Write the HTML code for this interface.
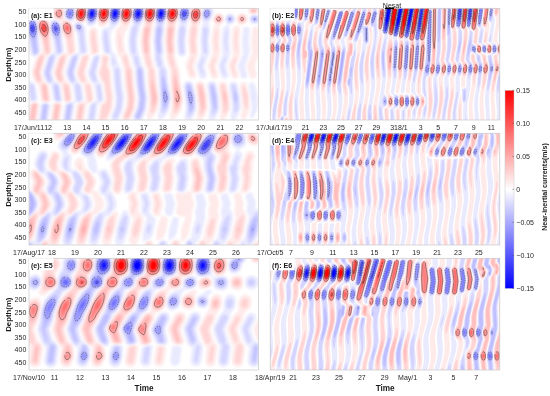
<!DOCTYPE html><html><head><meta charset="utf-8"><style>html,body{margin:0;padding:0;background:#fff;width:550px;height:396px;overflow:hidden}svg{display:block;filter:blur(0.35px)}text{font-family:"Liberation Sans", Arial, sans-serif}</style></head><body>
<svg width="550" height="396" viewBox="0 0 550 396">
<defs>
<linearGradient id="cb" x1="0" y1="0" x2="0" y2="1"><stop offset="0" stop-color="#ff0000"/><stop offset="0.5" stop-color="#ffffff"/><stop offset="1" stop-color="#0000ff"/></linearGradient>
<clipPath id="clipa"><rect x="29.00" y="8.30" width="229.60" height="111.70"/></clipPath>
<clipPath id="clipb"><rect x="270.20" y="8.30" width="229.60" height="111.70"/></clipPath>
<clipPath id="clipc"><rect x="29.00" y="133.30" width="229.60" height="111.70"/></clipPath>
<clipPath id="clipd"><rect x="270.20" y="133.30" width="229.60" height="111.70"/></clipPath>
<clipPath id="clipe"><rect x="29.00" y="258.30" width="229.60" height="111.70"/></clipPath>
<clipPath id="clipf"><rect x="270.20" y="258.30" width="229.60" height="111.70"/></clipPath>
<filter id="pb" x="-5%" y="-5%" width="110%" height="110%"><feGaussianBlur stdDeviation="0.80"/></filter>
<filter id="pbn" x="-5%" y="-5%" width="110%" height="110%"><feGaussianBlur stdDeviation="0.50"/></filter>
</defs>
<rect width="550" height="396" fill="#fff"/>
<g clip-path="url(#clipa)">
<g filter="url(#pb)"><path fill="#ffeaea" fill-rule="evenodd" d="M53.9,7.3 63.7,7.3 63.7,18.3 64.2,19.3 69,21.4 71.9,23.3 72.8,25.3 74.2,32.3 75.9,49.3 75.8,51.3 72,54.7 68.1,56.3 63.4,72.3 65.5,80.3 69,83.5 70.8,86.3 72.6,99.3 72.2,100.3 70.7,101.3 66,102.7 64,102.3 61.5,85.3 56,80.3 53.6,73.3 55.2,66.3 58.4,57.3 63,53.8 66,52.7 66.5,51.3 65.1,40.3 62.4,32.3 61.1,22.3 60.4,21.3 53,17.3 51.7,15.3 51.7,12.3ZM76.1,7.3 86.7,7.3 85.7,19.3 85,21.9 84,23.1 83,23.2 77,21.5 75.3,20.3 75,15.3ZM109.7,7.3 109,17 107.5,23.3 106.9,24.3 105,25.6 102,26.8 100,26.9 98.6,25.3 97.7,20.3 98.8,7.3ZM121.6,7.3 132.5,7.3 132,15.5 131,21.3 127,29.8 124.7,33.3 123.8,37.3 124,42.3 125.2,51.3 128,54.7 128.8,56.3 131.1,65.3 133,69.3 134.1,84.3 136,97.3 134.9,108.3 130.8,119.3 129.4,121.3 123.6,121.3 121.9,118.3 122.3,115.3 125.7,106.3 126.5,97.3 124.7,85.3 123.5,68.3 121.9,64.3 120,56.7 118,54.4 117,52.3 115.3,41.3 115.3,35.3 116,30.3 117,28.3 120,25.7 120.6,24.3 120.5,17.3ZM155.7,7.3 154.8,18.3 152.8,26.3 150.8,42.3 151.4,55.3 153.7,65.3 155.9,70.3 157.1,84.3 159,96.3 159.1,99.3 158.1,107.3 157,110.7 153,117.2 151,119.2 149,119.7 148,119.3 146.8,117.3 147,114.3 148.7,107.3 149.2,98.3 147.6,85.3 146.9,70.3 144.5,64.3 142.5,55.3 141.4,52.3 140.4,40.3 141.9,29.3 143.8,24.3 144,16.3 145,7.3ZM178.9,7.3 178.2,17.3 176,25.3 175.9,30.3 174.7,39.3 175.4,51.3 175,55.3 177.3,65.3 178.9,68.3 179.4,70.3 181,85.1 183.2,99.3 181.7,108.3 180.6,111.3 177.9,115.3 175,118.6 173,119.7 172,119.6 170.3,118.3 169.9,116.3 171.6,107.3 172.1,98.3 170.5,84.3 170,70.3 167.9,65.3 166.1,58.3 164.7,40.3 165.6,29.3 166.6,24.3 166.5,17.3 167.5,7.3ZM201.6,7.3 201.2,18.3 200.6,21.3 198.6,26.3 198.6,30.3 197.3,40.3 198,52.3 197,58.3 193.9,66.3 196.2,74.3 196.2,76.3 194.8,78.3 192,79 190,78.2 188.4,76.3 185.3,66.3 185.5,64.3 189.4,55.3 188,40.3 189,29.3 190.4,24.3 189.8,19.3 190.4,12.3 191.3,7.3ZM248,10.3 249.6,7.3 257.4,7.3 258.7,9.3 258.9,11.3 258.6,12.3 257,13.5 254,14.1 251,14.2 249,13.3 248.2,12.3ZM219,12.9 221,13.4 223,15 223.8,17.3 223.9,20.3 223,22.9 220.1,25.3 219.5,26.3 220.4,30.3 219.5,41.3 220.3,52.3 219,58.3 215.9,66.3 218.2,74.3 218.2,76.3 217,78.3 215,79 212.2,78.3 211,77.1 207.5,66.3 207.9,64.3 212.5,53.3 211.5,41.3 211.9,35.3 212.9,28.3 215.2,25.3 213.2,21.3 213.2,18.3 215,14.6 217,13.3ZM244,13.4 246,14.6 247.1,16.3 247.6,18.3 247.3,21.3 246,23.1 244,24.3 241,25 239,24.8 238,23.8 236.8,21.3 236.6,18.3 237,16.3 238,14.7 240,13.4 242,13ZM42,15.4 44,15.5 46,16.5 47.9,18.3 48.8,20.3 52.1,49.3 51.9,51.3 51.4,52.3 46,57.2 41.4,72.3 41.6,74.3 43.5,80.3 48.5,85.3 49.2,87.3 51,100.3 50.8,101.3 48.9,102.3 43,101.7 41.8,101.3 40.9,100.3 38.5,85.3 36,83.1 33.4,79.3 31.5,73.3 32.5,68.3 35.5,59.3 42.3,51.3 41.1,41.3 38.6,31.3 37.9,23.3 38.2,19.3 38.9,17.3 40,16.1ZM238,25.7 239.7,27.3 240.4,29.3 239.6,41.3 240.4,52.3 239.2,58.3 236.1,66.3 238.4,74.3 238.5,76.3 237.4,78.3 235,79 233,78.5 231.7,77.3 228.3,66.3 228.7,64.3 232.7,54.3 231.6,41.3 232.7,29.3 234,26.8 236,25.8ZM256,26.6 258,27.4 258.8,28.3 259.4,30.3 258.4,41.3 259.4,51.3 259,53.3 257.9,55.3 257.7,58.3 254.6,66.3 256.6,73.3 256.6,76.3 255,78.3 253,78.8 251,78.2 250,77.2 246.8,66.3 247.2,64.3 252,53.3 251.2,41.3 252.2,29.3 253.3,27.3ZM94,27.3 96,27.8 97.3,29.3 99.6,51.3 99.2,52.3 97.7,53.3 94,54.7 92,54.9 90.5,54.3 88.9,40.3 88.8,33.3 89.8,29.3 92,27.7ZM89,54.1 89.6,54.3 90,55.2 89.9,57.3 86,70.3 85.6,73.3 88,81.1 90.6,83.3 92.1,85.3 94.1,99.3 93.6,100.3 91,102.5 86.7,104.3 84,121.3 74.9,121.3 74.7,118.3 76.6,105.3 77.3,104.3 78.9,103.3 85,101.5 85.5,100.3 83.5,85.3 78.6,80.3 76.5,74.3 76.5,71.3 81.5,56.3 86,54.2ZM102,53.6 108,55.2 109.2,56.3 108.7,65.3 110.7,70.3 111.8,85.3 113.6,97.3 112.5,108.3 108.2,119.3 106.6,121.3 98.1,121.3 97.9,119.3 100,105.3 104.6,101.3 105.2,99.3 103.4,85.3 102.6,83.3 100.4,80.3 98.2,73.3 100.6,63.3 101,55ZM200,81.1 203.3,82.3 204.6,84.3 207,96.3 207.8,107.3 207,111.1 203.6,118.3 202,120.1 200,120.8 199,120.7 197.1,119.3 196.4,117.3 198.1,107.3 195.4,85.3 195.9,83.3 197,82ZM222,81.5 225.5,82.3 226.9,84.3 229.3,96.3 230.2,107.3 229.7,110.3 226.5,117.3 225,119.4 223,120.3 221,119.7 220,118.6 219.6,117.3 221.2,107.3 218.6,86.3 219.1,83.3 220,82.3ZM243,82 245.1,82.3 246,82.9 246.7,84.3 249.2,96.3 249.9,107.3 249,111.2 246,118.1 244,119.7 242,119.2 240.9,117.3 242.5,107.3 239.8,86.3 240.5,83.3ZM38.5,102.3 39.1,103.3 39.2,105.3 37.1,121.3 28,121.3 28,111.1 29.4,104.3 30.5,103.3 34,102.2 37,101.9ZM54,102.7 60,103 61.2,103.3 62.4,104.3 60.2,121.3 50.8,121.3 50.6,118.3 52.5,104.3 52.9,103.3Z"/><path fill="#ffd4d4" fill-rule="evenodd" d="M57,7.3 61.7,7.3 63,9.6 63.3,12.3 62.9,16.3 62,19 61,19.6 59,19.5 56.2,18.3 54.9,17.3 53.7,15.3 53.5,13.3 54,11.3 55.1,9.3ZM77.1,7.3 86,7.3 86.3,11.3 85.6,17.3 84.7,20.3 83,22 81,22 78,21.1 76.5,20.3 75.9,19.3 75.4,17.3 75.6,13.3ZM109,7.3 109,14.3 107.7,20.3 106.5,22.3 105,23.7 103,24.4 101,23.9 99,21.4 98.2,18.3 98.4,12.3 99.7,7.3ZM131.7,7.3 131.9,13.3 130.8,19.3 128,23.5 126,25 125,25.1 123,23.7 121.6,21.3 121.1,19.3 121.1,13.3 122.4,7.3ZM145.8,7.3 155,7.3 155.2,9.3 155,14.6 154.1,19.3 150.5,25.3 150.7,30.3 148.9,40.3 149.7,51.3 148.9,55.3 151.2,63.3 151,67.3 153,68.7 153.7,70.3 155.4,84.3 157.9,98.3 156,108.3 154,111.4 152,113 151,113 150.5,111.3 150.7,98.3 149.4,85.3 149.1,71.3 149.7,68.3 147.1,65.3 145.3,58.3 145.1,55.3 143.3,52.3 142.3,42.3 143.3,29.3 146.2,24.3 144.7,20.3 144.3,17.3 144.8,11.3ZM168.3,7.3 177.9,7.3 178.4,10.3 177.4,18.3 176,21.2 173.7,24.3 173.5,25.3 174.4,29.3 172.9,40.3 173.7,51.3 172.3,55.3 174.6,64.3 174.2,67.3 176,68.5 177,70.4 179,84.3 181.8,98.3 180.7,104.3 179.2,109.3 177,112.2 175,113.7 173.6,113.3 173.2,111.3 173.3,98.3 172.1,81.3 172.3,71.3 172.9,68.3 172.4,67.3 171,66.5 170.3,65.3 168.4,57.3 168.7,55.3 167.2,51.3 166.4,42.3 167,29.3 168.8,24.3 167.2,20.3 166.9,17.3 167.3,11.3ZM199.9,7.3 201,11.3 200.5,18.3 199,21.6 194.9,25.3 196.5,29.3 195,40.3 195.7,51.3 195,53.5 194,54.2 193,54.2 191.9,53.3 191.1,51.3 190.3,40.3 190.9,29.3 192,27.1 194,25.3 191.4,21.3 190.7,19.3 190.7,13.3 191.3,10.3 192.7,7.3ZM249.8,10.3 251.2,8.3 254,7.5 255,7.8 256.8,9.3 257.2,11.3 256.6,12.3 255,13.2 252,13.3 250.3,12.3ZM217,14.9 220,14.8 222,16.3 222.6,17.3 222.9,19.3 222.3,21.3 220,23.2 217,23.2 215.6,22.3 214.4,20.3 214.7,17.3ZM240,15.3 243,14.9 245,16 245.8,17.3 246,20.3 244,22.7 241,23.1 238.5,21.3 237.9,18.3 238.8,16.3ZM42,17.9 45,18.5 47,20.2 48.2,22.3 49.1,26.3 49.5,31.3 49.1,40.3 50.3,51.3 49.3,53.3 47,54.6 45.8,54.3 44.9,53.3 42.6,40.3 39.7,33.3 38.8,29.3 38.4,24.3 38.8,21.3 40,19ZM64,21 67,21.3 69.2,22.3 71.3,24.3 72.4,27.3 72.8,30.3 72.5,39.3 73.9,51.3 73,52.8 71,53.9 70,53.7 69,52.3 67,39.3 63.6,33.3 62.6,30.3 62.1,26.3 62.3,23.3 63,21.6ZM93,30 94,30.7 95,34.2 97.1,50.3 96.7,52.3 95,53.4 93.7,53.3 92.8,52.3 91.3,41.3 91.3,33.3 92,30.6ZM216,29.9 217,30 217.3,31.3 216.4,41.3 217.2,51.3 217,52 216,52.1 214.7,41.3 215,35.7ZM236,29.9 237,30 237.3,31.3 236.4,41.3 237.2,51.3 237,52 236,52.1 234.7,41.3 235,35.7ZM119,31.6 120,34.8 121.7,51.3 121,52.4 120,51.3 118.8,42.3 118.5,36.3ZM42,54.3 43.9,55.3 44.3,57.3 39.9,72.3 41.8,80.3 41,82.2 39,82.8 37,81.9 36,80.3 33.8,74.3 33.7,72.3 38,58.3 40,55.1ZM64,54.7 65.2,55.3 65.8,57.3 61.4,72.3 63.3,80.3 62.2,82.3 61,82.7 59,81.8 57.6,80.3 55.4,74.3 55.2,72.3 59.5,58.3 62,55.3ZM86.1,55.3 87.7,56.3 87.7,58.3 83.4,72.3 85.3,80.3 84,82.2 83,82.4 81,81.3 80.4,80.3 78.2,74.3 78,72.3 82.7,57.3 84,56ZM107,56.2 108,57 108.1,58.3 105.8,66.3 106,67.3 108,68.9 108.6,70.3 109.6,84.3 111.5,99.3 110.5,108.3 109,112.1 106,118.2 102,120.8 100.9,120.3 100.3,118.3 101.9,106.3 103,104.2 106,103.3 106.9,98.3 104.9,83.3 102,78.6 100.5,74.3 100.3,72.3 103,63.3 102.9,57.3ZM125,55.4 126.3,56.3 128.2,63.3 128.3,66.3 130.7,68.3 131.5,70.3 132.4,84.3 134.4,98.3 133.1,109.3 129.1,118.3 127,119.8 125,119.4 123.7,117.3 124,115.3 127.4,107.3 128.4,98.3 126.6,85.3 125.6,70.3 126.4,67.3 124.9,65.3 123,57.3 124,55.5ZM193,56.7 193.9,57.3 190.7,66.3 193,74.3 192,75.3 191,73.8 188.7,66.3 190,62.2 192,57.9ZM215,56.8 216,57.2 215.9,58.3 213.3,64.3 212.8,66.3 215.1,74.3 215,74.9 214,75.3 213,73.5 210.8,66.3 211,64.9 213,60.2ZM236,56.7 236.3,58.3 233.3,66.3 235.5,74.3 235,75.4 233.8,74.3 231.3,66.3 232,63.6 235,57.2ZM43,83 45,83.3 46,84.1 47.3,86.3 49.1,100.3 48,101.4 44.3,101.3 43,100.3 42.6,99.3 40.8,86.3 41.3,84.3ZM66,83.2 68,84.2 69,86.3 70.7,98.3 70.3,100.3 68.7,101.3 67,101.6 65.8,101.3 65.2,100.3 63.2,86.3 64,83.9ZM200,83.2 202,84.1 203.1,86.3 205.4,96.3 205.9,108.3 205,110.8 203,113.9 201,115.7 200,115.3 199.5,113.3 199.8,107.3 197.1,86.3 198,84.1ZM88,83.9 89.1,84.3 90.3,86.3 92.1,98.3 91.8,100.3 90,101.7 89,101.7 87.8,100.3 85.9,87.3 86,85.3 87,84.2ZM223,83.9 224,84.3 224.9,85.3 227.9,96.3 228.4,107.3 228,109.3 226,112.5 224,113.9 223,112.3 223,107.3 220.6,87.3 221,85 222,84.1ZM244,85.7 245,87 246,89.7 248,97.3 247.7,106.3 247,108.6 246,109.2 244,102.9 242.8,95.3 242.5,87.3 243,85.8ZM36,102.8 37.1,103.3 37.8,105.3 35.2,121.3 29.8,121.3 29.2,118.3 31,105.3 31.4,104.3 32.7,103.3ZM59,103.6 60.3,104.3 60.6,106.3 58.4,120.3 58,121.3 53,121.3 52.4,118.3 54.5,104.3 56,103.3ZM83,103.1 84,104.1 84.3,105.3 82.3,119.3 81.5,121.3 77.4,121.3 76.5,118.3 78.5,105.3 79.2,104.3 80.9,103.3Z"/><path fill="#ffbfbf" fill-rule="evenodd" d="M59,8.3 60,8.3 61.6,9.3 62.6,12.3 62,16.5 61,18 60,18.5 58,18.3 56.3,17.3 55.4,16.3 54.7,14.3 54.9,12.3 55.9,10.3 57,9.1ZM78,7.3 85.3,7.3 85.9,10.3 85.7,15.3 84.5,19.3 83,21 81,21.3 79,20.9 77,19.7 76.2,18.3 75.8,15.3 76.1,12.3ZM108.2,7.3 108.9,12.3 107.9,18.3 107,20.2 105,22.1 103,22.7 102,22.6 100,21.1 98.8,18.3 98.6,13.3 99.5,9.3 100.5,7.3ZM130.8,7.3 131.7,12.3 130.6,18.3 128,21.8 126,22.8 124,22.4 122,20.2 121.3,17.3 121.7,11.3 123,7.5ZM154.2,7.3 154.9,12.3 153.9,18.3 153,20.2 151,22.2 149,22.9 148,22.7 146,21 144.9,18.3 144.8,13.3 145.7,9.3 146.6,7.3ZM177,7.3 177.7,9.3 178,12.3 176.8,18.3 175,21 173,22.5 171,23 170,22.6 168,20.3 167.2,17.3 167.5,12.3 169.1,7.3ZM198.2,7.3 200.2,10.3 200.3,16.3 199.4,19.3 198,21.2 197,22 195,22.6 193,21.6 191.4,19.3 190.9,16.3 191.3,12.3 192,10.1 194,7.5ZM251,10.3 252,9 254,8.7 255.3,9.3 256,10.3 256,11.3 255,12.3 253,12.7 251.8,12.3 251,11.3ZM217,16 219,15.6 220.6,16.3 221.5,17.3 221.9,18.3 221.7,20.3 220,22.1 218,22.4 217,22 215.5,20.3 215.3,18.3ZM240,16.6 242,15.9 243.5,16.3 244.6,17.3 245.1,19.3 244,21.4 242,22.1 239.9,21.3 238.9,19.3 239,18.2ZM42,19.4 44,19.5 46.5,21.3 48,24.1 48.8,27.3 48.8,32.3 47.2,41.3 48.2,51.3 48,52 47,52.2 44.5,40.3 40.5,33.3 39.2,29.3 38.9,25.3 39.4,22.3 40.5,20.3ZM65,22 67,22 69,23 70.3,24.3 71.3,26.3 71.8,28.3 71.8,31.3 70,37.8 69,37.9 65,33.8 63.2,30.3 62.8,27.3 63,24.4 64,22.5ZM147,27.2 148,27.3 148.9,28.3 149.1,30.3 147.3,40.3 148,51.3 147,53.2 146,53.2 144.8,51.3 143.9,40.3 144.7,29.3 146,27.6ZM171,26.7 172,27.2 172.7,28.3 173,30.3 171.3,40.3 172,51.3 171,53.2 170,53.2 168.8,51.3 168,42.3 168.2,30.3 169,27.8 170,26.9ZM41,56.8 42,57.1 42,58.3 37.8,72.3 39.5,79.3 39,80.4 38,79.7 36,74.3 35.8,72.3 39,61.4ZM63,56.8 63.5,57.3 63.4,58.3 59.3,72.3 59.4,74.3 61.1,79.3 61,79.9 60,80.3 58,75.9 57.4,72.3 62,57.4ZM129,69.9 132.3,99.3 131,109.2 127,117.3 125.9,116.3 129.6,107.3 130.5,99.3 128,77.3 127.8,70.3ZM175,75.2 176,77.2 180.7,97.3 180.4,100.3 179,105.2 177.3,108.3 176,108.8 174.7,104.3 173.7,88.3 174,78.6ZM152,78.7 153,81.4 156.6,97.3 156,101.5 154,106.5 153,106.3 152.2,101.3 151.2,85.3ZM44,84.8 45,85.2 45.6,86.3 47.4,99.3 47.1,100.3 46,100.6 44.9,100.3 44.3,99.3 42.7,88.3 42.9,85.3ZM66,85.7 67,86.7 68.6,98.3 68.6,99.3 68,99.9 67,99.3 65.3,87.3ZM200,85.6 201,86.2 202,88.8 204.1,97.3 204.2,107.3 203,109.5 202,109.1 199.9,97.3 199.1,87.3ZM224,90.9 225,92.7 226.3,97.3 226,104.4 225,104.6 223.2,96.3 223.2,92.3ZM35,103.8 36,104.4 36.2,106.3 34.5,118.3 33.6,120.3 33,120.8 32,120.8 31,119.7 30.7,118.3 32.4,106.3 33.2,104.3ZM58,104.3 58.9,105.3 57.2,118.3 56,120.3 55,120.3 54,118.3 56,105.1 56.9,104.3ZM82,105.2 82,107.7 80,119.1 79,119.3 78.7,117.3 80,107.9 80.7,105.3Z"/><path fill="#ffaaaa" fill-rule="evenodd" d="M79,7.3 84.4,7.3 85.4,9.3 85.6,13.3 85,17 84,19.2 82,20.6 80,20.6 78,19.7 76.4,17.3 76.2,14.3 76.7,11.3ZM107.4,7.3 108.6,11.3 107.9,17.3 107,19.1 105,21.1 103,21.6 102,21.4 100,19.7 99,17.3 99,13.3 99.6,10.3 101.4,7.3ZM130,7.3 131,9.3 131.3,11.3 130.5,17.3 129.5,19.3 128,20.8 125,21.6 123,20.3 121.9,18.3 121.6,14.3 122.3,10.3 124,7.3ZM153.4,7.3 154.6,11.3 153.9,17.3 153,19.1 151,21.1 149,21.6 148,21.4 146,19.6 145.1,17.3 145,14.3 145.7,10.3 147.5,7.3ZM176,7.3 177.1,9.3 177.5,11.3 177.5,14.3 176.7,17.3 175.5,19.3 174,20.8 172,21.6 170,21.2 168.2,19.3 167.6,17.3 167.6,13.3 168.6,9.3 169.9,7.3ZM196,7.9 198,8.5 199,9.4 199.8,11.3 200.1,14.3 199.5,17.3 198.6,19.3 197,21 195,21.5 193,20.4 192,18.9 191.4,14.3 192,11.4 193,9.6 194,8.7ZM59,9.5 61.1,10.3 62,13.3 61,16.5 59,17.5 56.6,16.3 55.7,14.3 56.4,11.3 58,9.8ZM252.4,10.3 254,9.9 254.6,10.3 254.5,11.3 253,11.6 252.4,11.3ZM217,17.1 219,16.6 220.4,17.3 221.1,19.3 220,21 218,21.4 216.5,20.3 216.2,18.3ZM241,17.1 243,17.1 244,18.3 244,19.6 243,20.9 242,21.1 240.3,20.3 240,18.3ZM42,20.6 44,20.6 46,22 48.1,26.3 48.5,29.3 48.2,32.3 47,35.9 46,37.2 45,37.3 43,35.6 41,32.9 39.9,30.3 39.5,24.3 40.1,22.3ZM66,22.7 68,23.1 69,23.9 70.9,27.3 70.9,31.3 70,33.6 69,34.5 68,34.6 66,33.4 64.3,31.3 63.5,29.3 63.3,26.3 63.8,24.3 65,23ZM170.4,30.3 171,30 171,30.6ZM176,87.3 177,88.5 178,91 179.7,97.3 179,101.2 178,103.4 177,104.2 176,102.8 175.3,97.3 175.2,90.3ZM154,96.4 154.3,97.3 154,98.4Z"/><path fill="#ff9595" fill-rule="evenodd" d="M80.2,7.3 83.3,7.3 84.9,9.3 85.4,11.3 85.3,14.3 84.5,17.3 83,19.4 81,20.1 78,19 76.9,17.3 76.6,15.3 76.8,12.3 77.5,10.3ZM106.4,7.3 108.2,10.3 108.3,13.3 107.8,16.3 107,18.3 105,20.3 103,20.7 102,20.5 100.5,19.3 99.5,17.3 99.2,14.3 99.7,11.3 101,8.7 102.5,7.3ZM128.9,7.3 130.4,9.3 131,11.3 130.5,16.3 129.6,18.3 128,20 126,20.7 125,20.7 123,19.3 122.1,17.3 121.9,14.3 122.3,11.3 123.2,9.3 125,7.3ZM152.4,7.3 154.2,10.3 154.3,13.3 153.8,16.3 153,18.3 151,20.3 149,20.7 148,20.5 146.5,19.3 145.6,17.3 145.3,14.3 145.8,11.3 147,8.8 148.6,7.3ZM174.9,7.3 176.5,9.3 177.1,11.3 176.6,16.3 175.6,18.3 174,19.9 171,20.7 169,19.4 168,17.3 167.8,14.3 168.3,11.3 169.1,9.3 170.9,7.3ZM196,8.8 197.7,9.3 198.8,10.3 199.5,12.3 199.6,14.3 199,17.3 198,19.1 197,20.1 195,20.6 194,20.2 192.4,18.3 191.8,14.3 193,10.6 194,9.5ZM59,10.8 60.4,11.3 61.1,13.3 60.6,15.3 59,16.4 57.1,15.3 56.7,13.3 57.8,11.3ZM217.1,19.3 217.3,18.3 218,17.7 219,17.6 219.9,18.3 220.1,19.3 219,20.4 218,20.4ZM242,18.2 242.6,19.3 242,19.7 241.4,19.3ZM43,21.4 45,22.1 46,23.1 47.2,25.3 47.9,28.3 47.8,31.3 47,33.7 46,35.1 45,35.5 44,35.1 42,33.2 40.8,31.3 39.9,28.3 39.9,25.3 40.5,23.3 42,21.6ZM66,23.5 68.4,24.3 70.3,27.3 70.5,29.3 70.1,31.3 69,32.8 68,33.1 67,32.9 65.1,31.3 64,28.7 64.2,25.3 65,24.1ZM177,95.1 178,96 178.3,97.3 178,99.4 177,99.4 176.7,98.3Z"/><path fill="#ff8080" fill-rule="evenodd" d="M82,7.6 84,8.8 84.8,10.3 85,14.4 84.1,17.3 83,18.8 82,19.4 80,19.5 78,18.3 77.4,17.3 77,13.3 77.5,11.3 78.7,9.3 80,8.2ZM105,7.5 107,8.8 107.8,10.3 108,14.3 107.1,17.3 106,18.8 105,19.6 103,20 101,19 100,17.5 99.6,13.3 100.1,11.3 101.2,9.3 103,7.8ZM127,7.4 129,8.3 130,9.5 130.6,11.3 130.6,14.3 129,18.3 127,19.8 125,19.9 123.8,19.3 122.5,17.3 122.2,13.3 123,10.5 124,8.9 126,7.5ZM151,7.5 153,8.8 153.8,10.3 154,14.3 153.1,17.3 152,18.8 151,19.6 149,20 147,19 146,17.3 145.7,13.3 147.2,9.3 149,7.8ZM174,7.6 176,9.4 176.7,11.3 176.8,14.3 176.2,16.3 175,18.3 173,19.8 171,20 169.7,19.3 168.4,17.3 168.2,13.3 169,10.3 170,8.9 172,7.5ZM196,9.5 197.9,10.3 198.6,11.3 199.2,14.3 197.9,18.3 197,19.3 195,19.8 193,18.3 192.3,16.3 192.2,14.3 193.2,11.3 194,10.3ZM58.3,14.3 58.1,13.3 59,12.4 59.9,13.3 59.6,14.3 59,14.7ZM43,22.3 45.2,23.3 46.6,25.3 47.3,27.3 47.5,29.3 47,32 46,33.7 45,34.2 44,34 42,32.2 40.4,28.3 40.7,24.3 42,22.6ZM66,24.4 68,24.8 69.6,27.3 69.6,30.3 69,31.4 68,31.9 66,31.2 64.8,29.3 64.6,26.3Z"/><path fill="#ff6a6a" fill-rule="evenodd" d="M105,8.2 106,8.6 107.4,10.3 107.7,14.3 107,16.6 106,18.2 105,19 103,19.4 102,19.1 100.4,17.3 99.9,13.3 100.4,11.3 101.8,9.3 103,8.5ZM127,8.1 129,9 129.9,10.3 130.3,14.3 129.2,17.3 128,18.6 126,19.4 124,18.8 122.9,17.3 122.5,13.3 124,9.6 125,8.7ZM152,8.6 153.4,10.3 153.7,14.3 153,16.6 152,18.2 151,19 149,19.4 148,19.1 146.5,17.3 146,13.3 146.5,11.3 148,9.1 150,8.2ZM173,8.1 175,9 176,10.3 176.4,14.3 175.8,16.3 174.3,18.3 173,19.2 171,19.3 170,18.8 168.9,17.3 168.5,13.3 169,11.1 170,9.5 171,8.7ZM82,8.4 83,8.7 84.4,10.3 84.7,14.3 84,16.7 83,18.1 82,18.8 80,18.9 77.9,17.3 77.3,15.3 77.3,13.3 77.9,11.3 79,9.6 80,8.8ZM196,10.2 198,11.3 198.7,13.3 198.6,15.3 198,17.3 197,18.5 195,19.1 194,18.6 193,17.3 192.6,14.3 193.8,11.3ZM43,23.2 45,24 46.8,27.3 46.9,30.3 46,32.4 45,33.1 44,33 42.1,31.3 40.9,28.3 41,25.3 42,23.6ZM66,25.6 67,25.3 68,25.9 68.9,27.3 69.1,29.3 68,30.8 67,30.8 65.5,29.3 65.2,27.3Z"/><path fill="#ff5555" fill-rule="evenodd" d="M82,8.9 84,10.4 84.4,14.3 83,17.5 82,18.2 80,18.4 79,17.8 78,16.4 77.7,13.3 79,10.2 80,9.4ZM104,8.7 106,9.2 106.9,10.3 107.5,13.3 107,15.8 106,17.5 105,18.4 103,18.8 100.9,17.3 100.2,15.3 100.2,13.3 101.4,10.3ZM127,8.7 128,8.9 129.5,10.3 130.1,13.3 129,16.9 128,18 126,18.9 124.3,18.3 123.4,17.3 122.8,15.3 122.8,13.3 124,10.2 125,9.3ZM151,8.8 153,10.4 153.4,14.3 152,17.5 151,18.4 149,18.8 146.9,17.3 146.3,15.3 146.3,13.3 146.9,11.3 148,9.7 149,9ZM173,8.7 174,8.9 175.5,10.3 176.1,12.3 176.1,14.3 175.4,16.3 174,18 173,18.6 171,18.7 170,18.1 168.9,16.3 168.9,12.3 169.9,10.3 170.9,9.3ZM196,10.9 197,11.2 197.9,12.3 198.2,15.3 197,17.8 195,18.4 193.7,17.3 193.1,14.3 194,11.9ZM43,24.1 45,24.9 46.3,27.3 46.3,30.3 45,32 43,31.5 41.6,29.3 41.4,26.3 42,24.8ZM67,26.6 67.9,27.3 68.2,28.3 68,29.2 67,29.5 66.1,28.3 66.2,27.3Z"/><path fill="#ff4040" fill-rule="evenodd" d="M105,9.3 106,9.8 106.9,11.3 107.1,14.3 105.6,17.3 104,18.3 103,18.3 101,16.6 100.6,13.3 102,10.2 103,9.5ZM127,9.2 129,10.3 129.8,13.3 129,16.3 128,17.5 126,18.3 123.9,17.3 123.1,15.3 123.1,13.3 124.5,10.3ZM151,9.3 152,9.8 152.9,11.3 153.1,14.3 151.6,17.3 150,18.3 149,18.3 148,17.8 146.9,16.3 146.6,14.3 146.9,12.3 148,10.3 149,9.5ZM173,9.2 174.9,10.3 175.5,11.3 175.7,14.3 174,17.5 173,18.1 171,18.2 169.3,16.3 169,13.3 170.4,10.3 172,9.3ZM82,9.5 83,9.9 84,11.3 84,14.8 83,16.9 82,17.7 80,17.8 78.4,16.3 78.1,13.3 79.6,10.3ZM196,11.6 197,12.1 197.6,13.3 197.7,15.3 196.5,17.3 195,17.7 193.8,16.3 193.6,14.3 194.5,12.3ZM43,25.2 44.2,25.3 45.7,27.3 45.9,29.3 45,31 44,31.1 42.3,29.3 42,26.7Z"/><path fill="#ff2b2b" fill-rule="evenodd" d="M82,10 83.5,11.3 83.8,14.3 83,16.2 82,17.2 80,17.3 78.5,15.3 78.7,12.3 80,10.5ZM104,9.7 105.8,10.3 106.5,11.3 106.8,14.3 106,16.3 105,17.3 103,17.7 101.3,16.3 100.9,13.3 102,10.8ZM127,9.7 128,10 129,11.2 129.3,14.3 128,16.9 126,17.8 125,17.6 124,16.6 123.5,13.3 124,11.6 125,10.3ZM150,9.7 151.8,10.3 152.5,11.3 152.8,14.3 152,16.3 151,17.3 149,17.7 147.4,16.3 147,13.3 148,10.9ZM173,9.7 174,10.1 175.1,11.3 175.3,14.3 174,16.9 172,17.8 170,16.7 169.4,15.3 169.4,13.3 170,11.4 171,10.3ZM196,12.5 197,13.3 197.1,15.3 196,16.8 195,16.8 194.1,15.3 194.1,14.3 195,12.7ZM43,26.7 44,26.3 45,27.4 45.1,29.3 44,30.1 43,29.3Z"/><path fill="#ff1515" fill-rule="evenodd" d="M104,10.2 105,10.3 106.1,11.3 106.4,14.3 105,16.8 103,17.2 102,16.5 101.4,15.3 101.3,13.3 102.2,11.3ZM127,10.2 128.6,11.3 129,14.3 128,16.3 126,17.3 125,17 124,15.7 123.8,13.3 125,10.9ZM150,10.2 151,10.3 152.1,11.3 152.4,14.3 151,16.8 149,17.2 148,16.5 147.4,15.3 147.3,13.3 148.2,11.3ZM173,10.2 174.5,11.3 175,12.3 175,14.3 174,16.3 172,17.3 171,17 170,15.9 169.7,13.3 171,10.8ZM82,10.6 83,11.3 83.4,12.3 83.4,14.3 82.3,16.3 81,16.9 80,16.7 79,15.4 78.8,13.3 80,11.1ZM196,13.8 196,15.5 195,15.3 195,14.2Z"/><path fill="#ff0000" fill-rule="evenodd" d="M82,11.2 83,12.3 83,14.3 82,15.9 81,16.3 79.5,15.3 79.3,13.3 80,11.8 81,11.2ZM104,10.7 105.4,11.3 106.2,13.3 105.6,15.3 104,16.7 102.6,16.3 101.6,14.3 102,12.3 103,11.1ZM126,10.8 127,10.8 128,11.3 128.7,13.3 128,15.6 127,16.5 126,16.7 125,16.3 124.1,14.3 124.5,12.3ZM150,10.7 151.4,11.3 152.2,13.3 151.6,15.3 150,16.7 148.6,16.3 147.7,14.3 148,12.3 149,11.1ZM172,10.8 174,11.3 174.7,13.3 174,15.6 172,16.7 170.9,16.3 170,14.3 170.4,12.3Z"/><path fill="#eaeaff" fill-rule="evenodd" d="M65.3,7.3 75,7.3 74.2,18.3 73.8,20.3 73,21.5 69,20.6 66.1,19.3 65,18.3 64.4,15.3ZM97.9,7.3 97.3,17.3 95.7,23.3 94.9,24.3 93,25.5 90,26.4 87.7,26.3 86.6,24.3 86.3,20.3 87.4,7.3ZM110.4,7.3 120.9,7.3 120.3,16.3 119,22.5 117.2,25.3 111.4,31.3 110.6,35.3 110.9,41.3 112.2,51.3 112.6,52.3 115,54.1 115.8,55.3 118.8,65.3 120.5,67.3 121.4,69.3 122.6,85.3 124.4,97.3 123,109.3 119,119.3 117.3,121.3 112.8,121.3 111.7,120.3 110.8,118.3 111.3,115.3 114.5,107.3 115.5,98.3 113.6,85.3 112.5,69.3 110.5,64.3 110.4,56.3 110,55.3 109,54.5 104.7,53.3 102.9,51.3 101.3,40.3 101.4,33.3 102.4,29.3 105,27.5 108,27 109.3,26.3 109.3,17.3ZM133.3,7.3 144.2,7.3 143.2,19.3 140,28.3 137.8,37.3 137.4,42.3 138.5,53.3 140,56.3 142,64.5 144.6,69.3 145.8,85.3 147.6,98.3 146.5,109.3 142.5,119.3 141.1,121.3 134.3,121.3 133,118.3 133.4,115.3 136.9,106.3 137.6,97.3 135.7,84.3 134.6,68.3 133.1,64.3 131.1,56.3 128.8,51.3 127.9,41.3 129.7,29.3 132.1,24.3 132.3,16.3ZM166.8,7.3 166.2,16.3 164.3,25.3 164.2,30.3 163,40.3 163.8,52.3 162.8,56.3 164.8,65.3 166.7,68.3 167.3,70.3 168.7,84.3 170.8,96.3 170.9,99.3 169.4,108.3 168,111.8 166,115.1 163,118.6 161,119.7 160,119.6 159,119.1 157.9,117.3 158.1,114.3 159.8,107.3 160.2,98.3 158.7,84.3 158.1,70.3 155.6,65.3 153.9,58.3 154,53.3 153,40.3 154.1,29.3 155.3,24.3 155.3,17.3 156.4,7.3ZM190,7.3 189.6,15.3 189,19.1 187.1,25.3 187,30.3 185.7,40.3 186.3,53.3 185.2,55.3 184,56.2 181,56.6 179,55.5 177.7,53.3 176.6,41.3 177.6,29.3 179,24.3 178.7,17.3 179.9,7.3ZM212.2,7.3 213.5,10.3 213.5,13.3 211,19.6 208.8,23.3 208.7,24.3 210.1,29.3 209,41.3 209.8,52.3 204.7,66.3 207,75.3 206,77.8 205,78.6 203,79 201,78.5 199.6,77.3 196.2,66.3 196.6,64.3 201.1,53.3 200.1,40.3 201,29.2 202.9,23.3 202,17.8 202.2,12.3 203.3,7.3ZM231,13.5 233,14.4 234.6,16.3 235,20.3 234.2,22.3 233,23.5 228.5,25.3 230.3,29.3 229.5,41.3 230.3,52.3 229.2,58.3 226.2,66.3 228.5,74.3 228.5,76.3 227.2,78.3 225,79 223,78.6 221.4,77.3 218.1,66.3 218.5,64.3 222.6,54.3 221.6,41.3 222.7,29.3 224,26.8 227.4,25.3 225.4,21.3 225.3,17.3 226,15.4 227,14.4 229,13.5ZM250.1,16.3 251.8,15.3 254,14.9 257,14.8 258.4,15.3 260,17.2 259.8,21.3 257,23.8 254,24.2 252,23.8 250.2,22.3 249.5,20.3 249.4,18.3ZM32,15.5 34,15.7 35,16.4 36.7,19.3 40.4,50.3 39.8,52.3 38,54.8 36,56.5 34,57 32,56 30.3,53.3 28,40 28,17.4 30,16.1ZM53,19.3 58,21 60.3,23.3 64.1,49.3 64,51.3 63.4,52.3 61,54.3 57,56.5 52.1,72.3 52.3,74.3 54.8,81.3 59.2,84.3 60.4,86.3 62.2,100.3 62,101.3 60,102.1 55,101.5 53.3,100.3 50.8,85.3 48,83.4 45.1,80.3 42.7,73.3 44,67.5 47.5,57.3 51,53.9 53.8,52.3 54.3,51.3 53,41.3 50.8,32.3 50.2,26.3 50.6,21.3 52,19.5ZM78,22.4 80,22.9 82.5,24.3 84.6,26.3 85.7,28.3 86.5,40.3 87.8,50.3 87.4,52.3 85.9,53.3 79.9,55.3 74.9,72.3 75.1,74.3 77.4,81.3 80.8,84.3 81.9,86.3 83.7,99.3 83.4,100.3 81.9,101.3 79,102.4 77,102.8 75,102.4 72.3,121.3 62.9,121.3 62.7,118.3 64.6,105.3 65.2,104.3 67,103.3 71,102 74,102.1 74.7,101.3 72.6,85.3 67.7,80.3 65.8,75.3 65.3,72.3 67.5,64.3 70.1,57.3 74,54.2 78.5,52.3 78.6,50.3 76.9,34.3 74.8,29.3 74,25.3 74.2,23.3 75,22.6ZM247,26.5 249,27.4 249.8,29.3 249,41.3 249.8,51.3 247.9,58.3 244.9,66.3 247.2,74.3 247.3,76.3 246,78.2 244,78.8 242,78.2 241,77.1 237.9,66.3 242.9,53.3 242,41.3 243,29.3 244.3,27.3ZM99,54.3 99.9,56.3 99.6,60.3 96.6,73.3 98.9,81.3 101,83.5 102,85.3 103.9,99.3 103,101.3 98,104.7 95.5,121.3 87.3,121.3 87,118.3 88.8,106.3 90.2,104.3 95.9,100.3 96.1,99.3 94.2,85.3 90,80.3 87.8,74.3 87.7,72.3 92.3,57.3 95.1,55.3ZM188,80.8 190,81.1 192,82.2 193.3,84.3 195.8,96.3 196.5,106.3 196,110.2 193,117.4 191,120.3 189.2,121.3 187.8,121.3 186,120.3 185,119.2 184.4,117.3 185.8,107.3 183.4,86.3 183.6,84.3 184.8,82.3 186,81.4ZM212,81.1 215,82.1 216.5,84.3 218.8,96.3 219.6,107.3 219,110.5 215.6,118.3 214,120.1 212,120.8 211,120.7 209.1,119.3 208.3,117.3 209.9,107.3 207.2,86.3 207.3,84.3 208.6,82.3 210,81.4ZM30,81.6 32,81.5 33,82 35.1,84.3 36.1,86.3 37.9,99.3 37.4,100.3 35,101.3 31,101.8 29.3,101.3 28.7,100.3 28,96.7 28,82.6ZM233,81.5 236,82.2 237.5,84.3 239.9,96.3 240.7,106.3 240.5,109.3 238,115.5 236,119.1 234,120.3 232,119.9 231.2,119.3 230.3,117.3 232,107.3 229.2,86.3 230,83 231,82.1ZM251,82.4 253,82.7 254,83.3 255.2,85.3 257.5,95.3 257.8,99.3 257.6,109.3 254,116.6 252,118.6 251,118.6 250,117.3 251.7,107.3 248.7,86.3 249,83.7 250,82.7ZM42,102.9 48,103.1 50.2,104.3 50.4,106.3 48.2,121.3 39,121.3 39,117.4 40.8,104.3Z"/><path fill="#d4d4ff" fill-rule="evenodd" d="M66.9,7.3 73.8,7.3 74.4,10.3 74.1,15.3 73.4,18.3 72,20 70,20.1 68,19.4 66.1,18.3 65.4,17.3 65,15.3 65.2,12.3ZM97.1,7.3 97.4,13.3 96,19.9 95,21.6 93,23.4 91,24.2 89,23.7 87.3,21.3 86.8,18.3 87.1,12.3 88.1,7.3ZM120.1,7.3 120.3,13.3 119,20 118,21.8 116,23.9 114,24.8 113,24.7 111,22.8 109.8,19.3 109.9,13.3 111.1,7.3ZM143.3,7.3 143.6,13.3 142.5,19.3 141,22 137.5,25.3 137.1,26.3 137.3,29.3 135.7,35.3 135,40.3 135.6,52.3 135,53.9 134,54.4 132,53.4 131.4,52.3 130.3,41.3 131.5,29.3 132.8,27.3 135.3,25.3 132.8,19.3 132.7,15.3 133.2,10.3 134.1,7.3ZM157.1,7.3 166.1,7.3 166.3,9.3 165.5,18.3 162.1,25.3 162.9,29.3 161.4,40.3 162.1,52.3 160.3,55.3 160.2,56.3 162.1,64.3 161.3,67.3 164,68.5 165,70.4 167,84.3 169.8,98.3 168.7,104.3 167.1,109.3 165,112.2 163,113.7 161.6,113.3 161.2,111.3 161.3,98.3 160.1,80.3 160.3,71.3 160.9,68.3 160.4,67.3 159,66.8 158,65.7 156,58.5 156.5,54.3 155.7,51.3 154.8,42.3 155.6,29.3 157.5,24.3 156,20.4 155.7,17.3 156.1,11.3ZM188.7,7.3 189.3,9.3 189.5,12.3 188.4,18.3 186,21.9 183,23.5 181,22 179.4,18.3 179.4,13.3 180.2,9.3 181.1,7.3ZM208.7,7.3 211.4,10.3 211.9,12.3 211.5,15.3 209,19.3 207,20.5 205,20.5 203.6,19.3 202.8,17.3 202.6,14.3 203,11.1 205,7.8 205.8,7.3ZM229,15.3 232,15.7 233,16.7 233.7,18.3 233,21.3 231,22.7 229,22.8 228,22.3 226.5,20.3 226.6,17.3 228,15.7ZM252,16.4 255,15.6 257.2,16.3 258.4,18.3 258.2,20.3 257.7,21.3 255,22.8 253,22.5 252,21.8 250.8,19.3 251.2,17.3ZM32,18 34,18.4 35.7,20.3 36.7,23.3 37.4,28.3 37.5,40.3 38.7,51.3 38.1,53.3 37.2,54.3 35,55.2 33.2,54.3 32.5,53.3 30,39.3 28,34.8 28,20.8 30,18.9ZM54,20.6 56,20.9 58.4,22.3 59.8,24.3 60.6,27.3 60.9,39.3 62.3,51.3 61,53.3 59,54.3 58,54.2 56.6,52.3 54.7,40.3 52,33.9 51.1,30.3 50.8,26.3 51.2,23.3 52,21.6ZM77,23.2 79,23.2 81.2,24.3 82.7,26.3 83.3,28.3 83.3,33.3 85.6,51.3 85.2,52.3 83,53.3 82,53.1 81.1,51.3 79.8,41.3 79.4,34.3 78.5,32.3 76,29.5 75.1,27.3 75.4,24.3ZM183,25.6 184.6,27.3 185.1,30.3 183.5,40.3 184.1,52.3 183,53.8 182,54.1 181,53.8 179.8,52.3 178.7,40.3 179.4,29.3 181,26.5ZM206,27.2 207.4,28.3 207.9,30.3 206.5,40.3 207.3,51.3 206.4,53.3 205,53.7 204,52.7 203.5,51.3 202.6,40.3 203.2,29.3 204,27.8ZM106,30 107,31.3 109.6,50.3 109.5,52.3 108,53.3 106,52.6 105.1,51.3 103.8,41.3 103.6,36.3 104,32.1 104.8,30.3ZM226,29.9 227,30 227.3,31.3 226.4,41.3 227.2,51.3 227,52 226,52.1 224.7,41.3 225,35.7ZM53,54.5 54.2,55.3 54.8,57.3 50.4,72.3 52.3,80.3 51.1,82.3 50,82.7 48,82 46.6,80.3 44.4,74.3 44.3,72.3 49,57.3 51,55ZM76,54.6 77.2,55.3 77.8,57.3 73.4,72.3 75.3,80.3 74,82.5 72,82.7 71,82.2 69.5,80.3 67.4,74.3 67.2,72.3 71.9,57.3 74,55.2ZM135,54.9 137,56.1 137.6,57.3 139.8,66.3 142,67.7 142.9,69.3 144.1,84.3 146,97.3 144.8,109.3 140.8,118.3 140,119.3 138,120.3 136,119.8 135,118.8 134.5,117.3 134.8,115.3 138.2,107.3 139.2,98.3 137.2,83.3 136.4,71.3 137,67.3 135.5,64.3 134,58.3 134.1,56.3ZM98,55.8 98.7,57.3 98.4,59.3 94.7,72.3 96.6,80.3 96,81.5 94,82 92.9,81.3 92,79.8 90,74.3 89.9,72.3 94.6,57.3 96,56.1ZM113,57 115,63.6 115,64.6 114,65.3 113,63.4 112.3,59.3 112.5,57.3ZM204,56.7 204.3,58.3 201.3,66.3 203.5,74.3 203,75.4 201.8,74.3 199.3,66.3 200,63.6 203,57.2ZM226,56.8 226.2,58.3 223.5,64.3 223.1,66.3 225.2,73.3 225,75.3 224,75 221.1,66.3 224,58.7 225,57ZM117,67.9 118.2,68.3 119.3,70.3 120.3,84.3 122.2,98.3 120.9,109.3 117,117.9 115,119.1 113.4,118.3 112.9,116.3 116.6,107.3 117.5,99.3 115.7,85.3 114.8,71.3 115,69.3 116,68ZM188,82.8 190.3,83.3 191.8,85.3 194.6,96.3 194.9,102.3 194.7,109.3 192,114.5 189,117.6 187.9,117.3 187.2,115.3 187.7,107.3 185.2,87.3 185.7,84.3ZM212,83.1 214,83.9 215.2,86.3 217.4,96.3 217.9,108.3 217,110.7 215,113.9 213,115.7 212,115.3 211.5,113.3 211.7,107.3 209,86.3 210,83.9ZM31,84 33,84.6 34,87.1 35.5,99.3 34,100.6 31.6,100.3 31,98.8 29.3,86.3 30,84.6ZM55,83.4 56,83.4 57.7,84.3 58.9,86.3 60.8,99.3 60.7,100.3 59.4,101.3 57,101.2 55.4,100.3 54.9,99.3 53.1,86.3 53.7,84.3ZM77,83.6 79,84.3 80.1,86.3 81.9,98.3 81.4,100.3 79,101.5 77.8,101.3 77,100.3 75.1,87.3 75.2,85.3 76,84ZM233,84 235,84.5 236,86.3 238.7,97.3 238.6,108.3 237,111.5 235,113.3 234,111.6 234,107.3 231.4,88.3 231.5,85.3ZM98,84.4 99,84.5 100,85.3 102,97.3 101.9,100.3 100,101.4 99,100.7 98.5,99.3 96.9,88.3 97,85.3ZM253,93.7 254,95.6 254,98.7 253,98.1ZM72,103.3 72.6,104.3 72.7,106.3 70.5,120.3 70.1,121.3 65.1,121.3 64.5,118.3 66.4,105.3 67,104.3 68.8,103.3 71,103ZM94,103.2 95,103.6 95.7,105.3 93.9,118.3 93,120.7 92.3,121.3 90.7,121.3 89.8,120.3 89.3,118.3 91,106.3 91.9,104.3ZM45,103.4 48,104.2 48.6,105.3 46.7,119.3 46,121.3 41,121.3 40.4,118.3 42.2,105.3 43,103.9Z"/><path fill="#bfbfff" fill-rule="evenodd" d="M69,7.3 72,7.3 73,8.4 73.8,10.3 73.9,13.3 73.4,16.3 72.4,18.3 71,19.2 69,19.1 67.4,18.3 66.3,17.3 65.6,15.3 66.4,10.3ZM96.2,7.3 96.9,9.3 97.1,12.3 96,18.3 95,20.1 93,21.9 91,22.5 90,22.4 88,20.7 87.2,18.3 87.1,14.3 88,9.3 88.9,7.3ZM119.3,7.3 120.1,12.3 119,18.5 118,20.3 116,22.2 114,22.8 113,22.6 111,20.7 110.2,18.3 110.2,13.3 111,9.2 111.8,7.3ZM142.5,7.3 143.2,9.3 143.4,12.3 142.9,16.3 142,19 141,20.5 139,22.2 137,22.7 136,22.3 134,20.5 133.2,18.3 133.1,13.3 134,9.2 135,7.3ZM165.3,7.3 166,12.3 165,18.4 164,20.3 162,22.2 160,23 159,22.7 157,20.7 156.2,18.3 156.2,13.3 157,9.2 157.8,7.3ZM187.2,7.3 188.5,9.3 189,11.3 188.5,16.3 187.7,18.3 186,20.3 185,20.9 183,21.2 181,19.9 180,18 179.7,15.3 180.1,11.3 181,9.1 182.5,7.3ZM207,8.6 209,9.3 210,10.3 210.8,13.3 210.4,15.3 209.2,17.3 208,18.4 206,19 205,18.7 203.7,17.3 203.2,13.3 204.2,10.3 205.2,9.3ZM230,16.3 232,17.2 232.7,19.3 232,20.8 230,21.7 228,20.8 227.4,19.3 228,17.2ZM252,18.3 253,17 255,16.5 256.6,17.3 257.3,19.3 256,21.3 254,21.6 252.3,20.3ZM32,19.6 34,20 35,20.9 36.1,23.3 36.9,27.3 37,31.3 36.1,40.3 37.3,51.3 37,52.6 36,53.5 35,53.5 33.8,52.3 31.4,39.3 28,32.3 28,23.2 30,20.6ZM54,21.6 56,21.7 58,22.9 59,24.3 60,27.3 60.2,31.3 59.1,40.3 60.2,51.3 60,51.8 59,52.2 56.7,40.3 52.6,33.3 51.6,30.3 51.3,27.3 51.7,24.3 52.9,22.3ZM77,24.1 79,23.9 81.1,25.3 82.1,28.3 81,30.9 79,30.8 76.3,28.3 75.9,26.3 76,25.3ZM159,26.8 160,26.8 161,27.8 161.5,30.3 159.8,40.3 160.5,51.3 160,52.8 159,53.3 158,52.8 157.4,51.3 156.5,41.3 156.9,29.3 158,27.4ZM182,29.7 182.4,30.3 182,31.2ZM52,56.7 52.5,57.3 52.4,58.3 48.3,72.3 48.4,74.3 50.1,79.3 50,79.9 49,80.3 47,75.9 46.4,72.3 51,57.3ZM75,56.8 75.5,57.3 75.4,58.3 71.3,72.3 71.4,74.3 73.1,79.3 73,79.9 72,80.3 70,75.9 69.4,72.3 74,57.3ZM140,68.4 141,69 141.6,70.3 142.6,84.3 144.5,98.3 143.2,109.3 140,116.6 139,118.1 138,118.6 136.7,118.3 136.1,117.3 136.1,116.3 139.7,107.3 140.6,99.3 138.8,85.3 137.9,71.3 138.2,69.3 139,68.5ZM163,75.2 164,77.2 168.7,97.3 168.4,100.3 167,105.2 165.3,108.3 164,108.8 162.7,104.3 161.7,88.3 162,78.6ZM188,84.4 189,84.4 190,85.1 190.6,86.3 193.7,97.3 193.5,108.3 192,111.1 191,112.2 190,112.5 189.4,111.3 186.8,92.3 186.7,86.3 187,85.2ZM212,85.2 213.3,86.3 216,96.3 216.2,107.3 215,109.5 214,109.1 211.9,97.3 210.9,87.3 211,86.1ZM56,85.7 57,86.7 58.6,98.3 58.6,99.3 58,99.8 57,99.2 55.3,87.3ZM234,91.3 235,91.3 237,96.9 236.9,100.3 236,103.2 235,101.5 234,97.6ZM70,104.2 71,105.1 69.3,118.3 68.1,120.3 67,120.2 66.1,118.3 67.8,106.3 69,104.3ZM46,104.5 46.9,105.3 45.2,118.3 44,120.3 43,120.3 42,118.3 44,105.2 45,104.3Z"/><path fill="#aaaaff" fill-rule="evenodd" d="M95.2,7.3 96.3,9.3 96.7,11.3 96,17.1 95,19 93,20.9 91,21.4 90,21.2 88.1,19.3 87.5,17.3 87.4,14.3 88.1,10.3 89.7,7.3ZM118.5,7.3 119.8,11.3 119,17.3 118,19.3 116,21.1 114,21.6 113,21.3 111,19.3 110.4,17.3 110.3,14.3 111,10.3 112.7,7.3ZM141.5,7.3 142.6,9.3 143,11.3 142.9,14.3 142,17.8 141,19.5 139,21.1 137,21.4 136,21.1 134.2,19.3 133.5,17.3 133.4,13.3 134.1,10.3 135.9,7.3ZM164.4,7.3 165.7,11.3 165,17.3 164,19.2 162,21.1 160,21.6 159,21.3 157,19.3 156.4,17.3 156.3,14.3 157,10.3 158.7,7.3ZM185,7.5 187,8.5 188,9.8 188.5,11.3 188.4,14.3 186.8,18.3 185,19.8 183,20 181.8,19.3 180.5,17.3 180.2,13.3 181,10.4 182,8.9 184,7.6ZM70,8.4 71,8.4 72.4,9.3 73.4,12.3 72.8,16.3 72,17.6 70,18.4 67.3,17.3 66.6,16.3 66.2,14.3 67.3,10.3 68.1,9.3ZM207,9.8 208,10 209.4,11.3 209.7,14.3 208,17.1 206,17.7 204.3,16.3 203.9,13.3 205,10.7ZM229,17.9 230,17.5 231,17.9 231.5,19.3 231,20.1 230,20.5 229,20.1 228.5,19.3ZM253.1,19.3 253.3,18.3 254,17.7 255,17.6 256,18.3 256.1,19.3 255,20.5 254,20.4ZM32,20.7 34,21.3 35,22.4 36.5,27.3 36.1,33.3 34,39.3 33,38.8 31,35.9 28,29.8 28,26.1 28.6,24.3 30,22ZM55,22.4 57,23 58,24 59,25.7 59.7,28.3 59,33.8 58,35.9 57,36.3 54,34 52.9,32.3 52,29.3 51.9,26.3 52.5,24.3 54,22.7ZM78,24.7 80,25.2 80.7,26.3 80.9,28.3 80,29.4 78,28.9 76.8,27.3 77,25.4ZM164,87.3 165,88.5 166,91 167.7,97.3 167,101.2 166,103.4 165,104.2 164,102.8 163.3,97.3 163.2,90.3ZM189,88 191,91.3 192.7,97.3 192,106.6 191,107.1 189,101 188.2,96.3 188.1,90.3Z"/><path fill="#9595ff" fill-rule="evenodd" d="M94,7.3 96.2,10.3 96.4,13.3 95.9,16.3 94.9,18.3 93,20 91,20.5 90,20.3 88.8,19.3 87.9,17.3 87.7,14.3 88.1,11.3 89,9.2 90.9,7.3ZM117.4,7.3 119.3,10.3 119.5,13.3 119,16.1 117,19.6 114,20.7 112,19.7 111,18 110.6,15.3 111,11.6 112,9.1 113.7,7.3ZM140.4,7.3 142,9.1 142.5,10.3 142.4,15.3 141.8,17.3 140,19.6 137,20.5 135,19.4 134,17.6 133.6,15.3 134,11.8 135,9.4 137,7.3ZM163.4,7.3 165.2,10.3 165.4,13.3 165,16 163,19.6 161,20.7 160,20.7 158,19.7 157,18 156.6,15.3 157,11.6 158,9.1 159.7,7.3ZM185,8.5 186,8.8 187.5,10.3 188.1,12.3 188,14.3 187.4,16.3 186,18.2 185,18.9 183,19 181.8,18.3 180.7,16.3 180.8,12.3 182,9.9 183,9ZM70,9.5 72.1,10.3 72.8,13.3 72,16.3 70,17.6 68,16.8 66.9,14.3 67.6,11.3 69,9.8ZM207,11 208,11.3 208.7,12.3 208.7,14.3 208,15.7 207,16.4 206,16.4 204.8,15.3 204.7,13.3 205.9,11.3ZM32,21.8 33,21.8 34.7,23.3 36.2,28.3 36,31.3 35,34.5 34,36 33,36.2 32,35.6 30,32.9 28.5,28.3 29.4,24.3 30.9,22.3ZM55,23.3 57,23.9 58,25 59.2,28.3 58.6,32.3 58,33.6 57,34.4 56,34.3 54,32.7 52.5,29.3 52.8,25.3 54,23.7ZM78,26.1 79,25.9 79.4,26.3 79.6,27.3 79,27.9 78,27.3ZM165,95.1 166,96 166.3,97.3 166,99.4 165,99.4 164.7,98.3ZM190,94.5 191.2,96.3 191,99.7 190,99 189.6,97.3Z"/><path fill="#8080ff" fill-rule="evenodd" d="M93,7.7 95,9.1 95.7,10.3 96,14.3 95.5,16.3 94,18.6 92,19.8 90,19.5 88.7,18.3 88,16.3 88,13.3 88.8,10.3 90,8.7 92,7.7ZM116,7.5 118,8.7 118.9,10.3 119.1,14.3 118.2,17.3 117,18.9 116,19.6 114,20 112,18.8 111.2,17.3 111,13 111.8,10.3 113,8.6 114,7.9ZM139,7.6 141,8.7 142,10.2 142.3,14.3 141.8,16.3 140.6,18.3 139,19.5 137,19.8 135,18.5 134.4,17.3 134,13.3 134.9,10.3 136,8.9 138,7.7ZM162,7.5 164,8.7 164.8,10.3 165.1,14.3 164.1,17.3 163,18.9 162,19.6 160,20 158,18.8 157.2,17.3 157,13 157.8,10.3 159,8.6 160,7.9ZM185,9.3 187,10.6 187.6,12.3 187.5,14.3 186,17.4 185,18 183,18.2 181.3,16.3 181,13.3 182.4,10.3 184,9.3ZM70,10.5 71.6,11.3 72.2,13.3 71.7,15.3 70,16.6 68.8,16.3 67.6,14.3 68,12.1 69,10.9ZM207,12.6 207.5,13.3 207.3,14.3 206,14.5 206,13ZM32,22.7 33,22.8 34.6,24.3 35.8,28.3 35,32.7 34,34.2 33,34.7 31,33.2 29.3,29.3 29.7,25.3 31,23.3ZM55,24.2 57,24.9 58.4,27.3 58.6,30.3 58,31.9 57,33 55,32.6 53.8,31.3 53,29.3 53.1,26.3 54,24.7Z"/><path fill="#6a6aff" fill-rule="evenodd" d="M116,8.2 117,8.6 118.4,10.3 118.8,14.3 118,16.8 117,18.2 116,19 114,19.4 113,19 111.6,17.3 111.2,13.3 112,10.6 113,9.3 114,8.5ZM162,8.2 163,8.6 164.4,10.3 164.8,14.3 164,16.8 163,18.2 162,19 160,19.4 159,19 157.6,17.3 157.2,13.3 158,10.6 159,9.3 160,8.5ZM92,8.4 94,8.9 95,9.9 95.8,13.3 95.1,16.3 94,17.9 93,18.7 91,19.2 90,18.8 88.7,17.3 88.3,13.3 89.3,10.3 90.1,9.3ZM139,8.4 140,8.6 141.5,10.3 142.1,12.3 142,14.3 141.4,16.3 140,18.3 139,18.9 137,19.2 136,18.7 134.8,17.3 134.4,13.3 134.9,11.3 136,9.5 137,8.8ZM185,10 186.7,11.3 187,14.3 186,16.5 184,17.5 183,17.3 182,16.4 181.5,13.3 183,10.6ZM70,11.9 70.9,12.3 71.2,13.3 71,14.5 70,15.4 69,14.9 68.7,13.3 69,12.5ZM32,23.7 33,23.7 34,24.5 35.3,28.3 34.9,31.3 34,32.9 33,33.4 31,32.1 29.8,29.3 30,26.3 31,24.4ZM55,25.1 56,25.2 57,25.9 58.1,28.3 58,30 57.4,31.3 56,32.1 54.7,31.3 53.6,29.3 53.9,26.3Z"/><path fill="#5555ff" fill-rule="evenodd" d="M92,8.9 93.6,9.3 94.7,10.3 95.4,13.3 95.1,15.3 94,17.3 93,18.1 91,18.6 90,18.2 89,17 88.6,13.3 90,10ZM116,8.8 118,10.3 118.6,12.3 118.5,14.3 117,17.6 116,18.4 114,18.8 112.9,18.3 111.7,16.3 111.7,12.3 113,9.8 114,9.1ZM139,8.9 141.1,10.3 141.7,12.3 141.6,14.3 140,17.6 139,18.3 137,18.6 136,18 134.9,16.3 134.9,12.3 136,10.2 137,9.3ZM162,8.8 164,10.3 164.5,12.3 164.5,14.3 163,17.6 162,18.4 160,18.8 158.9,18.3 157.7,16.3 157.7,12.3 159,9.8 160,9.1ZM185,10.8 186.4,12.3 186.5,14.3 185.2,16.3 184,16.7 183,16.4 182.2,15.3 182,13.3 183,11.4ZM32,24.7 33,24.7 34,25.6 34.9,28.3 34.2,31.3 33,32.4 31.2,31.3 30.3,29.3 30.6,26.3ZM55,26.3 56.1,26.3 57.4,28.3 57.1,30.3 56,30.9 55,30.5 54.4,29.3 54.4,27.3Z"/><path fill="#4040ff" fill-rule="evenodd" d="M116,9.3 117,9.8 118,11.2 118.2,14.3 116.7,17.3 115,18.3 114,18.2 113,17.7 112.1,16.3 112,12.4 113,10.4 114,9.6ZM162,9.3 163,9.8 164,11.3 164.2,14.3 162.7,17.3 161,18.3 160,18.2 159,17.7 158.1,16.3 158,12.4 159,10.4 160,9.6ZM92,9.5 94.1,10.3 95,12.2 95,14 94.2,16.3 93.3,17.3 91,18 90,17.5 89.2,16.3 88.9,13.3 90,10.6ZM140,9.9 141,11.1 141.3,14.3 140,17 139,17.8 137,18 135.3,16.3 135,13.3 136.5,10.3 138,9.5ZM184,11.7 185,11.7 186,13.3 185.2,15.3 184,15.8 183,15.3 182.7,14.3 183,12.6ZM32,25.8 33,25.7 33.5,26.3 34.3,28.3 34,30.3 33,31.3 32,31.1 30.9,29.3 30.9,27.3ZM56,27.8 56,29.4 55.4,28.3Z"/><path fill="#2b2bff" fill-rule="evenodd" d="M92,10 93,10.1 94.2,11.3 94.6,14.3 93,17 91,17.5 89.6,16.3 89.2,13.3 90,11.2ZM115,9.7 116.9,10.3 117.6,11.3 117.8,14.3 117,16.3 116.1,17.3 114,17.7 112.5,16.3 112.1,13.3 113,11.1ZM139,10 140.6,11.3 140.9,14.3 140.1,16.3 139,17.2 137,17.4 136,16.6 135.4,15.3 135.6,12.3 137,10.4ZM161,9.7 162.9,10.3 163.6,11.3 163.8,14.3 163,16.3 162,17.3 160,17.7 158.5,16.3 158.1,13.3 159,11.1ZM184,13.1 184.8,13.3 184,14.5ZM32,27.1 33,27 33.6,28.3 33,30.1 31.7,29.3Z"/><path fill="#1515ff" fill-rule="evenodd" d="M115,10.2 116,10.3 117,11.1 117.6,13.3 117,15.6 115,17.2 114,17.1 113,16.3 112.4,14.3 113,11.8ZM161,10.2 162,10.3 163,11.1 163.6,13.3 163,15.6 161,17.2 160,17.1 159,16.3 158.4,14.3 159,11.8ZM92,10.5 93,10.7 94,11.8 94.2,14.3 93,16.4 91,16.8 89.7,15.3 89.6,13.3 90.5,11.3ZM139,10.5 140,11.2 140.5,12.3 140.5,14.3 139,16.6 137,16.8 135.9,15.3 136,12.4 137,11Z"/><path fill="#0000ff" fill-rule="evenodd" d="M92,11.1 93,11.4 93.6,12.3 93.7,14.3 93,15.7 92,16.3 91,16.2 90.2,15.3 90,13.3 91,11.5ZM115,10.8 116.5,11.3 117.2,13.3 116.7,15.3 115,16.7 113.7,16.3 112.8,14.3 113.2,12.3 114,11.2ZM139,11.1 140.1,12.3 140.1,14.3 139,16 138,16.4 137,16.1 136.4,15.3 136.2,13.3 137,11.7 138,11.1ZM161,10.8 162.5,11.3 163.2,13.3 162.7,15.3 161,16.7 159.7,16.3 158.8,14.3 159.2,12.3 160,11.2Z"/></g><path fill="none" stroke="#2a2a2a" stroke-width="0.45" d="M83.9,7.3 85,9 85.5,11.3 85,16.3 83.5,19.3 82,20.3 81,20.4 79,20 77.9,19.3 77,18.1 76.5,16.3 76.5,13.3 77,10.9 78,8.9 79.5,7.3M106.9,7.3 108,9.1 108.5,11.3 108,16.3 107,18.7 106,19.9 105,20.7 103,21.1 101,20.3 100.1,19.3 99.1,16.3 99,14.3 99.5,11.3 100.3,9.3 101.9,7.3M129.5,7.3 130.7,9.3 131.2,11.3 131.1,14.3 130.7,16.3 129,19.5 127,20.9 126,21.1 124,20.7 123,19.8 122.2,18.3 121.8,16.3 122.2,11.3 123,9.2 124.5,7.3M152.9,7.3 154,9.1 154.5,11.3 154,16.3 153,18.7 152,19.9 151,20.7 149,21.1 147,20.3 146.2,19.3 145.2,16.3 145.6,11.3 146.4,9.3 148,7.3M175.5,7.3 177.2,10.3 177.4,12.3 177.1,15.3 176.5,17.3 175,19.5 173,20.9 172,21.1 170,20.8 169,19.9 168.1,18.3 167.7,16.3 168.1,11.3 169,9 170.4,7.3M193.8,9.3 195,8.6 196,8.4 198,9 199.2,10.3 199.8,12.3 199.8,15.3 199,18 198,19.6 196,21 194,20.7 193,19.9 191.7,17.3 191.5,15.3 192,12.3 192.9,10.3M58.5,10.3 60,10.2 61,11.1 61.6,13.3 61,15.6 60,16.7 59,17 58,16.7 57,16 56.2,14.3 56.2,13.3 57,11.4M217.6,17.3 219,17 220,17.6 220.5,18.3 220.6,19.3 220,20.5 219,21 218,20.9 217,20.3 216.6,19.3 216.7,18.3M240.6,18.3 242,17.4 243.4,18.3 243.5,19.3 242.8,20.3 242,20.6 241.2,20.3 240.5,19.3M41.7,21.3 43,20.9 45,21.6 46.5,23.3 47.8,26.3 48.2,29.3 48,31.6 47,34.7 46,36.1 45,36.3 43,34.9 41,32.3 40.2,30.3 39.6,27.3 39.8,24.3 40.6,22.3M65.4,23.3 67,23.1 68,23.5 69.7,25.3 70.6,27.3 70.7,30.3 70,32.5 69,33.6 68,33.8 66,32.8 65,31.8 64,29.9 63.6,27.3 63.8,25.3 64.3,24.3M176,92.3 177,91.4 178,93.4 179.1,97.3 179,99.2 178,101.5 177,101.9 176.3,100.3 175.9,98.3"/><path fill="none" stroke="#2a2a2a" stroke-width="0.45" stroke-dasharray="1.6 0.9" d="M90.3,7.3 89,8.8 88,11.1 87.5,16.3 88.4,19.3 90,20.7 91,21 92,20.9 94,19.7 95.2,18.3 96.1,16.3 96.6,13.3 96.6,11.3 96,9.2 94.7,7.3M113.1,7.3 112,8.7 111,10.9 110.6,13.3 110.5,16.3 111.3,19.3 113,20.9 114,21.1 116,20.7 117,20 118.3,18.3 119.1,16.3 119.6,11.3 119.2,9.3 118,7.3M136.4,7.3 135,8.9 134.3,10.3 133.7,12.3 133.5,15.3 133.7,17.3 134.5,19.3 136,20.6 137,21 139,20.6 140,20 141.5,18.3 142.3,16.3 142.9,13.3 142.8,11.3 142.4,9.3 141,7.3M159.1,7.3 158,8.7 157,10.9 156.6,13.3 156.5,16.3 157.3,19.3 159,20.9 160,21.1 162,20.7 163,20 164,18.8 165,16.6 165.5,14.3 165.6,11.3 165.2,9.3 164,7.3M184,8.1 182.1,9.3 181.4,10.3 180.6,12.3 180.3,14.3 180.5,16.3 181,17.8 182,19 184,19.6 186,18.7 187,17.6 188,15.4 188.3,13.3 188.2,11.3 187.3,9.3 186,8.3M69,9.3 68,10 67.1,11.3 66.5,14.3 67,16.2 67.9,17.3 70,18 71,17.8 72.4,16.3 73,14.3 73,11.3 72,9.6 71,9M206,10.6 205,11.4 204.5,12.3 204.2,14.3 205,16.5 206,17.1 207,17 208,16.4 208.9,15.3 209.2,14.3 209.2,12.3 208,10.6 207,10.3M230,18.3 229.6,19.3 230,19.6 230.4,19.3M254,19.2 255.1,19.3 255,18.7M32,21.3 30.3,22.3 29,24.3 28.3,26.3 28.3,29.3 29.3,32.3 31,35.1 33,37.2 34,37.2 35,35.6 36,32.5 36.4,29.3 36.3,27.3 35,23 34,21.8 33,21.3M54,23.1 52.9,24.3 52.2,26.3 52.1,28.3 52.4,30.3 54,33.3 56,35.1 57,35.3 58,34.6 59,32.4 59.5,29.3 59.2,27.3 58.5,25.3 57,23.5 55,22.8M78,25.2 77.3,26.3 77.4,27.3 78,28.3 79,28.8 80,28.5 80.4,27.3 80.2,26.3 79,25.1M164,92.2 163.9,98.3 164.3,100.3 165,101.9 166,101.5 167,99.2 167.1,97.3 166,93.4 165,91.4M189,91.8 188.7,95.3 189,98.3 190,102 191,103.6 192,101 192,96.3 191,93.3 190,91.5"/><path fill="none" stroke="#2a2a2a" stroke-width="0.45" d="M80.9,9.3 82,9.2 83,9.6 84.1,11.3 84.4,13.3 84,15.4 83,17.2 82,18 81,18.3 80,18.1 78.8,17.3 78.2,16.3 77.8,14.3 78.5,11.3 80,9.7M103,9.3 105,9 106,9.5 107,10.9 107.3,12.3 107.2,14.3 106.6,16.3 105,18.1 104,18.5 102,18.1 101,17 100.4,15.3 100.4,13.3 101,11.3 102,10M125.5,9.3 127,8.9 128.1,9.3 129.2,10.3 129.9,12.3 129.8,14.3 129,16.6 128,17.8 126,18.6 125,18.4 123.7,17.3 123.2,16.3 122.9,14.3 123.6,11.3 124.2,10.3M149,9.3 151,9 152,9.5 153,10.9 153.3,12.3 153.2,14.3 152.6,16.3 151,18.1 150,18.5 149,18.5 148,18.1 147,17 146.5,15.3 146.5,13.3 147,11.5 148,10M171.4,9.3 173,8.9 174,9.2 175.2,10.3 176,12.3 175.9,14.3 175,16.6 174,17.7 172,18.6 171,18.4 170,17.8 168.9,15.3 168.9,13.3 169.5,11.3 170.1,10.3M195.7,11.3 197,11.7 197.9,13.3 198,14.8 197,17.3 196,18 195,18 194,17.3 193.5,16.3 193.3,14.3 194,12.3 195,11.5M42.2,25.3 43,24.6 44,24.7 45,25.5 46,27.2 46.2,28.3 46,30.3 45,31.5 44,31.6 43,31 42,29.5 41.6,27.3"/><path fill="none" stroke="#2a2a2a" stroke-width="0.45" stroke-dasharray="1.6 0.9" d="M92,9.2 90,10.3 89,12.1 88.7,13.3 89,16.5 90,17.9 91,18.3 92,18.3 93.6,17.3 94.4,16.3 95.1,14.3 95.2,12.3 94.4,10.3 93,9.3M115,9 113,10.1 112,11.9 111.7,13.3 112,16.7 113,18 114,18.5 116,18.1 117,17.3 118.3,14.3 118.4,12.3 117.7,10.3 116.6,9.3M138,9.2 136,10.5 135.1,12.3 134.8,14.3 135,16 135.7,17.3 137,18.3 138,18.3 140,17.3 140.8,16.3 141.6,13.3 141.3,11.3 140.8,10.3 139.3,9.3M161,9 159,10.1 158,11.9 157.7,13.3 158,16.7 159,18 160,18.5 162,18.1 163,17.3 164.3,14.3 164.4,12.3 163.7,10.3 162.6,9.3M184,11.2 182.8,12.3 182.3,14.3 183,15.9 184,16.3 185,16 185.7,15.3 186.3,13.3 186,12.1 185.2,11.3M32,25.2 31,26.3 30.6,29.3 31.7,31.3 33,31.9 34,31.1 34.6,28.3 34,26.2 33,25.2M55,27.1 54.6,28.3 54.8,29.3 56,30.3 57,29.3 57,28.2 56,26.9"/>
</g>
<rect x="29.00" y="8.30" width="229.60" height="111.70" fill="none" stroke="#c8c8c8" stroke-width="0.7"/>
<rect x="29.00" y="8.30" width="24.5" height="12" fill="#fff"/>
<text x="30.90" y="18.00" font-size="7.1" font-weight="bold" fill="#1a1a1a">(a): E1</text>
<text x="26.3" y="14.10" font-size="7" fill="#262626" text-anchor="end">50</text>
<text x="26.3" y="26.70" font-size="7" fill="#262626" text-anchor="end">100</text>
<text x="26.3" y="39.30" font-size="7" fill="#262626" text-anchor="end">150</text>
<text x="26.3" y="51.90" font-size="7" fill="#262626" text-anchor="end">200</text>
<text x="26.3" y="64.50" font-size="7" fill="#262626" text-anchor="end">250</text>
<text x="26.3" y="77.10" font-size="7" fill="#262626" text-anchor="end">300</text>
<text x="26.3" y="89.70" font-size="7" fill="#262626" text-anchor="end">350</text>
<text x="26.3" y="102.30" font-size="7" fill="#262626" text-anchor="end">400</text>
<text x="26.3" y="114.90" font-size="7" fill="#262626" text-anchor="end">450</text>
<text x="29.00" y="129.90" font-size="7" fill="#262626" text-anchor="middle">17/Jun/11</text>
<text x="48.13" y="129.90" font-size="7" fill="#262626" text-anchor="middle">12</text>
<text x="67.26" y="129.90" font-size="7" fill="#262626" text-anchor="middle">13</text>
<text x="86.39" y="129.90" font-size="7" fill="#262626" text-anchor="middle">14</text>
<text x="105.52" y="129.90" font-size="7" fill="#262626" text-anchor="middle">15</text>
<text x="124.65" y="129.90" font-size="7" fill="#262626" text-anchor="middle">16</text>
<text x="143.78" y="129.90" font-size="7" fill="#262626" text-anchor="middle">17</text>
<text x="162.91" y="129.90" font-size="7" fill="#262626" text-anchor="middle">18</text>
<text x="182.04" y="129.90" font-size="7" fill="#262626" text-anchor="middle">19</text>
<text x="201.17" y="129.90" font-size="7" fill="#262626" text-anchor="middle">20</text>
<text x="220.30" y="129.90" font-size="7" fill="#262626" text-anchor="middle">21</text>
<text x="239.43" y="129.90" font-size="7" fill="#262626" text-anchor="middle">22</text>
<g clip-path="url(#clipb)">
<g filter="url(#pbn)"><path fill="#ffeaea" fill-rule="evenodd" d="M277.1,7.3 274.7,21.3 274.8,36.3 276.2,40.3 274.9,44.3 274.8,55.3 273.4,66.3 273.4,74.3 274.4,87.3 274.3,94.3 271.7,109.3 270.7,121.3 269.2,121.3 269.2,97.3 269.8,94.3 270,88.3 269.2,80.3 269.2,62.2 270.6,54.3 269.5,47.3 269.8,44.3 271.2,40.3 269.2,35.7 269.2,23.6 271.3,19.3 272.8,7.3ZM287.2,7.3 286.6,18.3 285.2,23.3 285.2,35.3 287,40.3 285.4,45.3 284.4,60.3 285.1,88.3 282.6,103.3 281.5,115.3 279.7,118.3 279.6,121.3 277.4,121.3 277.2,110.3 280.7,90.3 281.1,84.3 279.8,66.3 280.3,55.3 280,47.3 280.3,44.3 282.1,40.3 282,39.3 280,35.3 280,23.3 282.3,18.3 282.2,12.3 282.8,7.3ZM304.1,7.3 303.2,18.3 302.6,20.3 300.2,21.5 297.3,20.3 298.1,18.3 298.9,7.3ZM315.8,7.3 313.2,22.3 312.2,23.8 309.4,25.3 306.6,43.3 306.4,49.3 307.4,51.3 307.6,56.3 306.6,59.3 306.3,69.3 304.5,80.3 303.4,99.3 304.6,121.3 300.2,121.3 299.2,100.3 300.2,91.7 302,82.3 302.6,75.3 301.2,54.3 302.1,43.3 304.7,30.3 305.5,23.3 305.9,22.3 308.1,20.3 308.6,18.3 309.9,7.3ZM324.2,7.3 326.3,8.3 324.4,18.3 322.2,27.1 321.2,28.3 319.2,29 318.6,30.3 317.5,37.3 317.2,43.3 318.7,48.3 319,53.3 318.4,62.3 314.4,89.3 314.1,98.3 315.2,111.6 315.1,121.3 311.1,121.3 311.3,114.3 310.2,99.5 309.9,86.3 312.5,66.3 313.6,53.3 312.5,43.3 313,38.3 315.2,27.3 315.7,26.3 318.2,24.6 318.8,23.3 321,8.3 322.2,7.4ZM327.3,7.3 331.1,7.3 330.2,8.4ZM342.1,7.3 341.5,9.3 338.2,11.1 328,41.3 328.1,43.3 330.2,47.4 330.6,52.3 329.4,63.3 325.3,90.3 326.2,107.3 326,114.3 325,121.3 321.2,121.3 322,116.3 322.2,109.3 320.6,90.3 321.1,83.3 324.9,56.3 324.8,48.3 323.2,42.3 324.1,32.3 326.8,26.3 332.2,9.5 334.2,9.1 337.2,9.5 337.9,7.3ZM352.3,7.3 351.8,9.3 349.7,12.3 341.5,38.3 340.2,40.6 339.3,41.3 339.3,43.3 340.7,45.3 341.3,49.3 336,88.3 336.9,96.3 336.9,108.3 334.7,121.3 331,121.3 332.8,111.3 333.1,106.3 333,100.3 331.4,90.3 332.1,80.3 335.6,57.3 336.3,48.3 335.9,45.3 334.7,42.3 334.8,41.3 335.9,39.3 344.2,11.8 345.2,10.7 347.7,9.3 348,7.3ZM362.2,7.3 358.2,24.3 352.7,39.3 351.2,41.3 353.3,44.3 353.4,48.3 352.7,54.3 350.7,57.3 349.9,60.3 347.7,77.3 346.7,80.3 346.5,84.3 347.4,87.3 348.2,93.3 348.1,99.3 347.2,107.3 344.8,121.3 340.7,121.3 343.8,102.3 343.7,95.3 342.2,87.6 342.1,84.3 343.2,72.4 346.9,49.3 346.1,39.3 348,36.3 353.3,21.3 355.7,12.3 357.5,9.3 357.9,7.3ZM372.1,7.3 371.7,14.3 370.6,18.3 369.6,25.3 372.1,28.3 372.4,34.3 372.2,41.3 369.6,56.3 369,63.3 369.9,81.3 369.6,89.3 366.6,110.3 366.6,121.3 361.8,121.3 362.2,110.3 365,97.3 365.9,88.3 364.2,71.3 364.2,64.3 367.2,46.3 369.5,41.3 369.7,39.3 368.7,26.3 368.2,25.9 365.2,26 364.5,25.3 365,19.3 367.8,7.3ZM382.5,7.3 384.5,9.3 384.8,11.3 383.3,22.3 381.6,30.3 381.7,32.3 383,35.3 380.7,49.3 380,57.3 380.9,78.3 380.2,87.3 377.4,103.3 377.5,113.3 378.3,121.3 373,121.3 372.7,112.3 373.1,105.3 376,90.3 376.7,83.3 375.1,66.3 375.1,57.3 379,34.3 379,31.3 377.7,28.3 378,7.3ZM397.7,7.3 397.5,11.3 393.5,32.3 392.3,36.3 392.9,45.3 391.6,70.3 391.8,75.3 389.2,92.3 389.3,93.3 392.2,95.9 393,97.3 393.3,104.3 392.4,106.3 388.7,109.3 389.5,121.3 384.6,121.3 384,109.3 384.5,108.3 387.2,106.3 387.7,104.3 387.7,98.3 385.5,92.3 387.3,80.3 386,54.3 386.2,50 388.9,36.3 387.9,33.3 391.5,12.3 391.9,7.3ZM409,7.3 408.5,12.3 403.7,37.3 402.9,39.3 403.6,41.3 403.7,47.3 402.4,75.3 399.4,89.3 399.1,93.3 397.2,93.7 396.2,93.3 395.5,91.3 397.9,75.3 397.3,68.3 398.8,41.3 398.1,36.3 403.4,10.3 403.7,7.3ZM419.1,7.3 419.4,9.3 414.7,37.3 414.6,52.3 413.2,69.4 410.4,83.3 409.7,89.3 409.7,93.3 408.2,93.7 407.1,93.3 406.1,92.3 405.9,90.3 408.1,73.3 409.8,41.3 408.3,39.3 409.5,35.3 414.3,9.3 414.3,7.3ZM429.4,7.3 429.7,8.3 428.7,11.3 427.5,24.3 425.2,40.3 425.5,49.3 424.4,64.3 423.2,71.3 421.6,77.3 420.8,84.3 421.2,93.3 424.5,98.3 424.9,102.3 424.3,105.3 422.2,109.3 420,121.3 416.2,121.3 417.4,111.3 420.1,104.3 420.1,97.3 416.9,93.3 416.3,89.3 417.1,78.3 418.6,71.3 420.4,42.3 419.9,37.3 423.6,13.3 424,7.3ZM437.3,7.3 436.8,14.3 436.3,51.3 435.5,65.3 434.6,72.3 432.3,77.3 431.7,80.3 433.1,99.3 432.4,108.3 429.8,121.3 426.1,121.3 427.8,110.3 428.1,104.3 427.2,80.3 428,77.3 429.8,75.3 430,68.3 431,63.3 431.7,53.3 432.5,11.3 432.1,8.3 432.5,7.3ZM447.1,7.3 446,34.3 446.3,48.3 444.5,60.3 446.4,64.3 446.6,67.3 445.6,73.3 442.9,78.3 442.7,79.3 443.9,93.3 443.4,102.3 440.7,116.3 440.2,121.3 436,121.3 438.9,101.3 439.1,91.3 438.3,79.3 440.7,71.3 441.1,66.3 440.2,60.3 441.7,49.3 441.9,42.3 441.3,38.3 442,9.3 442.7,7.3ZM456.7,7.3 455.3,25.3 457,32.3 457.3,41.3 454.4,60.3 456.8,64.3 457.2,67.3 456.4,73.3 454,78.3 454.6,87.3 454.4,95.3 451.5,111.3 451.1,121.3 446.4,121.3 447.2,111.3 449.9,96.3 450.2,87.3 449.8,79.3 451.6,71.3 452,64.3 450.4,61.3 450.1,59.3 451.7,50.3 452.5,41.3 452.1,30.3 451,28.3 450.7,26.3 451.9,7.3ZM467.9,7.3 466.1,25.3 466.4,27.3 468.2,30.3 468.2,35.8 464.6,59.3 464.7,60.3 467.5,64.3 467.6,69.3 466.5,75.3 465.3,78.3 465.2,86.3 464,87.3 462.2,87.8 461.3,87.3 461.1,78.3 461.9,74.3 462.6,65.3 461.9,63.3 460.2,60.6 460,59.3 462.8,43.3 463.4,32.3 463.1,30.3 461.2,28.4 460.8,27.3 462.8,7.3ZM473,7.3 478.6,7.3 476.8,24.3 477,26.3 478.9,29.3 477.4,42.3 477.8,43.3 481.3,45.3 481.9,53.3 482.2,53.8 485,54.3 486.4,55.3 486.7,58.3 488.6,65.3 488.5,70.3 484.5,90.3 483.4,98.3 483.4,104.3 484.8,121.3 480.5,121.3 479.5,105.3 479.6,98.3 482.4,78.3 482.9,63.3 481.2,55.3 480.1,54.3 477.2,52.9 476.2,45.6 473.2,42.9 473,41.3 474.2,32.3 470.7,28.3ZM483.9,7.3 488.9,7.3 487.8,20.3 489.3,23.3 489.4,25.3 487.3,42.3 488.2,43.2 491.2,44 491.8,46.3 491.5,53.3 487.2,54.3 486.6,44.3 486.2,43.8 483.7,43.3 483,42.3 485,28.3 482.8,26.3 482.3,24.3ZM500.1,7.3 500.5,14.3 500.2,20.6 497.5,37.3 497.3,41.3 497.6,42.3 501.2,43.4 501.2,53.4 498.2,56.3 498.5,61.3 499.5,65.3 499.5,69.3 496.6,79.3 494.4,93.3 494.3,98.3 495.5,113.3 495.2,121.3 491.2,121.3 491.5,114.3 490.3,93.3 491.1,85.3 493.9,72.3 494.5,66.3 493.1,57.3 493.8,55.3 496.6,53.3 497.1,50.3 496.8,43.3 493.9,42.3 493.2,41.3 496,24.3 496.4,18.3 494.3,15.3 494.1,10.3 494.5,7.3ZM293.2,20.2 297.2,20.7 296.4,24.3 296.4,33.3 297.5,38.3 295.4,54.3 295.9,80.3 292.7,105.3 293.5,121.3 284.6,121.3 285.2,117.5 288.2,116.3 288.2,104.2 292,82.3 292,75.3 290.4,58.3 291,46.3 293,39.3 291,34.3 290.8,27.3 291.2,23.6ZM360.2,35.5 361.2,35.8 361.3,42.3 361.1,48.3 358.7,62.3 358.3,68.3 358.4,78.3 359.1,87.3 359,95.3 355.8,115.3 355.5,121.3 350.9,121.3 351.2,116.4 353.9,103.3 354.8,96.3 354.8,91.3 353.9,81.3 354.1,69.3 357,53.3 357.5,43.3ZM472.2,53 475,55.3 475.7,60.3 477.6,63.3 478,67.3 477.4,74.3 476.6,76.3 476.2,82.4 473.5,96.3 472.6,103.3 472.6,110.3 473.8,121.3 469.2,121.3 468.7,105.3 471.8,84.3 472,77.3 472.8,72.3 473.1,65.3 470.7,59.3 471.2,53.3ZM403.2,94.6 404.2,96 404.3,105.3 403.3,107.3 400.1,110.3 400.3,121.3 395.8,121.3 395.4,110.3 395.9,109.3 398.7,107.3 399,106.3 399.2,93.7ZM410.2,93.8 413.2,95.1 414.4,96.3 414.9,99.3 414.7,104.3 413.6,107.3 411.3,110.3 410.3,121.3 406.3,121.3 407,110.3 408.9,107.3 409.7,105.3 409.8,94.3ZM461.2,94.3 461.5,100.3 462.5,104.3 462,112.3 462.3,121.3 457.7,121.3 457.4,114.3 458.2,105.6 460.2,95.4Z"/><path fill="#ffd4d4" fill-rule="evenodd" d="M276.4,7.3 274.2,16.7 273.2,17.1 272.9,12.3 273.4,7.3ZM286.1,7.3 285.2,13.5 284.2,16 283.6,11.3 283.7,7.3ZM303.6,7.3 303.9,9.3 303,17.3 301.8,20.3 300.2,21 298.8,20.3 298.4,19.3 299.4,7.3ZM314.7,7.3 314.9,9.3 314.2,15.3 313,21.3 312.2,23.2 310.2,23.9 308.6,22.3 310.5,7.3ZM324.2,7.8 325.3,8.3 325.8,9.3 325.2,13.2 322.2,26.3 321.2,27.8 320.2,28.1 318.9,27.3 318.6,26.3 321.2,9.3 322.2,7.9ZM351.3,7.3 350.8,9.3 349.5,11.3 345.2,26.3 341,38.3 340.2,39.7 339.2,40.3 337.2,40 336.9,37.3 344.3,12.3 346.2,10.6 348.4,10.3 349.2,7.3ZM361.3,7.3 360.3,14.3 358.1,23.3 352.2,39.2 351.2,40.2 350.2,40.3 348.5,39.3 348.4,37.3 356,12.3 358.4,9.3 358.8,7.3ZM371.1,7.3 370.8,11.3 371.4,14.3 369.2,24.5 368.1,25.3 365.2,25.6 364.7,24.3 365.2,19.8 368.7,7.3ZM379.1,7.3 381.1,7.3 383.2,8.4 384.5,10.3 384.3,14.3 382.2,27.6 381.2,30.2 380.2,31 378.4,29.3 378.1,28.3ZM397.6,7.3 397.4,11.3 393.2,33 392.2,35.3 391.2,36.2 390.2,36.1 388.5,34.3 388.2,33.3 392.1,7.3ZM408.8,7.3 408.4,12.3 403.4,37.3 402.2,38.7 400.2,39 398.7,37.3 398.5,36.3 403.9,7.3ZM418.9,7.3 419.2,9.3 414,40.3 414.5,48.3 413.1,67.3 411.2,76.4 409.2,81.6 408.4,79.3 409,72.3 408.7,67.3 409.7,50.3 410.6,41.3 408.9,39.3 408.9,38.3 413.6,14.3 414.5,7.3ZM429.1,7.3 429.4,8.3 428.6,11.3 427.3,24.3 424.4,40.3 425.2,48.3 423.8,65.3 423.2,69.3 420.6,77.3 418.7,86.3 419.2,94.1 418.1,92.3 418.1,81.3 419.1,71.3 419,66.3 420.3,48.3 421.1,41.3 420.2,40.2 420,37.3 423.6,14.3 424.2,7.3ZM436.6,7.3 436.2,39.2 435,62.3 435.2,65.3 434.2,72.7 433.2,74.7 432.2,75.8 431.2,76 430.2,73.5 430.1,70.3 431.5,62.3 432,53.3 432.7,11.3 432.4,9.3 433,7.3ZM446.4,7.3 445.2,41.3 445.5,48.3 443.5,61.3 445.9,64.3 446.3,68.3 445.2,73.4 443.2,75.7 442,75.3 441.3,74.3 441,72.3 441.7,64.3 441,60.3 442.4,50.3 442.8,42.3 442,38.3 442.3,10.3 443.1,7.3ZM456.4,7.3 456.4,12.3 454.9,28.3 456.2,35.3 456.4,43.3 452.9,62.3 452.2,62.7 451.2,61.3 450.9,59.3 453.1,44.3 453.6,30.3 453.2,29.3 452.2,28.9 451,27.3 451.1,18.3 452.3,7.3ZM467.7,7.3 467.4,13.3 465.8,25.3 467.2,31.9 467.2,38.8 463.7,61.3 464,62.3 465.2,62.2 467,64.3 467.5,68.3 466.2,74.4 465.2,75.8 464.2,76 463.2,75.9 462.3,72.3 463.1,63.3 461.2,61 460.9,59.3 463.9,39.3 464.6,30.3 462.2,29 461.2,27.5 461.1,26.3 463,7.3ZM473.2,7.3 478.3,7.3 476.5,25.3 477.5,30.3 477.5,35.3 476.6,43.3 476.2,43.8 474.2,43.4 473.7,42.3 475.4,31.3 473.2,30.6 471.2,28.3ZM488.4,7.3 488.7,9.3 487,25.3 486.2,26.5 485.2,27.1 484.2,26.9 483.2,26 482.8,24.3 484.5,7.3ZM498,7.3 498.7,9.3 498.5,12.3 497.5,15.3 496.2,16.2 495.2,15.6 494.6,13.3 494.8,8.3 495.3,7.3ZM335.2,9.7 336.7,10.3 337.2,11.3 336.9,13.3 328.7,38.3 326.6,41.3 327.2,45.3 329.2,46.4 329.9,48.3 330.3,53.3 326.2,82.8 323.6,90.3 323.2,92.8 322,89.3 321.6,84.3 325.3,54.3 325.3,49.3 324.4,43.3 324.4,37.3 325.4,32.3 332,11.3 333.2,9.8ZM272.2,21.2 273.2,21.4 274.2,22.6 274.8,30.3 274.2,37.9 273.2,38.7 272.2,38.8 271.2,38.2 269.2,34.4 269.2,25.2 271.2,21.6ZM282.2,21.2 284.2,21.8 285.1,28.3 284.9,36.3 286.3,40.3 285.1,44.3 284.8,51.3 282.2,69.5 281.2,67.2 280.8,64.3 281.1,54.3 280.2,50.3 280.2,46.5 281.2,43.1 282.2,41.7 283.2,41.2 283.8,39.3 282.2,38.3 280.7,36.3 280.2,34.9 280.3,24.3 281.2,22ZM294.2,21.7 295.2,22.4 296,25.3 296.1,34.3 296.8,39.3 294.8,52.3 294.2,67 293.2,69.1 292.2,65.9 291.2,57.3 291.4,47.3 293.7,39.3 291.2,33.9 291,28.3 291.2,25.2 292.2,22.8 293.2,21.7ZM307.2,28.2 307.5,33.3 305.6,49.3 307.2,52 307.3,56.3 305.8,59.3 305.2,71.7 304.2,72.9 302.1,57.3 302,50.3 302.6,44.3 304.2,36.4 306.2,29.4ZM370.2,27.3 370.9,29.3 370.2,32.8ZM316.2,30.6 316.9,32.3 316.4,44.3 318.2,47.7 318.5,49.3 318.5,57.3 315.1,82.3 313.2,88.9 312.2,90.1 311.2,89.2 310.6,85.3 313.8,57.3 314,52.3 313.2,42.3 314.2,36.3ZM487.2,31.5 486.2,41.6 485.2,42.7 484.2,42.5 483.9,40.3 486.2,31.8ZM381.2,33.7 381.2,39.3 379.3,57.3 379.6,75.3 379.2,78 378.2,78.2 376.1,68.3 375.8,58.3 377.2,49.2 380.8,36.3ZM390.2,38.6 390.9,40.3 392.2,41.4 392.5,48.3 390.8,75.3 390.2,77.7 389.2,78.3 387.3,67.3 386.6,54.3 386.9,50.3 388.1,44.3ZM402.2,40.3 403.3,42.3 403,57.3 401.7,74.3 400.2,79 399.2,79.5 398.7,73.3 397.6,67.3 399.2,43.5 400.2,40.4ZM274.2,40.7 274.6,47.3 274.2,55.3 271.2,76.1 270.2,72.1 269.7,67.3 271.2,54.3 270,50.3 269.8,46.3 271.2,42.2 272.2,41.4 273.6,41.3ZM351.2,42.7 352.2,43.4 352.9,45.3 352.2,54.8 350.1,57.3 348.5,66.3 347.2,77.3 346.5,79.3 346,84.3 346.6,91.3 346.2,96.6 345.2,94.4 344.5,90.3 343.1,86.3 343.5,75.3 346.9,52.3 348.3,48.3 348.5,44.3 349.2,43.3ZM477.2,44 480.2,45.1 481.2,46.2 481.2,52.9 480.2,53.6 477.2,52.2 476.7,45.3ZM488.2,44.1 490.2,44.2 491.3,45.3 491.5,51.3 491.2,52.8 490.2,53.4 488.2,53.5 487.2,52.3 487.2,45.5ZM499.2,43.6 501.2,44.3 501.2,52.8 499.2,54.3 498.2,54.3 497.5,52.3 497.6,46.3 498.2,43.9ZM369.2,45.2 369.8,47.3 368.3,63.3 368.2,81 367.2,81.6 365.2,71.9 365,64.3 366.2,56.1ZM339.2,45.8 340.2,46.5 340.7,48.3 340.3,56.3 337.2,78 335.2,88.3 335.2,93.4 334.2,95 332.3,87.3 332.4,80.3 337.2,46.1 338.2,46.2ZM358.2,52.3 358.8,54.3 357.4,69.3 357.6,85.3 357.2,91.2 356.2,89.3 355.2,84 354.4,72.3 355.2,64.7ZM472.2,53.9 473.2,54.2 474.3,55.3 474.9,61.3 477.2,63.2 477.8,66.3 477.2,73.3 475.4,76.3 474.2,85.1 473.5,84.3 473.1,69.3 473.6,65.3 471.4,59.3 471.5,55.3ZM483.2,54.6 485.2,55.3 485.7,56.3 486.5,61.3 488.1,64.3 488.4,67.3 488.2,70.3 486.6,75.3 485.2,83.5 483.2,89.5 482.4,88.3 483.3,76.3 483,70.3 483.6,64.3 482.4,55.3ZM496.2,54.8 496.8,55.3 497.7,61.3 499.2,65.3 499.2,68.8 498.2,72.8 496.9,75.3 493.2,91.2 492.2,92.1 492,85.3 494.3,72.3 494.9,66.3 494,57.3 494.8,55.3ZM454.2,62.3 455.2,62.7 456.2,63.9 456.9,67.3 456.2,72.5 455.2,74.7 454.2,75.7 453.2,75.7 452.2,74.6 451.9,72.3 452.5,65.3 453.2,62.7ZM430.2,76.6 430.3,84.3 432,97.3 432.2,102.6 431.4,109.3 430.2,114.7 429.2,117.3 428.2,117.8 429.1,102.3 428.8,79.3 429.1,77.3ZM441.2,83.9 442.8,93.3 442.7,101.3 440.2,114.4 438.2,120.6 437.6,118.3 437.8,114.3 439.7,101.3 440.4,86.3ZM272.2,85.2 273.2,89.9 273.2,96.3 269.2,119.4 269.2,101.2 270.5,96.3ZM452.2,87.3 453.2,89.9 453.2,96.6 450.6,111.3 449.5,121.3 448,121.3 448.1,111.3ZM283.2,88.7 283.2,95.2 280.8,114.3 279.2,118.3 278.2,117 278.2,108.2 281.2,93.2 282.2,89.7ZM292.2,91.9 292.4,94.3 291.5,108.3 292.1,121.3 290.4,121.3 289.2,112.4 289.1,105.3 290.2,98ZM401.2,94.9 402.7,95.3 403.6,96.3 404.2,101.3 404.1,104.3 403.4,106.3 401.2,108.1 400.2,107.8 399.6,106.3 399.3,101.3 399.8,96.3 400.2,95.4ZM411.2,95.3 412.2,95.3 413.7,96.3 414.6,99.3 414.2,105.2 412.2,108 411.2,108 410.1,106.3 410.1,98.3ZM390.2,95.4 391.6,96.3 392.7,98.3 392.9,103.3 392.4,105.3 391.5,106.3 390.2,107.1 389.2,107.1 388.2,105.3 388.1,98.3 388.7,96.3ZM422.2,96.3 423.2,96.9 424.2,98.8 424.4,103.3 423.2,106.3 421.2,107 420.2,114.2 419.2,116.7 418.6,114.3 418.7,110.3 419.2,108.3 420.6,106.3 420.9,98.3 421.2,97.2ZM356.2,103.1 354.6,121.3 351.8,121.3 352.1,116.3 353.2,110.8 355.2,104ZM460.2,103 460.6,104.3 460.3,113.3 460.8,121.3 459.1,121.3 459.2,109.3ZM365.2,103.4 366,105.3 365.9,121.3 362.5,121.3 362.9,111.3 364.2,105.6ZM375.2,104.6 376.2,107.6 377.4,121.3 373.8,121.3 373.5,111.3 374.2,106.5ZM386.2,108.2 387.2,109.6 388.6,121.3 385.5,121.3 384.9,110.3 385.2,109.2ZM409.2,108.8 409.7,111.3 409.2,117.7 408.2,118 408.1,110.3ZM397.2,109.6 398.2,109.7 399.2,116.3 399,121.3 396.9,121.3 396.7,111.3ZM343.2,115.8 343.8,116.3 343.4,121.3 342.1,121.3ZM286.2,117.3 287.6,118.3 287.5,121.3 285.1,121.3 285.3,118.3ZM302.2,116.8 302.6,121.3 302,121.3ZM471.2,119.9 471.6,121.3 471.1,121.3Z"/><path fill="#ffbfbf" fill-rule="evenodd" d="M303.1,7.3 303.6,9.3 302.8,16.3 301.9,19.3 301.2,20.2 300.2,20.4 298.9,19.3 299.4,8.3 299.9,7.3ZM313.9,7.3 314.6,9.3 313.2,18.5 312.2,22.3 311.2,23.2 310.2,23 309.6,22.3 309.5,19.3 310.6,8.3 311.1,7.3ZM324.2,8.2 325.2,9.1 325.3,10.3 324.1,17.3 322.2,25 321.2,27.2 320.2,27.3 319.7,26.3 319.9,21.3 321.5,10.3 322.2,8.5ZM397.4,7.3 397.2,11.3 393.2,32.5 392.2,34.8 391.2,35.3 390.2,35.1 389.1,34.3 388.7,32.3 392.3,7.3ZM408.6,7.3 408.3,12.3 403.2,37.1 402.2,38 400.2,37.9 398.9,36.3 399.2,33.3 404,7.3ZM418.7,7.3 419.1,9.3 415.2,32.5 413.2,41.1 412.2,41.3 410.2,40.2 409.2,38.3 414.7,7.3ZM428.8,7.3 429.1,8.3 426.1,30.3 424.6,38.3 423.2,41.3 424.2,42.8 424.6,50.3 423.1,67.3 422.2,70.4 421.2,71.6 420.2,71.4 419.3,66.3 420.8,47.3 421.8,43.3 423.1,41.3 421.2,40.5 420.3,39.3 420.2,37.3 424.4,7.3ZM435.5,7.3 436,8.3 435.6,45.3 434.4,62.3 434.7,66.3 434.2,71.5 433.2,73.7 432.2,74.6 431.2,74.3 430.8,73.3 430.3,70.3 430.9,66.3 432.5,62.3 432.8,9.3 433.2,7.9 433.9,7.3ZM444.8,7.3 445.8,8.3 445.6,24.3 444.2,38.9 443.2,39.9 442.4,27.3 442.8,10.3 443.2,8.2ZM456.1,7.3 456.2,13.1 454.2,27.3 453.2,28.2 452.2,28.3 451.2,27.3 451.1,25.3 452.3,8.3 452.7,7.3ZM467.5,7.3 467.3,13.3 465.6,27.3 465.1,28.3 463.2,28.9 462.1,28.3 461.4,26.3 463.2,7.4ZM477.9,7.3 478.1,10.3 475.9,28.3 475.2,29.6 474.2,30.2 473.2,30.1 472.1,29.3 471.5,27.3 473.5,7.3ZM487.8,7.3 488.4,9.3 486.7,22.3 485.9,25.3 485.2,26.1 484.2,26.2 483.4,25.3 483.2,22.3 484.6,8.3 485.1,7.3ZM496.2,7.7 497.2,8 497.8,9.3 497.5,12.3 496.2,14.4 495.2,13.2 495,11.3 495.2,9.1ZM382.2,8.5 383.2,8.8 384.2,9.9 384.2,13.3 381.9,27.3 381.2,29.2 380.2,29.8 379.2,29.5 378.5,28.3 378.8,19.3 379.8,10.3 381.2,8.7ZM335.2,10 336.6,11.3 336.7,12.3 328.2,38.3 327.2,39.4 326.2,39.5 325.3,38.3 325.8,34.3 331.7,13.3 333.2,10.3ZM347.2,10.8 348.8,12.3 348.8,13.3 344.8,26.3 340.5,38.3 339.2,39.6 338.2,39.4 337.4,38.3 338.1,34.3 344.2,13.5 345.2,11.5ZM359.2,10.7 360.1,12.3 360.1,13.3 357.8,22.3 352.2,37.9 351.2,39.4 350.2,39.5 349.3,38.3 349.7,35.3 356.2,12.8 357.2,11.2ZM369.2,11.5 370.2,11.9 371,13.3 370.9,15.3 368.5,23.3 366.9,25.3 365.4,25.3 365.2,22.3 366.2,16.9 367.3,13.3 368.2,12ZM272.2,22.5 273.2,22.8 274.2,24.3 274.7,30.3 274.2,35.7 273.2,37.2 272.2,37.5 271.2,36.9 270.2,35.4 269.2,32.5 269.4,26.3 271,23.3ZM282.2,22.5 283.2,22.6 284.2,23.7 284.9,27.3 284.7,34.3 284.2,36.4 283.2,37.4 282.2,37.3 281.2,36.3 280.2,32.3 280.5,25.3 281.2,23.3ZM293.2,23.1 294.2,23.2 295.2,24.2 295.9,28.3 295.2,36.1 294.2,36.9 293.2,36.7 292.2,35.5 291.2,32.1 291.4,26.3 292.2,24ZM305.2,38.1 305.4,41.3 304.6,49.3 304.7,50.3 306.4,51.3 306.8,55.3 306.2,57.1 305.2,57.4 304.5,58.3 304.2,60.7 303.2,57.2 303,48.3 304.2,40.5ZM465.2,38.5 465.7,39.3 465.7,42.3 465.2,46.9 463.2,55.4 462.7,54.3 463.2,48.3ZM295.2,39.4 295.2,44 293.7,51.3 293.2,57.1 292.4,55.3 292.7,51.3 292.1,47.3 293.8,44.3ZM402.2,41.6 403.1,47.3 401.7,68.3 401.2,70.6 400.2,72.5 398.5,70.3 398,67.3 399.2,48.3 400.5,43.3 401.2,41.9ZM413.2,41.4 414.2,48.3 412.7,67.3 411.2,71.9 410.2,72.1 409.2,69.5 409,67.3 410.2,49.3 411.2,44 412.2,41.4ZM272.2,42.6 273.7,43.3 274.3,45.3 274.2,51.3 273.2,53.8 272.2,53.7 271.2,52.7 270.1,49.3 270.4,45.3 271.2,43.3ZM283.2,42.7 284.2,43.3 284.5,44.3 284.7,49.3 284.2,52.1 283.2,53.8 282.2,53.8 280.8,51.3 280.4,47.3 281.2,43.9 282.2,42.7ZM314.2,43.7 315.2,44.8 315.5,48.3 316.2,49.1 317.2,48.3 318.2,49.7 318.4,53.3 314.8,81.3 313.2,86.1 312.2,86.9 311.4,85.3 311.3,81.3 314.3,58.3 314.6,51.3ZM351.2,43.6 352.1,44.3 352.3,45.3 352,53.3 351.2,55.3 350.2,55.5 349.6,56.3 346.3,78.3 345.2,83.5 344.2,83.7 343.9,81.3 344.2,75 347.6,53.3 349.2,49.7 349.6,44.3ZM391.2,43.4 392,45.3 392.2,47.3 391.2,65.5 390.2,70.1 389.2,70.9 388,67.3 387.7,52.3 388.2,48.9ZM454.2,44.9 454.8,45.3 454.2,51.1 453.8,50.3ZM478.2,45 480.2,45.6 481,47.3 481,51.3 480.2,52.9 478.2,52.4 477.2,51.1 477.2,45.9ZM489.2,44.7 490.2,44.9 491.2,46.2 491.4,49.3 490.9,52.3 489.2,53 487.8,52.3 487.3,49.3 487.9,45.3ZM499.2,44.5 501.2,45.2 501.2,52.1 499.2,53.4 498,52.3 497.7,49.3 498.2,45.4ZM328.2,48 329.2,48.2 329.5,49.3 329.8,54.3 325.8,82.3 324.2,86.7 323.2,87.3 322.2,83.5 322.8,77.3 326.2,51.3 327,49.3ZM339.2,47.9 340.2,49.3 340.2,53.8 336.2,81.9 335.2,85.6 334.2,87.2 333.1,86.3 332.9,80.3 336.8,52.3 338.2,48.6ZM378.2,52.2 378.2,69.8 377.2,68 376.7,61.3 377.2,54.7ZM473.2,55.6 473.2,60.7 472.7,57.3ZM484.2,56.1 485.3,62.3 487.2,63.6 488.1,67.3 487.2,72.1 485.2,75.2 484.2,74.3 483.3,71.3 484.2,64.3 483.8,57.3ZM496.2,59.4 496.7,63.3 498.2,64.5 498.8,68.3 498.2,71.4 496.2,74.3 495.2,79.5 494.2,82.2 494,78.3 495,73.3 495,69.3 495.7,64.3 495.4,61.3ZM465.2,63.3 466.2,63.8 467,65.3 467.2,69.3 466.2,73.1 465.2,74.4 464.2,74.5 463.1,73.3 462.8,70.3 463.6,65.3 464.2,64ZM476.2,63.1 477.2,64.3 477.5,69.3 476.6,73.3 475.2,74.5 474.2,74.1 473.8,73.3 473.5,68.3 474.5,64.3ZM444.2,63.4 445.2,64 445.8,65.3 446,68.3 445.2,72.2 444.2,73.9 443.2,74.3 442.2,73.5 441.7,72.3 441.6,69.3 442.5,65.3 443.2,64.1ZM455.2,63.7 456.3,65.3 456.5,68.3 455.8,72.3 454.2,74.3 453.2,74 452.4,72.3 452.4,68.3 453.2,65 454.2,63.7ZM402.2,95.9 403.2,96.7 403.7,98.3 403.9,103.3 403.2,105.9 402.2,106.8 401.2,107.1 399.9,105.3 399.7,99.3 400.2,96.9 401.2,95.9ZM412.2,96.2 413.2,96.7 414.1,98.3 414.4,101.3 414.1,104.3 413.2,106.2 412.2,106.9 411.2,106.5 410.6,105.3 410.2,101.3 411.2,96.6ZM390.2,96.6 391.2,97 392.1,98.3 392.6,101.3 392.2,104.4 391.2,105.7 390.2,106.2 389,105.3 388.4,101.3 388.8,98.3ZM422.2,97.9 423.2,98 424.2,100.7 424.2,102.4 423.2,105.1 422.2,105.1 421.2,102.5 421.2,100.3ZM364.2,114.2 364.5,121.3 363.9,121.3ZM375.2,113.7 376.3,121.3 375,121.3 374.8,116.3Z"/><path fill="#ffaaaa" fill-rule="evenodd" d="M302.5,7.3 303.3,9.3 302.6,15.3 301.3,19.3 300.2,19.7 299.7,19.3 299.3,17.3 299.6,9.3 300.6,7.3ZM312.8,7.3 314,8.3 314.1,10.3 313.2,16.8 312.2,20.6 311.2,22.4 310.2,21.3 310,15.3 311,8.3 312.1,7.3ZM397.3,7.3 397.2,10.9 393.2,31.8 392.2,34.3 391.2,34.8 390.2,34.6 389.2,33.7 388.9,32.3 392.5,7.3ZM408.5,7.3 408.2,12.3 403.2,36.3 402.2,37.5 401.2,37.6 399.4,36.3 399.2,35.3 404.2,7.3ZM418.5,7.3 418.9,9.3 413.7,38.3 413.2,39.6 412.2,40.3 411.2,40.2 410,39.3 409.7,38.3 414.9,7.3ZM428.6,7.3 428.9,8.3 427,23.3 424.4,37.3 423.2,39.7 421.2,39.9 420.4,38.3 424.7,7.3ZM434.2,7.8 435.4,8.3 435.7,10.3 435.4,37.3 434.2,54.3 433.2,50.1 432.9,36.3 433.2,9.3ZM444.2,8.1 445.2,8.4 445.5,10.3 445.2,23.3 444.2,32.2 443.2,31.2 442.9,24.3 443.4,10.3ZM455.7,7.3 456.2,8.3 456.2,10.3 454.7,22.3 453.5,27.3 452.2,27.7 451.4,26.3 451.4,23.3 452.4,9.3 453.1,7.3ZM467.3,7.3 467.2,12.6 465.2,26.8 464.2,28.2 463.2,28.3 462.2,27.7 461.8,26.3 463.6,7.3ZM477.5,7.3 477.8,10.3 475.5,27.3 474.6,29.3 473.2,29.6 472,28.3 471.9,26.3 473.8,7.3ZM486.9,7.3 487.9,8.3 488.1,9.3 487.2,16.8 485.2,24.9 484.2,25.3 483.8,18.3 484.8,9.3 485.2,7.9 486,7.3ZM323.2,8.6 324.8,9.3 325,10.3 323.2,19.9 321.2,26.1 320.6,25.3 320.4,23.3 320.8,17.3 322.1,9.3ZM382.2,9 383.2,9.2 384.1,10.3 384.1,12.3 382.2,24.4 381.3,28.3 380.2,29.1 379.2,28.6 378.9,27.3 379.2,19.3 380.4,10.3ZM496.2,9.2 496.5,10.3 496.2,12.3ZM335.2,10.5 336.1,11.3 336.3,12.3 332.4,25.3 328.2,36.8 327.2,38.5 326.2,38.4 326.1,36.3 327.8,28.3 332.5,12.3 333.2,10.9 334.2,10.3ZM347.2,11.3 348.2,12.3 348.1,14.3 343.2,30 340.2,37.8 339.2,38.8 338.2,38.4 338.1,37.3 340.9,25.3 344.9,12.3 346.2,11.3ZM358.2,11.4 359.2,11.7 359.8,13.3 357.6,21.3 352.2,36.3 351.2,38.3 350.2,38.4 351.2,31.5 356.2,13.9 357.2,11.8ZM369.2,12.3 370.6,13.3 370.5,15.3 368.3,22.3 367.2,24.2 366.2,24.9 365.6,23.3 366.2,18.3 367.8,13.3ZM272.2,23.6 273.2,23.8 274.2,25.7 274.5,30.3 274.2,34.3 273.2,36.2 272.2,36.5 271.2,35.9 270.3,34.3 269.4,30.3 270.2,25.8 271.2,24.1ZM282.2,23.6 283.2,23.7 284.2,24.9 284.8,30.3 284.2,35.1 283.2,36.3 282.2,36.4 281.2,35.4 280.8,34.3 280.4,30.3 280.9,25.3ZM293.2,24.3 294.2,24.3 295.2,25.6 295.7,30.3 295.2,34.3 294.2,35.6 293.2,35.7 291.8,33.3 291.4,30.3 292.2,25.2ZM272.2,43.6 273.5,44.3 274.2,48.3 273.2,52 272.2,52.4 271.2,51.7 270.4,48.3 270.8,45.3ZM282.2,43.7 283.2,43.7 284.2,45.1 284.5,48.3 283.9,51.3 283.2,52.2 282.2,52.3 281.2,51.4 280.7,48.3 281.1,45.3ZM402.2,44 402.7,48.3 401.4,67.3 400.2,69.9 399.2,69.8 398.4,67.3 399.7,48.3 401.2,44ZM413.2,44 413.8,48.3 412.3,67.3 411.2,69.8 410.2,69.8 409.5,67.3 410.8,48.3 412.2,44ZM423.2,43.7 424.1,46.3 424.2,49.7 422.6,67.3 422.2,68.9 421.2,70 420.2,69.3 419.8,67.3 421.2,48 422.2,44.6ZM351.2,45 351.2,53.7 350.6,53.3 350.5,46.3ZM391.2,46.3 391.6,48.3 391.2,57.9 390.3,67.3 389.2,68.1 389,62.3 390,49.3ZM478.2,45.8 480.2,46.3 480.8,48.3 480.2,52 479.2,52.3 478.2,51.8 477.4,50.3 477.4,47.3ZM489.2,45.3 490.2,45.6 490.7,46.3 491.2,49.3 490.8,51.3 490.2,52.2 489.2,52.4 488.2,51.9 487.6,49.3 488,46.3ZM499.2,45.5 500.2,45.6 501.2,46.4 501.2,51.3 500.2,52.2 499.2,52.5 498.3,51.3 498,49.3 498.2,47ZM317.2,50.1 318,53.3 314.3,81.3 313.2,83.9 312.2,84.1 311.9,80.3 315.7,52.3ZM328.2,49.7 329.2,50.4 329.3,54.3 325.5,81.3 324.2,84.6 323.2,84.4 323,83.3 323.1,78.3 326.7,52.3ZM339.2,49.8 339.8,53.3 336.2,79.4 335.2,83.6 334.2,84.6 333.4,82.3 333.4,80.3 337.2,52.9 338.2,50.4ZM433.2,64.2 434.3,65.3 434.3,69.3 433.4,72.3 432.2,73.5 431.2,72.9 430.7,69.3 431.3,66.3 432.2,64.7ZM465.2,64.3 466.2,64.6 466.5,65.3 466.9,69.3 466.2,72 465.2,73.3 464.2,73.3 463.2,71.5 463.2,69.1 464.2,65.3ZM476.2,64.2 477.2,65.6 477.2,70.2 476.2,73 475.2,73.4 474.1,72.3 473.9,68.3 474.8,65.3ZM486.2,64.2 487.3,65.3 487.6,69.3 486.4,72.3 485.2,73.3 484,72.3 483.7,68.3 484.7,65.3ZM444.2,64.6 445.3,65.3 445.6,69.3 444.2,72.8 443.2,73 442.1,71.3 442.1,68.3 443.2,65.4ZM455.2,64.7 456.2,66.4 456.2,69.1 455.2,72.4 454.2,73.1 453.1,72.3 452.8,68.3 453.9,65.3ZM497.2,65.7 498.2,66.5 498.3,69.3 497.2,71.6 496.2,71.6 495.7,70.3 496.2,66.7ZM402.2,96.8 403.3,98.3 403.6,103.3 402.9,105.3 402.2,106.1 401.2,106.1 400.1,104.3 399.9,100.3 400.8,97.3ZM412.2,97.1 413.6,98.3 414.2,101.3 413.2,105.3 412.2,105.9 411.2,105.2 410.6,101.3 411.2,97.8ZM390.2,97.9 391.3,98.3 392.2,101.3 391.5,104.3 390.2,105.1 389.2,103.9 388.9,101.3 389.2,99.1ZM423.2,99.6 423.6,101.3 423.2,103.5 422.2,103 422,101.3 422.2,100Z"/><path fill="#ff9595" fill-rule="evenodd" d="M301.2,7.5 302.2,7.6 302.7,8.3 302.9,10.3 302.2,15.6 301.2,18.2 300.2,18.6 299.6,15.3 300.2,8.3ZM312.2,7.8 313.4,8.3 313.7,10.3 312.8,16.3 312.2,18.7 311.2,20.3 310.5,15.3 311.1,9.3ZM397.1,7.3 397.2,10.3 394.2,26.3 392.5,33.3 391.2,34.4 390.2,34.1 389.2,32.3 392.8,7.3ZM408.3,7.3 408.2,11.6 404.2,31.1 402.8,36.3 402.2,37 401.2,37.2 399.8,36.3 399.6,34.3 404.5,7.3ZM418.3,7.3 418.7,9.3 414.2,34.7 413.2,38.7 412.2,39.7 411.2,39.7 410.2,38.6 410.1,37.3 415.1,7.3ZM428.3,7.3 428.6,9.3 425.5,30.3 423.6,38.3 422.2,39.6 421.2,39.3 420.8,37.3 424.9,7.3ZM455.2,7.3 456.1,9.3 455.2,17.6 453.4,26.3 452.2,27 451.8,19.3 452.7,9.3 453.2,7.8 453.8,7.3ZM466.9,7.3 467.2,11 465.2,24.8 464.4,27.3 463.2,27.7 462.2,26.4 463.6,8.3 463.9,7.3ZM477.1,7.3 477.6,9.3 476.2,21.4 474.6,28.3 473.2,28.9 472.3,27.3 472.2,25.3 474.1,7.3ZM486.2,7.8 487.4,8.3 487.6,10.3 486.5,18.3 485.2,22.6 484.2,21 484.2,16.8 485.1,9.3ZM323.2,9.1 324.2,9.3 324.5,10.3 324.2,13.1 322.2,22 321.2,22.8 321.2,17.2 322.2,10.7ZM434.2,8.9 434.9,9.3 435.1,13.3 434.2,43.1 433.5,36.3ZM382.2,9.4 383.2,9.6 383.7,10.3 383.8,12.3 382.2,23.1 381.2,27.1 380.2,28.4 379.4,26.3 379.6,19.3 380.6,11.3 381.2,9.9ZM335.2,10.9 335.8,12.3 332.2,24.7 328.2,34.9 327.2,36 327.2,34.1 329,25.3 332.9,12.3 334.2,10.8ZM347.2,11.8 348,13.3 344.2,26.1 341.2,33.9 339.2,37.4 339.2,34.3 340.2,29.5 345.3,12.3 346.2,11.7ZM358.2,11.9 359.2,12.5 359.2,14.1 355.2,27.3 352.2,34.3 351.8,32.3 353.2,25.5 357.2,12.3ZM369.2,12.9 370.2,13.5 370.2,15.2 368.2,21.2 367.2,22.9 366.2,23.4 366.2,19.9 368.2,13.3ZM272.2,24.5 273.2,24.7 274,26.3 274.3,30.3 273.7,34.3 273.2,35.3 272.2,35.6 270.9,34.3 269.9,30.3 270.6,26.3 271.2,25.1ZM282.2,24.5 283.2,24.6 284.2,26.1 284.6,30.3 284.2,33.9 283.2,35.4 282.2,35.5 281.2,34.3 280.6,30.3 281,26.3ZM293.2,25.3 294.2,25.4 295.2,27.1 295.5,30.3 295,33.3 294.2,34.6 293.2,34.7 292.2,33.3 291.7,30.3 292.2,26.4ZM272.2,44.5 273.4,45.3 273.9,48.3 273.2,51 272.2,51.4 271.2,50.6 270.8,48.3 271.2,45.5ZM282.2,44.6 283.2,44.7 283.6,45.3 284.2,48.3 283.2,51.2 282.2,51.3 281.2,50 281,48.3 281.2,46.1ZM401.2,46 402.2,46.8 402.3,49.3 401.2,63.3 400.2,68.5 399.2,68.3 399,66.3 400.2,50ZM412.2,46 413.2,46.7 413.3,49.3 412.2,63.1 411.2,68.4 410.2,68.2 410,66.3 411.3,49.3ZM423.2,46 423.6,49.3 422.2,66.3 421.2,68.6 420.2,67.3 422,47.3 422.2,46.6ZM489.2,46.1 490.2,46.5 490.8,49.3 490.3,51.3 489.2,51.7 488.2,50.8 488,49.3 488.2,47.1ZM479.2,46.4 480.2,47.3 480.4,49.3 480.2,50.8 479.2,51.6 478.2,51 477.7,49.3 478.2,46.7ZM499.2,46.6 500.2,46.6 501.2,48.4 500.9,50.3 500.2,51.3 499.2,51.4 498.5,49.3ZM317.2,52.1 317.2,55.6 316.7,56.3 316.2,61.5 316.2,55.2ZM328.2,51.4 328.8,53.3 325.2,79.6 324.2,82.5 323.6,81.3 327.2,53.5ZM339.2,52 339.2,54.5 335.3,81.3 334.2,81.8 338.2,52ZM315.2,62.8 315.2,69.1 314.7,70.3 314.2,76.6 313.2,81.7 312.8,80.3 313.2,75.9 313.7,74.3 314.2,68.9 314.7,68.3ZM465.2,65.3 466.2,65.7 466.6,68.3 466.2,70.9 465.2,72.3 464.2,72.1 463.6,70.3 464.2,66.5ZM476.2,65.2 477.1,67.3 477,69.3 476.2,71.9 475.2,72.3 474.2,70.3 474.3,68.3 475.2,65.9ZM433.2,65.3 433.9,66.3 434,68.3 433.2,71.7 432.2,72.4 431.2,71.4 431.2,68.3 432.2,65.7ZM444.2,65.7 445.2,66.8 445.2,69.3 444.2,71.6 443.2,71.7 442.7,70.3 442.7,68.3 443.2,66.7ZM455.2,65.8 455.8,67.3 455.7,69.3 455.2,71.2 454.2,71.9 453.2,70.3 453.3,68.3 454.2,66.1ZM486.2,65.3 487.2,67.1 487.1,69.3 486.2,71.6 485.2,72.2 484.2,71.2 484.1,68.3 485.2,65.8ZM402.2,97.8 403.2,99.3 403.4,101.3 403.2,103.6 402.2,105.2 401.2,105.1 400.7,104.3 400.1,101.3 400.9,98.3ZM412.2,98.1 413.2,98.6 413.8,101.3 413.2,104.3 412.2,104.9 411.2,103.8 410.9,101.3 411.2,99.2ZM390.2,99.3 391.2,99.8 391.5,101.3 391.2,103.2 390.2,103.7 389.5,101.3Z"/><path fill="#ff8080" fill-rule="evenodd" d="M301.2,8 302.2,8.2 302.6,9.3 302.2,13.9 301.2,16.7 300.2,16.5 299.9,14.3 300.3,9.3ZM396.8,7.3 397.2,9.3 394.2,25.6 392.3,33.3 391.2,34 389.9,33.3 389.6,31.3 393,7.3ZM408.1,7.3 408.2,10.9 404.2,30.2 402.4,36.3 401.2,36.7 400.4,36.3 399.9,35.3 400.1,32.3 404.8,7.3ZM418.1,7.3 418.6,9.3 415.2,28.9 413.2,37.3 412.2,39.1 411.2,39 410.6,37.3 411.2,31.2 415.4,7.3ZM427.9,7.3 428.4,9.3 426.3,24.3 423.4,37.3 422.2,38.9 421.1,38.3 421.2,35 425.1,7.3ZM454.2,7.5 455.2,7.7 455.8,9.3 455.2,15.7 453.2,25 452.2,25.1 452,18.3 453.3,8.3ZM466.5,7.3 467.1,9.3 466.1,18.3 464.3,26.3 463.2,26.7 462.7,24.3 462.7,19.3 463.7,9.3 464.3,7.3ZM476.5,7.3 477.3,9.3 476.2,19.8 474.3,27.3 473.2,27.8 472.7,25.3 472.8,19.3 474,8.3 474.6,7.3ZM312.2,8.5 313.2,9.1 312.2,16.8 311.2,17.5 311.2,12.5ZM486.2,8.5 487.2,9.1 486.2,17.7 485.2,19.8 484.8,16.3 485.2,12.2ZM323.2,10 323.7,10.3 323.2,16.1 322.2,19.7 321.9,18.3 322.2,14.3ZM382.2,9.7 383.4,10.3 383.4,14.3 382.2,21.8 381.2,25.3 380.2,26.4 380,18.3 380.9,11.3 381.3,10.3ZM334.7,11.3 335.4,12.3 331.2,26.4 329.2,30.9 328.9,28.3 330.2,22.6 333.2,12.7 334,11.3ZM347.2,12.2 347.4,14.3 345.2,21.5 341.2,32.3 340.6,31.3 342.2,23.2 345.2,13.3 346.2,12.1ZM358.2,12.4 358.7,13.3 355.2,25.9 353.2,29.7 353.2,27.8 357.2,13.4ZM369.2,13.5 369.8,14.3 368.2,19.9 367.2,21.4 366.8,20.3 367.2,17.6 368.2,14.4ZM272.2,25.3 273.2,25.6 274.2,30.3 273.2,34.3 272.2,34.7 270.9,33.3 270.3,30.3 270.7,27.3 271.2,26.1ZM282.2,25.4 283.2,25.5 283.7,26.3 284.4,30.3 283.9,33.3 283.2,34.5 282.2,34.6 281.2,33.4 280.8,30.3 281.2,26.7ZM293.2,26.3 294.2,26.4 294.7,27.3 295.2,30.3 294.3,33.3 293.2,33.7 292.2,32 292,30.3 292.2,28ZM272.2,45.5 273.2,46.1 273.5,48.3 273.2,49.8 272.2,50.5 271.1,48.3 271.2,47.1ZM282.2,45.6 283.2,45.8 283.7,48.3 283.2,50.1 282.2,50.4 281.4,48.3ZM489.2,47.1 490.2,47.9 490.3,49.3 490.2,50.1 489.2,50.8 488.5,49.3ZM479.2,47.4 479.9,49.3 479.2,50.6 478.1,49.3 478.2,48.1ZM499.2,48.1 500.2,48.2 500.2,49.7 499.2,49.8ZM433.2,66.5 433.5,68.3 433.2,70.3 432.2,71.2 431.7,70.3 431.7,68.3 432.2,66.9ZM444.2,67.2 444.5,68.3 444.2,70.2 443.3,69.3ZM465.2,66.4 466.2,67.3 466.3,68.3 465.2,71.2 464.2,70.4 464.1,69.3ZM476.2,66.4 476.6,68.3 476.3,70.3 475.2,71 474.9,68.3 475.2,67.2ZM486.2,66.6 486.5,69.3 486.2,70.4 485.2,71 484.7,68.3 485.2,67ZM455.2,67.8 455.2,69.3 454.2,70.3 454.2,67.8ZM402.2,98.8 403,101.3 402.2,104.2 401.2,104.1 400.6,101.3 401.2,98.9ZM412.2,99.2 413.2,100.1 413.4,101.3 413.2,102.9 412.2,103.8 411.4,101.3Z"/><path fill="#ff6a6a" fill-rule="evenodd" d="M396.5,7.3 397,9.3 395.1,20.3 392.4,32.3 391.2,33.6 390.2,33 390,32.3 390.1,28.3 392.9,8.3 393.3,7.3ZM407.8,7.3 408.2,10 405.2,25.1 403.2,33.2 402.2,35.8 401.2,36.3 400.4,35.3 401,28.3 404.6,8.3 405,7.3ZM417.7,7.3 418.4,9.3 416.2,22.8 414.2,32.1 412.2,38.1 411.2,37.6 411.2,34.3 413.2,19.7 415.3,8.3 415.8,7.3ZM427.5,7.3 428.2,9.3 426.2,23.6 424.2,32.7 422.2,38.1 421.7,36.3 422.2,27.7 425.1,8.3 425.6,7.3ZM454.2,8 455.3,8.3 455.5,10.3 454.2,20.1 453.2,23 452.5,21.3 452.4,17.3 453.2,9.7ZM465.7,7.3 466.7,8.3 466.8,10.3 465.2,21.9 464.2,24.7 463.2,24.3 463,17.3 464.1,8.3 465.1,7.3ZM475.2,7.4 476.2,7.6 477,9.3 476.1,18.3 474.2,25.4 473.2,24.6 473.1,18.3 474.2,8.5ZM301.2,8.7 302.2,9.3 301.2,15.2 300.5,14.3ZM382.2,10.1 383.2,10.7 383.3,12.3 382.2,20.4 381.2,23.4 380.4,22.3 380.3,19.3 381.2,11.8ZM334.2,12.1 334.2,14.8 331.2,24.7 330.5,24.3 331.2,21.2ZM346.2,12.7 347,13.3 346.2,16.7 342.2,28.5 341.9,27.3 342.2,24.7 345.2,14.7ZM330.2,24.7 330.6,25.3 330.2,26.6ZM272.2,26.1 273.2,26.6 273.9,30.3 273.2,33.4 272.2,33.9 271.2,32.8 270.7,30.3 271.1,27.3ZM282.2,26.2 283.2,26.4 283.7,27.3 284.2,30.3 283.4,33.3 282.2,33.8 281.3,32.3 281.2,28ZM293.2,27.5 294.2,27.7 294.7,30.3 294.2,32.3 293.2,32.5 292.5,30.3ZM272.2,46.9 272.7,48.3 272.2,49.1ZM282.2,47.1 283,48.3 282.2,48.8ZM402.2,100.1 402.2,102.9 401.2,102.5 401.1,101.3 401.2,100.4Z"/><path fill="#ff5555" fill-rule="evenodd" d="M396.3,7.3 396.8,9.3 394.8,21.3 392.2,32 391.2,33 390.5,32.3 390.4,28.3 391.1,20.3 392.9,9.3 393.7,7.3ZM407.5,7.3 408.1,9.3 405.2,24.4 403.2,32.1 402.2,34.8 401.2,35.4 400.9,33.3 401.2,28.2 404.2,11.1 405.2,7.5ZM417.2,7.3 418.1,8.3 418.2,9.3 416.2,21.7 414.2,30.7 412.2,35.7 412,29.3 413.2,20.7 415.3,9.3 416.2,7.4ZM426.5,7.3 427.2,7.4 428,9.3 426.2,22 424.2,31.1 423.2,34.3 422.2,35.3 422.2,29.9 425.2,8.4ZM465.2,7.7 466.4,8.3 466.5,10.3 465.2,20.4 464.2,22.8 463.4,21.3 463.2,17.6 464.1,9.3ZM475.2,7.9 476.3,8.3 476.6,10.3 475.5,19.3 474.2,23.1 473.5,21.3 473.4,18.3 474.2,10.1ZM454.2,8.5 455.2,9.1 454.2,18.4 453.2,20.7 452.9,16.3 453.8,9.3ZM382.2,10.8 382.7,11.3 382.2,17.9 381.2,21.3 380.8,19.3 381.2,15.3ZM272.2,27.1 273.2,27.7 273.5,30.3 273.2,32.4 272.2,32.9 271.1,30.3 271.3,28.3ZM282.2,27.2 283.2,27.3 283.8,30.3 283.2,32.6 282.2,32.8 281.4,30.3Z"/><path fill="#ff4040" fill-rule="evenodd" d="M395.8,7.3 396.6,9.3 395.2,18.2 393.2,27.5 392.2,30.8 391.2,32 390.8,29.3 391.1,22.3 393.1,9.3 394.1,7.3ZM407,7.3 407.8,8.3 407.9,9.3 404.2,27.6 402.2,33.3 401.4,31.3 402.2,22.3 405,8.3 406,7.3ZM417.2,7.7 418,9.3 415.2,25.5 413.2,31.9 412.7,31.3 412.5,29.3 413.2,21.9 415.6,9.3 416.2,7.8ZM426.2,7.7 427.2,7.9 427.7,9.3 425.2,25.6 423.2,32 422.8,29.3 423.2,22.5 425.2,9.5ZM465.2,8.2 466.2,8.7 466.2,11.5 465.2,18.8 464.2,20.7 463.7,17.3 464.2,11.5ZM475.2,8.6 476.2,9.2 475.2,18.8 474.2,20.6 473.9,18.3 474.2,13.6ZM272.2,28.2 273.1,29.3 273.2,30.3 272.2,31.8 271.7,30.3ZM282.2,28.3 283.2,28.8 283.3,30.3 283.2,31.3 282.2,31.6Z"/><path fill="#ff2b2b" fill-rule="evenodd" d="M395.3,7.3 396.2,8 396.5,9.3 395.2,17.4 393.2,26.6 392.2,29.4 391.2,29.4 391.3,22.3 393.2,9.8 394.2,7.6ZM406.2,7.5 407.2,7.8 407.5,8.3 407.2,12.7 404.2,26.6 402.2,31.1 401.9,28.3 402.5,22.3 405,9.3ZM417.2,8.2 417.6,9.3 415.2,24.2 414.2,27.5 413.2,29.1 413.2,23.6 415.2,12 416.2,8.3ZM426.2,8.1 427.2,8.5 427.2,11.4 425.2,24.1 424.2,27.6 423.2,28.7 423.2,24.4 425.2,10.9ZM465.2,9.2 465.5,10.3 465.2,15.8 464.8,14.3Z"/><path fill="#ff1515" fill-rule="evenodd" d="M395.2,7.6 396.2,8.7 396.2,10.4 394.2,21.8 392.2,27.8 391.6,24.3 392.2,17.3 393.6,9.3 394.2,7.9ZM406.2,7.9 407.3,8.3 407.2,11.7 405.2,22 403.2,28.1 402.5,26.3 402.8,22.3 405.2,9.3ZM417.2,9.1 415.2,22.1 414.2,25.6 413.8,23.3 416.2,9.2ZM426.2,8.9 426.8,9.3 426.2,15.4 424.2,25.5 423.9,23.3 424.2,19.6Z"/><path fill="#ff0000" fill-rule="evenodd" d="M395.2,8 396,9.3 394.2,20.9 393.2,24.4 392.2,25.9 391.9,21.3 393.2,12.7 394.2,8.3ZM406.2,8.3 407.2,8.9 407.2,10.3 404.2,24.4 403.2,26.1 403.2,21 405.2,10.7Z"/><path fill="#eaeaff" fill-rule="evenodd" d="M272.3,7.3 270.2,18.8 269.2,21.6 269.2,7.3ZM282.1,7.3 281.1,18.3 279.6,23.3 279.7,36.3 281.5,40.3 279.8,45.3 279.7,55.3 278.8,65.3 279.9,86.3 279.3,94.3 276.6,110.3 276.3,121.3 271.9,121.3 272.1,110.3 274.7,96.3 275.5,87.3 274.2,65.3 275.5,54.3 275.1,45.3 277.1,40.3 275.2,35.8 275.3,23.3 276.6,19.3 277.7,7.3ZM298.4,7.3 298.3,13.3 297.3,19.3 295.2,19.9 293.2,18.9 292.3,19.3 290.7,23.3 290.7,34.3 292.4,40.3 290.7,46.3 289.8,57.3 290.5,81.3 290.1,88.3 287.6,103.3 287.3,115.3 284.6,117.3 284.1,121.3 280.1,121.3 280.5,117.3 282.4,115.3 283.2,103.3 285.8,90.3 286.5,84.3 286.4,76.3 285.2,66.2 285,59.3 285.7,53.3 285.7,45.3 287.8,40.3 287.7,39.3 285.6,35.3 285.5,25.3 286,22.3 287.9,19.3 288,7.3ZM309.4,7.3 309.3,11.3 307.9,19.3 307.2,20.6 304.1,22.3 304.1,27.3 303.3,34.3 300.8,50.3 301.4,75.3 301,81.3 298.5,96.3 298.2,102.3 299.2,121.3 294.6,121.3 293.7,104.3 294.2,97.6 297,83.3 297.3,78.3 295.9,57.3 296,51.3 298,38.3 296.7,33.3 296.8,24.3 298.2,21.7 301.2,22 303.2,20.6 304.6,7.3ZM319.2,7.5 320.2,8 320.5,10.3 318.5,22.3 317.7,24.3 315.2,25.4 314.3,26.3 311.9,42.3 313.2,53.3 311.2,74.3 309.6,84.3 308.7,98.3 310,121.3 305.8,121.3 304.7,101.3 305.1,92.3 304.8,84.3 306.6,70.3 307.2,59.3 307.9,56.3 307.7,51.3 306.8,48.3 307.1,43.3 310.4,26.3 311,25.3 313.2,23.8 313.9,22.3 316,8.3 317.2,7.5ZM332.6,7.3 336.6,7.3 336.3,8.3 335.2,8.5 333,8.3ZM347.3,7.3 346.7,9.3 344,11.3 335.4,39.3 333.6,41.3 333.8,43.3 335.4,46.3 335.8,51.3 335.4,56.3 330.6,89.3 331.7,105.3 331.2,113.4 329.8,121.3 326.2,121.3 327.1,116.3 327.7,108.3 327.3,100.3 326.2,91.4 326.3,86.3 330.9,53.3 330.7,47.3 329.1,43.3 329.1,40.3 338.3,12.3 339.2,11 342.7,9.3 343,7.3ZM357.3,7.3 349.4,31.3 347.3,36.3 346.2,37.6 344.9,38.3 344.4,39.3 344.8,43.3 346.1,47.3 346.2,49.3 341.6,83.3 341.6,88.3 342.6,96.3 342.2,106.3 339.7,121.3 335.9,121.3 338,110.3 338.5,104.3 338,94.3 336.8,88.3 337.1,81.3 341.9,48.3 341.6,45.3 340.5,42.3 340.7,41.3 342.8,36.3 350.1,12.3 352.7,9.3 353,7.3ZM367.1,7.3 366.4,13.3 364.7,19.3 364.1,25.3 364.9,26.3 367.7,26.3 368.6,27.3 369,40.3 368.7,42.3 366.5,45.3 363.7,63.3 363.5,71.3 364.4,89.3 363.9,96.3 361.5,110.3 361.1,121.3 356.1,121.3 357.2,110.3 359.7,98.3 360.3,93.3 358.8,69.3 359.2,63.3 361.9,49.3 362.7,42.3 362.1,33.3 361.2,32.7 359.2,36.1 357.6,41.3 356,43.3 356.5,48.3 356.4,53.3 354.8,61.3 353.5,71.3 353.1,82.3 353.7,93.3 353.2,101.3 350.7,115.3 350.2,121.3 345.8,121.3 346.2,116.7 348.9,103.3 349.2,98.3 349.1,92.3 347.9,86.3 346.9,84.3 347,80.3 348.1,77.3 350.2,61.4 351.2,57.4 352.8,55.3 353.8,49.3 354,44.3 352.5,41.3 358.5,24.3 362.9,7.3ZM377.2,7.3 377.1,10.3 377.7,13.3 377.2,17.3 377.2,28.3 378,33.3 377.2,41.9 374.6,57.3 374.5,66.3 375.3,81.3 374.8,89.3 372.4,104.3 371.9,112.3 372.4,121.3 367.3,121.3 367.2,111.1 370.1,96.3 371.2,86.3 369.7,66.3 370,58.3 372.8,43.3 373.5,36.3 373.1,28.3 370.7,26.3 370.1,24.3 372.8,7.3ZM391.7,7.3 391.4,12.3 387.6,33.3 387.9,36.3 385.6,51.3 385.5,60.3 386.4,76.3 384.2,93.3 386.4,96.3 387.2,98.3 387.4,103.3 386.9,105.3 383.3,108.3 383,109.3 383.9,121.3 378.9,121.3 378.2,114.3 378.2,106.5 382.1,81.3 380.7,63.3 380.6,56.3 381.1,50.3 384,35.3 382,31.3 384.9,11.3 384.8,9.3 383.5,7.3ZM403.5,7.3 403.5,9.3 398.4,34.3 397.4,37.3 397.3,39.3 398.3,42.3 396.9,68.3 397.2,75.3 394.1,92.3 394.2,93.6 398.2,95.2 398.6,96.3 398.7,105.3 398.2,106.8 394.3,109.3 395,121.3 390.1,121.3 389.6,110.3 390.9,108.3 393.2,106.6 393.6,104.3 393.4,96.3 393.1,95.3 391.2,93.6 390.6,92.3 392.1,83.3 392.7,76.3 392.1,69.3 393.6,41.3 392.8,35.3 397.6,11.3 397.9,7.3ZM414.1,7.3 413.5,13.3 409.3,35.3 407.5,39.3 409.2,41.3 409.4,44.3 408.5,63.3 407.4,75.3 405.4,83.3 404.2,93.1 402.2,93.3 400.8,92.3 400.6,91.3 403.1,73.3 402.9,67.3 403.7,57.3 404.1,35.3 408.6,12.3 409.1,7.3ZM423.9,7.3 423.5,13.3 419.7,37.3 419.6,52.3 418.3,69.3 415.6,83.3 415.2,87.3 415.4,93.3 418.8,96.3 419.7,98.3 419.8,104.3 416.7,110.3 415.2,121.3 411.3,121.3 412.1,111.3 415,105.3 414.9,95.3 411.9,93.3 411.2,92.3 411.3,84.3 413.5,71.3 414.8,52.3 415,36.3 419.5,9.3 419.4,7.3ZM432,7.3 431.6,8.3 432.2,11.3 431.5,49.3 430.7,63.3 429.7,68.3 429.6,74.3 429.3,75.3 426.6,78.3 426.4,88.3 427.4,99.3 427.2,109.3 424.9,121.3 421.1,121.3 422.9,109.3 424.7,105.3 425.4,101.3 424.6,97.3 422.1,92.3 421.8,86.3 422.2,78.3 424.9,64.3 425.8,54.3 425.8,40.3 428.9,11.3 429.9,8.3 429.8,7.3ZM442.2,7.3 441.6,10.3 440.8,38.3 441.2,42.3 441,50.3 439.6,60.3 440.7,65.3 440.6,69.3 439.7,73.3 437.5,77.3 437.2,79.3 438.3,92.3 438.3,102.3 434.9,121.3 431,121.3 433.7,101.3 432.9,79.3 433.2,77.3 434.8,73.3 435.8,65.3 436.8,51.3 437.3,9.3 437.8,7.3ZM451.5,7.3 450.4,26.3 451.4,30.3 451.8,42.3 451.3,49.3 449.4,60.3 449.5,61.3 451.5,64.3 451.5,70.3 450.5,74.3 448.3,78.3 449.2,87.6 449.2,96.3 446.6,111.3 445.4,121.3 441.1,121.3 441.4,117.3 444.7,96.3 444.2,78.3 445.9,74.3 446.9,67.3 446.9,64.3 445.5,61.3 445.2,59.3 447,46.3 447,37.3 446.5,34.3 447,9.3 447.6,7.3ZM462.6,7.3 461.4,21.3 460.4,27.3 462.5,31.3 462.5,41.3 459.4,60.3 459.5,61.3 461.9,64.3 462.3,67.3 461.6,73.3 459.7,78.3 460.1,90.3 456.6,111.3 456.6,121.3 452,121.3 452.2,111.9 454.9,97.3 455.7,90.3 455.5,78.3 456.9,73.3 457.6,66.3 457.4,64.3 455.2,60.5 455,59.3 457.6,44.3 457.9,39.3 457.6,29.3 456.1,27.3 455.6,25.3 457,7.3ZM468.1,7.3 472.8,7.3 472.4,14.3 470.2,28.3 470.5,29.3 473.4,32.3 472.6,43.3 476.1,46.3 476.7,53.3 480.4,55.3 481.3,60.3 482.7,64.3 481.3,82.3 478.5,96.3 478,101.3 478.1,108.3 479.3,121.3 475,121.3 474.1,107.3 474.4,99.3 476.8,84.3 477.8,74.3 478.1,64.3 476.1,59.3 475.9,55.3 473.2,53 471.2,52.2 470.4,54.3 470,59.3 470.6,61.3 472.5,64.3 472.8,68.3 472.5,72.3 471.1,77.3 470.2,88.8 467.3,105.3 467.3,113.3 468.1,121.3 463.4,121.3 463.1,111.3 463.6,104.3 462.1,100.3 462.1,94.3 461.5,90.3 461.7,89.3 465.9,87.3 466.4,86.3 466.5,78.3 467.8,70.3 467.9,64.3 465.5,60.3 465.2,58.3 468.9,35.3 469,29.3 466.8,27.3 466.3,25.3ZM478.9,7.3 483.5,7.3 481.8,25.3 484.2,29.3 482.2,42.3 482.5,43.3 483.2,43.8 485.2,44.3 486.4,45.3 486.6,51.3 486.2,53.7 485.2,53.8 482.2,52.7 481.8,45.3 481.2,44.3 478.8,43.3 478,42.3 479.9,29.3 479.8,28.3 478.2,27.1 477.1,25.3ZM493.8,7.3 493.6,15.3 494.9,18.3 495,20.3 492.2,42.3 496.4,44.3 496.9,50.3 496.2,52.9 492.5,55.3 492.6,59.3 494.1,66.3 493.7,71.3 490.7,84.3 488.9,96.3 490.1,121.3 486,121.3 486.1,116.3 485,102.3 485.2,93.3 488.7,71.3 489,67.3 488.7,63.3 487.3,56.3 488.2,54.9 491.4,54.3 492.1,52.3 491.9,43.3 488.4,42.3 488,41.3 490.9,24.3 490.8,23.3 488.7,21.3 488.3,18.3 489.4,7.3ZM328.2,8.5 330.6,9.3 331.1,10.3 331.1,11.3 325.5,28.3 323.4,31.3 322.6,36.3 322.5,43.3 324.4,48.3 324.7,53.3 322.4,72.3 319.6,90.3 320.8,111.3 320.1,121.3 316.2,121.3 316.8,112.3 315.3,88.3 319.1,57.3 319.4,50.3 317.8,43.3 318.2,37.3 319.6,30.3 322.5,27.3 326.2,10.6 327.2,8.5ZM501.2,22.7 501.2,42.5 499.2,41.6 498.5,40.3ZM269.2,37.2 270.4,40.3 269.2,46.3ZM269.2,48.2 270,54.3 269.2,59.9ZM501.2,54 501.2,86.7 500.1,96.3 501.2,108.8 500.9,121.3 496.3,121.3 497,112.3 495.7,95.3 495.7,90.3 497.1,79.3 499.8,69.3 499.8,64.3 498.9,57.3 499.8,55.3ZM405.2,93.7 408.2,94.8 409.2,95.8 409.5,104.3 408.2,107.3 405.9,110.3 405.3,121.3 401.1,121.3 401.1,111.3 401.4,110.3 404.1,107.3 404.4,106.3 404.7,94.3Z"/><path fill="#d4d4ff" fill-rule="evenodd" d="M271.5,7.3 269.2,15.9 269.2,7.3ZM281.2,7.3 279.2,17.3 278.2,15.3 278.5,7.3ZM289.1,7.3 290.8,7.3 290.2,11.8 289.2,9.8ZM293.7,7.3 297.9,7.3 298.1,8.3 298,13.3 297.3,18.3 296.2,19.4 294.2,18.8 293.5,17.3 293,9.3ZM308.7,7.3 309.1,9.3 308,17.3 307.2,19.8 306.2,20.6 305.2,20.7 304.1,19.3 305.1,7.3ZM318.2,7.9 319.5,8.3 320.1,9.3 320,11.3 318.1,22.3 317.2,24.1 316.2,24.5 315.2,24.2 314.7,23.3 315.4,13.3 316.2,8.8 317.2,8ZM345.7,7.3 345.2,9.3 344.6,8.3 344.7,7.3ZM356.4,7.3 353.2,19.3 349.2,30.6 346.7,36.3 345.2,37.1 343.9,36.3 343.9,34.3 350.2,13 351.2,11.2 353.2,10 354,7.3ZM363.7,7.3 366.2,7.3 365.8,10.3 366,13.3 364.6,18.3 363.4,25.3 364.2,26.7 367.2,26.6 368.2,27.2 368.5,41.3 368.2,42.3 366.2,43.6 365.1,43.3 364,41.3 363.1,29.3 362.2,28.2 359,35.3 357.2,40.7 356.2,41.5 355.2,41.4 354.2,40.3 355.1,35.3ZM376,7.3 376.1,10.3 377.2,12.2 377.3,13.3 376.3,18.3 376.5,32.3 373.9,57.3 374,75.3 373.2,79.7 372.2,78 371.2,73.6 370.4,62.3 371.2,55 374.8,41.3 375.1,33.3 374.2,26.9 373.2,26 372.2,26.5 371.2,26.2 370.5,24.3 371.2,18.3 373.9,7.3ZM391.6,7.3 391.4,11.3 388.2,30.3 387.2,33.6 386.2,35.1 383.2,33.3 382.4,31.3 385,13.3 385.2,9.3 384.7,7.3ZM403.4,7.3 403.4,9.3 398.2,34.4 397.2,36.6 395.2,37.5 393.4,36.3 393.1,35.3 397.7,11.3 398,7.3ZM413.9,7.3 413.4,13.3 409.2,34.9 408.2,37.6 407.2,38.5 405.2,38.6 404.4,37.3 404.3,35.3 409.3,7.3ZM423.7,7.3 423.4,13.3 419.2,40.3 419.3,52.3 418,68.3 414.2,82.6 413.2,83.1 413.2,78.6 414.1,71.3 414.2,62.3 416.1,41.3 415.1,39.3 415.2,36.3 419.6,9.3 419.6,7.3ZM431.4,7.3 431.9,12.3 431.2,48.3 430.4,62.3 429.6,67.3 429.3,74.3 428.2,75.5 425.8,76.3 424.8,81.3 424.8,87.3 426,96.3 425.2,97.1 423.4,92.3 423.3,79.3 426.1,57.3 426.6,39.3 429,11.3 430.2,8.4 431.1,8.3 430.2,8.1 430.1,7.3ZM441.5,7.3 440,51.3 438.7,61.3 440.2,64.5 440.4,68.3 439.2,73.5 438.2,75.1 437.2,75.7 435.3,75.3 435.3,71.3 437.4,50.3 437.2,29.3 437.8,9.3 438.5,7.3ZM451,7.3 451.2,10.3 450.2,26.3 450.9,45.3 450.2,51.9 448.1,62.3 450.2,63.2 450.9,64.3 451.4,68.3 450.2,73.7 449.2,75.1 448.2,75.4 447.2,74.7 446.7,72.3 447.7,63.3 446.1,60.3 447.6,48.3 448.1,37.3 447,34.3 447.4,9.3 448.1,7.3ZM462.4,7.3 461.2,21.3 459.6,28.3 461.4,31.3 461.9,36.3 461.7,42.3 458.2,61.9 457.2,62.3 456,60.3 455.9,58.3 458.4,42.3 459.1,29.3 458.8,28.3 457.2,27.7 456.2,26.5 456,25.3 457.2,7.3ZM472.6,7.3 472.2,14.3 470.4,26.3 469.2,28 468.2,27.9 467.2,27.2 466.6,25.3 468.3,7.3ZM483,7.3 483.2,10.6 480.9,26.3 479.2,27 478,26.3 477.4,24.3 479.2,7.3ZM493.1,7.3 493.4,9.3 492.9,17.3 491.9,20.3 491.2,21.2 490.2,21.6 489.2,21.1 488.7,19.3 490,7.3ZM329.2,9.2 330.5,10.3 330.3,12.3 325.2,27.5 324.2,29.2 323.2,29.7 322.3,29.3 326.4,11.3 327.2,9.3ZM342.2,10.6 343.1,11.3 343.2,13.3 335.3,38.3 334.2,39.9 331.7,40.3 332.7,46.3 333.2,46.8 334.2,46.5 335.2,47.9 335.3,54.3 331.2,83.6 329.5,89.3 329.2,93.6 328.2,93.5 327.2,85.3 327.6,79.3 331.1,55.3 331.5,48.3 330.4,42.3 331.2,36.3 338.7,12.3 340.2,10.9ZM277.2,21.6 278.2,21.7 279.1,23.3 279.5,26.3 279.2,37.3 278.2,38.3 277.2,38.2 276.2,37.3 275.4,33.3 275.6,24.3 276.2,22.3ZM288.2,21.7 289.3,22.3 290.2,24.8 290.4,35.3 291.2,37.3 291.6,40.3 290.4,45.3 288.2,68.1 287.2,68 286.1,63.3 286.3,53.3 285.8,47.3 286.2,44.3 288.4,41.3 288.8,39.3 285.9,35.3 285.7,30.3 286.1,23.3 287.2,21.9ZM299.2,22.8 300.2,23.3 301.7,25.3 302.6,30.3 302.2,36.3 300.1,51.3 300.1,67.3 299.2,71.5 297.2,62.9 296.5,54.3 297.2,46.9 298.8,38.3 297,33.3 297.2,24.8 298.2,23.1ZM482.2,28.9 482.5,32.3 482.2,37.1 481.2,42.8 480.2,43.3 478.9,42.3 478.8,40.3 481.2,30.3ZM312.2,29.3 312.3,33.3 311.2,45.3 311.6,47.3 312.2,48.1 312.8,52.3 312.2,61.1 309.2,82.9 308,87.3 307.2,88.6 306.2,88.8 305.4,86.3 305.4,82.3 308.3,56.3 308.1,51.3 307.4,48.3 307.7,44.3 310.2,32.5 311.2,29.9ZM471.2,30.9 472.4,32.3 471.8,43.3 472.3,44.3 475.7,46.3 476.2,50.3 476,52.3 475.2,53.6 471.2,51 470.2,51.9 469.8,53.3 469.2,61.3 471.2,62.8 472.2,64.4 472.6,68.3 472.2,72.3 471.2,74.7 469.3,76.3 469.2,79.9 468.2,77.8 467.9,73.3 468.6,64.3 466.3,60.3 466.1,57.3 470.2,30.9ZM321.2,31.7 321.6,44.3 322,46.3 323.2,47.1 324.2,50 324.2,55.3 320.2,83.2 318.2,89.5 317.2,89.9 316.4,86.3 316.4,81.3 319.8,55.3 319.8,49.3 318.7,42.3 319.2,37.2 320.2,33.4ZM491.2,34.2 490.9,40.3 490.2,41.8 489.2,41.4 489.2,40.3 490.2,36.2ZM385.2,38 385.9,38.3 384.7,56.3 385.5,72.3 385.2,76 384.2,78.3 383.2,76.5 382,70.3 381.2,57.3 382.2,48.4ZM280.2,39 280.6,40.3 279.6,43.3 279.1,55.3 277.2,69.9 276.2,71.1 275.3,64.3 276.2,54.3 275.3,50.3 275.3,46.3 276.2,43 277.2,41.8 278.6,41.3 279.2,39.2ZM395.2,39.7 397.4,41.3 397.7,49.3 396.4,74.3 395.2,78.5 394.2,78.6 392.6,67.3 393.2,50.5 394.2,42ZM407.2,40.5 408.5,41.3 408.9,44.3 408.2,63 406.5,75.3 405.2,79.4 404.2,80.6 403.3,67.3 404,59.3 404.2,47.9 405.2,41.7ZM494.2,44 495.4,44.3 496.3,45.3 496.6,50.3 496.2,52.3 494.2,53.7 493.2,53.8 492.4,51.3 492.4,46.3 493,44.3ZM483.2,44.6 485.2,44.9 486.2,45.8 486.2,52.3 485.2,53.3 483.2,52.7 482.2,51.5 482.2,45.6ZM344.2,46.8 345.2,48.1 345.4,49.3 345.2,54.6 340.9,84.3 341,92.3 340.2,96.1 337.6,87.3 337.4,82.3 341.4,53.3 343.2,47ZM355.2,49.1 355.7,53.3 353.4,67.3 352,82.3 352.2,91.8 351.2,95.4 349.7,87.3 347.3,84.3 347.4,81.3 348.8,77.3 349.2,70.6 351.2,60 353.5,54.3 354.2,50.3ZM364.2,49 364.2,52.9 362.8,65.3 362.9,81.3 362.2,86.2 360.2,78 359.7,66.3 361.2,57.2 363.2,50.4ZM478.2,54.6 479.5,55.3 480,56.3 480.6,61.3 482.2,63.7 482.5,66.3 482.2,71.1 481,75.3 480.2,82.8 478.2,88.5 477.9,86.3 478.5,75.3 478.1,71.3 478.7,64.3 476.9,59.3 476.8,56.3 477.2,54.7ZM490.2,55.1 491.4,56.3 492.1,61.3 493.4,64.3 493.5,70.3 493.2,72.3 491.9,75.3 489.2,87.4 488.2,90.3 487.2,91 487.1,86.3 489.3,67.3 488.2,56.3 488.9,55.3ZM501.2,54.9 501.2,80.5 498.2,92.7 497.2,92.3 496.9,85.3 498.2,76.7 500.1,69.3 500,56.3ZM459.2,62.9 460.2,63 461.2,63.9 462,67.3 461.2,73.2 460.2,74.9 459.2,75.5 458.2,75.1 457.6,74.3 457.3,71.3 458.2,64.5ZM435.2,76 435.5,83.3 437.3,93.3 437.6,101.3 436.2,110.6 434.2,117.7 433.2,119.2 433,114.3 434.6,100.3 434.5,85.3ZM447.2,86.1 448.2,92.1 448.2,97.3 444.2,119.6 443.6,121.3 442.9,121.3 442.6,117.3 443,112.3 445.6,96.3 446.2,87ZM278.2,88 278.2,96.4 274.4,121.3 273.9,121.3 273.2,120 272.8,117.3 273,109.3 277.2,87.9ZM465.2,88.6 466,89.3 466.2,99.3 465.7,101.3 464.2,102 463.2,101.6 462.7,100.3 462.6,90.3 463.2,89.1ZM287.2,90.7 288,91.3 286.7,104.3 286.2,115.2 284.2,116.6 283.8,116.3 283.5,111.3 283.9,104.3 285.2,97.4ZM458.2,92.2 455.5,111.3 455.2,121.3 453.5,121.3 453.2,113.3 454.1,106.3 457.2,91.3ZM406.2,95.1 407.4,95.3 408.6,96.3 409.2,97.8 409.4,101.3 408.8,105.3 407.2,107.7 406.2,108.1 405.2,107.2 404.8,101.3 405.2,96.3ZM296.2,96 297.6,121.3 296.1,121.3 295.2,111.3 295.2,101.3ZM384.2,96 385.2,96.2 386.2,97.4 387.1,101.3 387,103.3 386.2,105.3 384.2,106.4 382.9,105.3 382.2,101.3 382.6,98.3ZM396.2,95.4 397.2,95.6 398.2,96.6 398.5,104.3 397.9,106.3 396.2,107.3 395.2,107.3 394.1,105.3 394.1,98.3 394.6,96.3 395.2,95.6ZM417.2,95.8 419.2,98 419.6,101.3 419.2,104.9 418.2,106.8 417.2,107.6 416.2,107.2 415.6,106.3 415.4,103.3 415.7,97.3 416.2,96ZM426.2,102.2 426.5,105.3 426.2,110 425.2,114.6 424.2,117 423.4,115.3 423.7,110.3 424.2,108.1 425.9,104.3ZM361.2,103.2 360.3,121.3 357,121.3 357.2,115.9 358.2,109.8 360.2,103.4ZM370.2,103.8 371,106.3 371.7,121.3 368.1,121.3 367.8,115.3 368.2,110.3 369.2,105.7ZM350.2,105.9 350.3,111.3 349,121.3 346.9,121.3 348.2,112.6ZM380.2,105.4 381.3,107.3 383,121.3 379.7,121.3 379.1,111.3 379.3,108.3ZM415.2,108.1 415.2,112.5 414.2,116.9 413.6,115.3 413.5,111.3 414.2,108.7ZM392.2,108.9 393.2,111.9 393.9,121.3 391.1,121.3 390.8,111.3 391.2,109.3ZM403.2,109.7 404.2,111 404.4,116.3 403.6,121.3 402.8,121.3 402.5,112.3ZM465.2,116.2 466.4,121.3 465,121.3ZM282.2,116.5 283.4,117.3 283.3,121.3 280.5,121.3 280.9,117.3Z"/><path fill="#bfbfff" fill-rule="evenodd" d="M294.6,7.3 297.2,7.3 297.7,8.3 297.3,16.3 296.2,18.8 294.6,18.3 293.8,15.3 293.6,9.3ZM307.8,7.3 308.7,9.3 308.2,14.2 307.2,18.5 306.2,19.8 305.2,19.6 304.8,18.3 304.6,14.3 305,9.3 305.9,7.3ZM391.4,7.3 391.3,11.3 388.2,29.3 387.2,32.7 386.2,33.7 385.2,33.9 383.2,32.6 382.7,30.3 385.7,7.3ZM403.2,7.3 403.3,9.3 398.2,33.3 397.2,35.8 395.2,36.7 394.2,36.3 393.5,35.3 398.2,7.3ZM413.7,7.3 413.9,9.3 409.2,33.9 408.2,37 407.2,37.9 406.2,38 404.9,37.3 404.5,35.3 409.5,7.3ZM423.6,7.3 423.3,13.3 419.2,39 418.2,41.1 417.2,41 415.5,39.3 415.4,37.3 419.8,7.3ZM440.2,7.7 440.6,9.3 440.3,29.3 439.2,42.2 438.2,41.9 438.1,14.3 438.3,9.3 439.2,7.8ZM449.4,7.3 450.2,7.4 450.7,8.3 450.8,10.3 449.8,30.3 449.2,34.2 448.2,35 447.5,26.3 447.7,12.3 448.1,8.3ZM462.2,7.3 462.2,11.1 460.3,25.3 459.2,27.2 458.2,27.3 456.7,26.3 456.3,24.3 457.6,7.3ZM472.4,7.3 472.2,13.3 470.3,25.3 469.2,27.2 468.2,27.3 467.2,26.6 466.9,25.3 468.6,7.3ZM482.4,7.3 483,9.3 481.8,18.3 480.4,25.3 479.2,26.3 478.2,25.8 477.9,24.3 479.2,8.7 479.7,7.3ZM491.7,7.3 492.8,8.3 493,9.3 492.5,14.3 491.2,19 490.2,20.4 489.2,18.5 489.3,14.3 490.2,8.1 491.1,7.3ZM318.2,8.4 319.6,9.3 319.6,11.3 318.2,19.8 317.2,23.1 316.2,23.6 315.5,22.3 315.4,20.3 315.9,12.3 316.5,9.3 317.2,8.6ZM329.2,9.7 329.9,10.3 329.8,12.3 327.2,20.7 324.2,27.8 323.5,27.3 324.2,21.8 327.2,10.2 328.2,9.5ZM430.2,9.4 431.2,9.8 431.6,11.3 431,43.3 430.2,60.9 428.8,73.3 428.2,74.6 426.2,74.1 425.3,73.3 424.8,70.3 425.2,67.3 426.5,63.3 427.7,28.3 429.1,11.3ZM342.2,11.2 342.9,12.3 342.9,13.3 339.1,26.3 334.2,39.1 333.2,39.3 332.1,38.3 332.1,37.3 335,25.3 339.2,12.2 340.2,11.3ZM353.2,11.2 354.2,12.3 354.2,13.3 351.6,22.3 346.2,35.9 345.2,36.2 344.6,35.3 345.2,31.5 350.2,14.1 351.2,11.8 352.2,11.1ZM364.2,10.8 365.2,11.6 365.6,13.3 362.8,24.3 357.2,39.1 356.2,40.4 355.1,39.3 356.2,33.9 362.2,12.8 363.2,11.4ZM375.2,10.8 376.2,11.5 376.8,13.3 374.8,21.3 372.5,25.3 371.2,25.5 371.2,20.1 372.9,13.3 374.2,11ZM277.2,23.1 278.2,23.3 279.2,25.3 279.5,30.3 279.2,34.7 278.2,36.8 277.2,36.9 276,35.3 275.5,30.3 276.1,24.3ZM288.2,23.1 289.2,23.8 289.8,25.3 290.3,30.3 289.7,35.3 288.2,36.9 287.2,36.5 286.2,35 285.8,30.3 286.2,24.7 287.2,23.2ZM299.2,24.3 300.8,26.3 301.4,30.3 300.7,34.3 299.2,35.7 298.2,35.3 297.3,33.3 297.1,30.3 297.4,26.3 298.2,24.5ZM367.2,27 368,28.3 368.1,40.3 367.4,42.3 366.2,42.7 364.8,41.3 364.6,28.3 365.1,27.3ZM300.2,38.4 300.3,43.3 298.2,59.1 297.5,53.3 298.1,46.3 299.2,40.9ZM460.2,38.8 460.5,42.3 460.2,46.8 458.2,54.7 458.2,49.7ZM470.2,39.1 470.8,40.3 470.5,44.3 468.2,56.8 467.5,56.3 468.2,47.6ZM310.2,39.5 310.1,49.3 311.2,49.4 312.2,50.6 312.4,53.3 309.2,79 308.2,83.4 307.2,85.3 306.2,84.9 306,81.3 308.9,59.3 308.5,45.3 309.2,41ZM407.2,42.2 408.2,42.7 408.5,45.3 408.2,57.4 407.2,68.4 406.2,71.5 405.2,72.2 403.8,67.3 404.6,51.3 405.6,45.3ZM418.2,41.8 418.9,44.3 419.2,48.3 417.7,67.3 416.2,71.4 415.2,71.4 414.3,67.3 415.7,48.3 416.8,43.3ZM277.2,43 278.5,43.3 279.2,45.3 279.2,50.7 278.2,53.3 277.2,53.2 276.2,52.2 275.6,49.3 275.8,45.3 276.2,44ZM396.2,42.8 397.2,43.5 397.3,44.3 397.2,55.2 396.2,67.7 395.2,71.7 394.2,71 393.3,69.3 393,67.3 394.2,47.6 394.8,45.3ZM289.2,43.3 289.7,44.3 289.8,49.3 288.2,53.9 287.2,53 286.2,50.8 286.1,46.3 287.2,43.7ZM485.2,45.5 486.1,47.3 486.2,50.3 485.2,52.6 483.2,52 482.4,50.3 482.7,46.3 483.2,45.5ZM494.2,44.7 495.2,44.9 496.2,46.3 496.4,49.3 496.2,51.3 495.5,52.3 494.2,53 493.2,52.7 492.6,49.3 493.2,45.3ZM473.2,45.5 475.2,46.3 475.7,47.3 475.8,50.3 475.2,52.6 474.2,52.6 471.8,50.3 471.6,47.3 472.2,46ZM323.2,49.1 323.9,52.3 323.5,57.3 320.2,80.6 319.2,84.2 318.2,85.7 317.2,84.6 317,81.3 319.8,61.3 320.5,52.3 321.2,50.3 322.1,49.3ZM334.2,48.7 335,51.3 334.8,55.3 331.1,81.3 330.2,84.8 329.2,86.1 328.2,85.1 328.2,79 332,52.3 333.2,49.3ZM344.2,49.5 344.8,52.3 341.2,78.9 340.2,83.5 339.2,85.6 338.2,84.7 338,82.3 342,52.3 343.2,49.6ZM383.2,49.7 383.8,52.3 384.2,70.3 383.2,69.9 382.2,62.9 382.2,54.3ZM478.2,56 478.9,57.3 479.2,61.7 478.2,60.3ZM490.2,57.3 491.2,63.3 493.2,65.4 493.3,68.3 492.9,71.3 490.9,74.3 490.2,78.9 489.4,79.3 489.2,79.9 489.9,73.3 489.7,59.3ZM372.2,57.4 372.2,68.8 371.7,63.3ZM501.2,59.4 501.2,75.8 499.2,82.5 498.6,81.3 500.8,69.3ZM438.2,63.4 439.2,63.6 440.1,68.3 439.2,72.3 438.2,73.9 437.2,74.3 436.1,73.3 435.8,69.3 437.2,64ZM449.2,63.9 450.2,64.2 450.8,65.3 451.2,68.3 450.2,72.4 449.2,73.8 448.2,73.8 447.2,72.3 447.3,69.3 448,65.3ZM460.2,64 461.4,65.3 461.7,68.3 460.9,72.3 460.2,73.6 459.2,73.9 458,72.3 457.9,69.3 458.7,65.3ZM470.2,63.6 471.2,63.7 472.2,65.5 472.4,67.3 472,71.3 471.2,73.4 470.2,74.2 469.2,74 468.7,73.3 468.3,70.3 468.7,66.3ZM480.2,63.7 481.2,63.8 482.2,67.3 481.7,71.3 480.2,73.9 479.2,73.8 478.5,70.3 479.2,64.7ZM352.2,65.2 352.2,69.1 351.2,76.4 350.2,78.3 350.2,70.1ZM350.2,78.3 350.5,80.3 349.8,84.3 349.2,84.8 348.2,84.6 348.2,79.7ZM464.2,89.9 464.6,91.3 464.7,99.3 464.2,100.5 463.5,99.3ZM407.2,96.1 408.2,96.8 408.8,98.3 409.1,102.3 408.2,105.7 407.2,106.8 406.2,106.8 405.2,104.8 405.1,99.3 406.1,96.3ZM396.2,96.4 397.2,96.6 397.7,97.3 398.4,101.3 397.8,105.3 396.2,106.5 394.8,105.3 394.2,101.3 395,97.3ZM417.2,96.8 418.2,97.3 418.8,98.3 419.4,101.3 419,104.3 418.2,105.8 417.2,106.3 416.2,105.3 415.8,102.3 416.2,97.8ZM385.2,97.6 386.3,99.3 386.6,102.3 386,104.3 385.2,105.1 384.2,105 383.3,103.3 383.2,100.3 384.2,97.8ZM369.2,113.8 370.2,116.2 370.5,121.3 369.2,121.3ZM381.2,116 381.5,121.3 381,121.3ZM282.2,117.3 282.6,118.3 282.6,121.3 281,121.3 281.2,117.7Z"/><path fill="#aaaaff" fill-rule="evenodd" d="M295.9,7.3 297.2,8.1 297.5,9.3 297.2,15 296.2,17.9 295,17.3 294,13.3 294.2,8.8 295.2,7.4ZM307.2,7.6 308,8.3 308.2,10.4 307.3,16.3 306.2,18.4 305.2,16.8 305.2,10.8 305.7,8.3 306.2,7.7ZM391.2,7.3 391.2,11.2 387.9,29.3 387,32.3 386.2,33.1 385.2,33.3 383.5,32.3 383.1,30.3 386,8.3 386.4,7.3ZM402.9,7.3 403.1,9.3 397.9,33.3 397.1,35.3 396.2,36 395.2,36.1 394.2,35.7 393.8,34.3 398.5,7.3ZM413.5,7.3 413.8,9.3 409.2,32.7 408.2,36.4 407.2,37.4 406.2,37.5 405.2,37 404.8,35.3 409.7,7.3ZM423.4,7.3 423.2,13.2 419.2,37.3 418.2,40 417.2,40.1 416,39.3 415.7,37.3 420.1,7.3ZM449.2,8.1 450.2,8.4 450.4,10.3 449.2,28.2 448.2,27.5 448,22.3 448.4,10.3ZM461.8,7.3 462.1,10.3 460.2,24.4 459.2,26.5 458.2,26.7 456.8,25.3 456.7,23.3 458,7.3ZM472.2,7.3 472.2,12.2 470.2,24.6 469.2,26.5 468.2,26.7 467.2,25.6 468.6,8.3 468.8,7.3ZM481.4,7.3 482.5,8.3 482.4,11.3 481.2,19.7 480.2,23.7 479.2,25.4 478.3,23.3 479.2,11.2 479.7,8.3 480.2,7.4ZM491.2,8 492.2,8.3 492.3,11.3 491.3,16.3 490.2,17.7 489.8,15.3 490.4,9.3ZM318.2,8.9 319.2,10 318.2,18 317.2,20.9 316.2,20.6 316,15.3 316.7,10.3 317.2,9.2ZM329,10.3 329.5,11.3 327.2,19.2 325.2,23.7 324.8,22.3 325.1,19.3 327.2,11.4 328.2,10.1ZM430.2,9.9 431.2,10.8 430.3,51.3 428.9,69.3 428.2,72.3 427.2,73 425.9,72.3 425.4,69.3 426.2,66.1 427.9,64.3 428.1,63.3 427.8,43.3 428.1,28.3 429.2,12.3ZM341.2,11.4 342.5,12.3 342.2,14.7 337.2,30.6 334.2,37.9 333.2,38.3 333.2,35.4 335.8,24.3 339.2,13.1 340.2,11.7ZM352.2,11.7 353.5,12.3 353.5,14.3 350.2,25.1 346.2,33.9 346,31.3 347.2,25.6 351.2,12.3ZM364.2,11.8 365.2,13.3 362.4,23.3 360.2,29.7 357.2,36.3 357.2,32.9 361.2,17.8 363.1,12.3ZM375.2,11.7 376.2,12.3 376.2,14.2 374.3,20.3 372.2,24.1 371.5,22.3 371.9,18.3 373.9,12.3ZM277.2,24.2 278.2,24.4 279,26.3 279.3,30.3 278.8,34.3 278.2,35.6 277.2,35.8 276.2,34.7 275.7,30.3 276.2,25.3ZM288.2,24.2 289.2,25.2 290,30.3 289.4,34.3 288.2,35.7 287.2,35.5 286.4,34.3 286,30.3 286.2,26.2 287.2,24.3ZM299.2,25.8 300.3,27.3 300.7,30.3 300.2,32.8 299.2,34.2 298.2,33.9 297.4,30.3 298,26.3ZM366.2,27.7 367.4,28.3 367.3,41.3 366.2,41.7 365.6,40.3 365.6,28.3ZM277.2,44 278.2,44.3 278.7,45.3 279.1,48.3 278.2,51.7 277.2,51.9 276.2,50.9 275.8,48.3 276.2,45.2ZM288.2,44.7 289.2,46.1 289.4,48.3 289.2,49.8 288.2,51.2 287.2,51.1 286.3,48.3 287.2,44.8ZM396.2,45.3 397,48.3 396.2,62.9 395.3,68.3 394.2,68.8 393.7,67.3 394.7,50.3 395.1,47.3ZM407.2,44.4 408.2,46 408.3,48.3 407.2,64.9 406.2,69.2 405.2,69.4 404.3,67.3 405.9,47.3ZM418.2,44.6 418.7,48.3 417.3,67.3 416.2,69.4 415.2,69.1 414.8,67.3 416.1,48.3 417.2,44.8ZM484.2,45.9 485.2,46.2 485.7,47.3 485.8,50.3 485.2,51.8 484.2,51.9 483.2,51.3 482.8,50.3 482.9,47.3 483.2,46.4ZM494.2,45.5 495.5,46.3 496.1,49.3 495.6,51.3 494.2,52.3 493.2,51.5 492.9,49.3 493.2,46.5ZM473.2,46.3 474.2,46.3 475.2,47.1 475.5,48.3 475.2,51.5 474.2,51.9 473.2,51.2 472.3,49.3 472.5,47.3ZM334.2,51 334.2,56.2 330.2,82.5 329.2,83.1 328.8,80.3 332.8,52.3 333.2,51.3ZM311.2,51.9 311.6,53.3 311.2,58.2 310.6,60.3 308.2,80.2 307.2,82.4 306.9,81.3 307.2,76.9 309.2,63.6 309.8,62.3 310.2,56ZM322.2,51.5 323.2,51.7 323.2,54.8 319.3,81.3 318.2,82.7 317.8,81.3 321.6,53.3ZM343.2,51.8 343.8,52.3 343.2,58.8 340.2,79.6 339.2,82 339.2,77.8 342.2,55.3ZM438.2,64.6 439.3,65.3 439.6,69.3 438.2,72.8 437.2,73 436.2,71.4 436.1,69.3 437.2,65.5ZM449.2,65.1 450.2,65.4 450.7,68.3 450.2,71.2 449.2,72.6 448.2,72.3 447.7,70.3 448.2,66.4ZM460.2,65.1 461.2,66.3 461.3,69.3 460.2,72.4 459.2,72.6 458.4,71.3 458.3,69.3 459.2,65.9ZM471.2,64.7 471.9,66.3 472,69.3 471.2,72.3 470.2,73.1 469.1,72.3 468.8,68.3 469.8,65.3ZM481.2,65.2 481.8,67.3 481.2,71.4 480.2,72.4 479.2,72 479,68.3 480.2,65.3ZM492.2,65.7 492.8,67.3 492.8,69.3 492.2,71.4 491.2,71.8 490.4,70.3 490.4,68.3 491.2,66.2ZM407.2,97.1 408.3,98.3 408.8,101.3 408.4,104.3 407.2,105.9 406,105.3 405.2,101.3 405.7,98.3 406.2,97.4ZM396.2,97.5 397.2,97.7 398.1,101.3 397.7,104.3 397.2,105.2 396.2,105.5 395.1,104.3 394.7,101.3 395.2,98.5ZM417.2,98 418.2,98.3 419,101.3 418.2,104.7 417.2,105 416.2,103.3 416.4,99.3ZM385.2,99.3 385.9,101.3 385.2,103.6 384.2,103 384,101.3 384.2,100Z"/><path fill="#9595ff" fill-rule="evenodd" d="M296.2,7.8 297.1,9.3 297.1,13.3 296.2,16.3 295.2,16 294.5,12.3 294.9,8.3ZM307.2,8.3 307.6,9.3 307.3,14.3 306.2,16.2 305.6,14.3 306.2,8.5ZM391,7.3 391.2,10.3 387.1,31.3 386.2,32.7 385.2,32.9 384,32.3 383.4,30.3 386.4,8.3 386.7,7.3ZM402.7,7.3 403,9.3 397.2,34.5 396.2,35.6 395.2,35.7 394.2,35.1 394.2,32.2 398.7,7.3ZM413.4,7.3 413.6,9.3 409.2,31.6 408.2,35.5 407.2,36.9 406.2,37 405.2,36.3 405.2,33.4 409.9,7.3ZM423.2,7.3 423.2,12.4 420.2,30.8 418.2,39.3 417.2,39.5 416.1,38.3 416.2,36.3 420.4,7.3ZM461.5,7.3 461.8,10.3 460.2,22.8 459.2,25.7 458.2,26 457.2,24.4 457,21.3 458,8.3 458.4,7.3ZM471.8,7.3 472.2,10.3 471.2,18.2 469.5,25.3 468.2,26 467.5,24.3 467.5,21.3 469.1,7.3ZM481.2,7.8 482.3,9.3 481.3,17.3 480.2,21.4 479.2,22.9 478.8,18.3 479.2,13.6 480.1,8.3ZM318.2,9.7 318.5,10.3 318.2,14.7 317.2,18.1 316.7,16.3 317.2,10.7ZM430.2,10.5 430.8,12.3 430.3,42.3 429.2,55.1 428.4,41.3 429.1,19.3ZM341.2,11.9 341.9,12.3 342.2,13.3 338.2,26.7 335.2,33.9 334.6,33.3 336.2,24.3 339.6,13.3 340.2,12.2ZM352.2,12.2 353.1,13.3 350.2,23.5 348.2,28.2 347.7,27.3 348.2,23.6 351.2,13.4ZM375.2,12.3 375.7,13.3 374.2,18.9 373.2,21 372.2,21.4 372.2,19.2 374.2,12.8ZM364.2,12.9 364.2,14.6 360.2,27.7 359.4,27.3 360.2,23.3 363.2,13.4ZM277.2,25.2 278.2,25.5 279.1,30.3 278.3,34.3 277.2,34.8 276.2,33.4 275.9,30.3 276.2,26.7ZM288.2,25.3 289.2,26.4 289.7,30.3 289.2,33.6 288.2,34.7 287,34.3 286.1,30.3 286.7,26.3 287.2,25.4ZM299.2,27.4 300,30.3 299.2,32.6 298.2,32.3 297.9,30.3 298.2,27.7ZM277.2,45.1 278.2,45.4 278.7,48.3 278.2,50.5 277.2,50.8 276.1,48.3 276.4,46.3ZM287.2,46.2 288.2,46.1 288.7,47.3 288.2,49.8 287.2,49.7 287.1,49.3ZM407.2,46.7 407.6,48.3 407.2,58 406.2,67.3 405.2,67.6 406.2,50.8ZM417.2,47.1 418.2,47.8 416.2,67.8 415.6,67.3ZM474.2,47.1 475.2,49.3 474.2,51 473.3,50.3 472.9,49.3 473.2,47.6ZM484.2,46.8 485.2,47.3 485.4,49.3 485.2,50.7 484.2,51.1 483.1,49.3 483.2,48ZM494.2,46.5 495.2,46.9 495.6,49.3 495.2,51 494.2,51.4 493.3,49.3ZM427.2,66 428.2,66.2 428.5,68.3 428.2,70.4 427.2,71.7 426.2,71.1 426,69.3 426.2,67.7ZM438.2,65.7 439.2,66.7 439.3,69.3 438.2,71.7 437.2,71.7 436.7,70.3 437.2,66.8ZM471.2,65.9 471.6,69.3 471.2,71 470.2,71.9 469.2,70.6 469.2,68.3 470.2,66ZM449.2,66.5 450.2,67.2 450.3,68.3 450.2,69.5 449.2,71.2 448.3,70.3 448.2,69.3ZM460.2,66.4 460.8,68.3 460.2,71 459.2,70.8 458.9,69.3 459.2,67.6ZM480.2,66.7 481.2,67 481.3,68.3 481.2,69.5 480.2,71 479.4,69.3ZM407.2,98.1 408.2,99.3 408.5,101.3 408.2,103.6 407.2,104.9 406.2,104.5 405.6,101.3 406.2,98.5ZM396.2,98.6 397.2,99 397.7,101.3 397.2,104 396.2,104.4 395.5,103.3 395.1,101.3ZM417.2,99.5 418.2,99.7 418.5,101.3 418.2,103.4 417.2,103.5 416.8,101.3Z"/><path fill="#8080ff" fill-rule="evenodd" d="M390.7,7.3 391,10.3 388.2,25.8 386.7,31.3 386.2,32.1 385.2,32.5 383.9,31.3 384.8,19.3 386.4,9.3 387.1,7.3ZM402.4,7.3 402.8,9.3 398.2,30.2 396.9,34.3 396.2,35.1 395.2,35.2 394.3,34.3 398.6,8.3 399,7.3ZM413.2,7.3 413.5,9.3 410.2,26.5 408.2,34.5 407.3,36.3 406.2,36.5 405.3,35.3 405.8,31.3 410.1,7.3ZM422.9,7.3 423.3,8.3 423.2,11.3 421.2,24.3 418.2,38.3 417.2,38.7 416.7,37.3 417.1,30.3 420.2,8.9 420.8,7.3ZM461,7.3 461.7,9.3 460.9,17.3 459.2,24.5 458.2,24.9 457.4,19.3 458.1,9.3 459,7.3ZM471.4,7.3 472,9.3 471.2,16.8 469.2,24.6 468.2,24.9 467.9,18.3 469,8.3 469.6,7.3ZM296.2,8.6 296.6,10.3 296.2,14.6 295.2,14.2 295,9.3ZM481.2,8.4 481.6,10.3 480.2,19.2 479.2,18.3 480.2,9.3ZM341.2,12.4 341.6,13.3 338.2,25.4 336.2,29.6 336.2,26.3 340.1,13.3ZM277.2,26.3 278.2,26.6 278.8,30.3 278.2,33.4 277.2,33.7 276.4,32.3 276.2,28.3ZM288.2,26.3 289.2,28 289.4,30.3 289.2,32 288.2,33.7 287.2,33.5 286.5,30.3 287.2,26.5ZM277.2,46.4 278.2,47.2 278.2,48.3 277.2,49.6 276.8,48.3ZM494.2,48 494.9,49.3 494.2,50ZM438.2,67.2 438.6,68.3 438.2,70.2 437.4,69.3ZM427.2,67.7 427.6,68.3 427.2,70.1 426.9,69.3ZM470.2,67.6 471.2,68.3 470.2,70.4ZM407.2,99.2 408,101.3 407.2,103.7 406.2,103 406,101.3 406.2,100ZM396.2,100.1 397.2,101.3 396.2,102.8Z"/><path fill="#6a6aff" fill-rule="evenodd" d="M390.4,7.3 390.8,10.3 388.3,24.3 386.3,31.3 385.2,31.9 384.2,30.7 384.3,27.3 386.7,9.3 387.5,7.3ZM402.2,7.3 402.6,9.3 399.2,25.5 396.8,33.3 396.2,34.5 395.2,34.7 394.7,33.3 395.2,28.2 399.2,7.3ZM412.8,7.3 413.3,8.3 413.2,10.6 410.2,25.6 408.2,33.2 407.2,35.6 406.2,35.8 405.8,34.3 406.2,29.6 410.1,8.3 410.5,7.3ZM422.4,7.3 423.2,8.3 423.2,10 420.2,28.5 418.2,36.4 417.3,35.3 418.2,22.9 420.6,8.3 421.2,7.3ZM460.2,7.4 461.3,8.3 461.4,10.3 460.2,19.8 459.2,22.7 458.2,22.5 457.8,16.3 458.4,9.3 459.2,7.7ZM470.2,7.4 471.2,7.6 471.8,9.3 470.8,17.3 469.2,22.8 468.2,22 468.2,16.3 469.2,8.5ZM277.2,27.4 278.2,27.9 278.4,30.3 278.2,32.1 277.2,32.6 276.6,30.3ZM288.2,27.5 288.9,30.3 288.2,32.5 287.2,32.3 286.9,30.3 287.2,27.7Z"/><path fill="#5555ff" fill-rule="evenodd" d="M390.1,7.3 390.7,9.3 389.2,19.2 387.2,27.6 386.2,30.4 385.2,31.3 384.7,29.3 384.8,24.3 386.9,9.3 387.9,7.3ZM401.7,7.3 402.5,9.3 399.2,24.7 396.3,33.3 395.2,33.8 395.2,30.3 396.2,22.8 399,8.3 399.7,7.3ZM412.4,7.3 413.2,9.3 411.2,20.2 409.2,28.7 407.2,34.2 406.3,33.3 408.2,18.5 410.2,8.3 411,7.3ZM422.2,7.5 423,9.3 420.2,27.4 419.2,31.5 418.2,33.4 418.2,25.3 420.9,8.3ZM460.2,7.9 461.1,9.3 460.2,18.2 459.2,20.8 458.2,19.2 458.2,14.8 458.8,9.3 459.2,8.2ZM470.2,7.9 471.3,8.3 471.4,10.3 470.2,18.9 469.2,20.9 468.5,17.3 469.2,10Z"/><path fill="#4040ff" fill-rule="evenodd" d="M389.5,7.3 390.2,7.8 390.6,9.3 389.2,18.1 387.2,26.4 386.2,28.9 385.2,29.1 385.4,20.3 387.2,9.3 388.2,7.4ZM401.3,7.3 402.2,8.3 402.3,9.3 399.2,23.9 396.2,32 395.7,30.3 396,25.3 399.2,8.3 400.1,7.3ZM412.2,7.5 413,9.3 411.2,19.3 409.2,27.5 407.2,32 407.2,25.5 410.2,9.2 411.2,7.5ZM422.2,8 422.7,9.3 422.2,14.1 420.2,26.1 419.2,29.4 418.6,26.3 419.2,19.7 421.2,8.4ZM460.2,8.6 460.6,9.3 460.2,15.6 459.2,18.8 458.7,16.3 459.2,9.3ZM470.2,8.6 471.2,9.4 470.2,17.3 469.2,18.8 469.2,13Z"/><path fill="#2b2bff" fill-rule="evenodd" d="M389.2,7.5 390.2,8.3 390.2,10.8 388.2,21.9 386.2,27.4 385.5,24.3 385.9,18.3 387.5,9.3 388.2,7.8ZM401.2,7.6 402,9.3 400.2,18.6 398.2,26.2 397.2,28.7 396.2,29.7 396.2,25.4 399.2,9.3 400.2,7.6ZM412.2,7.9 412.7,9.3 410.2,23 408.2,28.8 407.5,27.3 408.2,20.3 410.5,9.3 411.2,7.9ZM422.2,8.7 422.2,12.1 420.2,24.5 419.2,26.2 419.2,22.3 421.2,9.5Z"/><path fill="#1515ff" fill-rule="evenodd" d="M389.2,7.9 390.1,9.3 388.2,20.8 387.2,24 386.2,25.4 385.9,20.3 387.2,12.1 388.1,8.3ZM401.2,8 401.7,9.3 399.2,22 397.2,27.2 396.7,25.3 397,21.3 399.2,10.1 400.2,8ZM412.2,8.4 412.2,11.6 410.2,21.7 409.2,25 408.2,26.6 408.2,21.7 410.2,11.5 411.2,8.3Z"/><path fill="#0000ff" fill-rule="evenodd" d="M389.2,8.3 389.7,9.3 388.2,19.5 387.2,22.6 386.4,22.3 386.2,20.3 388,9.3ZM401.2,8.5 401.2,11.3 399.2,20.8 398.2,23.8 397.2,25 397.2,21.3 399.2,11.5 400.2,8.5ZM411.2,9.1 412,9.3 409.2,23.4 408.8,22.3 409.2,18.5Z"/></g><path fill="none" stroke="#2a2a2a" stroke-width="0.45" d="M301.9,7.3 302.9,8.3 303.1,9.3 302.6,14.3 301.2,19 300.2,19.4 299.6,17.3 299.4,13.3 300,8.3 301,7.3M311.2,8.3 312.2,7.5 313.2,7.7 313.9,9.3 313.2,15.9 312.2,19.7 311.2,21.5 310.3,19.3 310.2,16.3M397.2,7.3 397.2,10.6 393.2,31.4 392.2,34.1 391.2,34.6 390.1,34.3 389.2,33.3 389.1,32.3 390.3,22.3 392.7,7.3M408.4,7.3 408.6,9.3 408.2,12 403.2,35.7 402.2,37.2 401.2,37.4 400.2,37 399.6,36.3 399.5,34.3 401.2,23.3 404.3,7.3M418.4,7.3 418.8,9.3 416.2,25.5 413.5,38.3 413.1,39.3 412.2,40 411.2,39.9 410.3,39.3 409.9,38.3 415,7.3M428.4,7.3 428.8,8.3 426.9,23.3 425.6,30.3 423.9,38.3 423.2,39.4 422.2,39.8 420.9,39.3 420.6,37.3 422.2,24.3 424.8,7.3M434.1,8.3 435.2,8.7 435.4,10.3 435.2,36.3 434.2,48.6 433.2,42.2 433.1,36.3 433.6,9.3M455.5,7.3 456.1,8.3 456.2,9.3 455.2,18.6 453.6,26.3 453.2,27.2 452.2,27.4 451.6,25.3 451.7,18.3 452.8,8.3 453.5,7.3M467.1,7.3 467.4,9.3 467.2,11.8 465.2,25.7 464.7,27.3 464.2,27.8 463.2,28 462.2,27.3 462,25.3 462.4,17.3 463.7,7.3M477.3,7.3 477.7,8.3 477.7,10.3 476.7,19.3 474.9,28.3 474.2,29.2 473.2,29.3 472.2,28.3 472.1,25.3 472.4,19.3 473.9,7.3M485.2,8.3 486.2,7.5 487.2,7.7 487.9,9.3 487.2,15.5 486.2,20.8 485.2,23.8 484.2,24 484,17.3M322.5,9.3 323.2,8.8 324.2,9 324.7,10.3 323.2,19.3 322.2,22.8 321.2,24.8 320.8,22.3 320.9,18.3 322.1,10.3M381.8,9.3 383.2,9.4 383.9,10.3 384,12.3 382.2,23.8 381.2,27.8 380.2,28.8 379.4,28.3 379.2,27.3 379.4,19.3 380.7,10.3M443.9,9.3 444.2,8.7 445.1,9.3 444.7,24.3 444.2,28.6 443.4,26.3 443.2,24.3M333.1,11.3 334.2,10.5 335.2,10.7 335.9,11.3 335.8,13.3 332.2,25.3 329.2,33.5 327.2,37.7 326.7,37.3 326.6,36.3 327.8,29.3 329.1,24.3M345.1,12.3 346.2,11.4 347.2,11.5 348,12.3 348.2,13.3 343.2,29.5 340.2,37 339.2,38.4 338.5,37.3 339.2,32.9 341.1,25.3M357,12.3 358.2,11.6 359.2,12 359.6,13.3 355.2,28 351.2,37.2 350.9,36.3 351,34.3 352,29.3M368,13.3 369.2,12.6 370.2,13 370.6,14.3 368.4,21.3 367.2,23.6 366.2,24.4 365.8,22.3 366.1,19.3M271.7,24.3 272.2,24 273.2,24.3 274.2,26.3 274.4,28.3 274.2,33.6 273.2,35.7 272.2,36 271.2,35.4 270.6,34.3 269.9,32.3 269.6,30.3 270.3,26.3 271.2,24.6M281.9,24.3 282.2,24.1 283.3,24.3 284.2,25.5 284.5,27.3 284.4,33.3 284.2,34.5 283.2,35.9 282.2,35.9 281.2,35 280.6,32.3 280.7,27.3 281.2,25M292.6,25.3 293.2,24.8 294.2,24.9 295.2,26.3 295.4,27.3 295.4,32.3 295.2,33.6 294.2,35.1 293.2,35.2 292.2,34 291.7,32.3 291.6,28.3 292,26.3M271.8,44.3 272.2,44 273.2,44.4 274.1,47.3 273.8,50.3 273.2,51.5 272.2,51.9 271.2,51.1 270.6,48.3 271,45.3M282,44.3 283.3,44.3 284.2,46.1 284.3,47.3 284.1,50.3 283.2,51.7 282.2,51.8 281.2,50.7 280.9,48.3 281.2,45.4M401.1,45.3 401.2,45 402.2,45.3 402.5,48.3 401.2,66.5 400.2,69.1 399.2,69.1 398.7,67.3 400,48.3M412.1,45.3 412.2,45 413.2,45.3 413.6,48.3 412.2,66.4 411.2,69.1 410.2,69 409.8,66.3 411.1,48.3M422.6,45.3 423.2,44.8 424,48.3 422.2,68.1 421.2,69.3 420.2,68.5 420,66.3 421.5,48.3 422.2,45.6M478.1,46.3 479.2,46.1 480.4,47.3 480.6,49.3 480.3,51.3 479.2,51.9 478.2,51.5 477.6,50.3 477.5,48.3M488.4,46.3 489.2,45.7 490.2,46 490.9,48.3 490.5,51.3 490.2,51.8 489.2,52.1 488.2,51.4 487.9,50.3 487.8,48.3M391.1,48.3 391.2,50.6M317,51.3 317.2,51.1 317.7,53.3 317.2,58.6 314.2,79.8 313.2,82.9 312.2,82.2 312.2,80 316.2,52.2M327.7,51.3 328.2,50.6 328.9,51.3 329.2,53.5 325.3,81.3 324.2,83.6 323.2,82.6 323.1,80.3 326.9,53.3M338.1,51.3 339.2,50.8 339.5,53.3 339.2,56.7 336.8,72.3 336.2,78 335.2,82.6 334.2,83.4 333.7,81.3 337.2,54.9M501.2,50.6 500.2,51.8 499.2,52 498.3,50.3 498.2,49.3 498.4,47.3 499.2,46 500.2,46 501.2,47.2M390.2,55.3 390.2,62.6M432.1,65.3 433.2,64.8 433.8,65.3 434.2,66.1 434.3,67.3 433.6,71.3 433.2,72.2 432.2,72.9 431.2,72.2 430.9,70.3 431.2,67.2M444,65.3 444.2,65.1 445.2,65.9 445.4,69.3 445.2,70.4 444.2,72.2 443.2,72.4 442.5,71.3 442.3,69.3 443.1,66.3M454.9,65.3 455.2,65.2 455.8,66.3 456.1,68.3 455.2,71.8 454.2,72.5 453.1,71.3 453,68.3 453.7,66.3 454.2,65.5M464.7,65.3 465.2,64.8 466.2,65.1 466.8,67.3 466.3,71.3 465.2,72.8 464.2,72.7 463.3,70.3 463.7,67.3M475.2,65.3 476.2,64.7 477.2,66.3 477.2,69.3 476.2,72.5 475.2,72.9 474.2,71.6 474,69.3 474.3,67.3M485.1,65.3 486.2,64.8 486.8,65.3 487.4,67.3 487.1,70.3 486.2,72.2 485.2,72.8 484.2,72.1 483.8,70.3 484.1,67.3M496.6,67.3 497.2,66.6 497.8,67.3 498,68.3 497.2,70.8 496.2,70.3 496.2,68.3M402.1,97.3 403.1,98.3 403.4,99.3 403.4,103.3 403.2,104.4 402.2,105.6 401.2,105.6 400.2,103.9 400,100.3 400.6,98.3 401.2,97.4M411.4,98.3 412.2,97.6 413.2,98.1 413.9,100.3 413.9,102.3 413.2,104.8 412.2,105.4 411.2,104.5 410.9,103.3 410.8,100.3M389.6,99.3 390.2,98.5 391.2,98.9 391.8,101.3 391.2,104 390.2,104.4 389.1,102.3 389.2,100.3M423.1,101.3 423.2,101.6"/><path fill="none" stroke="#2a2a2a" stroke-width="0.45" stroke-dasharray="1.6 0.9" d="M295.2,7.7 294.3,9.3 294.3,13.3 295.2,16.9 296.2,17.2 297.2,13.9 297.3,9.3 297,8.3 296.2,7.5M306.2,8.1 305.7,9.3 305.2,14.3 306.2,17.4 307.3,15.3 308,9.3 307.2,7.9M386.6,7.3 386,9.3 384.5,19.3 383.2,30.3 383.7,32.3 385.2,33.1 386.2,32.9 386.8,32.3 387.8,29.3 391.2,10.8 391.1,7.3M398.6,7.3 394.2,31.6 393.9,34.3 394.2,35.4 395.2,35.9 396.2,35.8 397.2,34.9 398.2,31.6 403.1,9.3 402.8,7.3M409.8,7.3 405.2,32.5 405,36.3 406.2,37.3 407.2,37.1 408,36.3 409.2,32.2 413.2,12.8 413.7,9.3 413.4,7.3M420.2,7.3 417.4,25.3 415.9,38.3 416.2,39.2 417.2,39.8 418.2,39.7 418.5,39.3 420.2,31.4 423.2,12.8 423.6,9.3 423.3,7.3M458.2,7.3 457.2,14.8 456.9,21.3 457.1,25.3 458.2,26.4 459.2,26.2 460.2,23.6 461.2,17.7 462,10.3 462,8.3 461.6,7.3M469,7.3 468.2,11.8 467.3,22.3 467.3,25.3 468.2,26.4 469.2,26.2 470.2,23.9 472.2,11.3 472.3,8.3 472,7.3M480.2,7.8 479.6,9.3 478.7,17.3 478.7,22.3 479.2,24.4 480.2,22.6 481.2,18.7 482.4,9.3 482.2,8.2 481.2,7.5M318.2,9.2 317.2,9.7 316.2,16.3 316.4,18.3 317.2,19.6 318.2,16.8 318.9,10.3M449.2,8.7 448.8,10.3 448.3,21.3 448.4,23.3 449.2,25 450.1,9.3M491.2,8.6 490.2,12.4 490.2,15.9 491.2,15.5 492.2,9.3M430.2,10.1 429.6,11.3 429.2,14.7 428.4,28.3 428.1,40.3 428.2,53.3 428.6,58.3 429.2,61.4 430.4,45.3 431.1,11.3M328.2,10.6 327.2,12.5 325.2,20.1 325.2,22.1 325.5,21.3 326.2,20.8 328.2,14.7 329.1,11.3M340.2,11.9 339.2,13.7 335.2,27.4 333.8,34.3 333.8,36.3 334.2,36.8 338.2,27.3 342.2,14.1 342.2,12.2 341.2,11.6M352.2,11.9 351,13.3 348.2,22.8 347,28.3 346.9,30.3 347.2,31 350.2,24.4 353.2,14.3 353.2,12.4M364.2,12.2 363.2,12.7 362.2,15.3 359.2,26 358.2,30.5 358.2,32.5 358.6,31.3 359.2,30.9 360.2,28.8 362.2,22.8 364.8,13.3M374.2,12.3 372.1,18.3 371.9,21.3 372.2,23 373.2,21.8 374.2,19.8 376.1,13.3 375.7,12.3 375.2,12M277.2,24.7 276.2,26 275.8,30.3 276.2,34.1 277.2,35.3 278.2,35 279.1,32.3 279.2,30.3 278.8,26.3 278.2,25M287.2,24.9 286.2,27.1 286.1,32.3 287.2,35 288.2,35.2 289.2,34.2 289.5,33.3 289.7,28.3 289.2,25.8 288.2,24.8M298.2,26.8 297.6,29.3 297.7,31.3 298.2,33.2 299.2,33.4 300.2,31.6 300.4,29.3 300.2,28.3 299.2,26.5M366.2,28.2 366.2,40.8 366.6,40.3 366.6,29.3M277.2,44.5 276.2,45.9 276,48.3 276.2,50.2 277.2,51.4 278.2,51.1 278.9,48.3 278.2,44.8M287.2,45.4 286.6,47.3 286.8,49.3 287.2,50.5 288.2,50.5 288.9,49.3 289.1,47.3 288.2,45.3M407.2,45.5 406.2,47.6 404.7,66.3 404.7,67.3 405.2,68.6 406.2,68.4 406.5,67.3 407.2,61.9 408,47.3M417.2,45.9 416.4,49.3 415,66.3 415.2,68.2 416.2,68.7 416.9,67.3 418.5,49.3 418.2,46M494.2,46 493.2,47.3 493.2,50.6 494.2,51.9 495.3,51.3 495.9,49.3 495.7,47.3 495.2,46.3M396.2,46.5 395.2,49.6 394.2,67.7 395.3,67.3 396.2,59.1 396.6,48.3M473.2,46.9 472.6,48.3 472.6,49.3 473.2,50.7 474.2,51.5 475.2,50.7 475.2,47.7 474.2,46.7M483.2,47.1 482.9,49.3 483.2,50.7 484.2,51.5 485.2,51.3 485.7,49.3 485.2,46.7 484.2,46.3M322.2,53.1 322.2,56.6M333.2,52.4 332.6,59.3 332.2,59.6 331.9,64.3 332.2,66.1 332.6,60.3 333.2,59.7 334.2,53.3M428.2,65.2 427.2,65.4 426.2,66.8 425.8,68.3 425.9,71.3 426.2,72 427.2,72.4 428.2,71.3 428.6,69.3 428.7,67.3M438.2,65.1 437.2,66.1 436.4,69.3 436.6,71.3 437.2,72.4 438.2,72.3 439.2,70.5 439.5,69.3 439.2,65.7M471.2,65.3 470.2,65.4 469.2,67.1 469,68.3 469.1,71.3 470.2,72.5 471.2,71.7 471.8,69.3 471.8,67.3M449.2,65.8 448.2,67.3 447.9,69.3 448.2,71.4 449.2,71.9 450.2,70.5 450.5,68.3 450.2,66.1M460.2,65.7 459.2,66.6 458.7,68.3 458.6,70.3 459.2,71.8 460.2,71.7 461.2,68.5 461.2,67.3M480.2,65.9 479.2,68.2 479.1,70.3 479.2,71.1 480.2,71.7 481.2,70.6 481.5,68.3 481.2,66M331.2,67.2 330.9,72.3 331.2,73.7 331.4,68.3M491.2,67.2 490.8,69.3 491.2,70.8 492.2,70.5 492.5,68.3 492.2,66.6M330.2,74.2 329.7,80.3 330.2,81 330.6,75.3M319.2,75.5 319.2,76.9M396.2,98 395.2,99.3 394.9,101.3 395.2,103.7 396.2,104.9 397.4,104.3 397.9,101.3 397.2,98.3M406.2,97.9 405.5,100.3 405.6,103.3 406.2,105.1 407.2,105.4 408.2,104.3 408.6,102.3 408.6,100.3 408,98.3 407.2,97.6M417.2,98.7 416.4,101.3 416.6,103.3 417.2,104.4 418.2,104.1 418.7,101.3 418.2,98.9M385.2,100.8 384.9,101.3 385.2,102.3"/><path fill="none" stroke="#2a2a2a" stroke-width="0.45" d="M396.1,7.3 396.7,9.3 394.7,21.3 392.2,31.4 391.2,32.6 390.6,31.3 390.6,29.3 391.1,21.3 393,9.3 393.9,7.3M407.3,7.3 407.9,8.3 408,9.3 405.2,24 403.2,31.5 402.2,34.1 401.2,34.4 401.2,29.8 402.2,21.8 404.9,8.3 405.7,7.3M415.7,8.3 416.2,7.6 417.2,7.5 417.9,8.3 418.1,9.3 415.2,26.1 413.2,32.9 412.2,33.7 412.2,29 413,22.3M425.5,8.3 426.2,7.5 427.2,7.7 427.8,9.3 425.6,24.3 423.2,33.2 422.4,32.3 422.9,24.3M464.8,8.3 465.2,8 466.2,8.2 466.4,10.3 465.2,19.6 464.2,21.7 463.6,20.3 463.5,17.3 464.2,9.9M475.1,8.3 476.2,8.6 476.4,10.3 475.3,19.3 474.2,21.9 473.6,18.3 474.2,11.6M454,9.3 454.2,8.9 454.8,9.3 454.2,17.2 453.2,19.4 453.2,14.6M382.2,11.3 382.2,15.5M381.1,18.3 381.2,17.4 381.4,18.3 381.2,19.9M271.7,28.3 272.2,27.6 273.2,28.3 273.3,29.3 273.2,31.6 272.2,32.4 271.3,30.3M281.9,28.3 282.2,27.7 283.2,28 283.5,29.3 283.2,32.1 282.2,32.3 281.7,30.3"/><path fill="none" stroke="#2a2a2a" stroke-width="0.45" stroke-dasharray="1.6 0.9" d="M388.1,7.3 387.1,9.3 385.3,20.3 384.9,27.3 385.2,30.5 386.2,29.7 387.2,27 389.2,18.6 390.6,9.3 390.5,8.3 389.8,7.3M399.9,7.3 399.1,8.3 396.2,23.3 395.3,32.3 396.2,32.9 398.2,27.7 400.2,20.1 402.4,9.3 402.2,8.1 401.5,7.3M411.2,7.3 410.2,8.8 407.2,24.8 406.7,31.3 407.2,33.2 409.2,28.1 411.2,19.7 413.1,9.3 413,8.3 412.2,7.3M421.2,8.1 420.2,12.2 418.2,26.9 418.2,30.9 419.2,30.5 420.2,26.7 422.2,14.8 422.9,9.3 422.2,7.8M460.2,8.2 459.2,8.7 458.3,16.3 458.5,18.3 459.2,19.8 460.2,17.3 460.9,9.3M470.2,8.2 469.2,11.3 468.8,18.3 469.2,19.9 470.2,18.1 471.2,11.6 471.2,8.6"/>
</g>
<rect x="270.20" y="8.30" width="229.60" height="111.70" fill="none" stroke="#c8c8c8" stroke-width="0.7"/>
<rect x="270.20" y="8.30" width="24.5" height="12" fill="#fff"/>
<text x="272.10" y="18.00" font-size="7.1" font-weight="bold" fill="#1a1a1a">(b): E2</text>
<text x="270.20" y="129.90" font-size="7" fill="#262626" text-anchor="middle">17/Jul/17</text>
<text x="287.89" y="129.90" font-size="7" fill="#262626" text-anchor="middle">19</text>
<text x="305.58" y="129.90" font-size="7" fill="#262626" text-anchor="middle">21</text>
<text x="323.28" y="129.90" font-size="7" fill="#262626" text-anchor="middle">23</text>
<text x="340.97" y="129.90" font-size="7" fill="#262626" text-anchor="middle">25</text>
<text x="358.66" y="129.90" font-size="7" fill="#262626" text-anchor="middle">27</text>
<text x="376.35" y="129.90" font-size="7" fill="#262626" text-anchor="middle">29</text>
<text x="394.04" y="129.90" font-size="7" fill="#262626" text-anchor="middle">31</text>
<text x="402.89" y="129.90" font-size="7" fill="#262626" text-anchor="middle">8/1</text>
<text x="420.58" y="129.90" font-size="7" fill="#262626" text-anchor="middle">3</text>
<text x="438.27" y="129.90" font-size="7" fill="#262626" text-anchor="middle">5</text>
<text x="455.97" y="129.90" font-size="7" fill="#262626" text-anchor="middle">7</text>
<text x="473.66" y="129.90" font-size="7" fill="#262626" text-anchor="middle">9</text>
<text x="491.35" y="129.90" font-size="7" fill="#262626" text-anchor="middle">11</text>
<g clip-path="url(#clipc)">
<g filter="url(#pb)"><path fill="#ffeaea" fill-rule="evenodd" d="M53.5,138.3 53.1,135.3 53.7,132.3 66.9,132.3 63,136.9 59,139.9 56,140.4 55,140.1ZM91.5,132.3 87,140.3 78,153 77,153.9 75,154.5 73,154 71,152.6 69.8,150.3 70.4,148.3 79,132.3ZM121.3,132.3 112,146.1 105,155.1 103,156.9 101,157.8 100,157.8 98,156.7 95.8,153.3 96.2,150.3 105.9,132.3ZM149.6,132.3 145,140.3 137,152.4 134,154.9 128.8,157.3 124.1,160.3 121.6,163.3 121.1,165.3 121.2,168.3 123.8,178.3 121.8,190.3 121.2,192.3 120,193.6 118,194.4 116,194.1 113.7,192.3 112.1,189.3 113.5,179.3 110.5,169.3 110.3,164.3 111,162.3 115.9,157.3 121,154 123,152.1 135.8,132.3ZM177.1,132.3 164,152.9 162,154.6 152.2,159.3 148.9,162.3 147.3,166.3 147.5,172.3 148.9,178.3 147,189.3 146.5,190.3 145.1,191.3 142,192.4 139,192.8 137.2,192.3 136.6,191.3 136.6,189.3 138.3,178.3 136.1,168.3 136.5,166.3 138.8,162.3 142.2,159.3 148,156 150,154.3 163.5,132.3ZM206,132.3 194,153.9 192,156.5 178.6,157.3 178.7,155.3 182.1,148.3 192.6,132.3ZM231.5,132.3 230.2,144.3 228.7,149.3 230.8,153.3 231.2,155.3 230.9,157.3 227.9,165.3 227.7,174.3 228.5,178.3 226.6,189.3 225.6,191.3 223.9,192.3 220,193.6 218,193.4 216.7,192.3 216.7,189.3 218.3,178.3 215.9,167.3 218.9,158.3 219.1,156.3 217.9,154.3 213.6,151.3 213.1,150.3 213.1,148.3 216,140.5 220.7,132.3ZM248.1,132.3 254.9,132.3 258.1,135.3 259.8,138.3 260,141.3 258,144.4 256,145.4 254,145.6 251,144.7 249,142.9 247.6,140.3 246.9,137.3 247.1,134.3ZM55,151 58.1,152.3 60.3,155.3 60.2,157.3 58.1,163.3 58.3,166.3 59,169.2 64,171 69,174.2 72,179.9 72.5,182.3 70.4,188.3 70.4,190.3 77.6,198.3 79.1,202.3 79.2,205.3 78.5,207.3 77.2,209.3 74,211.7 71,214.8 67,216 66,217.3 59.3,243.3 57.2,246.3 40.3,246.3 43,241.7 45,240.5 48.3,239.3 50.4,228.3 53.6,218.3 58,215.6 62,211.5 66,210.2 68.1,204.3 67.8,202.3 66,197.2 62,194.7 59.3,190.3 59.2,188.3 61.3,182.3 60.9,180.3 58,174.2 57,173.3 54,172.4 48.6,168.3 47.8,166.3 47.7,162.3 51,153.3 53,151.4ZM251,151.1 253,152 254.7,154.3 255,156.3 252.6,163.3 253,170.3 251.8,174.3 252.5,178.3 250.8,188.3 249.6,190.3 246,192.7 243,193.2 241.2,192.3 240.7,190.3 242.4,178.3 241.3,173.3 240.9,166.3 246,153.1 248,151.5ZM80,157.1 82,157.9 83.2,159.3 84,164.9 85,168.3 87,169 89,170.4 95.3,178.3 96.4,182.3 93.9,189.3 93.9,191.3 96,190.8 98,191.9 102.4,198.3 104.1,203.3 104,205.3 102.8,208.3 97,213.7 94,215.1 93,216.4 86,243.3 83.6,246.3 78.4,246.3 76.4,244.3 75.7,242.3 77.4,230.3 79,223.5 81.3,217.3 85,215 88,212.3 93,210.6 95.3,204.3 94.7,201.3 92,194 90,194.2 88,193.9 83.4,191.3 83.1,189.3 85.7,182.3 85.3,180.3 82,173.6 77,169.3 74.8,166.3 74.6,163.3 75.1,161.3 77.4,158.3ZM173,158.4 175.1,159.3 173.6,164.3 173.3,173.3 174.3,178.3 172.4,189.3 172,190.4 170,191.7 166,192.5 163.4,192.3 162.2,191.3 161.8,189.3 163.5,178.3 162.1,172.3 161.7,168.3 161.9,166.3 164.5,162.3 166.4,160.3 170,158.5ZM197,157.4 198.8,158.3 200.1,160.3 200.6,164.3 204.3,177.3 204.2,180.3 202.6,189.3 201.4,191.3 196,193.3 194,193.4 192,192.6 191.4,193.3 194.2,204.3 191.9,212.3 191.7,218.3 189,232.3 187.4,236.3 183,241.4 182,241.7 181.5,241.3 180.9,237.3 181.2,230.3 183,223.9 185.3,218.3 185.1,217.3 184,216.3 180,216.4 177.9,215.3 176.2,213.3 175.9,211.3 177.8,204.3 175.6,196.3 175.4,194.3 176,193.4 177,193.1 183,194.1 188,191.1 191.3,192.3 191.1,188.3 192.7,178.3 190.8,171.3 190.1,163.3 190.7,161.3 192,159.1 194,157.8ZM34,168.9 37,170.5 40,173.8 43.1,176.3 44.4,178.3 45.6,182.3 43.6,188.3 43.7,189.3 49.8,198.3 51.3,202.3 51.5,204.3 50.7,207.3 49.4,209.3 43.4,215.3 39,217.3 37.3,222.3 33.5,238.3 33,239.4 28,241.5 28,217.7 31,216.3 35,212.1 38,210.4 40.2,204.3 39.6,201.3 38,196.9 34,193.4 31.4,188.3 31.6,186.3 33.1,182.3 30.5,176.3 30.2,173.3 31.4,170.3 33,169.1ZM135,191.6 136.6,192.3 137.2,196.3 139.4,203.3 138.2,210.3 143,217.3 143.7,219.3 141,232.5 138,241.6 136,244.5 133,245.4 130.7,244.3 129.8,243.3 129.2,241.3 130.5,229.3 133.3,218.3 131,216.1 129.3,212.3 128.7,208.3 129.5,203.3 127.5,196.3 127.8,195.3 130.1,193.3 133,191.8ZM239.8,192.3 240.7,193.3 243.7,203.3 242.8,209.3 245,211.6 246.8,217.3 243.8,232.3 242,238 237,245.4 235.6,246.3 225.6,246.3 227,241.8 231.2,238.3 232.9,228.3 236,217.3 234.7,214.3 234.2,211.3 235.5,203.3 233.5,196.3 233.8,195.3 236,193.2 238,192.2ZM158,192.6 160,193.6 162.8,202.3 163.1,204.3 160.4,214.3 159,216.2 158,216.6 155,215.6 152.4,212.3 152.1,210.3 153.5,203.3 151.3,195.3 151.8,194.3 153.9,193.3ZM216.3,193.3 219.2,203.3 219.1,205.3 217.7,210.3 219.1,216.3 214.8,235.3 210,244.3 207.9,246.3 197.7,246.3 198.3,243.3 199.4,241.3 201,239.8 203.6,238.3 205.2,228.3 208.7,217.3 208,212 210.1,204.3 208,196.3 208.4,195.3 209.8,194.3 213,193.2ZM116.4,211.3 118,213 118.2,215.3 114.2,232.3 110.7,243.3 109,245.1 107,246 105,245.7 102.3,243.3 101.9,240.3 103.6,229.3 106,220.4 107,218.3 110.9,215.3 113,212.6 115,211.4ZM163,215.3 166.6,217.3 168.1,219.3 166,230.8 163.6,237.3 157,241 156.4,240.3 156.2,237.3 157,228.9 160,219.4 161.6,216.3ZM170.5,246.3 171.6,242.3 174,240 177,239.4 180.7,241.3 180.7,246.3ZM143.7,246.3 144.8,243.3 147,241.1 149,240.5 151,240.6 152.6,241.3 153.2,242.3 153.6,246.3ZM252.6,246.3 254,242.9 256,240.9 258,240.5 260,241.8 260,246.3Z"/><path fill="#ffd4d4" fill-rule="evenodd" d="M56.3,136.3 56.4,132.3 65.8,132.3 63,135.7 60,137.6 58,137.7ZM90.6,132.3 89.5,135.3 86.6,140.3 80,149 78,150.9 76,152 74,152.2 72.2,151.3 71.4,149.3 71.8,147.3 79.9,132.3ZM120.5,132.3 114,142.7 106,152.6 102,155.2 100,155.3 98,154.2 96.9,152.3 97.3,149.3 100.8,142.3 106.7,132.3ZM148.7,132.3 144,141.3 139,148.9 136,152.6 134,154 123,159 119,162.7 118.5,165.3 121.6,176.3 121.8,179.3 119.5,190.3 118,191.7 116,191.6 115,190.9 114.2,189.3 115.7,178.3 113,168.3 112.8,164.3 113.3,162.3 116,159 123,153.3 130,141.9 136.7,132.3ZM176,132.3 174.2,136.3 165,150.7 163,152.9 161,154.2 154,156.8 150.3,157.3 150.2,156.3 154.7,147.3 164.4,132.3ZM204.3,132.3 203.7,135.3 201.8,139.3 193,153.4 191,155 189,155.6 182.1,155.3 181,154.6 180.8,153.3 181.3,151.3 183.7,146.3 189,138.3 194.1,132.3ZM229.6,132.3 230,137.3 229.1,143.3 228,145.6 224,151.3 227.8,153.3 229,155.3 228.9,157.3 226.4,164.3 226.8,170.3 225.7,173.3 226.6,177.3 226.5,179.3 224.7,189.3 223.1,191.3 221,191.8 219.5,191.3 218.4,189.3 220,178.3 217.5,168.3 218,166.3 219.7,164.3 222.7,153.3 222.3,152.3 218,152.3 215.4,151.3 214,149.3 214.1,147.3 215.8,142.3 218,137.9 222.7,132.3ZM249,134.5 250,133.7 252,133.5 254,134 255.8,135.3 257.3,137.3 257.8,139.3 257.6,141.3 256,143.1 254,143.6 252,143.2 250,141.8 248.2,138.3 248.1,136.3ZM55,153.6 57,154.2 58,156.3 55.7,163.3 56.2,170.3 55,171.5 52.4,170.3 50.7,168.3 49.7,163.3 50.1,161.3 52.8,155.3 54,153.9ZM250,154.3 251,154.7 251.7,156.3 249.2,163.3 249.7,169.3 248.2,172.3 249.2,177.3 249.2,179.3 247.3,189.3 246.3,190.3 245,190.5 244,189.7 243.7,188.3 245.3,178.3 242.9,168.3 243.1,167.3 245.2,165.3 245.6,161.3 248,155.8 249,154.7ZM145,160.3 145.6,161.3 145.2,164.3 145.4,172.3 146.8,177.3 146.8,179.3 144.9,189.3 143,191 141,191.3 140,190.9 139.2,189.3 140.7,178.3 138.4,168.3 141.3,162.3 143,161ZM196,160.1 197,160.4 197.5,161.3 198,164.3 201,172.3 202.5,178.3 200.1,190.3 199,191.3 196,192 194.4,191.3 193.5,189.3 195.1,178.3 192.7,169.3 192.5,164.3 192.9,162.3 193.7,161.3ZM169,161.4 170,161.7 171.2,166.3 171.5,169.3 170.6,173.3 171.7,177.3 171.7,179.3 169.8,189.3 169.2,190.3 168,191 166,191.1 164.7,190.3 164.3,189.3 165.9,178.3 163.5,168.3 163.7,167.3 165.7,165.3 167,162.7ZM79,163.8 80,164.7 81,168.2 81,169.5 80,169.9 79,168.7 78.6,167.3ZM35,170.8 37,171.7 40.3,175.3 43.2,180.3 43.3,183.3 40.2,191.3 41,192 44,192 45,192.9 47.3,197.3 49.3,203.3 49.2,205.3 47.5,209.3 44,213.8 42,215 41,215 40,214.3 39.6,213.3 42.1,204.3 39,193.7 37,194.2 35,193.4 33.2,190.3 33.3,188.3 35.6,182.3 32.7,175.3 32.6,173.3 33.8,171.3ZM62,171.5 64,172 67.1,174.3 68.5,176.3 70.7,181.3 70.6,183.3 66.8,192.3 66,193.3 64,194.2 62,193.3 60.6,190.3 63.3,182.3 60.2,174.3 60.7,172.3ZM87,171.3 88.8,172.3 90.2,174.3 93.3,180.3 93.7,182.3 90,191.3 89.2,192.3 88,192.6 86,191.9 84.7,190.3 87.5,182.3 84.6,175.3 84.4,173.3 85,172.2ZM70,192.6 72,193.5 74.1,196.3 76.1,201.3 76.7,204.3 74.9,209.3 71.3,213.3 70,214.1 69,214 68.4,212.3 70.5,205.3 70.6,203.3 68.3,195.3 68.8,193.3ZM132,194.4 133,194.7 134,196.8 136.1,204.3 133,213.4 132,213.6 131.4,211.3 133.4,204.3 131.1,195.3ZM156,194.7 157,195.5 159,201.3 159.6,204.3 157,212.3 156,213.2 155,212.3 154.9,211.3 156.7,205.3 156.8,203.3 154.7,196.3 154.7,195.3ZM36,213 37,213.6 37.4,215.3 34,232.3 31.7,238.3 30.8,239.3 28,240.7 28,218.9 32,216.3 35,213.3ZM63,212.7 64.3,214.3 64.3,216.3 61,232.5 56.8,242.3 55,243.8 53,243.8 52,243.2 51,241.5 50.8,237.3 51.5,229.3 54.3,220.3 55.6,218.3 59,215.6 61,213.4ZM90,213.3 90.7,214.3 90.8,216.3 87.7,232.3 85.4,238.3 83.2,242.3 82,243.2 80,243.2 78.5,241.3 78.2,235.3 78.9,229.3 82.1,219.3 83.6,217.3 88,213.7ZM243,214.9 243.8,216.3 243.9,218.3 242,231.3 239,237.8 237,239.9 236,240 235,238.4 234.7,236.3 235.1,228.3 238.6,219.3 241,216 242,215.1ZM114,215.5 114.4,219.3 112.5,231.3 110,236.9 108,239.6 107,240.1 106,239.5 105.1,236.3 105.6,228.3 109,219.6 112,216.4ZM139,217.9 140,218.6 140.2,220.3 139.1,230.3 136,236.6 135,237.5 134,237.5 133,235.2 133,229.3 136,221.3 138,218.6ZM214,218 214.6,219.3 214.7,221.3 213.6,230.3 211,235.9 209,237.6 208,236.9 207.6,235.3 207.5,229.3 211,220.4 213,218.2ZM173.4,242.3 175,241.3 177,241.6 178.3,243.3 178.5,246.3 172.5,246.3 172.6,244.3ZM200.4,242.3 202,241.2 204,241.6 205.3,243.3 205.5,246.3 199.5,246.3 199.8,243.3ZM41.5,246.3 42.6,243.3 44,241.8 46,241.4 47.3,242.3 47.9,246.3ZM146.4,243.3 148,241.9 150,242 151.1,243.3 151.3,246.3 145.7,246.3ZM228.7,242.3 230,241.8 231.5,242.3 232.2,243.3 232.5,246.3 227.5,246.3 227.9,243.3ZM256,243 257.1,243.3 257.6,246.3 254.5,246.3 255,244Z"/><path fill="#ffbfbf" fill-rule="evenodd" d="M58.2,134.3 58.2,132.3 64.5,132.3 63,134.3 61,135.6 59,135.6ZM89.7,132.3 88.9,135.3 87.4,138.3 82,146 79,148.9 77,150.2 75,150.6 73.8,150.3 73,149.6 72.7,148.3 73.4,145.3 77,138.1 80.9,132.3ZM119.7,132.3 115.3,140.3 108,149.6 103,153.4 101,153.9 99,153.2 97.8,151.3 98.7,147.3 103,139.1 107.5,132.3ZM147.7,132.3 146.8,135.3 144.2,140.3 140,146.9 136,151.9 133,153.8 126,156 124,155.8 123.7,155.3 124.2,153.3 127.6,146.3 133,138 137.7,132.3ZM175,132.3 174.1,135.3 172.1,139.3 164,151.2 162,152.9 160,153.9 155,155.2 153,154.8 153,152.3 155.7,146.3 161,137.7 165.3,132.3ZM202.4,132.3 202.7,135.3 201.2,139.3 197,146.6 193,152.3 191,153.9 188,154.8 184,154.3 182.2,153.3 181.9,152.3 182.3,150.3 184.2,146.3 188,140.3 192,135.5 195.8,132.3ZM227,132.8 228.5,134.3 229.1,137.3 228.7,141.3 227.4,144.3 225,147.3 222,149.7 219,150.7 216,150 215,148.4 215,146.3 216,143.1 218,139.1 222,134.5 225,132.8ZM250,135.4 252,134.7 254,135.4 255.2,136.3 256.5,139.3 255.9,141.3 254,142.3 251,141.3 250,140.2 249.2,138.3 249.4,136.3ZM226,155.9 226,157.7 223,164.7 223,161.4 225,156.3ZM196,166.7 197,167.5 199,172.4 200.6,178.3 198.9,188.3 198,189.9 197,190.4 196,189.9 195.5,188.3 197,178.3 194.9,169.3 195,167.3ZM36,172.8 37,173.3 39.1,176.3 41.1,180.3 41.5,182.3 38,190.7 37,192 36,192.3 35,191.5 34.7,190.3 37.7,182.3 34.6,174.3 35,173.1ZM63,173.6 64.8,174.3 68.1,180.3 68.5,182.3 65.2,190.3 64,191.7 63,191.6 62.6,190.3 65.7,182.3 65.2,180.3 62.8,175.3ZM223,174.8 223.9,178.3 222,188.5 221.5,188.3 221.4,187.3 222.7,179.3 222.3,175.3ZM43,194.1 44,194.7 45,196.8 47.1,204.3 45.9,208.3 43,212.7 42.1,212.3 44.4,204.3 42,195.1ZM34,216.2 34.9,217.3 34.9,219.3 33,231.3 30.3,237.3 28,239.4 28,221.8 30.8,218.3ZM61,215.7 61.7,216.3 61.9,218.3 60,231.3 57,237.8 55,239.9 54,240 53,238.4 52.7,236.3 53.1,228.3 56.7,219.3ZM87,217.2 88,218.2 88.1,220.3 86.8,230.3 84,236.5 82,238.4 81,238 80.4,236.3 80.3,229.3 83.7,220.3 85,218.6ZM110,226.3 110.4,229.3 110,230.9 109,232 108,231.6 107.8,229.3 109,227ZM239,226.4 239.9,227.3 240,229.3 239,231.6 238,232 237.3,230.3 237.4,229.3ZM44,243.1 45,242.8 45.9,243.3 46.3,246.3 42.7,246.3 43.1,244.3ZM175,243.8 176,243.8 176.5,246.3 174.5,246.3ZM202,243.8 203,243.8 203.5,246.3 201.5,246.3Z"/><path fill="#ffaaaa" fill-rule="evenodd" d="M60.6,132.3 62.5,132.3 61,133.1ZM88.5,132.3 88.2,135.3 86.9,138.3 82,145.3 79,148 77,149 75,149.1 74,148.3 74,145.3 75.7,141.3 79,135.8 82,132.3ZM118.8,132.3 117.8,135.3 114.9,140.3 108,148.9 105,151.3 103,152.3 101,152.5 99.1,151.3 99,148.3 100.6,144.3 104,138.2 108.4,132.3ZM146.6,132.3 146.1,135.3 144.4,139.3 141,144.8 137,150.2 135,152 133,153.1 128,154.5 126,154.2 125.5,153.3 125.7,151.3 127.4,147.3 132,140 136,135 138.8,132.3ZM173.8,132.3 173.4,135.3 171.6,139.3 168,145.2 164,150.5 162,152.2 159,153.5 156,154 154,153.3 154.2,150.3 156,146.3 160,139.8 164,134.7 166.4,132.3ZM201,133.6 201.6,136.3 200.3,140.3 197,146 193,151.4 191,153 189,153.8 186,153.8 184,153.2 183.1,152.3 182.8,151.3 183.6,148.3 186.4,143.3 190,138.4 193,135.5 197,133.1 199,132.6ZM227,134.9 228,136.5 228.2,139.3 227.4,142.3 226.2,144.3 224,146.8 221,148.7 219,149.3 217,148.9 216,147.6 216,145.3 217,142.2 219,138.7 221,136.4 223,135 225,134.4ZM250.9,136.3 252,135.9 254,136.6 255.2,138.3 255,140.3 253,141.1 251.4,140.3 250.2,138.3ZM32,221 32.5,224.3 31.9,230.3 30,234.1 28,235.7 28,225.8 31,221.2ZM59,221 59.5,224.3 58.9,230.3 57,234.1 56,235.1 55,235.1 54.1,232.3 54.2,229.3 57,222.5 58,221.2ZM85,224.7 85.4,227.3 85.1,230.3 84,232.3 83,233 82,231.8 81.9,229.3 84,225.2Z"/><path fill="#ff9595" fill-rule="evenodd" d="M87.1,132.3 87.6,134.3 87.3,136.3 85.9,139.3 83,143.5 80,146.5 78,147.7 76,148 75,147.3 74.8,145.3 75.8,142.3 80,135.4 83.5,132.3ZM118,132.3 117.2,135.3 115.1,139.3 109,147.2 104,150.9 102,151.4 100,150.4 99.7,149.3 99.9,147.3 102,142.3 105,137.4 109.3,132.3ZM145.2,132.3 145.4,135.3 143.9,139.3 141,144.3 137,149.6 133,152.5 129,153.4 127,153 126.5,151.3 127.9,147.3 131,142 135,136.8 140.2,132.3ZM172.3,132.3 172.7,135.3 171.7,138.3 168.9,143.3 165,148.7 162,151.6 160,152.6 157,153.1 155,152.4 154.8,150.3 156.4,146.3 160,140.3 163,136.5 167.8,132.3ZM200,134.7 200.7,137.3 199.7,140.3 197,145.3 193,150.6 191,152.2 189,153.1 186,153.1 184.4,152.3 183.6,150.3 184.1,148.3 186.8,143.3 190,139.1 193,136.2 196,134.5 198,134ZM226,136 227,137.3 227.2,139.3 225.8,143.3 222,147 220,147.9 218,147.8 217,146.7 216.8,145.3 217.6,142.3 219,139.8 221,137.5 223,136.1 225,135.7ZM252,137.7 253,137.6 253.6,138.3 253.5,139.3 253,139.5 252,139Z"/><path fill="#ff8080" fill-rule="evenodd" d="M86,133.5 86.7,135.3 86.3,137.3 83,142.8 79,146.4 77,146.9 76,146.4 75.6,145.3 75.9,143.3 79,137.5 81,135.2 83,133.7 85,133.2ZM116.9,132.3 116.6,135.3 115.2,138.3 110,145.6 105,149.6 103,150.3 101,149.7 100.6,147.3 101.5,144.3 104,139.6 107,135.5 110.3,132.3ZM144,133.3 144.7,135.3 143.9,138.3 141.3,143.3 138,147.8 135,150.8 133,151.9 130,152.6 128,152.2 127.4,150.3 128.3,147.3 131,142.6 134,138.5 137,135.5 140,133.5 142,132.7ZM171,133.3 171.9,135.3 171.2,138.3 168.5,143.3 165,148.1 161,151.5 158,152.3 156,151.8 155.5,150.3 156.3,147.3 159,142.4 162,138.2 167,133.8 169,133ZM199,135.6 199.8,137.3 199.2,140.3 197.2,144.3 194,148.8 192,150.8 189,152.4 187,152.5 185,151.6 184.4,150.3 185,147.3 187.3,143.3 190,139.7 193,136.9 195,135.7 197,135.1ZM225.2,137.3 226,138.3 226.1,140.3 224.7,143.3 223,145.1 221,146.4 218.5,146.3 217.9,145.3 218,143.3 220,139.6 223,137.2Z"/><path fill="#ff6a6a" fill-rule="evenodd" d="M115.6,132.3 116.1,134.3 115.2,137.3 111,143.8 106,148.3 104,149.2 102,148.9 101.3,147.3 102,144.3 106,137.4 108,135.2 111.7,132.3ZM143,134.2 143.9,136.3 143,139.3 140.9,143.3 138,147.3 135,150.2 133,151.3 130,151.8 128.7,151.3 128.2,149.3 128.8,147.3 130.9,143.3 134,139.1 139,134.8 141,134ZM170.1,134.3 171,135.8 170.6,138.3 168.7,142.3 166,146.3 163,149.6 161,150.9 159,151.5 156.9,151.3 156.3,150.3 156.8,147.3 161,140.1 166,135.2 168,134.2ZM85,134.5 85.7,135.3 85.6,137.3 83.6,141.3 80,145 78,145.8 77,145.5 76.5,144.3 76.9,142.3 79,138.3 82,135.2 84,134.4ZM198,136.3 199,138.1 198.7,140.3 196.7,144.3 194,148.1 190,151.4 188,151.9 185.9,151.3 185.2,150.3 185.2,148.3 186.5,145.3 189,141.5 191,139.3 194,137 196,136.2ZM224,138.6 224.7,139.3 224.9,140.3 224.2,142.3 222,144.6 220,145.1 219.2,144.3 219.1,143.3 220,141.1 222,139Z"/><path fill="#ff5555" fill-rule="evenodd" d="M114,133.1 115.1,134.3 115,136.3 112,141.9 107,147 105,148 103,148.1 102.1,146.3 102.5,144.3 105.8,138.3 110,134.3 112,133.2ZM142.4,135.3 143.1,137.3 142.1,140.3 140,144 137,147.8 133,150.7 131,151.1 129.1,150.3 129,148.3 129.7,146.3 134,139.7 137,136.7 139,135.5 141,134.9ZM169.3,135.3 170.1,136.3 170.1,138.3 168.8,141.3 166,145.7 163,149 161,150.3 159,150.8 157.3,150.3 157,148.3 157.6,146.3 162,139.4 166,135.9 168,135.1ZM84,135.6 84.7,136.3 84.9,137.3 83,141.3 80,144.1 78,144.5 77.6,142.3 79,139.2 82,136.1ZM197.3,137.3 198.1,138.3 197.8,141.3 194,147.5 190,150.7 188,151.1 186.2,150.3 185.8,148.3 186.5,146.3 190,141 194,137.7 196,137.1Z"/><path fill="#ff4040" fill-rule="evenodd" d="M113.4,134.3 114.2,135.3 114.1,137.3 112,141.3 108,145.6 106,146.9 104,147.2 103,146.3 103.1,144.3 106,138.8 110,135 112,134.2ZM141.8,136.3 142.2,138.3 141.6,140.3 140,143.4 137,147.3 133,150.1 131,150.3 130,149.7 129.7,148.3 130.2,146.3 134,140.3 137,137.4 139,136.2 141,135.9ZM169,136.5 169.4,138.3 168.8,140.3 165,146.3 161,149.7 159,150.1 158,149.6 157.6,148.3 158.1,146.3 162,140 166,136.6 168,136.1ZM83.5,137.3 83.4,139.3 82.2,141.3 80,143.1 79,143.2 78.8,141.3 80,139 82,137.2 83,137ZM197,138.6 197.4,140.3 197,141.8 194,146.8 192,148.8 190,150 188,150.3 187,149.7 186.5,148.3 187,146.3 190,141.7 194,138.5 196,138Z"/><path fill="#ff2b2b" fill-rule="evenodd" d="M113,135.6 113.3,136.3 113.1,138.3 110,143 106,146 105,146.2 104,145.6 103.8,144.3 104.5,142.3 107,138.3 110,135.8 112,135.2ZM141,137.1 141.5,138.3 141.1,140.3 138,145.5 134,149 132,149.6 131,149.3 130.4,148.3 130.7,146.3 134,140.9 138,137.4 140,136.8ZM168,137.2 168.5,138.3 168.2,140.3 166,144.4 162,148.4 160,149.2 159,149 158.5,148.3 158.7,146.3 161,141.9 165,137.9 167,137.1ZM196,139.3 196.5,140.3 196.2,142.3 194,146 191,148.8 189,149.5 188,149.2 187.4,148.3 187.7,146.3 190,142.4 193,139.7 195,139ZM81,139.7 81.4,140.3 81,140.7 80.7,140.3Z"/><path fill="#ff1515" fill-rule="evenodd" d="M112,136.6 112.3,137.3 112,139.1 110,142.3 107,144.7 106,145 105,144.6 105.1,142.3 107,139.2 110,136.7 111,136.3ZM140,137.9 140.6,139.3 140.5,140.3 138,144.8 134,148.4 133,148.6 131.6,148.3 131.2,147.3 131.7,145.3 134,141.6 137,138.7 139,137.8ZM167.2,138.3 167.6,140.3 165.5,144.3 163,147 161,148.2 160,148.3 159.2,147.3 159.3,146.3 161.3,142.3 164,139.3 166,138.2ZM195.1,140.3 195.4,142.3 193.9,145.3 191,148 188.8,148.3 188.3,147.3 188.4,146.3 190,143.2 193,140.6Z"/><path fill="#ff0000" fill-rule="evenodd" d="M111,138.1 111,139.4 109,142.3 107,143.6 106.1,143.3 106.5,141.3 108,139.1 110,137.8ZM139,138.9 139.7,140.3 137.8,144.3 135,147 133,147.6 132.4,147.3 132.4,145.3 134,142.3 137,139.5ZM166,139.3 166.6,140.3 165.5,143.3 163,146.2 161,147.1 160.2,146.3 161.2,143.3 164,140.1ZM194,141.5 194.2,143.3 193.1,145.3 192,146.4 190,147.1 189.5,146.3 190.1,144.3 192,142.2Z"/><path fill="#eaeaff" fill-rule="evenodd" d="M78,132.3 75,139.3 68.5,149.3 67.8,151.3 68.2,152.3 71,155.3 72,157.3 70.5,164.3 71,168.5 72,169.7 74,169.3 76,170 81.5,175.3 84,180.3 84.4,182.3 81.8,189.3 81.6,191.3 82.2,192.3 90,196.3 92,200.9 92.7,204.3 91.9,207.3 90.7,209.3 84.3,214.3 81,214.9 80,215.8 77.7,223.3 74.5,237.3 72,244.6 70.3,246.3 64.7,246.3 62.8,244.3 62.1,241.3 64.2,228.3 67,218.8 68.1,217.3 71.7,215.3 75,212 77,211.2 80,211 82,206.3 82.4,203.3 80,196.3 77,195.4 75,194.2 72,190.3 72,188.3 74.1,182.3 73.7,180.3 70.6,173.3 70,172.5 67,171.8 61.6,168.3 60.9,167.3 60.5,162.3 62.4,157.3 62.8,154.3 61.9,152.3 58.2,148.3 57.7,146.3 58.2,144.3 59.3,142.3 68.1,132.3ZM105,132.3 94.6,152.3 94.3,155.3 96.2,160.3 97.6,171.3 95.8,173.3 94,173.5 91.9,172.3 88.6,167.3 87.8,164.3 87.7,159.3 87.1,158.3 81.2,154.3 80.5,153.3 80.5,151.3 92.5,132.3ZM134.9,132.3 128,143.9 122,152.3 110,160 108,160.8 106.3,160.3 105.8,159.3 106,157.3 107.8,153.3 122.1,132.3ZM162.6,132.3 155,145.6 150,153.2 148,154.8 138.1,160.3 135,163.4 134.2,165.3 134,169.3 135.8,178.3 134,188.3 132.8,190.3 129,192.7 127,193.5 125,193.1 124,191.7 123.6,189.3 125.3,178.3 122.9,168.3 123.1,166.3 124.6,162.3 127.9,159.3 136,154.6 150.6,132.3ZM191.3,132.3 178,153.9 175,156 170,156.9 165,159 162,161.8 160.7,164.3 160.3,166.3 160.2,173.3 161.2,178.3 159.2,189.3 158.7,190.3 156,191.7 153,192.4 150,192.3 149.1,191.3 149,190.3 150.7,178.3 148.8,169.3 148.7,167.3 149.5,165.3 153.5,160.3 156.6,158.3 162,156 164,154.2 178.1,132.3ZM218.9,132.3 213,146.3 211.9,150.3 212.7,152.3 216,155.3 216.7,157.3 214.5,165.3 214.7,169.3 217,178.3 215.2,189.3 214.2,191.3 210,193.1 207,193.4 205.1,192.3 204.5,190.3 206.2,178.3 203.6,168.3 203,159.3 200.8,157.3 196,154.7 195.7,152.3 198.5,146.3 207.6,132.3ZM244.4,132.3 246.2,140.3 246,144.3 244,146.8 239.1,149.3 238.4,150.3 241,151.9 242,153.4 242.4,155.3 242.1,157.3 239.5,164.3 239.1,174.3 239.9,178.3 238.2,188.3 237.3,190.3 236.3,191.3 233,193.3 231,193.6 229,192.5 228.4,190.3 230.1,178.3 229.1,173.3 228.8,166.3 232.4,158.3 234.1,153.3 236,151.1 237.7,150.3 237.5,149.3 234,147.5 232.2,145.3 231.5,141.3 231.9,136.3 233.3,132.3ZM44,150.5 47,152.1 48.1,154.3 47.8,157.3 45.7,163.3 46.3,168.3 47,169.5 50,170.7 56.7,175.3 58,177.6 59.6,182.3 57.4,189.3 63.9,198.3 65.3,202.3 65.4,205.3 64.3,208.3 60,212.2 58,214.7 56,216 53,216.5 52.2,217.3 46.5,238.3 42.5,241.3 40,244.8 38.3,246.3 37,246.3 36,245.7 35.2,246.3 28,246.3 28,242.2 31,241.2 34,241.1 34.6,240.3 37,227.8 40,218.3 44,215.7 48,211.6 51.5,210.3 53.6,205.3 53.8,203.3 52,197.8 48,194.2 46,190.3 45.8,188.3 47.9,182.3 46.5,178.3 45,175.3 44,174.5 41,173.5 39,171.7 35.4,167.3 34.5,165.3 34.6,161.3 38,153.3 39,152 41,150.7ZM185,158.3 187.2,159.3 187.9,160.3 187.7,164.3 188.2,170.3 187.7,173.3 188.6,177.3 188.6,179.3 187.3,186.3 186.3,189.3 184,192 183,192.6 181,192.7 176.9,191.3 175.8,190.3 175.5,189.3 177.1,178.3 175.7,172.3 175.2,167.3 175.8,165.3 179,160.8 182,158.9ZM104,168.7 106,169.4 107.1,170.3 111.2,178.3 111.8,182.3 110.1,188.3 110.1,190.3 113.2,194.3 114.9,197.3 116.6,202.3 116.7,205.3 115.5,208.3 110,214.7 108,215.9 106,216.4 105.2,217.3 101,234.2 98,243.6 97,244.9 95,246.3 92,246.3 89.5,244.3 88.7,241.3 90.9,228.3 93.1,220.3 94.4,217.3 99.9,212.3 104.6,210.3 105.7,208.3 106.8,204.3 104.8,197.3 104.2,196.3 101,193.9 99.5,191.3 98.9,189.3 101.3,182.3 98.4,175.3 98.2,172.3 98.7,171.3 101,169.4ZM28,189 30,189.5 36.5,197.3 38.1,201.3 38.6,204.3 36.9,209.3 31.4,215.3 28,216.8ZM251,192.3 252,192.8 252.9,194.3 255.6,202.3 255.8,204.3 255,208.3 256,208.9 260,209.7 260,229.8 257.5,237.3 253.9,241.3 251,246 239.1,246.3 240.5,242.3 242,240.6 244,239.5 244.6,238.3 246.3,228.3 249.2,217.3 247.4,213.3 246.7,210.3 247.6,203.3 245.7,197.3 245.7,195.3 248,193.3ZM147,192.3 148,192.6 148.5,193.3 151.3,203.3 149.6,212.3 150.1,213.3 155.4,218.3 155.9,220.3 153.6,231.3 151.7,237.3 150.9,238.3 143,241.7 142.4,240.3 143,233.3 143.8,228.3 146.7,218.3 146.3,217.3 143,215 141.1,211.3 140.8,209.3 141.8,203.3 139.7,195.3 140.5,194.3 142.5,193.3ZM170,193.2 171,193.3 172.2,194.3 175.1,204.3 172.3,214.3 171,215.9 170,216.2 167,215.2 164.8,212.3 164.8,209.3 166.1,204.3 163.9,195.3 164.7,194.3ZM202.7,193.3 203.5,194.3 206.3,204.3 204.5,211.3 205.4,214.3 205.4,217.3 201,236.1 197.5,241.3 194.9,246.3 184.3,246.3 184.9,243.3 186,241.1 188,239.4 191,238.2 192.6,228.3 196.1,217.3 195,212.3 197.2,204.3 195.1,196.3 195.4,195.3 196.8,194.3 199.7,193.3ZM227,193.2 228,194.3 230.8,203.3 229.8,209.3 232,211.8 233.2,216.3 233,219.1 230,232.4 228.4,237.3 224,244.7 222.3,246.3 211.7,246.3 212.3,243.3 213.3,241.3 217.1,238.3 218.8,228.3 222.1,217.3 220.9,213.3 220.8,211.3 222.5,205.3 222.6,203.3 220.6,196.3 221.1,195.3 222.5,194.3 225,193.3ZM126,210.2 127,210.9 128,212.4 130.2,218.3 130.2,220.3 127.3,233.3 124.2,242.3 122,245.1 119,246 116,244.3 115,242.3 115,239 116.5,229.3 119,220.1 122,212.8 124,210.6ZM175,216.4 178.1,218.3 178.9,220.3 177,231.3 175.5,235.3 174.2,237.3 170,240.6 169,240.5 168.5,236.3 169.1,229.3 172,220.1 173.5,217.3ZM157.5,246.3 158.9,242.3 160,241.1 162,240 165,239.9 167.2,241.3 167.7,242.3 167.6,246.3Z"/><path fill="#d4d4ff" fill-rule="evenodd" d="M76.8,132.3 75,138.3 70,146 67,148.8 65,149.6 63,149.3 62,148.6 61.1,147.3 60.6,145.3 61.3,142.3 63.2,139.3 69.4,132.3ZM104.1,132.3 100.1,141.3 92,154.2 90,155.5 88,155.8 85,155.1 82.5,153.3 81.7,151.3 82.7,148.3 93.4,132.3ZM134,132.3 129.3,141.3 122,151.5 120,153 112,157 110,157.2 109,156.5 108.7,155.3 109,153.3 110.9,149.3 116,141.5 122.9,132.3ZM161.6,132.3 157.3,141.3 150,152.4 148,154 140,157.6 137,158 136,157.3 142.5,145.3 151.6,132.3ZM190,132.3 188.9,135.3 186.2,140.3 178,152.6 175,154.8 166,156.1 165.3,155.3 165.4,154.3 168,148.3 174,139 179.2,132.3ZM216.8,132.3 216.8,134.3 216.1,137.3 210.7,151.3 211,152.7 214,155.3 214.4,156.3 214.4,158.3 212.8,163.3 212.7,165.3 213.6,171.3 215.4,177.3 215.4,179.3 213.1,190.3 212,191.3 209,192 207.4,191.3 206.5,189.3 208.1,178.3 205.7,168.3 205.6,162.3 206.3,158.3 206,157.3 201,155.8 198,154.3 196.9,153.3 196.7,151.3 197.8,148.3 202,141.4 206,135.9 209.6,132.3ZM235.5,132.3 240.9,132.3 242.9,134.3 244,136.2 244.6,139.3 244.2,142.3 243,144.1 241,145.5 239,146 236,145.7 234,144.5 233,143 232.4,140.3 232.6,137.3 233.7,134.3ZM43,152.9 45,153.7 46,155.3 46.1,156.3 43.6,163.3 44.1,170.3 43,172.3 42,172.6 40,171.6 38.3,169.3 37.4,167.3 36.8,163.3 37.2,161.3 40,154.9 41,153.7ZM238,155.1 239,156.3 236.5,163.3 236.9,169.3 235.9,172.3 237.2,177.3 237.2,179.3 235.3,189.3 234.6,190.3 233,191.1 232,190.9 230.8,189.3 232.4,178.3 230.1,168.3 231,166.2 233.8,165.3 234,162.3 237,155.5ZM67,156 68.1,156.3 68.4,158.3 67.2,163.3 67.7,169.3 67,170 65.2,169.3 64.2,168.3 63.2,163.3 65,158.6ZM131,160.2 131.7,161.3 131.2,164.3 131.7,171.3 133.3,177.3 133.3,179.3 131.3,189.3 130,190.8 128,191.6 126.9,191.3 125.7,189.3 127.2,178.3 124.9,168.3 127,162.4 129,160.8ZM157,160.6 158.2,161.3 158.5,169.3 157.6,173.3 158.7,177.3 158.7,179.3 156.7,189.3 155,190.8 153,191.1 151.7,190.3 151.3,189.3 152.9,178.3 150.5,168.3 150.7,167.3 152.6,165.3 154.1,162.3ZM183,160.9 184.2,161.3 185.5,166.3 185.8,169.3 185,173.3 186.1,178.3 184.2,189.3 183,191 181,191.5 179,190.8 177.9,189.3 179.5,178.3 177,168.3 177.2,167.3 179.7,164.3 180.6,162.3ZM49,171.6 51,172.2 53.7,174.3 55.4,176.3 57.7,181.3 57.6,183.3 54.6,191.3 55,191.8 57,191.8 59,193.3 61.3,197.3 63.3,203.3 62.9,206.3 61.5,209.3 58,213.6 56,215 55,214.9 54,214.3 53.7,213.3 56.1,204.3 53,193.9 50,194.2 48.7,193.3 47.6,191.3 47.6,189.3 50.3,182.3 47.2,174.3 47.7,172.3ZM75,171.4 77,172 79.2,174.3 82.8,181.3 82.7,183.3 79.3,191.3 78,193.2 77,193.6 75,192.9 73.5,190.3 73.8,188.3 76.2,182.3 73,174.3 73.6,172.3ZM103,171.9 104.9,172.3 105.8,173.3 109.3,180.3 109.7,182.3 106,191.2 105,192.6 104,193.1 102,192.4 101.4,190.3 104.5,182.3 101.3,174.3 102,172.4ZM29,191 31,191.6 34.4,196.3 36.5,201.3 37.1,204.3 35.4,209.3 32,213.7 30,215.5 28,215.9 28,191.2ZM109,194.2 110,194.7 111,196.8 113.1,204.3 111.9,208.3 109,213 108,212.3 110.4,204.3 108,195.6ZM84,195 85.6,195.3 87.7,197.3 89.8,204.3 89,207.2 87.8,209.3 85,211.6 84,211.8 83.9,210.3 85.7,204.3 83.5,196.3 83.5,195.3ZM144,194.7 145.3,195.3 148.1,203.3 147.9,205.3 145,213 144,212.8 143.6,211.3 145.4,204.3 143.1,196.3 143.2,195.3ZM258,212.2 260,213.6 260,218.1 257.2,231.3 254.9,237.3 251,243.1 249,243.4 247.8,242.3 247.4,241.3 247.1,238.3 247.5,231.3 248.2,227.3 250.6,220.3 254,214 256,212.2ZM49,212.9 50.2,214.3 50.2,216.3 46.6,233.3 44.5,238.3 40,242.9 38.7,243.3 37.5,242.3 37.1,241.3 37,236.3 38,228.3 40,221.6 41.8,218.3 45,215.8 47,213.6ZM76.8,213.3 77.5,214.3 77.5,216.3 74.4,232.3 72.1,238.3 70,242.2 68.8,243.3 67,243.6 66,243.2 65,241.9 64.6,237.3 65.3,229.3 67,223.3 69.2,218.3 75,213.3ZM102,214.1 102.5,215.3 102.3,218.3 100,231.4 98,236.5 96,240.2 94,242.1 93,242.1 91.8,240.3 91.4,236.3 91.9,229.3 93,225.5 96,218.2 100,214.3 101,213.8ZM126,214.9 127,215.7 127.4,218.3 125.8,230.3 123,236.9 121,239.6 120,240.1 119,239.5 118.3,237.3 118.4,229.3 121.6,220.3 124,216.5ZM229,214.9 229.8,216.3 229.9,218.3 228,231.3 225,237.8 223,239.9 222,240 221,238.4 220.7,236.3 221.1,228.3 224.6,219.3 227,216ZM150,222.7 150.9,224.3 150.7,229.3 150,231.7 148,234 146.9,233.3 146.6,229.3 148,225.7ZM199,222.7 199.9,224.3 199.7,229.3 199,231.7 197,234 195.9,233.3 195.6,229.3 197,225.7ZM186.8,242.3 189,240.8 191.3,241.3 192.7,243.3 192.9,246.3 186.1,246.3ZM214.4,242.3 216,241.2 218,241.6 219.4,243.3 219.5,246.3 213.5,246.3 213.8,243.3ZM28,243 30,242.2 32,242.5 32.6,243.3 32.9,246.3 28,246.3ZM159.9,243.3 162,241.4 164,241.7 165.3,243.3 165.5,246.3 159.5,246.3ZM242,243.3 243,242.8 244.1,243.3 244.6,246.3 241.4,246.3Z"/><path fill="#bfbfff" fill-rule="evenodd" d="M75.3,132.3 75.6,134.3 74.8,137.3 71,143.9 69,145.9 67,147.2 65,147.6 64,147.3 62.5,145.3 62.4,143.3 63.1,141.3 65,138.3 71,132.3ZM103.1,132.3 102.1,136.3 100.3,140.3 97,145.9 93,151.3 91,153.2 89,154.1 86,154.1 84,153.1 83,151.7 82.8,150.3 83.9,147.3 90,137.8 94.4,132.3ZM133,132.3 132.1,135.3 129.5,140.3 125,147.2 122,150.8 119,152.8 114,154.9 112,155.3 111,155 110.5,154.3 110.5,152.3 112.6,147.3 118,139.3 123.8,132.3ZM160.6,132.3 159.9,135.3 157.5,140.3 153,147.7 150,151.6 147,153.8 142,155.6 140,155.9 139,155.3 139.3,152.3 142.3,146.3 148,137.7 152.7,132.3ZM188.5,132.3 188.1,135.3 186.3,139.3 182,146.3 178,151.7 176,153.3 174,154.2 169,154.7 167.5,154.3 167,152.3 169,147.3 174,139.6 178,134.7 180.4,132.3ZM214,133 215,133.9 215.4,135.3 215,138.3 212.7,144.3 208.8,152.3 207,154 204,154.9 201,154.7 198.4,153.3 197.5,151.3 197.9,149.3 200,145.3 204,139.3 209,134.4 212,132.9ZM236,133.8 238,133.3 240,133.8 241.9,135.3 243,137.3 243.3,139.3 242.9,141.3 242,142.8 240,144.1 238,144.5 236,144 234.9,143.3 233.6,141.3 233.5,137.3 234.4,135.3ZM43,156.2 43,157.5 40.7,163.3 41,169.5 40,167.4 39.8,162.3 42,157ZM211,156.6 211.8,157.3 211.8,158.3 210.4,163.3 210.2,165.3 213.6,178.3 211.9,188.3 211,189.9 210,190.4 209,189.9 208.5,188.3 210,178.3 207.9,169.3 208.4,165.3 207.9,163.3 209,159.5ZM50,173.7 51.5,174.3 53,176.1 55.1,180.3 55.5,182.3 52.2,190.3 51,191.7 50,191.6 49.6,190.3 52.7,182.3 52.2,180.3 49.8,175.3ZM182,174 183.1,176.3 183.2,179.3 182,187 181,188.6 181,185.5 182.3,178.3 181.8,175.3ZM30,192.5 32,194 33.2,196.3 35.3,202.3 35.6,204.3 33.4,210.3 31,213.9 29,214.8 28,214.8 28,209.2 29.8,204.3 29.5,202.3 28,198.8 28,193ZM57,194.2 58,194.8 59,196.9 61.1,204.3 59.9,208.3 57,212.6 56.2,212.3 58.4,204.3 56,195.1ZM47,216.2 47.6,217.3 47.6,219.3 45.9,231.3 43,237.4 41,239.3 40,239.4 39,237.3 38.8,235.3 39.2,228.3 42.9,219.3 45,217.2ZM74,216.7 74.6,217.3 74.9,219.3 73.5,230.3 71,236.1 69,238.7 68,239 67,238 66.5,235.3 66.9,228.3 70,220.2 72,217.8ZM256,216.5 257,217.2 257.2,219.3 255.9,230.3 253,236.7 251,238.7 250,238.4 249.2,236.3 249.2,229.3 252.1,221.3 254,218.2ZM98,220.8 98.8,221.3 99.1,222.3 98.4,230.3 97,233.5 95,235.4 93.9,234.3 93.7,229.3 96,223.3ZM123,226.3 123.4,229.3 123,230.9 122,232 121,231.6 120.8,229.3 122,227ZM225,226.4 225.9,227.3 226,229.3 225,231.6 224,232 223.3,230.3 223.4,229.3ZM31,243.9 31.3,246.3 28,246.3 28,244.2 30,243.3ZM188.1,243.3 189,242.6 190,242.6 190.9,243.3 191.3,246.3 187.7,246.3ZM162,243.8 163,243.8 163.5,246.3 161.5,246.3ZM216,243.8 217,243.8 217.4,246.3 215.5,246.3Z"/><path fill="#aaaaff" fill-rule="evenodd" d="M74,133.7 74.5,135.3 74.2,137.3 72,141.6 70,144.1 68,145.6 66,146 65,145.7 63.9,144.3 63.9,142.3 65.9,138.3 68,136 71,133.8 73,133.2ZM102,132.3 101.8,135.3 100.3,139.3 97,145.1 94,149.1 91,152 89,152.9 87,153.1 84.8,152.3 83.7,150.3 84.5,147.3 88,141.3 92,135.9 95.7,132.3ZM131.9,132.3 131.5,135.3 129.7,139.3 123,149.1 121,151 118,152.6 114,153.8 112,153.3 111.6,151.3 113.1,147.3 117,141.2 122,135.1 124.9,132.3ZM159.3,132.3 159.2,135.3 158.1,138.3 155,143.9 151,149.8 149,151.9 147,153.1 143,154.3 140.9,154.3 140.2,153.3 140.2,152.3 141.1,149.3 145,142.5 149,137.1 154,132.3ZM186.7,132.3 187.2,135.3 186.2,138.3 183,144.1 179,149.8 177,151.8 175,153.1 172,153.7 168.8,153.3 168,152.3 168,151.3 169,148.3 172,143.1 176,137.7 182,132.3ZM213,134.7 214.2,136.3 213.7,140.3 211,146.7 208,151.3 206,153 203,153.9 201,153.7 199,152.6 198.3,151.3 198.9,148.3 204,140.1 207,136.9 209,135.5 211,134.7ZM236,135.2 237,134.8 239,134.9 241,136.2 241.6,137.3 241.9,140.3 240,142.6 237,143 234.8,141.3 234.2,138.3 234.9,136.3ZM30,194.8 31,195.5 32,198.2 33.6,204.3 32,209.5 30,212.6 29.7,211.3 31.8,204.3 31.6,202.3 29.6,196.3 29.5,195.3ZM44,222 45,222.4 44.9,229.3 44,232 42,234.5 41,234.2 40.7,233.3 40.4,229.3 42,225.2ZM72,223.4 72.3,226.3 72,230.3 70,233.5 69,233.7 68.1,231.3 68.2,229.3 70,225 71,223.5ZM254,223.9 254.6,226.3 254.3,230.3 253,232.7 252,233.4 251,232.5 250.8,229.3 252,226.3Z"/><path fill="#9595ff" fill-rule="evenodd" d="M100,132.3 101.1,134.3 100.6,137.3 98.9,141.3 96,145.9 93,149.4 90,151.5 87,152 85.4,151.3 84.6,149.3 85.1,147.3 90,139.1 95,133.9 97.6,132.3ZM130.3,132.3 130.9,134.3 129.7,138.3 126.9,143.3 123,148.5 121,150.4 118,152 115,152.7 113.2,152.3 112.7,150.3 113.7,147.3 116,143.3 120,137.9 123,134.9 126.5,132.3ZM157.9,133.3 158.4,135.3 157.2,139.3 154,145 151,149.2 149,151.3 147,152.5 144,153.3 142,153.3 141.2,152.3 141.1,151.3 142,148.3 144.9,143.3 148,138.9 151,135.7 154,133.5 156,132.6 157,132.6ZM185,133.4 185.9,134.3 186.2,135.3 185.6,138.3 183.1,143.3 179,149 176,151.8 174,152.7 171,152.9 169.4,152.3 168.9,150.3 169.5,148.3 171.6,144.3 175,139.5 180,134.7 183,133.3ZM73,135 73.5,136.3 73.1,138.3 71,142 68,144.4 65.9,144.3 65.1,142.3 65.7,140.3 66.9,138.3 70,135.5 72,134.8ZM212.5,136.3 213.3,138.3 212.8,141.3 211,145.5 208.6,149.3 206,151.9 204,152.8 202,153 200,152.2 199,150.3 199.4,148.3 201,145.1 204,140.8 207,137.8 209,136.5 211,135.9ZM237,136.2 239,136.3 240.6,138.3 240.3,140.3 239,141.5 237,141.5 235.7,140.3 235.4,138.3 236,136.9Z"/><path fill="#8080ff" fill-rule="evenodd" d="M129,133.3 130,135.3 129.2,138.3 127.1,142.3 124,146.7 121,149.8 119,150.9 116,151.7 114.1,151.3 113.6,149.3 114.2,147.3 119,139.7 122,136.4 125,134.1 127,133.2ZM99,133.6 100.2,135.3 100.1,137.3 98.4,141.3 95.9,145.3 93,148.6 90,150.6 88,151.1 86,150.3 85.5,148.3 86.1,146.3 90,139.7 95,134.7 97,133.7ZM157,134.4 157.5,136.3 156.7,139.3 154.1,144.3 151,148.6 149,150.7 147,151.9 145,152.5 142.7,152.3 142,151.3 142.5,148.3 145,143.7 148,139.5 153,134.9 155,134.1ZM185,135.3 185.2,137.3 183.8,141.3 181,145.8 178,149.4 176,151.1 174,152 172,152.2 170,151.4 169.7,149.3 170.9,146.3 176,138.9 179,136.1 181,134.9 183,134.4ZM72,136.5 72.2,138.3 71,140.8 69,142.7 68,143.1 67,142.8 66.6,141.3 68,138.4 70,136.7 71,136.3ZM211.2,137.3 212.2,138.3 212.1,141.3 211,144.3 209,147.7 207,150.1 205,151.5 203,152.1 201,151.7 199.8,150.3 200,148.3 203,142.9 207,138.6 209,137.5Z"/><path fill="#6a6aff" fill-rule="evenodd" d="M128,134.3 129,135.3 128.7,138.3 126.7,142.3 124,146.1 121,149.1 119,150.3 117,150.9 115,150.5 114.5,149.3 114.8,147.3 116.2,144.3 119,140.3 124,135.5 126,134.5ZM99,135.2 99.4,137.3 98.9,139.3 95,145.8 91,149.3 89,150 87,149.6 86.4,148.3 87.1,145.3 91,139.1 94,136.1 96,135 98,134.6ZM156.1,135.3 156.7,137.3 156,139.9 154,143.8 151,148 149,150.1 147,151.3 145,151.8 143.2,151.3 142.8,149.3 143.4,147.3 148,140.1 151,137 153,135.7 155,135.1ZM184,136.1 184.3,138.3 183.7,140.3 182,143.6 179,147.7 175,151 173,151.5 171,150.9 170.4,149.3 170.9,147.3 173,143.4 176,139.5 179,136.8 181,135.8 183,135.5ZM70,138.8 70,140 69,140.6 69,139.4ZM211,138.9 211.4,140.3 211.1,142.3 209.8,145.3 208,148 206,149.9 204,151 202,151.1 201,150.4 200.6,149.3 201,147.3 204,142.3 208,138.9 210,138.4Z"/><path fill="#5555ff" fill-rule="evenodd" d="M128,135.9 128.3,137.3 127.8,139.3 124,145.5 120,149.2 118,150 116,149.8 115.3,148.3 115.7,146.3 117.3,143.3 120,139.7 123,136.8 125,135.6 127,135.3ZM98,136 98.6,137.3 98.3,139.3 96.9,142.3 95,145.1 91,148.5 89,149.1 88,148.8 87.2,147.3 87.7,145.3 91,139.8 95,136.2 97,135.7ZM155.2,136.3 155.9,137.3 155.7,139.3 154,143.1 151.9,146.3 148,150.2 146,150.9 144,150.6 143.5,149.3 143.9,147.3 148,140.7 152,137 154,136.1ZM183,136.9 183.5,138.3 183.1,140.3 181.1,144.3 179,147 175,150.3 173,150.7 171.8,150.3 171.2,149.3 171.5,147.3 175,141.3 178,138.3 180,137 182,136.5ZM210,139.9 210.4,141.3 210.1,143.3 208,147 205,149.6 203,150.1 202,149.7 201.8,147.3 204,143.2 207,140.3 209,139.6Z"/><path fill="#4040ff" fill-rule="evenodd" d="M127,136.6 127.4,138.3 127,139.9 124,144.9 120,148.5 118,149.2 117,149.1 116.2,148.3 116.3,146.3 119.2,141.3 122,138.3 124,136.9 126,136.2ZM97,136.8 97.8,138.3 97.6,139.3 95,144.3 92,147.1 90,148 89,147.9 88.3,147.3 88.3,145.3 90.4,141.3 94,137.6 96,136.7ZM154.4,137.3 155.1,138.3 154.8,140.3 152,145.5 148,149.5 146,150.2 145,150 144.4,149.3 144.5,147.3 147,142.6 151,138.4 153,137.3ZM182,137.8 182.6,139.3 182.1,141.3 179,146.3 175,149.5 173,149.7 172.3,149.3 172,148.3 172.4,146.3 175,142 179,138.3 181,137.6ZM209,141.2 209.2,143.3 207.6,146.3 205,148.5 203,148.5 202.9,146.3 204.8,143.3 207,141.4Z"/><path fill="#2b2bff" fill-rule="evenodd" d="M96,137.9 96.8,139.3 95.1,143.3 92,146.3 90,146.8 89.3,146.3 89.1,145.3 91,141.3 94,138.4ZM126,137.4 126.5,138.3 126.2,140.3 124,144.2 121,147.2 118,148.3 117,147.3 117,146.3 119,142.3 123,138.2 125,137.3ZM154,138.6 153.9,141.3 151.6,145.3 149,148.1 146,149.3 145.1,148.3 145.1,147.3 147.8,142.3 151,139.1 153,138.2ZM181,138.8 181.5,139.3 181.4,141.3 179,145.5 176,148.2 174,148.8 173,148.3 172.9,147.3 173.5,145.3 176,141.6 179,139.1ZM207.6,143.3 207,145.4 205,146.9 204.4,146.3 205,144.6 207,143Z"/><path fill="#1515ff" fill-rule="evenodd" d="M95.2,139.3 95.6,140.3 94.3,143.3 92,145.3 90.6,145.3 90.6,143.3 91.8,141.3 94,139.4ZM125,138.5 125.6,139.3 125.5,140.3 124.1,143.3 121,146.4 119,147.2 118,146.4 118.1,145.3 119.6,142.3 123,139ZM153,139.6 153.2,141.3 151.7,144.3 149,147.4 147,148.3 146,147.2 147.7,143.3 151,139.9ZM180.3,140.3 180.3,142.3 178,145.7 176,147.3 175,147.6 174.1,147.3 174.2,145.3 176,142.4 179,140.1Z"/><path fill="#0000ff" fill-rule="evenodd" d="M124,139.9 124.3,141.3 123,143.6 121,145.5 120,145.8 119.3,145.3 119.8,143.3 121,141.6 123,140ZM152,141.1 152,142.4 150,145.5 148,146.8 147.2,146.3 147.8,144.3 149,142.6 151,141ZM92.8,142.3 93,142 93.3,142.3 93,142.7ZM179,142 178,144.5 176,145.9 175.5,145.3 176.4,143.3 178,141.9Z"/></g><path fill="none" stroke="#2a2a2a" stroke-width="0.45" d="M87.9,132.3 88.1,134.3 87.6,136.3 86.1,139.3 84,142.5 80,146.9 78,148.1 76,148.6 75,148.3 74.3,147.3 74.4,145.3 75.1,143.3 77,139.4 79,136.2 82.7,132.3M118.4,132.3 117.9,134.3 116.5,137.3 111,145.3 108,148.5 106,150.2 104,151.4 102,152 100,151.4 99.3,150.3 99.3,148.3 99.9,146.3 104,138.5 108.8,132.3M146,132.3 145.8,135.3 144.6,138.3 141.8,143.3 138,148.7 136,150.9 134,152.4 131,153.4 128,153.9 127,153.8 126.3,153.3 126,152.3 126.4,150.3 127.7,147.3 130.6,142.3 134,137.7 139.4,132.3M173.1,132.3 173.1,135.3 171.9,138.3 169,143.4 165,149 163,151.1 161,152.5 159,153.2 156,153.5 155,153.3 154.4,152.3 154.3,151.3 154.8,149.3 156.2,146.3 159,141.6 162,137.4 167,132.3M195.5,134.3 197,133.6 199,133.4 200,133.8 201.1,135.3 201,137.3 200.4,139.3 197.2,145.3 194,149.8 191,152.6 188,153.6 186,153.5 184,152.6 183.3,151.3 183.5,149.3 186,144.3 191,137.7 193,135.8M223.7,135.3 226,135.2 227.3,136.3 227.7,139.3 226.9,142.3 225,145.1 222,147.6 219,148.7 217.4,148.3 216.6,147.3 216.4,146.3 216.6,144.3 217.8,141.3 219,139.2 221,136.9M251,137.3 252,136.6 253,136.7 253.9,137.3 254.5,138.3 254.6,139.3 254,140.3 253,140.4 252,140 251,138.8M57,225.3 58,224.9 58.3,229.3 57.6,231.3 57,232.3 56,232.9 55,231.6 55,229.3M28,227.8 30,225.3 31,224.9 31.3,227.3 31.1,230.3 30,232.3 29,233 28,233.1"/><path fill="none" stroke="#2a2a2a" stroke-width="0.45" stroke-dasharray="1.6 0.9" d="M96.4,132.3 93,135.2 91,137.5 86.9,143.3 84.8,147.3 84.2,149.3 84.6,151.3 86,152.3 88,152.6 90,152 92,150.7 94,148.7 97,144.8 99.1,141.3 100.9,137.3 101.6,134.3 101.2,132.3M125.6,132.3 120,137.6 117,141.5 113.9,146.3 112.5,149.3 112.1,151.3 112.3,152.3 113,153 114,153.3 117,152.6 120,151.3 122,149.8 124,147.6 127.1,143.3 130,138.3 131.1,135.3 131.2,132.3M155,132.3 150,136.3 147,139.9 144,144.3 141.8,148.3 140.7,151.3 140.9,153.3 142,153.9 145,153.5 148,152.3 150,150.6 152,148.2 155.8,142.3 158.2,137.3 158.9,134.3 158.3,132.3M183.9,132.3 181,133.6 177,136.9 174,140.5 170.2,146.3 168.5,150.3 168.7,152.3 170,153.2 172,153.3 175,152.7 177,151.4 180,148.1 183.9,142.3 185.9,138.3 186.7,135.3 186.6,134.3 186,133 185,132.3 184.3,132.3M72,134 70,134.9 68.2,136.3 66.4,138.3 65.1,140.3 64.5,143.3 65,144.6 66,145.3 68,145 70,143.6 73,139.4 73.8,137.3 74,135.3 73,134.1M211,135.3 209,136 206,138.2 204,140.5 201.3,144.3 199.1,148.3 198.6,150.3 199,151.8 200,152.8 202,153.5 205,153 208,150.7 210,147.9 212.7,142.3 213.8,138.3 213.5,136.3 213,135.7 212,135.3M236,136 235,137.3 234.7,138.3 234.9,140.3 235.5,141.3 237,142.3 238,142.5 240,141.8 241.2,140.3 241.3,138.3 240.9,137.3 240,136.1 239,135.6 237,135.5M43,226.4 42,227.7 41.2,230.3 42,232.1 43,231.6 44,229.3 43.9,227.3M70,228.1 69.3,230.3 70,231.1 71,229.3 70.6,228.3M253,229.1 252.7,229.3 253,229.7"/><path fill="none" stroke="#2a2a2a" stroke-width="0.45" d="M110.7,134.3 113,133.6 114.4,134.3 114.6,136.3 113,140.1 110,144 107,146.7 105,147.6 104,147.7 103,147.4 102.6,146.3 102.6,145.3 104.1,141.3 107,137.2 109,135.4M82.8,136.3 84,136.5 84.3,137.3 83.9,139.3 81.7,142.3 80,143.6 79,143.9 78,143.3 78,142.3 78.8,140.3 81,137.3M138.1,136.3 141,135.4 142,135.7 142.5,136.3 142.5,138.3 140.9,142.3 138,146.4 135,149.4 132,150.7 130,150.4 129.3,149.3 129.3,148.3 131,144.3 134,140 136,137.9M165.9,136.3 168,135.6 169,135.8 169.5,136.3 169.7,138.3 168.1,142.3 166,145.4 163,148.6 160,150.4 158,150.3 157.3,149.3 157.3,148.3 158.8,144.3 162,139.7 164,137.6M193.6,138.3 196,137.6 197,137.8 197.5,138.3 197.7,140.3 196.6,143.3 194.7,146.3 192,149.1 189,150.7 187,150.4 186.2,149.3 186.2,148.3 187.2,145.3 190,141.3"/><path fill="none" stroke="#2a2a2a" stroke-width="0.45" stroke-dasharray="1.6 0.9" d="M96,136.2 93,138 89.5,142.3 87.7,146.3 87.7,147.3 88.4,148.3 90,148.5 92,147.5 94,145.8 96,143.3 97.6,140.3 98.2,138.3 98,136.9 97,136.2M125,136 122,138 118,142.6 116,146.3 115.7,148.3 116.3,149.3 118,149.6 121,148.2 123,146.4 125.4,143.3 127.1,140.3 127.9,137.3 127.5,136.3 127,135.9M153,136.9 150,138.9 146,143.8 143.9,148.3 143.9,149.3 144.5,150.3 146,150.6 148,149.8 150,148.2 153,144.4 155,140.5 155.5,138.3 155,136.9 154,136.6M181,137.1 178,138.6 176,140.5 174,143 171.8,147.3 171.6,148.3 172,149.8 173,150.3 174,150.2 176,149.4 178,147.7 180.1,145.3 182,142.3 183,139.3 183,138.2 182.4,137.3M209,140.3 207,140.8 204,143.7 202.2,147.3 202.1,148.3 202.7,149.3 204,149.4 205,149.1 207,147.6 208.1,146.3 209.2,144.3 209.9,142.3 209.9,141.3"/>
</g>
<rect x="29.00" y="133.30" width="229.60" height="111.70" fill="none" stroke="#c8c8c8" stroke-width="0.7"/>
<rect x="29.00" y="133.30" width="24.5" height="12" fill="#fff"/>
<text x="30.90" y="143.00" font-size="7.1" font-weight="bold" fill="#1a1a1a">(c): E3</text>
<text x="26.3" y="139.10" font-size="7" fill="#262626" text-anchor="end">50</text>
<text x="26.3" y="151.70" font-size="7" fill="#262626" text-anchor="end">100</text>
<text x="26.3" y="164.30" font-size="7" fill="#262626" text-anchor="end">150</text>
<text x="26.3" y="176.90" font-size="7" fill="#262626" text-anchor="end">200</text>
<text x="26.3" y="189.50" font-size="7" fill="#262626" text-anchor="end">250</text>
<text x="26.3" y="202.10" font-size="7" fill="#262626" text-anchor="end">300</text>
<text x="26.3" y="214.70" font-size="7" fill="#262626" text-anchor="end">350</text>
<text x="26.3" y="227.30" font-size="7" fill="#262626" text-anchor="end">400</text>
<text x="26.3" y="239.90" font-size="7" fill="#262626" text-anchor="end">450</text>
<text x="29.00" y="254.90" font-size="7" fill="#262626" text-anchor="middle">17/Aug/17</text>
<text x="52.00" y="254.90" font-size="7" fill="#262626" text-anchor="middle">18</text>
<text x="75.00" y="254.90" font-size="7" fill="#262626" text-anchor="middle">19</text>
<text x="98.00" y="254.90" font-size="7" fill="#262626" text-anchor="middle">20</text>
<text x="121.00" y="254.90" font-size="7" fill="#262626" text-anchor="middle">21</text>
<text x="144.00" y="254.90" font-size="7" fill="#262626" text-anchor="middle">22</text>
<text x="167.00" y="254.90" font-size="7" fill="#262626" text-anchor="middle">23</text>
<text x="190.00" y="254.90" font-size="7" fill="#262626" text-anchor="middle">24</text>
<text x="213.00" y="254.90" font-size="7" fill="#262626" text-anchor="middle">25</text>
<text x="236.00" y="254.90" font-size="7" fill="#262626" text-anchor="middle">26</text>
<g clip-path="url(#clipd)">
<g filter="url(#pbn)"><path fill="#ffeaea" fill-rule="evenodd" d="M275.8,132.3 280.4,132.3 280.7,140.3 280,144.3 280.4,160.3 281.6,164.3 280.9,169.3 282.2,171.4 285.1,179.3 285.7,182.3 282.6,199.3 281.4,201.3 280.3,209.3 277.6,223.3 277.8,230.3 279.6,246.3 274.5,246.3 273,229.3 273.3,221.3 275.8,204.3 274.1,184.3 274.4,179.3 276.8,164.3 275.5,160.3 274.7,144.3ZM287.6,132.3 292.9,132.3 294.2,148.3 291.7,158.3 293.2,161.3 291.8,169.3 292.2,169.9 296.2,170.1 297.2,171 299.3,182.3 298.6,193.3 296.8,199.3 295.9,200.3 293.3,201.3 292.8,202.3 290.5,214.3 290.1,223.3 291.7,238.3 291.4,246.3 286.8,246.3 286.9,238.3 285,222.3 285.2,216.3 287.7,202.3 290.7,199.3 292.9,192.3 293.1,181.3 291.7,171.3 291.2,170.3 288.4,169.3 287.6,168.3 288,163.3 286.7,160.3 286.8,143.3 288,140.3ZM309,132.3 306.8,142.3 306.3,149.3 303.7,158.3 304.3,161.3 303.2,168.9 302.2,169.3 300.2,169.1 299,168.3 299.5,161.3 297.7,158.3 300.5,148.3 300.8,141.3 302.3,132.3ZM321.5,132.3 318.7,143.3 318.5,148.3 315.9,158.3 316,168.3 315.2,169.2 312.2,169.1 311.3,168.3 311.2,161.3 310.1,158.3 312.8,148.3 312.9,143.3 315.6,132.3ZM333.6,132.3 331,143.3 330.7,148.3 328.3,159.3 329.1,168.3 328.6,169.3 325.2,169.4 324.3,168.3 323.4,161.3 322.6,158.3 325,148.3 324.9,144.3 327.7,132.3ZM346.1,132.3 343.8,141.3 341.5,154.3 339.6,158.3 337.2,161.8 336.2,161.4 335.5,160.3 334.9,158.3 336.9,149.3 337.1,143.3 339.8,132.3ZM358.8,132.3 356.3,141.3 353.4,148.3 353.5,155.3 350.6,160.3 349.8,165.3 350.2,167.2 353.2,168.5 354.1,169.3 354.3,170.3 351.7,188.3 353.3,208.3 352.7,215.3 350.5,227.3 349.9,233.3 350.1,239.3 351.3,246.3 346,246.3 347.8,238.3 347.6,235.3 346.2,230.3 346.1,228.3 348,218.3 348.5,212.3 346.3,195.3 346.2,190.3 347.2,182.3 348.8,174.3 349.3,169.3 348.4,168.3 346.2,167.6 344.8,166.3 344.6,162.3 345.4,159.3 347.9,155.3 347.9,147.3 349.9,142.3 352.7,132.3ZM370.3,132.3 366.2,147.3 366.7,155.3 364.5,160.3 363.9,163.3 365.5,170.3 364.5,176.3 364,183.3 365.6,203.3 365.2,208.8 362.5,223.3 362.2,229.3 364.3,246.3 358.9,246.3 357.7,235.3 357.5,229.3 358.2,223 360.1,213.3 360.6,206.3 358.6,185.3 359.2,178.3 360.7,170.3 360.6,169.3 357.4,165.3 357.1,163.3 357.9,160.3 361.1,155.3 360.3,147.3 364.3,132.3ZM381.9,132.3 378.4,146.3 379.4,150.3 379.3,155.3 377.4,160.3 376.6,164.3 376.2,179.3 378,197.3 377.2,205.3 375,216.3 374.4,222.3 374.7,227.3 376.4,238.3 376.5,246.3 371.3,246.3 369.8,224.3 370.3,218.3 372.6,204.3 372.8,199.3 371,182.3 371.2,175.3 372,170.3 370.7,166.3 370.4,163.3 371,160.3 373.9,155.3 373.8,151.3 372.9,145.3 376,132.3ZM393.7,132.3 390.7,144.3 391.5,149.3 391.4,152.3 390.3,158.3 390.2,163.3 388.2,170.3 388.3,175.3 390.1,187.3 390.1,195.3 387.5,209.3 386.9,215.3 387.1,221.3 388.8,234.3 388.8,239.3 387.9,246.3 383.1,246.3 383.8,237.3 382.2,222.9 382,217.3 382.3,212.3 385,195.3 384.8,189.3 383.4,174.3 384.2,162.9 385.8,156.3 386,149.3 384.9,146.3 384.8,144.3 387.7,132.3ZM405.8,132.3 405.4,135.3 402.8,144.3 402.7,151.3 400.4,164.3 400.6,170.3 402.2,180.5 402.5,185.3 402.2,191.2 399.8,204.3 399.3,209.3 399.5,215.3 400.9,227.3 400.8,234.3 398.8,246.3 394.4,246.3 395.9,238.3 396.2,233.3 396.1,228.3 394.4,217.3 394.1,211.3 397.1,189.3 397.1,182.3 395.7,167.3 396.2,161.3 397.9,150.3 397.1,144.3 399.9,132.3ZM417.9,132.3 417.5,135.3 414.6,145.3 412.7,158.3 412.9,164.3 414.7,179.3 414.3,186.3 412.6,195.3 411.7,203.3 413.1,222.3 412.9,229.3 410.1,246.3 405.7,246.3 408,233.3 408.5,227.3 408.3,221.3 406.3,206.3 407,198.3 408.8,189.3 409.5,182.3 409.2,174.3 408,161.3 409.2,149.3 409.1,145.3 412,132.3ZM429.8,132.3 428.5,139.3 426.1,145.3 425.2,152.3 425.2,158.3 427,174.3 424.1,197.3 425.4,217.3 425.2,223.3 422.5,238.3 422.3,246.3 417.6,246.3 418.2,238.1 419.9,229.3 420.8,221.3 420.5,215.3 419.2,207.6 418.6,200.3 419.1,193.3 420.7,185.3 421.8,176.3 421.7,170.3 420.2,156.3 420.3,151.3 421.1,146.3 422.6,141.3 423.8,132.3ZM441.8,132.3 440.5,139.3 438.4,143.3 437.2,144.3 434.7,148.3 432.5,157.3 432.2,157.7 430.2,157.4 428.8,156.3 428.4,155.3 428.5,151.3 430.2,147.4 433.8,142.3 435.9,132.3ZM453.8,132.3 452.5,139.3 451.2,142 449.2,144.8 447.7,148.3 445.2,157.2 440.2,158 439.6,157.3 440.4,150.3 442.9,145.3 444.9,143.3 445.9,141.3 447.9,132.3ZM465.8,132.3 464.5,139.3 463.2,142.7 459.5,149.3 458,156.3 456.8,157.3 453.2,157.8 452.4,157.3 453.2,150.8 457.9,141.3 459.9,132.3ZM477.7,132.3 477.3,138.3 475.3,145.3 472.5,150.3 471.9,154.3 472.2,155.8 474.5,158.3 474.8,159.3 473.4,168.3 473.1,174.3 474.5,190.3 474.6,195.3 474.2,200.3 471.4,217.3 471.6,222.3 473.3,234.3 473.1,246.3 468,246.3 468.1,237.3 466.5,221.3 469.9,198.3 469.8,193.3 468.2,181.9 467.9,176.3 468.2,170.8 470.1,159.3 469.7,158.3 466.5,156.3 465.8,155.3 465.7,153.3 466.5,150.3 470,143.3 471.2,136.3 471.4,132.3ZM488.1,132.3 489.3,135.3 489.4,137.3 488.3,145.3 485.6,152.3 486,159.3 485.2,167.3 487,189.3 486.2,196.1 484.4,205.3 483.8,212.3 485.7,230.3 485.8,235.3 484.2,246.3 479.4,246.3 480.6,235.3 479.2,222.3 478.8,214.3 479.2,209.2 481.8,195.3 482.1,190.3 480.3,171.3 481.2,160.3 479.8,155.3 479.7,152.3 481,148.3 482.9,144.3 484.1,136.3 483.7,132.3ZM500.8,132.3 501.1,139.3 497.3,161.3 497.5,166.3 499,177.3 499.1,186.3 496.6,200.3 496.2,205.3 496.4,212.3 498.1,224.3 498,230.3 495.1,246.3 490.7,246.3 493,230.3 492.8,225.3 491.2,213.7 491.2,205.3 493.8,190.3 494.2,184.3 494,178.3 492.7,166.3 492.4,153.3 493,150.3 495.1,144.3 495.4,139.3 494.9,132.3ZM269.2,151.8 270.2,161.3 269.2,170.3ZM449.2,158.2 451.2,158.6 451.8,159.3 451.3,167.3 448.6,184.3 448.7,189.3 449.8,200.3 449.9,209.3 447.4,224.3 446.8,230.3 447,234.3 448.6,246.3 443.1,246.3 442.2,238.6 442.2,231.1 445,214.3 445.4,208.3 445.2,203.3 443.2,191.3 443.2,185.5 445.8,170.3 446.5,159.3 447.2,158.4ZM462.2,157.7 463.2,157.9 463.7,159.3 461.5,172.3 460.8,179.3 462.2,195.3 462.2,203.3 459.5,219.3 459.1,224.3 459.5,230.3 461.2,241.3 461.3,246.3 455.9,246.3 454.4,232.3 454.3,227.3 455.2,219 457.1,209.3 457.6,201.3 455.6,185.3 455.6,180.3 456.2,174.3 459,159.3 459.9,158.3ZM436.2,158.5 438.8,159.3 439.3,166.3 439.2,171.3 436.7,186.3 436.4,190.3 437.7,214.3 434.6,235.3 434.5,239.3 435.4,246.3 430.1,246.3 429.8,241.3 430.2,234 432.7,220.3 433.1,215.3 432.9,209.3 431.1,199.3 431,190.3 433.9,173.3 434.1,167.3 433.6,159.3 434.2,158.7ZM338.2,167.9 341.7,169.3 342.3,171.3 342.2,175.3 339.5,192.3 339.5,198.3 340.2,207.3 339.3,208.3 336.2,209.4 335.6,210.3 335.2,221.8 334.2,222.2 331.2,222.1 329.3,221.3 329.2,211.6 330.1,210.3 333.3,208.3 334.2,207.3 334.4,206.3 334,202.3 332.7,198.3 333.6,187.3 333.5,181.3 331.3,172.3 332.2,171.2 333.9,171.3 336.2,175 337,173.3 337.5,168.3ZM308.2,169.8 309.6,170.3 310.2,171.3 311.8,182.3 312.3,198.3 313.1,200.3 315.1,202.3 314.7,207.3 314.3,208.3 313.2,209.1 310.2,210 309.5,207.3 309.8,201.3 307.1,200.3 305.2,198.9 304.3,199.3 302.7,209.3 302.4,215.3 303.7,229.3 303.3,242.3 302.4,246.3 298.2,246.3 298.5,244.3 297.6,236.3 298.9,229.3 297.2,218.8 297.2,212.2 299.2,201.4 302.9,200.3 304.2,199.3 305.4,193.3 305.8,184.3 304.6,171.3 305.2,170.3ZM320.2,169.8 321.6,170.3 322.6,171.3 326.2,184.2 326.5,191.3 325.7,199.3 327.2,203 327.3,207.3 326.6,208.3 323,210.3 322.5,212.3 322.4,219.3 321.8,221.3 320.2,222.1 317.2,222.5 316.3,223.3 316.4,239.3 315.2,243.9 313.9,246.3 309.4,246.3 310.7,241.3 310.8,233.3 311.6,229.3 311.6,224.3 312.3,223.3 316.1,221.3 316.3,212.3 317.2,211 320.8,208.3 321.6,206.3 321.5,202.3 319.1,199.3 319.5,191.3 317.1,172.3 317.5,170.3ZM328.2,222.6 328.5,224.3 327.8,230.3 328.5,238.3 327.8,242.3 325.7,246.3 321.1,246.3 322.5,242.3 322.9,233.3 324.2,224.3 325.2,223.3ZM338.2,222.7 339.6,223.3 339.9,224.3 339.1,229.3 340.4,235.3 340.3,240.3 338,246.3 333.3,246.3 334.8,240.3 334.8,230.3 335.7,223.3 336.2,222.7Z"/><path fill="#ffd4d4" fill-rule="evenodd" d="M278.2,132.8 279.2,135.2 279.9,140.3 279.5,144.3 280,153.3 279.6,160.3 280.5,163.3 280.2,165.7 278.2,169.6 277.8,162.3 276.1,160.3 275.1,144.3 276.1,141.3 276.5,136.3 277.2,133.8ZM291.6,132.3 292.6,137.3 293.7,148.3 293.2,151.5 291.3,157.3 291.4,159.3 292.1,161.3 291.2,163.9 290.2,164.9 289.7,163.3 288.2,162.2 287.1,160.3 287.2,142.9 288.8,140.3 288.9,132.3ZM308.8,132.3 306.6,142.3 305.8,149.3 302.2,161 299.2,160.1 298,158.3 300.8,148.3 301,141.3 302.7,132.3ZM321.3,132.3 318.5,143.3 318.1,148.3 315,158.3 314.2,159.9 313.2,160.6 312.2,160.4 310.9,159.3 310.7,157.3 313.2,148.3 313.1,143.3 315.8,132.3ZM333.5,132.3 330.7,143.3 330.4,148.3 327.8,158.3 326.2,160.6 325.2,160.8 323.4,159.3 323.2,157.3 325.4,148.3 325.2,144.3 325.8,140.3 327.9,132.3ZM345.9,132.3 340.6,155.3 338.2,159.7 337.2,160.2 336.2,159.9 335.4,158.3 337.5,148.3 337.4,143.3 340,132.3ZM358.6,132.3 356.2,141.1 354.2,145.4 352.3,148.3 352.5,155.3 350.2,159.2 349.2,166.1 348.2,167.2 347.2,167.3 345.6,166.3 345,165.3 345.1,161.3 347.2,157.5 349.4,156.3 348.7,147.3 353,132.3ZM370,132.3 367.3,142.3 365.3,147.3 365.9,155.3 363.3,162.3 363.4,166.3 364.2,168.2 364.4,170.3 363.4,176.3 363,184.3 364.4,200.3 364.2,204.3 363.2,207 362.2,205.3 360.2,194.3 359.5,187.3 360,179.3 362.1,168.3 358.6,166.3 358,165.3 357.6,163.3 357.9,161.3 359.2,158.9 362.2,156.3 361.1,146.3 362.3,140.3 364.6,132.3ZM381.7,132.3 380.2,139.2 377.9,146.3 378.7,150.3 378.5,155.3 376.5,161.3 374.5,173.3 374.6,179.3 376.2,189.3 376.8,197.3 376.2,203.6 375.2,206.7 374.2,207.5 373.9,197.3 372.3,182.3 373.7,169.3 371.2,166.5 370.8,162.3 372.2,158.7 374.6,156.3 374.5,151.3 373.4,145.3 374.2,140.3 376.3,132.3ZM393.5,132.3 392.4,138.3 390.3,145.3 390.9,150.3 389.2,158.3 389.4,163.3 388.2,166 387.2,166.6 386.2,166.5 385.2,163.3 386.5,158.3 386.9,150.3 386.5,148.3 385.2,145.7 385.3,143.3 387.9,132.3ZM405.6,132.3 405.2,135.3 402.5,144.3 401.9,151.3 401.2,154.1 399.2,158.6 398.2,157.6 398.8,149.3 397.4,144.3 400.1,132.3ZM417.7,132.3 416.3,139.3 413.8,146.3 412.2,152.8 411.2,154.9 410.2,154.8 410.1,148.3 409.6,144.3 412.2,132.3ZM429.6,132.3 428.2,139.5 427.2,142 425.4,144.3 423.2,153.2 422.2,153.6 421.9,147.3 422.8,143.3 423,138.3 424,132.3ZM441.6,132.3 440.2,139.3 439.2,141.4 436.3,144.3 434.4,147.3 432.2,155.5 431.2,156.6 430.2,156.4 428.9,154.3 429,151.3 430.2,148.3 431.2,146.8 433.2,145.4 433.7,144.3 436.1,132.3ZM453.6,132.3 452.2,139.1 451.2,141.3 448.6,144.3 445.2,155.5 444.2,156.7 441.2,157 440.4,156.3 440.2,155.3 440.8,150.3 443.2,145.7 445.2,144.3 445.7,143.3 448.1,132.3ZM465.5,132.3 464.5,138.3 463.2,141.6 459.4,148.3 457.9,155.3 457.2,156.4 456.2,156.9 454.2,157 453.2,156.3 453.4,151.3 455.2,147 457.8,143.3 460.2,132.3ZM477.3,132.3 477.2,137.4 474.3,146.3 472.2,149.9 470.9,156.3 470.2,157.1 468.2,156.8 466.5,155.3 466.3,152.3 468.2,147.6 470.6,144.3 471.9,132.3ZM487.1,132.3 488.2,136.3 487.9,144.3 485.3,151.3 484.7,159.3 483.2,164.6 482.6,158.3 481.2,157.2 480.3,155.3 480.1,152.3 481.2,148.6 483.7,144.3 484.6,135.3 484.2,132.3ZM500,132.3 500.3,139.3 499.5,145.3 497.2,153.2 496.2,155.6 495.2,156.7 493.2,155.5 493,153.3 493.2,151.3 495.8,145.3 496,138.3 495.6,132.3ZM472.2,157.5 473.3,158.3 473.8,160.3 471.7,171.3 471.5,177.3 472,187.3 471.2,187.7 469.6,179.3 469.3,173.3 471.2,158.5ZM449.2,159.2 450.4,160.3 450.4,166.3 447.9,183.3 447.8,197.3 447.2,200.3 446.2,199 445.2,196.1 444.2,191.2 444,185.3 446.9,169.3 447.7,160.3 448.2,159.5ZM462.2,158.8 462.6,159.3 462.5,162.3 459.8,178.3 460.1,192.3 459.2,194.6 457.2,188.3 456.6,182.3 456.7,178.3 459.7,160.3 460.2,159.3ZM436.2,160.2 437.2,162.5 438.2,171.3 435.7,189.3 435.2,205 434.2,205 432.2,199.1 431.7,191.3 432.2,186.4 434.9,173.3ZM351.2,169.1 352.4,169.3 353.1,170.3 351,188.3 352,204.3 351.2,209.3 350.2,209 348.2,202.3 347.2,196.7 346.8,191.3 347.9,182.3ZM307.2,170.2 308.2,170.4 309.4,171.3 311.2,179.9 311.7,192.3 311.4,198.3 311.6,199.3 314.5,202.3 314,207.3 313.4,208.3 311.2,209.3 310.2,208.3 310.6,201.3 310.2,200.4 308.2,200.3 306.4,199.3 305.7,197.3 306.2,182.3 305.2,172.3 305.4,171.3ZM424.2,169.9 425.4,172.3 425.8,178.3 423.5,195.3 423,208.3 422.2,210.5 421.2,208.9 420.2,205.8 419.4,197.3 420.2,190.6ZM295.2,170.4 296.6,171.3 298.7,181.3 298.4,192.3 296.4,199.3 295.2,200.3 293.2,200.4 292.4,201.3 288.2,222.2 287.2,223.2 286.3,216.3 288.5,202.3 291.1,199.3 293.5,192.3 293.6,182.3 292.7,172.3 293.2,170.9ZM319.2,170.5 321.2,170.8 322.1,172.3 326.2,188.2 325.4,199.3 326.4,202.3 326.6,206.3 325.5,208.3 324.2,208.9 323.2,209 322.5,208.3 322.2,202.3 321.7,201.3 320.2,200.4 319.5,199.3 319.8,191.3 317.9,172.3 318,171.3ZM340.2,170.6 341,176.3 338.8,194.3 339.3,206.3 339,207.3 337.2,208.3 335.8,207.3 334.6,201.3 333.2,199.3 334,185.3 333.6,175.3 334.2,174.8 336.2,178.2 337.2,178.8 339.2,171.2ZM281.2,172.8 284.2,180.1 284.5,183.3 282.2,198.6 280.5,201.3 279.2,210.8 277.2,217.5 276.2,219.4 275.5,217.3 276.6,203.3 275.8,185.3 276.2,182.4 277.2,183.1 280.2,194.5 281.4,189.3 281.5,182.3 280.9,175.3ZM412.2,175.4 413.4,179.3 413.6,185.3 410.9,202.3 410.2,214.8 409.2,214.5 408.2,211.6 407.2,203.3 411.2,177ZM386.2,179 388.2,184.3 389.2,190.3 389.2,194.3 387.2,205.8 385.2,213.2 384.2,214.2 384.2,208.9 385.9,196.3 385.8,182.3ZM399.2,178.8 400.2,179.9 401.2,183.6 401.4,190.3 398.5,206.3 397.2,218.9 396.2,216.3 395.3,208.3 397.8,192.3ZM497.2,180.8 497.2,190.3 495.5,198.3 494.6,206.3 494.8,211.3 496.5,223.3 496.6,229.3 496.2,233.4 494.2,239.5 494.2,226.3 492.8,213.3 492.7,206.3 493.2,201 495.7,188.3 496.2,182.6ZM303.2,201.1 303.4,202.3 301.7,212.3 301.2,221.2 300.2,223.2 299.2,221.3 298.2,217.2 298.2,209.3 299.5,202.3 300.2,201.3ZM321.2,209.1 322,210.3 321.9,219.3 321.2,220.7 320.3,221.3 318.2,221.4 317.2,220.4 316.8,219.3 316.6,213.3 316.8,212.3 318.2,210.7ZM334.2,209.1 335.2,212.3 335.1,218.3 334.2,220.9 332.2,221.5 330.2,220.4 329.7,219.3 329.5,212.3 330.9,210.3 333.2,209.1ZM481.2,211.6 484.2,226.9 484.6,232.3 484.2,239.8 482.6,246.3 480.9,246.3 481.8,236.3 480.5,218.3ZM469.2,221.2 472.2,234.3 472.5,240.3 472,246.3 469,246.3 469.2,239.3 468.3,225.3ZM457.2,229.2 459.2,236.5 460.3,246.3 457,246.3 456.1,232.3 456.3,230.3ZM313.2,231.1 314.2,231.3 315.2,232.4 316,237.3 315.2,242.2 314.2,243.6 313.2,243.9 312.2,243.4 311.6,242.3 311,237.3 311.5,233.3 312.2,231.8ZM325.2,231.2 326.2,231.3 327.2,232.2 327.9,234.3 328.1,237.3 327.2,242.2 326.2,243.6 325.2,243.9 323.5,242.3 323.1,237.3 323.6,233.3 324.2,231.9ZM300.2,231.9 301.2,231.9 302.2,232.9 303,237.3 302.2,242 301.2,243 300.2,243.1 298.7,241.3 298.1,237.3 298.9,233.3ZM337.2,231.8 338.2,231.9 339.2,233.2 340,237.3 339.2,241.6 338.2,243 337.2,243.1 336.2,242.4 335.7,241.3 335.4,237.3 335.9,233.3ZM386.2,231.6 387.2,237.6 387.1,241.3 386.4,246.3 384.5,246.3ZM373.2,233.5 374.2,235.7 375.2,240.2 375.4,246.3 372.5,246.3 372.7,236.3ZM445.2,237 447.5,246.3 444.4,246.3 444.2,237.3ZM360.2,238.7 361.2,238.7 362.2,241.3 363.2,246.3 360.1,246.3ZM277.2,242.2 278.2,246.3 276,246.3 276.2,244.1ZM348.2,243.3 349.2,244.6 349.7,246.3 347.5,246.3ZM432.2,244.5 433.2,244.9 433.5,246.3 432.1,246.3Z"/><path fill="#ffbfbf" fill-rule="evenodd" d="M308.6,132.3 308.2,135.6 304.2,152.6 301.7,158.3 300.2,159.7 299.2,159.5 298.4,158.3 301.4,147.3 301.2,141.3 303.2,132.3ZM321.1,132.3 318.3,143.3 317.4,149.3 314.2,158.3 313.2,159.4 312.2,159.6 311.2,158.6 311.1,157.3 313.6,148.3 313.4,143.3 316,132.3ZM333.3,132.3 330.5,143.3 330,148.3 327.1,158.3 326.2,159.5 325.2,159.8 324.2,159.3 323.7,157.3 325.9,148.3 325.5,144.3 326,140.3 328.1,132.3ZM345.6,132.3 340.4,154.3 338.7,158.3 337.2,159.5 336.2,158.8 336,157.3 338.2,147.3 337.7,144.3 338.1,140.3 340.2,132.3ZM358.3,132.3 357.2,137.7 355.2,142.8 353.2,145.7 352.2,145.9 351.2,145.4 350.6,144.3 350.9,141.3 353.5,132.3ZM369.7,132.3 369.2,135.3 367.2,141.9 366.2,144.1 364.1,146.3 364.2,155 363.2,152.5 362.2,145.7 362.6,140.3 365,132.3ZM381.5,132.3 379.2,142.1 377.3,146.3 377.7,151.3 377.2,155.2 376.2,155.2 375.1,147.3 374,144.3 374.4,140.3 376.6,132.3ZM393.4,132.3 392.3,138.3 389.8,145.3 390,149.3 389.2,153 388.2,153.2 387.8,148.3 386.2,146.6 385.5,144.3 387.2,135.3 388.1,132.3ZM405.4,132.3 404.3,138.3 401.8,145.3 401.2,149.1 400.2,149.6 399.7,147.3 398.2,146.1 397.8,144.3 400.3,132.3ZM417.5,132.3 417.2,135.3 415.2,142.1 413.2,145.9 412.2,146.8 411.2,146.7 410.2,145.7 410,143.3 412.5,132.3ZM429.4,132.3 428.2,138.8 427.2,141.1 426.2,142.3 424.2,143.1 423.3,141.3 423.2,139.3 424.2,132.3ZM441.4,132.3 440.3,138.3 439.2,140.7 438.2,141.9 436.2,142.5 435.2,141.3 435.1,140.3 436.4,132.3ZM453.3,132.3 453,135.3 451.2,140.5 450.2,141.8 448.1,142.3 447.2,141.3 447.2,139.3 448.4,132.3ZM465.1,132.3 464.2,138.4 463.2,140.5 461,142.3 460.2,145.6 459.5,145.3 459.2,140.3 460.7,132.3ZM476.9,132.3 477.2,134.3 476.2,139.2 474.3,141.3 474.2,144.6 473.2,146.7 472.2,147.3 470.8,154.3 470.2,155.6 469.2,156.3 468.2,156.2 466.8,154.3 466.7,152.3 469.2,146.7 470.2,145.9 471.2,146.2 472,145.3 471.8,140.3 472.2,135.9 473.3,132.3ZM499.1,132.3 499.2,141.6 498.2,145.3 497.2,145.7 496.6,132.3ZM486.2,134.6 487,144.3 486.2,147.1 485.3,148.3 483.6,154.3 482.2,155.8 481.2,155.7 480.5,153.3 480.7,151.3 482.2,147.7 483.2,147.1 484.2,147.5 484.8,146.3 485.2,135ZM290.2,137 291.2,137.3 292.2,140.8 293,148.3 290.1,160.3 289.2,161.2 288.2,161.2 287.6,159.3 287.4,144.3 288.2,142.1 289.8,141.3ZM278.2,140.2 279.2,146.5 279.3,153.3 279.2,154.3 278.2,155.3 277.2,157.7 276.2,154.8 275.9,144.3ZM444.2,145.9 445.4,146.3 446,147.3 445.9,151.3 444.2,155.8 442.2,156.5 440.8,155.3 440.9,151.3 442.2,148ZM457.2,145.6 458.9,146.3 458.1,153.3 457.2,155.6 456.2,156.3 454.4,156.3 453.4,154.3 453.7,151.3 455.2,147.7ZM432.2,147.6 433,149.3 432.3,153.3 431.2,155.2 430.2,155.2 429.4,153.3 429.6,151.3 431.2,147.9ZM495.2,149.5 495.7,151.3 495.2,152.9 494.2,153.5 494.2,150.5ZM348.2,158.2 349.3,159.3 349.4,162.3 348.7,165.3 348.2,166.2 347.2,166.5 345.7,165.3 345.4,162.3 346.2,159.7 347.2,158.5ZM361.2,158.4 362.5,160.3 362.6,162.3 361.7,165.3 360.2,166.5 358.6,165.3 358.1,162.3 359.2,159.7 360.2,158.6ZM374.2,158.3 375.6,160.3 375.4,163.3 374.2,166 373.2,166.8 372.2,166.7 371.2,164.8 371.2,162 372.2,159.5 373.2,158.4ZM387.2,161 388.2,161.4 388.4,162.3 388.2,163.4 387.2,164.2 386.6,162.3ZM295.2,171.1 296.3,172.3 298.4,182.3 298.1,192.3 296.4,198.3 295.2,199.8 294.2,199.8 293.4,199.3 294.1,187.3 293.5,172.3 293.9,171.3ZM307.2,170.9 308.5,171.3 309.1,172.3 311.1,182.3 311,193.3 309.8,199.3 308.2,199.9 306.9,199.3 306.5,197.3 306.6,182.3 305.9,172.3 306.3,171.3ZM320.2,171.1 321.4,172.3 323.7,181.3 324.2,189.8 325.2,189.2 325.4,190.3 324.7,198.3 325.5,202.3 325.5,205.3 325.2,207.2 324.2,207.7 323.3,205.3 323.1,201.3 322.6,200.3 321.2,200.5 320.2,199.9 319.7,198.3 320.1,191.3 318.6,173.3 319.1,171.3ZM435.2,178.7 435.7,180.3 434.2,192.6 433.2,194.4 433.2,186.1ZM335.2,180.1 336.4,183.3 337.2,183.9 338.2,182.2 339,183.3 337.9,194.3 337.9,203.3 337.2,205.6 336.2,203.5 335.2,199.3 334.2,198.8 334.1,198.3 334.2,190ZM350.2,181.9 350.2,199.3 350.2,199.7 349.2,199.7 348.1,195.3 347.9,189.3 349.2,182.3ZM423.2,182.7 424,183.3 422.2,196.3 421.2,199.7 420.7,195.3 421.2,190.3ZM411.2,187.7 411.7,189.3 411.2,194.1 409.2,201.6 409.2,195.8ZM278.2,196.8 278.7,201.3 278.2,205.9ZM312.2,201 313.6,202.3 313.2,206.8 312.2,208 311.2,207.8 311,206.3 311.4,202.3ZM290.2,201.8 291.1,202.3 289.2,210 288.7,208.3 289.2,203.4ZM302.2,201.9 302.2,204.6 300.2,212.9 299.2,211.4 300.1,203.3 300.3,202.3ZM320.2,210 321.2,210.4 321.6,211.3 322,216.3 321.2,219.6 320.2,220.5 319.2,220.6 318.2,220.2 317.2,218.4 316.8,214.3 317.2,212.6 318.1,211.3ZM333.2,209.8 334.2,210.5 334.5,211.3 334.9,216.3 334.2,219.5 333.2,220.5 332.2,220.6 331.2,220.3 330.2,218.8 329.8,213.3 330.5,211.3ZM313.2,232.7 314.2,232.9 315.2,234.3 315.6,237.3 315.2,240.5 314.2,242.1 313.2,242.3 312.2,241.5 311.8,240.3 311.4,237.3 311.9,234.3ZM325.2,232.7 326.2,232.8 327.2,234 327.7,237.3 327.2,240.6 326.2,242.2 325.2,242.3 323.8,240.3 323.5,237.3 324,234.3ZM300.2,233.7 301.6,234.3 302.4,237.3 301.8,240.3 301.2,241.2 300.2,241.3 299.2,240.1 298.8,237.3 299.2,234.9ZM337.2,233.7 338.2,233.7 339.4,236.3 339.2,239.3 338.2,241.3 337.2,241.3 336.1,239.3 336.2,235.3Z"/><path fill="#ffaaaa" fill-rule="evenodd" d="M308.4,132.3 308.1,135.3 304.6,149.3 301.2,157.6 300.2,158.9 299.2,158.8 298.9,157.3 301.9,146.3 301.5,141.3 302.9,134.3 303.8,132.3ZM320.9,132.3 320.2,136.3 317.8,144.3 317.2,148.3 313.3,158.3 312.2,158.7 311.8,157.3 314.3,147.3 313.7,143.3 314,140.3 316.2,132.4ZM333,132.3 330.3,143.3 329.2,150 326.4,158.3 325.2,159 324.3,158.3 324.2,157.3 326.5,147.3 325.9,143.3 327.2,135.9 328.4,132.3ZM345.3,132.3 345,135.3 342.5,143.3 340.2,153.2 338.2,158.3 337.2,158.6 336.7,157.3 338.8,147.3 338,144.3 338.1,141.3 340.5,132.3ZM357.9,132.3 357.2,137 355.2,142.2 353.2,144.6 352.2,144.4 351.5,143.3 351.3,141.3 353.2,134 354,132.3ZM369.3,132.3 369,135.3 367.2,141.2 365.2,144.4 364.2,144.6 363.2,144 362.8,141.3 365.5,132.3ZM381.3,132.3 379.2,141.5 378.2,143.8 376.2,145.7 375.2,145.3 374.6,144.3 374.5,141.3 377,132.3ZM393.2,132.3 392.2,138 390.2,143.6 389.2,145.3 388.2,146 387.2,146 386.2,145.3 385.9,143.3 387.2,136 388.4,132.3ZM405.3,132.3 405.1,134.3 403.2,141.4 401.2,145.2 400.2,145.8 399.2,145.8 398.2,144.6 398.2,142.3 400.6,132.3ZM417.3,132.3 417,135.3 415.2,141.5 413.2,144.8 411.2,145.2 410.5,144.3 410.4,142.3 412.9,132.3ZM429.2,132.3 428.2,138 427.2,140.4 426.2,141.6 425.2,141.9 424.2,141.7 423.4,138.3 424.5,132.3ZM441.1,132.3 440.8,135.3 439.2,140 438.2,141.2 437.2,141.5 436.2,141.1 435.6,138.3 436.7,132.3ZM453,132.3 453,134.3 451.9,138.3 450.2,141 449.2,141.3 448.2,140.8 447.7,139.3 447.8,136.3 448.8,132.3ZM464.7,132.3 464.8,134.3 463.8,138.3 462.2,140.6 461.2,140.6 460.2,139.6 460,137.3 461.1,132.3ZM476.3,132.3 476.8,135.3 476.2,138 475.2,139.2 474.2,139.2 473.3,137.3 473.8,134.3 474.9,132.3ZM289.2,142.6 290.6,143.3 290.9,145.3 290.8,152.3 289.2,158.9 288.2,158.7 287.8,145.3 288,143.3ZM444.2,147 445.3,148.3 445.2,152.3 444.2,154.8 443.2,155.6 442.2,155.7 441.2,154.3 441.3,151.3 442.2,148.8 443.2,147.4ZM457.2,146.7 458.3,148.3 457.9,152.3 457.2,154.7 456.2,155.6 455.2,155.8 454.2,155.3 453.9,154.3 454,151.3 455.2,148.4 456.2,147ZM470.2,147.1 471.2,148.6 470.9,152.3 470.2,154.4 469.2,155.5 468.2,155.4 467.2,153.8 467.3,151.3 469.2,147.5ZM483.2,148.9 483.6,150.3 483.2,152.7 482.2,154.3 481.2,154 481.2,150.8 482.2,148.9ZM431.2,149.4 432.1,150.3 432.1,151.3 431.2,153.5 430.2,153.1 430.1,152.3 430.2,151.2ZM348.2,159.5 349,162.3 348.2,165 347.2,165.6 346.2,165 345.8,162.3 346.2,160.8 347.2,159.5ZM360.2,159.5 361.5,160.3 361.8,162.3 361.3,164.3 360.2,165.5 359.2,165.1 358.6,163.3 359.2,160.6ZM373.2,159.4 374.5,160.3 374.8,162.3 374.3,164.3 373.2,165.6 372.2,165.5 371.5,163.3 372.2,160.4ZM295.2,172.3 297.2,178.1 298,183.3 297.7,192.3 296.2,197.8 295.2,199.4 294.1,198.3 294.6,191.3 294.3,173.3ZM307.2,171.8 308.2,172.2 309.2,175.1 310.7,182.3 310.6,192.3 309.3,198.3 308.2,199.4 307.2,198.6 306.6,174.3ZM320.2,172.2 321.2,174 323.2,182.3 323.4,192.3 322.4,197.3 321.2,199.7 320.2,199.3 320.5,191.3 319.4,175.3 319.6,173.3ZM320.2,210.7 321.4,212.3 321.6,216.3 321.2,218.3 320.2,219.6 319.2,219.7 317.8,218.3 317.2,214.3 318.2,211.8ZM333.2,210.6 334.3,212.3 334.6,216.3 334.1,218.3 333.2,219.5 332.2,219.8 330.7,218.3 330.1,214.3 331.2,211.3ZM313.2,234 314.2,234.3 315.2,237.3 314.5,240.3 313.2,241 312.2,239.7 311.9,237.3 312.2,235.2ZM325.2,234 326.3,234.3 327.2,237.3 326.2,240.9 325.2,241 324.2,239.5 324,237.3 324.2,235.6ZM300.2,235.5 301.2,235.9 301.5,237.3 301.2,239.2 300.2,239.5 299.7,237.3ZM337.2,235.7 338.2,235.7 338.4,236.3 338.2,239.4 337.2,239.4 336.9,238.3Z"/><path fill="#ff9595" fill-rule="evenodd" d="M308.1,132.3 307.4,137.3 304.4,148.3 300.2,157.7 299.8,157.3 300.2,154.3 302.6,145.3 301.8,141.3 302.9,135.3 304.3,132.3ZM320.6,132.3 319.2,139.3 317.6,143.3 316.2,149.4 314.2,154.3 313.7,153.3 315.1,146.3 315,145.3 314.2,144.1 314.1,142.3 315.2,136 316.6,132.3ZM332.7,132.3 332.2,136.3 329.7,144.3 329.2,148.6 326.2,157.2 325.2,157.9 325.2,155.6 327.2,146.3 326.1,143.3 326.3,140.3 327.2,136.4 328.7,132.3ZM345,132.3 344.2,137.6 341.7,144.3 340.2,151.2 338.2,155.9 338.2,153.4 339.6,146.3 338.2,143.3 339.2,136.9 340.8,132.3ZM357.5,132.3 357.2,136.2 356.2,139.5 354.2,143 353.2,143.6 352.2,142.8 351.8,141.3 352.1,138.3 353.2,134.9 354.7,132.3ZM368.7,132.3 368.7,135.3 367.2,140.4 366.2,142.5 365.2,143.4 364.2,143.5 363.4,142.3 363.2,140.3 365.2,133.7 366,132.3ZM381.1,132.3 379.2,141 378.2,143.2 377.2,144.3 376.2,144.6 375.2,144 374.8,141.3 375.5,137.3 377.2,132.5ZM392.9,132.3 392.2,137.5 390.2,143 389.2,144.4 387.2,145 386.2,143.7 386.3,141.3 387.3,136.3 388.7,132.3ZM405,132.3 404.7,135.3 403.2,140.9 401.2,144.3 400.2,144.9 399.2,144.8 398.5,143.3 398.5,141.3 400.9,132.3ZM416.9,132.3 416.7,135.3 415.2,140.8 413.2,144 412.2,144.4 411.2,144.1 410.8,142.3 411.1,139.3 413.2,132.3ZM428.9,132.3 428.2,137.3 427.2,139.7 426.2,140.8 425.2,141.1 424.2,140.7 423.7,138.3 424.8,132.3ZM440.8,132.3 440.6,135.3 439.7,138.3 438.2,140.4 437.2,140.7 436.2,139.9 435.9,138.3 437,132.3ZM452.7,132.3 452.5,135.3 451.6,138.3 450.2,140.2 449.2,140.4 448.2,139.3 448,137.3 449.1,132.3ZM464.3,132.3 464.3,135.3 463.4,138.3 462.2,139.6 461.2,139.4 460.5,137.3 461.2,133.6 461.8,132.3ZM475.2,133.7 476.2,134.1 476.3,135.3 475.2,137.7 474.3,136.3ZM289.2,143.6 289.7,144.3 289.8,151.3 289.2,154.2 288.7,152.3 288.4,144.3ZM444.2,148.1 445,150.3 444.7,152.3 443.2,154.7 442.2,154.6 441.6,153.3 442,150.3 443.2,148.3ZM457.2,147.8 457.8,150.3 457.3,153.3 456.2,154.9 455.2,155 454.2,153.4 454.4,151.3 456.2,147.9ZM470.2,148.3 470.7,150.3 470.2,153.2 469.2,154.5 468.2,154.5 467.6,152.3 468,150.3 469.2,148.4ZM347.2,160.7 348.2,161.1 348.3,162.3 348.2,163.3 347.2,164.4 346.4,163.3 346.4,162.3ZM360.2,160.7 361.1,162.3 360.2,164.3 359.2,163.3 359.2,162.2ZM373.2,160.6 374,162.3 373.2,164.3 372.2,163.8 372.1,163.3 372.2,161.9ZM308.2,174.7 310.2,181.3 310.2,192.3 308.2,198.4 307.6,195.3 307.3,177.3 307.6,175.3ZM295.2,176 296.2,177 297.5,183.3 297.3,192.3 295.2,198.1ZM321.2,176.7 322.7,182.3 322.8,191.3 321.2,198.3 320.2,176.8ZM320.2,211.5 321.2,213.2 321.3,216.3 320.2,218.6 319.2,218.8 318,217.3 317.7,214.3 318.5,212.3 319.2,211.6ZM332.2,211.3 333.2,211.5 333.7,212.3 334.3,215.3 333.4,218.3 332.2,218.9 331.2,218.1 330.5,215.3 331.1,212.3ZM313.2,235.5 314.2,236 314.5,237.3 314.2,239 313.2,239.5 312.6,237.3ZM325.2,235.5 326.2,235.8 326.5,237.3 326.2,239.3 325.2,239.5 324.7,237.3Z"/><path fill="#ff8080" fill-rule="evenodd" d="M307.7,132.3 307.2,137.6 304.5,144.3 303.2,149.4 302.7,149.3 303.7,145.3 303.6,144.3 302.2,142.3 302.1,141.3 302.9,136.3 304.9,132.3ZM320.3,132.3 319.2,138.8 318.2,141.5 316.2,144.5 315.2,144.1 314.3,142.3 315.7,135.3 316.9,132.3ZM332.4,132.3 332,136.3 329.5,143.3 328.2,149.7 327.5,149.3 328,145.3 326.5,142.3 327.2,137.1 329,132.3ZM344.6,132.3 344.5,135.3 343.2,140 341.2,143.9 340.2,144.4 338.8,143.3 338.5,141.3 340.2,134.4 341.1,132.3ZM356.5,132.3 357.2,134.3 356.2,138.8 354.2,142.3 353.2,142.6 352.3,140.3 353.2,136 355.2,132.7ZM367.5,132.3 368.2,132.7 368.5,134.3 367.4,139.3 366.2,141.7 365.2,142.6 364.2,142.3 363.7,140.3 364.2,137.1 366.2,133.1ZM380.7,132.3 380.2,137.2 378.2,142.7 377.2,143.7 376.2,143.8 375.2,142.5 375.1,141.3 376.2,135.7 377.8,132.3ZM392.6,132.3 392.2,136.8 390.2,142.5 389.2,143.7 388.2,144.3 387.2,144.2 386.7,143.3 386.5,141.3 388.2,134.1 389,132.3ZM404.7,132.3 404.6,135.3 403.2,140.3 401.2,143.6 400.2,144.1 399.2,143.8 398.8,142.3 399.2,138.6 401.2,132.4ZM416.5,132.3 416.5,135.3 415.2,140.2 414.2,142.2 412.2,143.6 411.2,142.8 411.1,140.3 413.2,133.2 413.8,132.3ZM428.6,132.3 428.5,135.3 427.5,138.3 426.2,140.2 425.2,140.4 424.2,139.7 423.9,138.3 425,132.3ZM440.5,132.3 440.4,135.3 439.4,138.3 438.2,139.7 437.2,139.8 436.2,138.4 436.2,137.3 437.4,132.3ZM452.3,132.3 452.3,135.3 451.3,138.3 450.2,139.4 449.2,139.4 448.3,137.3 449.2,133.3 449.7,132.3ZM463.4,132.3 463.9,133.3 463.9,135.3 463.2,137.8 462.2,138.6 461.2,137.8 461.2,135.3 462.2,132.9ZM456.2,148.8 457.2,149.3 457.2,152.3 456.2,154 455.2,154 454.9,151.3ZM443.2,149.4 444.2,149.8 444.3,151.3 443.2,153.6 442.5,153.3 442.1,152.3ZM469.2,149.5 470.1,150.3 470.1,151.3 469.2,153.4 468.2,152.8 468.1,152.3ZM308.2,178.1 309.2,179.6 309.8,183.3 309.5,192.3 309.2,193.8 308.2,194.3ZM296.2,180 296.8,183.3 296.2,193.4 295.8,183.3ZM321.2,180.1 322,183.3 321.2,188.2ZM332.2,212.2 333.2,212.6 333.8,215.3 333.2,217.5 332.2,217.9 331.2,216.7 331,215.3 331.2,213.4ZM319.2,212.4 320.2,212.5 320.9,215.3 320.2,217.6 319.2,217.9 318.2,216.3 318.1,215.3 318.2,214Z"/><path fill="#ff6a6a" fill-rule="evenodd" d="M307.2,132.3 307.5,135.3 306.2,140 304.2,142.8 303.2,142.5 302.5,140.3 303.2,136.3 305.7,132.3ZM319.9,132.3 319.6,136.3 318.2,140.9 316.2,143.2 315.2,143.1 314.7,140.3 316.2,134.3 317.3,132.3ZM332.1,132.3 331.8,136.3 330.2,141.2 329.2,142.9 328.2,143.4 327.2,143.1 326.7,140.3 328.2,134.6 329.4,132.3ZM344.2,132.3 344.3,135.3 343.2,139.4 341.2,142.8 340.2,143.3 339.2,143 338.8,141.3 339.2,138.2 341.5,132.3ZM380.4,132.3 380.4,135.3 379.2,140 378.2,142.1 377.2,143 376.2,142.9 375.4,140.3 376.2,136.3 378.2,132.5ZM392.4,132.3 392.2,136 390.2,141.9 388.2,143.6 387.3,143.3 386.9,140.3 388.2,134.7 389.5,132.3ZM404.4,132.3 404.4,135.3 403.2,139.8 402.2,141.9 400.2,143.4 399.2,142.7 399,141.3 400.2,135.6 401.8,132.3ZM416,132.3 416.3,135.3 415.2,139.6 414.2,141.6 413.2,142.5 412.2,142.7 411.4,141.3 412.2,136.5 414.2,132.6ZM428.3,132.3 428.3,135.3 427.3,138.3 426.2,139.5 425.2,139.7 424.2,138.3 425.2,132.7 425.4,132.3ZM439.9,132.3 440.2,134.7 439.2,137.9 438.2,138.9 437.2,138.9 436.6,137.3 437.2,133.8 438,132.3ZM451.4,132.3 452.1,134.3 451.3,137.3 450.2,138.6 449.2,138.3 448.9,136.3 449.2,134.5 450.2,132.7ZM356.2,133.4 356.7,135.3 356.2,138 355.2,140.3 354.2,141.5 353.2,141.3 352.8,139.3 353.2,137.2 354.2,134.9 355.2,133.7ZM367.2,133.4 368,134.3 368.1,135.3 367.4,138.3 366.2,140.9 365.2,141.6 364.2,140.5 364.3,138.3 365.2,135.5 366.2,134ZM463.2,133.8 463.2,136.5 462.2,137.3 461.9,135.3 462.2,134.3ZM456.2,150.1 456.6,151.3 456.2,152.7 455.6,152.3 455.6,151.3ZM332.2,213.3 333.2,214.2 333.3,215.3 332.2,216.7 331.6,215.3ZM319.2,213.5 320.2,214 320.3,215.3 320.2,216 319.2,216.6 318.8,215.3Z"/><path fill="#ff5555" fill-rule="evenodd" d="M306.2,132.8 307.2,133.9 307.1,136.3 306.2,139.2 305.2,140.9 304.2,141.7 303.2,141.3 303.2,137.4 304.2,134.9ZM319.3,132.3 319.6,135.3 318.2,140.3 316.2,142.5 315.2,142.2 315,139.3 316.2,134.9 318,132.3ZM331.4,132.3 331.8,134.3 331.2,138 330.2,140.5 329.2,142 328.2,142.5 327.2,142 327,141.3 327.8,136.3 329.2,133.3 330.1,132.3ZM343.5,132.3 344.1,134.3 343.2,138.8 342.2,140.8 340.2,142.5 339.2,141.9 339.1,140.3 340.2,135.5 342.2,132.3ZM379.2,132.5 380.2,133.2 380.2,135.5 379.2,139.5 378.2,141.5 377.2,142.3 376.2,141.9 375.9,141.3 376.2,137.3 377.2,134.7ZM391.9,132.3 392.2,134.9 391.2,139.2 390.2,141.4 388.2,142.9 387.2,142.1 387.1,140.3 388.2,135.3 390,132.3ZM403.6,132.3 404.2,133.2 404.2,135.3 403.2,139.3 402.2,141.3 401.2,142.4 400.2,142.6 399.4,141.3 400.2,136.2 402.2,132.5ZM415.2,132.9 416.1,134.3 415.2,139 414.2,140.9 413.2,141.8 412.2,141.8 411.8,140.3 412.2,137.2 413.2,134.6ZM427.8,132.3 428.1,134.3 427.2,137.7 426.2,138.8 425.2,138.9 424.6,137.3 425.2,133.6 426,132.3ZM439.2,132.7 439.7,135.3 439.2,137 438.2,138.1 437.2,137.7 437.1,135.3 438.2,133.1ZM451.2,133.5 451.2,136.3 450.2,137.6 449.4,136.3 450.2,133.8ZM355.2,134.7 356.2,135.1 356.2,136.7 355.2,139.5 354.2,140.4 353.5,139.3 354.2,136ZM367.2,134.7 367.2,138 366.2,140 365.2,140.4 364.8,139.3 365.2,136.7 366.2,135Z"/><path fill="#ff4040" fill-rule="evenodd" d="M318.2,133 319.2,133.4 319.2,136.8 318.2,139.7 317.2,141.1 316.2,141.8 315.2,140.9 315.2,139.2 316.2,135.5ZM331.2,133.2 331.2,137.3 330.2,139.8 329.2,141.3 328.2,141.8 327.2,140.3 328.2,135.8 330.2,133ZM343.2,133.1 343.7,135.3 343.2,138 342.2,140.2 341.2,141.4 340.2,141.8 339.4,140.3 340.2,136.1 341.2,134 342.2,133.1ZM391.2,132.5 391.9,134.3 391.2,138.7 390.2,140.9 389.2,142 388.2,142.3 387.3,140.3 388.2,135.9 390.2,132.9ZM403.2,132.9 403.9,135.3 403.2,138.7 402.2,140.7 401.2,141.7 400.2,141.8 399.7,140.3 400.2,136.9 401.2,134.5 402.2,133.3ZM427.2,132.7 427.7,134.3 427.2,136.9 426.2,138.1 425.2,137.9 425.2,134.6 426.2,132.9ZM306.2,133.8 306.8,135.3 306.2,138.3 305.2,140.1 304.2,140.8 303.3,139.3 303.6,137.3 305.2,134.3ZM379.2,133.4 379.9,134.3 379.3,138.3 378.2,140.9 377.2,141.6 376.2,140.5 376.3,138.3 377.2,135.5 378.2,134ZM415.2,133.9 415.6,135.3 415.2,138.2 414.2,140.2 413.2,141.1 412.2,140.5 412.2,138.3 413.2,135.4 414.2,134.1ZM438.2,134.2 438.7,134.3 439.2,135.3 438.2,137 437.8,136.3ZM355.2,136.2 355.2,138 354.6,137.3ZM366.2,136.3 366.5,137.3 366.2,138.6 365.9,138.3Z"/><path fill="#ff2b2b" fill-rule="evenodd" d="M318.2,133.8 319.1,135.3 318.7,137.3 317.2,140.5 316.2,141 315.6,139.3 316.2,136.3 317.2,134.5ZM330.2,133.8 331.2,134.8 331.1,136.3 330.2,139.1 329.2,140.6 328.2,140.9 327.7,139.3 328.2,136.5 329.2,134.6ZM342.2,133.8 343.2,134.3 343.1,137.3 342.2,139.5 341.2,140.7 340.2,140.9 339.8,139.3 340.2,136.8 341.2,134.7ZM379.2,134.3 379.5,135.3 379.2,138.2 378.2,140.2 377.2,140.7 376.6,139.3 376.9,137.3 378.2,134.7ZM391.2,133.5 391.6,135.3 391.2,138 390.2,140.3 389.2,141.4 388.2,141.5 387.8,139.3 388.2,136.7 389.2,134.6 390.2,133.6ZM403.2,133.9 403.5,135.3 403,138.3 402.2,140.1 401.2,141.1 400.2,140.8 400.2,137.8 401.2,135.2 402.2,134ZM426.2,134 427.2,134.2 427.2,135.3 426.2,137.2 425.5,136.3ZM306.2,135 306.1,137.3 305.2,139.2 304.2,139.7 304.2,136.9 305.2,135.1ZM414.2,135 415.1,135.3 415.2,136.6 414.2,139.4 413.2,140.1 412.7,138.3 413.2,136.3Z"/><path fill="#ff1515" fill-rule="evenodd" d="M390.2,134.2 391.2,134.6 391.2,137 390.2,139.7 389.2,140.7 388.2,140.4 388.1,138.3 389.2,135.3ZM318.2,134.7 318.6,136.3 318.2,138.1 317.2,139.7 316.2,140 316.2,137.2 317.2,135.2ZM330.2,134.6 330.7,136.3 330.2,138.3 329.2,139.8 328.2,139.8 328.3,137.3 329.2,135.3ZM342.2,134.6 342.8,136.3 342.2,138.6 341.2,139.9 340.2,139.6 340.2,138 341.2,135.4ZM402.2,134.8 403.2,135.3 403.2,136.5 402.2,139.4 401.2,140.3 400.5,139.3 401.2,136ZM379.2,135.9 378.2,139.4 377.2,139.4 377.2,137.7 378.2,135.6ZM414.2,136.3 414.2,138 413.8,137.3Z"/><path fill="#ff0000" fill-rule="evenodd" d="M390.2,135 390.8,136.3 390.2,138.9 389.2,139.9 388.7,139.3 388.8,137.3ZM317.2,136.2 317.9,136.3 317.2,138.7 316.8,138.3ZM330.2,136.2 329.2,138.7 329.2,136.3ZM342.2,136 342.2,137.4 341.2,138.9 341.2,136.5ZM402.2,135.8 402.2,138.3 401.2,139.2 401.2,137.1Z"/><path fill="#eaeaff" fill-rule="evenodd" d="M270.2,132.3 274.6,132.3 274.2,144.3 274.9,159.3 276,164.3 273.5,177.3 273.1,182.3 273.5,189.3 274.9,200.3 275,205.3 271.4,227.3 271.6,233.3 273.4,246.3 269.2,246.3 269.5,206.3 269.2,174.1 270.7,167.3 271,162.3 270.7,156.3 269.2,147.9 269.2,135.6ZM281.5,132.3 286.5,132.3 287.3,140.3 286.5,143.3 286.3,160.3 287.3,164.3 286.3,169.3 289.2,170.2 290.6,171.3 292.2,177.3 292.8,182.3 292.3,192.3 290.2,199.3 289.2,200.5 287.5,201.3 287.1,202.3 284,220.3 283.9,227.3 285.6,240.3 285.7,246.3 280.7,246.3 280.5,239.3 279,225.3 279.2,219.1 281.9,202.3 283.1,199.3 285.2,188.8 286.2,186.8 286.8,183.3 285.9,177.3 282,169.3 282.3,163.3 280.9,160.3 280.4,144.3 281.4,140.3ZM301.9,132.3 301.4,138.3 300.6,141.3 300.2,148.3 297.4,157.3 297.5,159.3 298.6,162.3 297.2,169.3 295.2,169.3 293.2,168.3 294.1,161.3 292.1,158.3 294.6,147.3 293.9,142.3 293.9,132.3ZM315.5,132.3 312.7,143.3 312.4,148.3 309.5,158.3 309.9,161.3 309.6,168.3 309.2,168.8 306.2,169.1 305,168.3 305.3,161.3 304.3,158.3 306.6,149.3 307,142.3 309.2,132.5ZM327.6,132.3 324.8,143.3 324.6,148.3 322,158.3 322.4,169.3 319.2,169.1 317.8,168.3 316.7,158.3 318.8,149.3 319,143.3 321.7,132.3ZM339.7,132.3 336.9,143.3 336.7,148.3 334.5,158.3 334.4,160.3 335.8,169.3 335.2,170.5 331,169.3 329.2,157.3 330.9,149.3 331.1,144.3 331.8,140.3 333.8,132.3ZM352.3,132.3 350.6,139.3 347.3,147.3 346.9,150.3 347.1,154.3 344.5,160.3 343.9,165.3 344.2,167.3 348,169.3 348.3,170.3 345.6,191.3 347.2,211.3 346.7,217.3 344.8,229.3 346.6,234.3 346.9,239.3 344.7,246.3 339.4,246.3 341,239.3 341,234.3 340.2,230.3 341.3,223.3 341.2,222.3 337.2,221.5 336.2,220.8 335.8,212.3 336.3,210.3 341.1,208.3 341.3,207.3 340.1,198.3 340.1,192.3 342.8,176.3 343.2,168.9 342.6,168.3 340.2,167.7 338.3,166.3 337.7,165.3 337.7,163.3 338.7,160.3 342,155.3 344,141.3 346.4,132.3ZM364,132.3 362.5,138.3 359.6,147.3 360.2,155.3 357.3,160.3 356.5,164.3 356.6,165.3 359.6,169.3 359.8,170.3 357.8,185.3 359.3,200.3 359.4,208.3 356.5,225.3 356.1,230.3 356.3,236.3 357.9,246.3 352.3,246.3 351.5,231.3 354.1,215.3 354.5,209.3 352.3,188.3 353,181.3 355.1,169.3 354.7,168.3 350.7,166.3 350.3,164.3 351,160.3 354.3,155.3 354.1,148.3 357.5,138.3 359.1,132.3ZM375.8,132.3 372.5,145.3 373.2,154.9 370.5,160.3 370,163.3 371,170.3 370.3,176.3 370.2,182.3 371.8,200.3 371.2,207.2 368.7,220.3 368.3,226.3 370.2,240.3 370.5,246.3 365.1,246.3 363.7,226.3 364.2,220.8 366,211.3 366.7,203.3 364.8,184.3 365.1,177.3 366.3,170.3 364.5,165.3 364.4,162.3 364.9,160.3 367.4,155.3 367.1,145.3 370.6,132.3ZM387.5,132.3 384.5,144.3 384.6,146.3 385.5,150.3 385.4,154.3 383.5,162.3 382.2,172.3 382.3,178.3 384.2,194.3 383.2,203.3 381.4,211.3 380.6,218.3 380.9,224.3 382.7,238.3 382.3,246.3 377.3,246.3 377.5,239.3 376.2,226.9 376,220.3 376.3,215.3 378.6,201.3 378.9,196.3 377.2,179.3 377.7,169.3 377.1,163.3 377.8,160.3 380,155.3 380,150.3 379,147.3 378.9,145.3 382.1,132.3ZM399.7,132.3 396.8,144.3 397.4,150.3 394.2,167.3 394.4,172.3 396.1,183.3 396.4,188.3 396.2,193.3 393.7,206.3 393.2,212.3 393.4,219.3 394.8,230.3 394.9,236.3 393.3,246.3 388.9,246.3 389.9,239.3 390,234.3 388.2,219.1 388.1,213.3 391,193.3 391,186.3 389.6,170.3 391,163.3 391.1,158.3 392.1,149.3 391,144.3 393.9,132.3ZM411.8,132.3 411.4,135.3 408.7,145.3 408.5,150.3 406.5,161.3 406.8,167.3 408.6,182.3 408.3,188.3 405.5,206.3 405.6,211.3 406.9,224.3 406.9,231.3 404.3,246.3 400.1,246.3 401.9,236.3 402.4,230.3 402.1,224.3 400.4,213.3 400.2,208.3 401.1,200.3 402.8,191.3 403.3,185.3 403.1,177.3 401.9,164.3 403.6,149.3 403.1,144.3 406,132.3ZM423.7,132.3 422.3,141.3 419.5,150.3 418.9,156.3 419,161.3 420.9,176.3 420.3,184.3 418.6,193.3 417.9,200.3 419.2,218.4 419,226.3 416.5,240.3 416.1,246.3 411.5,246.3 414,231.3 414.6,224.3 414.4,218.3 412.4,203.3 413,196.3 414.7,187.3 415.7,179.3 415.3,170.3 414.2,159.3 415,145.3 418.1,132.3ZM435.8,132.3 434.5,139.3 433.4,142.3 430.9,145.3 428.6,149.3 427.2,154.2 426.3,152.3 426.4,148.3 427.1,144.3 428.7,139.3 429.9,132.3ZM447.7,132.3 446.5,138.3 445.5,141.3 444.2,143.3 442.9,144.3 440.8,148.3 438.8,156.3 438.2,157.4 437.2,157.7 434.9,157.3 433.8,156.3 433.7,155.3 434.5,150.3 436.2,146.6 439.1,143.3 440,141.3 442,132.3ZM459.6,132.3 458.5,138.3 457.4,141.3 453.3,149.3 451.8,156.3 451.2,157.4 450.2,157.7 447.6,157.3 446.6,156.3 446.4,155.3 447.1,151.3 449.2,145.8 451.1,143.3 452.8,139.3 454.1,132.3ZM471,132.3 470.4,139.3 468.6,145.3 465.7,151.3 465,155.3 465.2,156.3 469.2,159.2 469.3,160.3 467.6,169.3 467,176.3 468.4,193.3 468.2,201.3 465.2,220.3 465.5,226.3 467.2,237.3 467.3,246.3 462,246.3 461.9,240.3 460.6,229.3 460.4,224.3 463.7,201.3 463.7,196.3 462.2,186.4 461.7,179.3 462.2,172.4 464.6,158.3 464.3,157.3 463.2,156.9 458.8,157.3 458.8,154.3 459.9,149.3 463.9,142.3 466.1,132.3ZM483.2,132.3 483.7,135.3 483.4,138.3 482.5,141.3 482.3,144.3 479.8,150.3 479.3,153.3 480.4,160.3 479.4,166.3 479.2,173.3 480.8,191.3 480.2,197.8 477.9,210.3 477.5,215.3 479.6,233.3 479.4,241.3 478.6,246.3 473.9,246.3 474.3,236.3 472.6,218.3 473.2,212 476,195.3 475.9,190.3 474.3,178.3 474.2,169.3 475.7,159.3 475.5,158.3 472.7,155.3 472.3,153.3 473,150.3 476.5,143.3 478,136.3 478.1,132.3ZM494.3,132.3 494.8,139.3 494.6,144.3 491.8,153.3 491.2,164.3 491.4,169.3 493,181.3 493.1,187.3 490.6,202.3 490,209.3 490.4,216.3 491.9,227.3 491.9,232.3 491.2,238.5 489.5,246.3 485.1,246.3 486.6,236.3 486.8,232.3 485.2,218.2 485,209.3 487.9,192.3 488.2,187.3 486.5,169.3 487,159.3 486,153.3 486.9,149.3 489.1,144.3 490,136.3 488.9,132.3ZM501.2,142.9 501.2,246.3 496.4,246.3 499,229.3 499,222.3 497.3,210.3 497.2,204.3 498.2,196.3 499.8,188.3 500.3,182.3 500.2,175.3 498.8,161.3 499.2,154.3ZM427.2,155.6 428.3,157.3 431.5,159.3 432,160.3 433.1,168.3 433,174.3 430.7,188.3 430.3,194.3 431.6,216.3 431.2,221.3 428.6,236.3 428.3,241.3 428.8,246.3 423.8,246.3 424.2,236 426.1,226.3 427,218.3 426.7,212.3 425.2,203.9 424.8,197.3 425.1,191.3 427.9,174.3 427.9,168.3 426.8,158.3ZM457.2,158.1 457.9,158.3 458,159.3 454.7,182.3 456,197.3 456.1,206.3 453.5,221.3 452.9,227.3 453.3,233.3 455.2,246.3 449.6,246.3 448.4,236.3 448.2,230.1 449.2,221.2 451,212.3 451.5,205.3 451.2,200.3 449.4,188.3 449.4,182.3 452.7,160.3 453.2,159.1 454.2,158.5ZM444.2,158.5 445.2,159.4 445.3,168.3 442.7,184.3 442.5,189.3 443.7,203.3 443.8,211.3 443.2,217.1 441.4,226.3 440.6,234.3 442.2,246.3 436.6,246.3 436,239.3 436.2,232.3 438.8,217.3 439.2,211.3 439,206.3 437.2,195.3 437.1,187.3 439.8,172.3 440.2,160.3 441.2,159ZM301.2,169.8 303.2,170.6 304.2,173.8 305.5,182.3 305,192.3 303.2,199.3 302.2,200.1 299.2,200.6 298.7,201.3 296.7,211.3 296.3,218.3 297.2,229.3 296.8,237.3 297,246.3 292.6,246.3 293.1,242.3 293.2,236.3 291.2,222.3 291.2,214.3 293.4,202.3 294.2,201.3 296.6,200.3 297.3,199.3 298.9,194.3 299.6,182.3 298.2,171.3 298.5,170.3ZM314.2,169.9 315.5,170.3 316.2,171.1 318.2,182.3 318.5,188.3 319.2,191.8 318.8,199.3 320.9,202.3 320.9,206.3 319.9,208.3 316.1,211.3 315.7,218.3 315.2,220.4 309.9,223.3 310.3,239.3 309.2,244.2 308.1,246.3 303.8,246.3 304.3,243.3 304.1,234.3 305.4,229.3 304.3,222.3 303.2,218.3 303.1,214.3 303.5,208.3 304.7,201.3 305.2,200.1 309.2,201.5 309,209.3 309.4,210.3 310.2,210.9 314.2,209.3 315.1,208.3 315.7,202.3 315.2,201.3 313.2,199.8 312.7,198.3 312.2,182.3 311,172.3 311.5,170.3ZM327.2,170.1 329.7,171.3 333.2,182.1 333.2,188.3 332.3,198.3 333.4,202.3 333.6,206.3 332.3,208.3 329.1,210.3 328.2,220.5 326.2,221.9 323.2,222.4 322.8,217.3 323,211.3 324,210.3 327.8,208.3 328.1,207.3 327.7,202.3 326,199.3 326.8,190.3 326.5,183.3 324,172.3 324.2,171.3 325.2,170.6ZM322.2,223.1 322.4,238.3 321.7,242.3 319.7,246.3 315.2,246.3 316.5,242.3 316.8,233.3 317.7,229.3 318,224.3 319.4,223.3ZM333.2,223.3 334.2,224.3 333.4,230.3 334.3,234.3 334.5,238.3 333.7,242.3 331.8,246.3 327.2,246.3 328.7,241.3 329.2,229.3 330,224.3 330.8,223.3Z"/><path fill="#d4d4ff" fill-rule="evenodd" d="M283.1,132.3 284.9,132.3 286.5,140.3 286.1,143.3 286.2,155.3 285.6,160.3 286.2,163.3 285.2,166 284.2,167.1 283.5,162.3 282.2,161.6 281.3,159.3 280.8,144.3 281.2,142.3 282.3,140.3 282.4,136.3ZM301.6,132.3 299.7,148.3 298.2,154.1 296.8,157.3 296.7,159.3 297.3,161.3 296.2,162.9 295.2,160.3 293.2,159.5 292.5,158.3 295,147.3 294.2,141.3 295,132.3ZM315.3,132.3 312.5,143.3 312,148.3 308.6,159.3 307.2,160.7 306.2,160.5 305,159.3 304.8,157.3 307,149.3 307.2,142.3 309.5,132.3ZM327.4,132.3 324.6,143.3 324.2,148.3 321.2,158.9 320.2,160.2 319.2,160.4 317.7,159.3 317.3,157.3 319.5,148.3 319.2,143.3 321.9,132.3ZM339.5,132.3 336.7,143.3 336.4,148.3 333.6,159.3 332.2,160.6 330.3,159.3 329.9,158.3 331.6,148.3 331.3,144.3 332.2,139.3 334,132.3ZM351.9,132.3 351.2,136.3 349.2,142.3 345.8,148.3 345.7,155.3 344,159.3 343.2,165.5 342.2,166.9 340.2,166.9 338.7,165.3 338.6,162.3 340.2,158.6 341.2,157.5 343.2,156.8 343,152.3 344.1,142.3 346.7,132.3ZM363.6,132.3 363.2,135.3 361.4,141.3 358.6,147.3 359.4,153.3 359.2,155.8 356.5,160.3 355.5,166.3 354.2,167.1 353.2,167 351.7,166.3 350.9,165.3 350.9,162.3 351.5,160.3 353.2,157.9 354.2,157.2 355.2,157.1 355.8,156.3 354.9,149.3 355,147.3 359.4,132.3ZM375.5,132.3 374.3,138.3 371.7,146.3 372.5,152.3 372.3,155.3 370,160.3 369.5,164.3 369.8,169.3 368.9,181.3 370.6,199.3 370.2,204 369.2,206.7 368.2,204.3 365.9,185.3 366.2,177.3 367.7,169.3 365.2,166.1 364.8,162.3 366.2,158.6 368.3,156.3 367.7,144.3 370.9,132.3ZM387.3,132.3 386.4,137.3 384,145.3 384.9,150.3 384.2,156.3 382.2,164.7 380.2,168.1 378.2,166.9 377.6,164.3 378.2,160.4 380.7,156.3 380.6,149.3 379.3,145.3 380,141.3 382.3,132.3ZM399.5,132.3 398.4,138.3 396.5,144.3 396.7,149.3 395.2,156.3 393.2,160.8 392.2,159 392.8,149.3 391.3,145.3 392.2,140.3 394.1,132.3ZM411.6,132.3 411.3,135.3 408.3,145.3 407.2,151.9 405.2,156.6 404.2,156.1 404.5,148.3 403.5,144.3 406.1,132.3ZM423.5,132.3 422.3,140.3 421.4,143.3 419.2,147.3 417.2,153.7 416.2,153.9 415.7,144.3 418.4,132.3ZM435.6,132.3 434.5,138.3 433.2,141.7 430.6,144.3 428.2,148.3 427.7,147.3 427.8,145.3 430.1,132.3ZM447.5,132.3 446.2,138.6 445.2,141 442.9,143.3 440.5,147.3 438.2,156.1 437.2,156.9 435.2,156.4 434.3,154.3 434.9,150.3 437.2,146 439.5,144.3 440.6,141.3 442.2,132.3ZM459.2,132.3 458.2,138.2 457.2,140.8 455.3,143.3 453.3,148.3 451.3,156.3 450.2,157 448.2,156.7 447.1,155.3 447.5,151.3 449.2,146.7 451.8,143.3 453.1,139.3 454.4,132.3ZM470.7,132.3 470.2,138.6 468.7,142.3 468.1,145.3 465.5,150.3 464.2,155.2 462.7,156.3 460.2,156.7 459.5,156.3 459.1,155.3 459.5,151.3 460.8,148.3 464.2,143.9 466.6,132.3ZM482.4,132.3 483.3,134.3 483.2,137.3 481.7,141.3 481.4,145.3 479.6,149.3 478.5,153.3 479.3,159.3 477.3,169.3 477.2,183 476.2,177.1 476,171.3 476.8,157.3 474.2,156.2 473.4,155.3 472.8,152.3 473.9,149.3 477.2,144.3 478.8,132.3ZM493.5,132.3 494.2,139.3 493.9,144.3 491.6,151.3 490.2,158.4 489.2,160.1 488.6,157.3 487.2,156.5 486.7,155.3 486.6,152.3 487.2,149.7 489.7,145.3 490.7,136.3 489.7,132.3ZM272.2,134.7 273.3,138.3 274.2,150.4 274.4,160.3 275,163.3 274.2,167.5 272.2,173 271.8,158.3 269.7,143.3 270.3,138.3 271.2,135.5ZM456.2,159.2 456.7,160.3 456.3,165.3 453.8,181.3 454,194.3 453.2,197.5 451.2,192.4 450.3,186.3 450.3,182.3 453.9,160.3 454.7,159.3ZM466.2,158.3 468.1,159.3 468.4,160.3 465.9,174.3 465.6,179.3 466.1,190.3 465.2,191.4 463.2,183.3 462.9,176.3 465.2,160.9ZM443.2,159.8 443.7,160.3 444.2,163.6 444.3,169.3 441.9,185.3 441.7,199.3 441.2,202.8 440.2,202.1 438.2,195.4 437.8,188.3 438.8,181.3 440.9,171.3 441.6,161.3 442.2,160ZM430.2,166 431.5,169.3 432,175.3 429.6,192.3 429.2,206.6 428.2,207.8 426.2,202.6 425.6,194.3 426.2,188.4 428.7,176.3ZM357.2,168.1 358.2,168.9 358.7,170.3 357,185.3 358.2,202.3 358,205.3 357.2,208 356.2,207.1 354.2,198.6 353.1,188.3 354.2,179.2 356.2,170.3ZM346.2,169.7 347.1,171.3 344.9,192.3 345.7,207.3 345.2,210.5 344.2,211 343,208.3 341.2,200.9 340.7,192.3 341.7,185.3 345.2,169.8ZM288.2,170.7 289.6,171.3 290.3,172.3 291.8,178.3 292.3,182.3 292,191.3 289.7,199.3 289.2,200 287.2,200.5 286.6,201.3 283.2,217.2 282.2,220.5 281.2,221.6 280.9,215.3 282.6,202.3 285.2,192.7 286.2,193 287.2,191.8 287.5,182.3 286.5,172.3 286.8,171.3ZM301.2,170.4 302.8,171.3 305,181.3 304.6,192.3 302.7,199.3 301.2,200 299.2,199.7 298.2,200.6 295.8,212.3 294.2,223.9 293.2,222.8 292.2,218.6 292.2,212.3 294,202.3 297.5,200.3 299.2,195.8 300,183.3 298.9,172.3 299.2,171.2ZM313.2,170.4 314.2,170.5 315.5,171.3 316.7,176.3 317.8,182.3 317.9,188.3 318.5,192.3 318.4,199.3 320.2,202.3 319.9,207.3 317.2,209.5 316.3,209.3 316.1,208.3 316.1,201.3 314.2,200.3 313.2,199.3 313.2,192.3 311.6,172.3 311.8,171.3ZM327.2,170.8 328.4,171.3 331.2,180.2 332.2,181.1 332.7,184.3 331.9,198.3 332.7,202.3 332.8,206.3 332.2,207.5 330.2,208.7 329.2,208 328.4,202.3 326.4,199.3 327.1,186.3 325.2,172.3 325.6,171.3ZM418.2,172.9 419.5,176.3 419.7,182.3 417.4,197.3 416.7,210.3 416.2,212.9 415.2,211.8 414.2,208.8 413.3,200.3 417.2,175.8ZM271.2,177.3 271.7,185.3 274.3,203.3 273.2,212.3 271.2,217.4 270.2,216.9 270.5,205.3 269.2,195.8 269.2,182.3ZM379.2,176.9 380.2,177.4 382.2,186.7 383.1,194.3 382.2,202.8 380.2,209.3 379.2,210.2 380,196.3 379,182.3ZM406.2,177.7 407.3,181.3 407.5,188.3 404.7,204.3 404,215.3 403.2,217 401.7,211.3 401.3,205.3 405.2,178ZM393.2,179.7 394.2,182.1 395.2,186.8 395.3,193.3 391.7,211.3 391.2,216.3 390.2,217.4 389.7,209.3 391.9,194.3 392.4,181.3ZM501.2,187.5 501.2,234.7 500.6,233.3 500.6,223.3 498.6,205.3 499.2,197.2ZM306.2,200.8 307.9,201.3 308.8,202.3 308.2,209.3 309.2,211.9 310.2,211.8 313.2,210.2 315.2,210.4 315.3,218.3 314.2,220.3 313.2,220.9 311.2,221 309.2,218.7 307.2,221.3 306.2,221.3 304.3,218.3 303.8,215.3 304.2,207 305.2,201.4ZM488.2,201 488.4,212.3 490.2,223.5 490.7,230.3 490.2,236.7 488.2,244 487.5,244.3 487.2,245.6 488,231.3 486.6,213.3 487.2,205.8 487.8,204.3ZM327.2,209.7 328.2,211.1 328.2,218.5 327.2,220.5 325.1,221.3 324.2,221.1 323.2,218.8 323.2,212.3 324.2,210.7ZM339.2,209.8 340.7,210.3 341.3,211.3 341.9,216.3 341.5,218.3 340.4,220.3 338.2,220.9 337,220.3 336.2,218.5 336.1,212.3 337.2,210.4ZM475.2,216.8 477.2,225.1 478.5,233.3 478.4,240.3 477.4,246.3 474.9,246.3 475.5,237.3 474.4,221.3ZM463.2,225.3 465.2,232.6 466.2,238.3 466.3,246.3 463,246.3 462.3,227.3ZM307.2,231.1 308.2,231.4 309.2,232.6 310,237.3 309.2,242.2 308.2,243.6 307.2,243.9 306.2,243.5 305.2,241.8 304.6,237.3 305.2,233.3 306.2,231.7ZM319.2,231.1 320.2,231.3 321.2,232.3 322,237.3 321.2,242.1 320.2,243.6 319.2,243.9 318.2,243.4 317.5,242.3 317,237.3 317.5,233.3 318.2,231.8ZM331.2,231.4 332.2,231.6 333.2,232.8 334,237.3 333.2,241.8 332.2,243.3 331.2,243.5 329.7,242.3 329.2,237.3 329.8,233.3ZM379.2,231.9 380.2,233.2 381.2,238 381.2,246.3 378.5,246.3ZM344.2,232.3 345.2,232.8 345.9,234.3 346.5,237.3 346.1,240.3 345.2,242.2 344.2,242.7 342.6,241.3 342,237.3 342.8,233.3ZM451.2,233.1 453.2,240.4 454.1,246.3 450.7,246.3 450.2,234ZM367.2,236 368.9,241.3 369.4,246.3 366.3,246.3 366.3,238.3ZM354.2,240.7 355.2,241.6 356.5,246.3 353.7,246.3ZM438.2,240.9 439.2,240.9 440.6,246.3 438.1,246.3ZM270.2,242.9 271.2,243.7 271.9,246.3 269.6,246.3ZM283.2,242.4 284.1,246.3 282.4,246.3Z"/><path fill="#bfbfff" fill-rule="evenodd" d="M301.3,132.3 300.8,138.3 299,149.3 297.2,154.4 295.1,158.3 294.2,159.1 293.2,158.7 293,157.3 295.6,146.3 294.7,141.3 295.2,137.3 297,132.3ZM315,132.3 312.3,143.3 311.6,148.3 308.1,158.3 307.2,159.4 306.2,159.6 305.2,158.6 305.2,157.3 307.6,148.3 307.2,143.3 309.8,132.3ZM327.2,132.3 324.3,143.3 323.8,148.3 320.7,158.3 319.2,159.4 318.2,158.7 318,157.3 320.1,148.3 319.5,143.3 322.1,132.3ZM339.3,132.3 336.4,143.3 336,148.3 333.4,158.3 332.2,159.4 331.2,159 330.6,157.3 332.3,148.3 331.7,143.3 333.1,136.3 334.2,132.3ZM351.5,132.3 351.2,135.4 349.2,141.6 347.2,144.9 346.2,145.5 345.2,145.5 344.5,143.3 344.6,141.3 347.1,132.3ZM363.3,132.3 362.9,135.3 361.2,141.1 359.2,144.8 357.2,145.8 356.8,142.3 359.8,132.3ZM375.2,132.3 373.2,141.5 370.6,146.3 371.2,154.3 370.2,155.6 368.4,144.3 368.8,140.3 371.2,132.3ZM387,132.3 386.2,137.4 383.5,145.3 383.9,150.3 383.2,154.4 382.2,154.3 381.6,148.3 379.8,145.3 380.1,141.3 382.5,132.3ZM399.4,132.3 398.2,138.3 395.8,145.3 395.2,151.2 394.2,151.6 394,148.3 393.6,147.3 392.2,146.2 391.7,144.3 394.2,132.6ZM411.4,132.3 411.1,135.3 409.2,142 407.2,146.7 406.2,147.5 404.2,145.9 403.9,144.3 406.4,132.3ZM423.3,132.3 422.2,139.8 421.2,142.8 419.2,145.6 417.2,146.3 416.2,145.3 416.2,142.3 418.7,132.3ZM435.4,132.3 434.3,138.3 433.2,140.9 432.2,142.2 430.2,142.8 429.2,141.5 429.1,140.3 430.3,132.3ZM447.2,132.3 446.2,137.9 445.2,140.2 444.2,141.6 442.2,142 441.4,140.3 442.6,132.3ZM458.9,132.3 458.2,137.3 457.2,139.8 456.2,141.2 454.2,142 453.6,141.3 453.7,138.3 454.8,132.3ZM470.3,132.3 470.2,137.1 469.2,139.7 467.6,141.3 467.4,145.3 466.2,146.8 465.4,142.3 466.1,136.3 467.2,132.3ZM492.4,132.3 493.2,137.9 493.2,143.3 492.2,147 491.2,147.7 490.9,142.3 491.5,135.3 490.7,132.3ZM482.2,133.7 482.7,135.3 482.2,138.1 480.7,139.3 480.6,145.3 479.2,148.3 478.6,147.3 478.2,141.3 479.2,135.8 480.2,135.7 481,134.3ZM284.2,138.2 285.2,139.7 285.4,141.3 285.2,154.5 284.2,154.2 283.2,158.3 282.2,159.5 281.1,144.3 281.3,143.3 283.7,141.3ZM453.2,142.2 453.5,143.3 453.2,144.6ZM272.2,142.9 273.3,148.3 273.2,157.1 272.2,153.1 271.4,146.3 271.5,144.3ZM451.2,145.8 452.5,146.3 452.8,147.3 452.2,152.2 451.2,155.4 450.2,156.3 449.2,156.4 448.2,155.8 447.5,154.3 447.8,151.3 449.2,147.6 450.2,146.2ZM464,146.3 464.9,147.3 465,149.3 463.9,154.3 462.2,155.8 460.2,155.8 459.5,153.3 460.1,150.3 462.2,146.9 463.2,146.1ZM438.2,146.5 439.1,147.3 439.4,148.3 439,152.3 438.2,154.8 437.2,155.9 436.2,156 435.3,155.3 434.9,154.3 435,151.3 436.2,148.3 437.2,147ZM476.2,146.9 477.3,147.3 477.9,148.3 478,150.3 476.7,154.3 475.2,155.7 474.2,155.4 473.5,154.3 473.2,152.3 474.2,149.4ZM357.2,148.2 357.2,151.6 356.8,149.3ZM489.2,148.5 489.9,149.3 489.7,152.3 488.2,154.5 487.2,154.3 487.2,151.2 488.2,149ZM341.2,158.6 342.7,159.3 343.2,161.3 342.8,164.3 342.2,165.5 341.2,166.2 340.2,166 339.5,165.3 339,163.3 339.8,160.3ZM354.2,158.3 355.3,159.3 355.7,162.3 354.9,165.3 354.2,166.1 353.2,166.3 351.7,165.3 351.3,162.3 352.2,160ZM368.2,158.3 369.2,159.5 369.2,162.8 368.6,165.3 367.2,166.8 366.2,166.6 365.5,165.3 365.2,162.3 366.2,159.4 367.2,158.3ZM380.2,159 381.2,159.5 381.6,160.3 381.8,162.3 380.6,165.3 379.2,166 378.2,164.6 378.2,162.3 379.2,159.7ZM301.2,171.1 302.2,171.8 302.8,173.3 304.7,183.3 304.2,192.5 302.2,199.2 301.2,199.6 300.1,199.3 299.6,198.3 300.4,184.3 299.7,172.3 300.1,171.3ZM313.2,171.1 314.5,171.3 315.2,172.4 317.3,182.3 317.6,193.3 316.6,199.3 315.2,200.1 314.2,199.8 313.5,198.3 313.6,192.3 312.4,172.3ZM288.2,171.7 289.2,172.1 290.2,174.5 291.9,183.3 291.4,192.3 289.3,199.3 288.2,199.7 287.5,199.3 287.3,198.3 288.1,186.3 287.6,173.3ZM327.2,171.8 328.3,173.3 331.2,185 332.2,185.9 331.3,198.3 331.7,204.3 331.2,206.8 330.2,206.4 329.2,201.3 327.2,200 326.9,199.3 327.5,187.3 326.2,172.3ZM441.2,177.2 441.4,180.3 440.2,189.7 439.2,190 439.2,185.2ZM344.2,181 344.6,183.3 344,193.3 344.2,200.3 343.9,202.3 343.2,202.9 341.9,198.3 341.6,192.3 342.2,186.8ZM429.2,180.6 429.9,181.3 428.2,194.7 427.2,197.4 426.8,193.3 427.2,187.9ZM355.2,183.1 356.2,196 355.2,195.7 354.5,190.3ZM417.2,185.1 417.7,185.3 417.8,188.3 415.2,201.1 414.8,197.3 415.2,192.7ZM405.2,191 405.2,195 404.2,199.2 404.1,195.3ZM271.2,195 271.5,196.3 272.2,196.9 272.5,199.3 272.2,205.5ZM285.2,199.8 284.2,207.2 283.8,205.3 284.1,201.3ZM318.2,200.4 319.4,202.3 319.3,206.3 318.2,207.9 317.2,207.5 317,205.3 317.2,201.1ZM296.2,201.8 296.8,202.3 296.2,206.1 294.2,212.4 293.8,210.3 294.2,205.3 295.1,202.3ZM306.2,201.8 307.9,202.3 306.8,210.3 308.6,213.3 309,215.3 307.7,218.3 307.2,218.9 306.2,219 305.2,217.9 304.6,215.3 305.2,211.3 305.2,205.2ZM314.2,210.9 315.1,213.3 315,217.3 314.2,219.3 312.2,220.2 311.2,219.6 309.6,216.3 309.5,214.3 310.6,212.3 311.8,211.3 313.2,210.7ZM326.2,210.4 327.5,211.3 328,216.3 327.2,219.4 325.2,220.4 324.2,219.8 323.6,218.3 323.4,213.3 324.2,211.3ZM339.2,210.5 340.2,211.2 340.7,212.3 341,216.3 340.2,218.9 339.2,219.8 338.2,219.9 337.2,219.4 336.7,218.3 336.4,213.3 337.2,211.1ZM307.2,232.7 308.2,233 309.1,234.3 309.5,237.3 309.2,240.4 308.2,242.1 307.2,242.3 306.2,241.6 305.5,240.3 305.1,237.3 305.7,234.3ZM319.2,232.7 320.2,232.9 321.2,234.3 321.6,237.3 321.2,240.4 320.2,242.1 319.2,242.3 318.1,241.3 317.4,237.3 317.9,234.3ZM331.2,233.2 332.2,233.2 333,234.3 333.5,237.3 333.1,240.3 332.2,241.8 331.2,241.9 330,240.3 329.7,237.3 330.2,234.3ZM344.2,234.3 345.2,234.7 345.8,237.3 345.2,240.3 344.2,240.7 343.2,239.3 343,237.3 343.2,235.8Z"/><path fill="#aaaaff" fill-rule="evenodd" d="M300.7,132.3 300.5,138.3 298.5,148.3 294.2,157.9 293.8,157.3 294.2,154.3 296.5,144.3 295.3,141.3 295.5,138.3 296.5,135.3 298.2,132.3ZM314.8,132.3 311.1,148.3 307.3,158.3 306.2,158.7 305.8,157.3 308.3,147.3 307.6,142.3 309.2,134.7 310,132.3ZM326.9,132.3 326.2,136.5 323.8,144.3 323.2,148.8 320.2,157.5 319.2,158.4 319,156.3 320.9,147.3 319.8,143.3 321.2,135.7 322.3,132.3ZM339.1,132.3 338.2,137 335.9,144.3 335.2,150 333.2,156.7 332.2,158.3 331.6,157.3 333.2,147.3 332,143.3 332.2,140.3 334.5,132.3ZM351.1,132.3 350.7,136.3 349.2,140.8 347.2,143.9 346.2,144.3 345.2,143.7 344.9,141.3 347.5,132.3ZM362.8,132.3 362.6,135.3 361.2,140.3 359.2,143.7 358.2,143.9 357.2,142.3 359.2,134.6 360.1,132.3ZM374.8,132.3 374.2,137.3 372.2,142.9 371.2,144 370.2,144.3 369.2,143.4 369,141.3 370.2,136 371.8,132.3ZM386.8,132.3 386.2,136.8 384.2,142.9 383.2,144.7 382.2,145.6 381.2,145.6 380.2,144.7 380.2,142.3 382.8,132.3ZM399.2,132.3 398.2,137.9 396.2,143.4 395.2,145.2 394.2,145.8 393.2,145.8 392.2,144.9 392.1,142.3 394.6,132.3ZM411.2,132.3 410.9,135.3 409.2,141.4 407.2,145 405.2,145.6 404.3,144.3 404.3,142.3 406.7,132.3ZM423,132.3 422.2,138.7 421.2,141.9 419.2,144.6 417.2,144.9 416.5,143.3 416.7,141.3 419,132.3ZM435.2,132.3 434.2,138 433.2,140.2 432.2,141.4 431.2,141.8 430.2,141.4 429.6,140.3 429.5,138.3 430.6,132.3ZM446.9,132.3 445.7,138.3 444.2,140.7 443.2,141 442.2,140.3 441.8,138.3 442.9,132.3ZM458.5,132.3 458.2,136 457.5,138.3 456.2,140.2 455.2,140.3 454.4,139.3 454.1,137.3 455.2,132.4ZM469.6,132.3 470.1,135.3 469.3,138.3 468.2,139.3 467.2,139 466.7,137.3 467.2,134.1 468.1,132.3ZM282.2,143.7 283.2,144.2 283.3,145.3 283.2,152 282.2,152.9ZM451.2,147 452.2,149.3 451.2,154.3 450.2,155.5 449.2,155.6 448.1,154.3 448.2,151.3 449.2,148.5 450.2,147.2ZM463.2,147.2 464.3,149.3 464,152.3 463.2,154.3 461.2,155.4 460.1,154.3 460.2,151.3 461.2,149 462.2,147.7ZM438.2,148 438.8,150.3 438.3,153.3 437.2,154.8 436.2,154.9 435.4,153.3 435.5,151.3 436.2,149.3 437.2,148ZM476.2,148.2 476.8,149.3 476.9,151.3 476.3,153.3 475.2,154.6 474.2,154.3 473.9,151.3 475.2,148.7ZM341.2,159.8 342.2,160.5 342.5,162.3 342.2,163.8 341.2,165 340.2,164.8 339.7,163.3 340.2,160.7ZM354.2,159.5 354.8,160.3 355.1,162.3 354.2,164.9 353.2,165.4 351.9,164.3 351.8,162.3 353.2,159.7ZM367.2,159.4 368.2,159.8 368.7,161.3 368.3,164.3 367.2,165.6 366.2,165.4 365.6,163.3 366.2,160.4ZM380.2,160.7 380.7,162.3 380.2,164 379.2,164.2 379.2,161.3ZM301.2,172.2 302.2,173.9 303.2,177.3 304.2,183.3 303.8,192.3 302.2,198.1 301.2,199 300.6,198.3 300.8,183.3 300.6,173.3ZM314.2,172.4 315.2,174.9 316.9,182.3 316.9,192.3 315.2,199.3 314.2,199.2 313.1,177.3 313.2,173ZM289.2,175.2 290.2,177.4 291.4,183.3 291,191.3 289.2,198 288.6,197.3 288.6,178.3ZM327.2,176.1 328.2,176.3 329.9,183.3 329.9,193.3 328.2,199 327.2,198.3 327.9,187.3ZM326.2,211.1 327.3,212.3 327.6,216.3 327,218.3 326.2,219.2 325.2,219.4 324.1,218.3 323.7,214.3 324.2,212.1 325.2,211.3ZM313.2,211.3 314.4,212.3 314.7,216.3 314.1,218.3 313.2,219.1 312.2,219.2 310.8,217.3 310.5,214.3 311.4,212.3ZM338.2,211.4 339.2,211.4 339.9,212.3 340.5,215.3 339.6,218.3 338.2,218.9 337.2,218 336.7,215.3 337.1,212.3ZM306.2,212.8 307.2,213 307.8,215.3 307.2,217.1 306.2,217.2 305.5,215.3ZM307.2,234 308.2,234.4 309,237.3 308.4,240.3 307.2,241 306.2,240 305.7,237.3 306.2,235ZM319.2,234 320.2,234.3 321.2,237.3 320.5,240.3 319.2,241 318.2,239.7 317.9,237.3 318.2,235.2ZM331.2,234.7 332.2,234.8 332.9,237.3 332.2,240.2 331.2,240.4 330.2,237.3Z"/><path fill="#9595ff" fill-rule="evenodd" d="M299.2,132.6 300.2,133 300.5,135.3 300.2,138.3 298.2,145.8 297.4,142.3 296.2,141.3 296,139.3 297.1,135.3ZM314.5,132.3 313.9,136.3 311.6,143.3 310.2,149.2 307.2,156 307.2,154 309.1,146.3 307.9,142.3 309.2,135.4 310.3,132.3ZM326.6,132.3 326.1,136.3 323.3,144.3 322.2,149.5 321.9,149.3 321.7,145.3 320.3,144.3 320.1,143.3 320.2,140.3 321.2,136.2 322.6,132.3ZM338.8,132.3 338.2,136.4 335.4,144.3 335.2,147.4 334.2,150.6 333.9,145.3 332.7,144.3 332.3,143.3 332.4,140.3 334.7,132.3ZM350.4,132.3 350.6,135.3 349.2,140.1 347.2,143 346.2,143.2 345.3,141.3 346,137.3 347.2,133.8 348.1,132.3ZM362,132.3 362.4,135.3 361.2,139.6 359.2,142.7 358.2,142.5 357.9,140.3 359.2,135.3 361,132.3ZM374.3,132.3 374.3,135.3 373.2,139.8 372.2,142.2 371.2,143.1 370.2,143 369.5,140.3 371.2,134.2 372.4,132.3ZM386.5,132.3 386.1,136.3 384.2,142.3 383.2,143.8 381.2,144.6 380.5,143.3 381.2,137.8 383,132.3ZM398.9,132.3 398.2,137.3 397.2,140.6 395.2,144.2 394.2,144.8 393.2,144.8 392.4,143.3 392.5,141.3 394.9,132.3ZM410.9,132.3 410.7,135.3 409.2,140.8 407.2,144.1 406.2,144.6 405.2,144.5 404.6,143.3 404.7,141.3 407,132.3ZM422.7,132.3 422.2,137.7 421.2,141.2 419.2,143.8 418.2,144.1 417.2,143.7 416.9,142.3 417.2,139.2 419.5,132.3ZM434.9,132.3 434.6,135.3 433.8,138.3 432.2,140.7 431.2,140.9 430.2,140.3 429.8,138.3 430.9,132.3ZM446.5,132.3 446.3,135.3 445.4,138.3 444.2,139.9 443.2,140 442.2,138.5 442.1,137.3 443.4,132.3ZM457.9,132.3 458.1,134.3 457.2,138 456.2,139.1 455.2,138.9 454.7,137.3 455.2,134 456.1,132.3ZM469.2,133.5 469.3,136.3 468.2,137.7 467.6,136.3 468.2,133.9ZM297.2,145.9 297.7,146.3 297.2,149.1 296.8,148.3ZM451.2,148.3 451.6,150.3 451.2,153.1 450.2,154.6 449.2,154.7 448.5,153.3 448.9,150.3 450.2,148.1ZM437.2,149.3 438.1,150.3 438.1,151.3 437.2,153.5 436.2,153.4 436,152.3 436.2,150.9ZM463.2,148.4 463.8,150.3 463.5,152.3 462.3,154.3 461.2,154.5 460.5,153.3 460.7,151.3 462.2,148.5ZM475.2,149.9 475.9,150.3 476.1,151.3 475.2,153.2 474.5,152.3ZM353.2,160.8 354.2,161.2 354.4,162.3 354.2,163.3 353.2,164.3 352.5,163.3 352.5,162.3ZM367.2,160.6 368,162.3 367.2,164.3 366.1,163.3 366.2,162ZM314.2,175.9 315.2,177.4 316.4,182.3 316.3,192.3 315.2,196.7 314.7,195.3 314.1,188.3ZM302.2,176.6 303.4,180.3 303.7,183.3 303.4,192.3 302.2,196.1 301.2,195.9 301.1,179.3 301.2,176.8ZM290.2,180.6 290.5,183.3 290.2,192 289.5,183.3 289.7,181.3ZM328.2,190 328.9,191.3 328.2,194.2ZM313.2,212.1 314.2,213.5 314.2,216.3 313.2,218.2 312.2,218.2 311.1,216.3 311.1,214.3 312.2,212.3ZM326.2,212 327.2,214 327.2,216.3 326.2,218.2 325.2,218.3 324.2,216.9 324.2,213.3 325.2,212ZM338.2,212.4 339.2,212.6 339.9,215.3 339.2,217.4 338.2,217.7 337.1,215.3 337.2,214.1ZM307.2,235.4 308.2,236.2 308.4,237.3 308.2,238.8 307.2,239.6 306.5,237.3ZM319.2,235.5 320.2,236 320.5,237.3 320.2,239.1 319.2,239.5 318.6,237.3Z"/><path fill="#8080ff" fill-rule="evenodd" d="M314.3,132.3 313.8,136.3 312.2,141.4 310.2,144.4 309.2,144.1 308.2,142.8 308.2,141.3 310.2,133.3 310.7,132.3ZM326.4,132.3 325.9,136.3 324.2,141.6 322.2,144.1 321.2,144 320.4,142.3 320.4,140.3 322.2,133.9 322.9,132.3ZM338.5,132.3 338.2,135.7 336.2,141.9 335.2,143.6 334.2,144.1 333.2,143.9 332.6,142.3 332.6,140.3 335,132.3ZM349.2,132.7 350.2,134 350.3,135.3 349.2,139.3 347.2,142.1 346.2,141.9 345.8,140.3 346.2,137.3 347.2,134.7ZM373.2,132.8 374.1,134.3 373.7,137.3 372.2,141.3 371.2,142.1 370.1,141.3 370.1,138.3 371.2,135.1ZM386.2,132.3 385.9,136.3 384.2,141.8 383.2,143.1 382.2,143.8 381.2,143.7 380.8,142.3 381.2,138.4 383.2,132.5ZM398.6,132.3 398.2,136.7 396.2,142.3 394.2,144.1 393.2,143.9 392.7,142.3 393.2,138.3 395.2,132.3ZM410.6,132.3 410.5,135.3 409.2,140.2 407.2,143.4 406.2,143.9 405.2,143.5 405.2,139.1 407.5,132.3ZM422.3,132.3 422.2,136.3 421.2,140.5 420.2,142.1 418.2,143.3 417.3,142.3 417.2,140.9 418.9,134.3 420,132.3ZM434.6,132.3 434.4,135.3 433.5,138.3 432.2,140 431.2,140.1 430.3,139.3 430.1,138.3 431.2,132.3ZM446,132.3 446.2,134.6 445.2,138 444.2,139 443.2,138.9 442.6,137.3 443.2,133.9 444.1,132.3ZM457.2,133 457.3,136.3 456.2,137.9 455.5,137.3 455.5,135.3 456.2,133.6ZM299.2,134.1 299.9,135.3 299.4,138.3 298.2,140.3 297.2,140.4 296.8,139.3 297.2,136.7 298.2,134.8ZM361.2,133.4 361.9,134.3 361.3,138.3 360.2,140.8 359.2,141.6 358.3,140.3 358.9,137.3 360.2,134.1ZM450.2,149.3 451.1,150.3 451.1,151.3 450.2,153.5 449.2,153.3 449,152.3 449.2,150.8ZM462.2,149.6 463.1,150.3 463.1,151.3 462.2,153.3 461.2,152.9 461.1,152.3 461.2,151.2ZM302.2,179.9 303.2,183.3 302.2,193.1ZM315.2,180.2 315.7,183.3 315.2,192.3 314.7,182.3ZM312.2,213.3 313.2,213.2 313.6,214.3 313.2,216.9 312.2,216.9 311.8,214.3ZM326.2,213.2 326.5,216.3 326.2,216.9 325.2,217.1 324.6,214.3 325.2,213.1ZM338.2,214.1 338.8,215.3 338.2,215.9Z"/><path fill="#6a6aff" fill-rule="evenodd" d="M313.8,132.3 313.6,136.3 312.2,140.8 310.2,143.2 309.2,143.2 308.6,142.3 308.6,139.3 310.2,133.9 311.2,132.3ZM325.9,132.3 325.7,136.3 324.2,141 323.2,142.5 322.2,143.2 321.2,143.2 320.7,140.3 322.2,134.4 323.3,132.3ZM338.2,132.3 337.8,136.3 336.2,141.3 335.2,142.7 334.2,143.3 333.2,143 332.8,141.3 333.2,138.2 335.5,132.3ZM385.7,132.3 385.9,135.3 385.2,138.7 384.2,141.2 382.2,143 381.2,142.6 381,141.3 382.2,135.5 383.9,132.3ZM398.3,132.3 398.3,135.3 397.2,139.6 395.2,142.9 394,143.3 393.2,142.8 393,141.3 394.2,135.4 395.7,132.3ZM410.2,132.3 410.3,135.3 409.2,139.7 408.2,141.7 406.2,143.1 405.3,142.3 405.1,141.3 406.2,136 408.1,132.3ZM421.2,132.3 422.2,134.3 421.3,139.3 420.2,141.4 419.2,142.3 418.2,142.4 417.6,140.3 418.2,136.9 419.2,134.2ZM434.3,132.3 434.2,135.3 433.2,138.3 432.2,139.3 431.2,139.3 430.4,137.3 431.2,133.3 431.8,132.3ZM445.2,132.8 445.6,135.3 445.2,137 444.2,138.1 443.2,137.3 443.2,135.6 444.2,133.3ZM349.2,134 349.7,135.3 349.2,138.3 348.2,140.2 347.2,141 346.4,140.3 346.4,138.3 347.2,135.7 348.2,134.3ZM373.2,134.1 373.5,135.3 373.2,138.3 372.2,140.4 371.2,141 370.5,139.3 370.8,137.3 372.2,134.5ZM361.2,135 361.2,137.5 360.2,139.7 359.2,140.1 359.2,137.4 360.2,135.2Z"/><path fill="#5555ff" fill-rule="evenodd" d="M313.2,132.3 313.5,135.3 312.2,140.1 310.2,142.4 309.2,142.3 308.9,139.3 310.2,134.5 312,132.3ZM325.3,132.3 325.6,135.3 324.2,140.4 322.2,142.5 321.2,142.3 321,139.3 322.2,135 324,132.3ZM337.4,132.3 337.9,134.3 337.2,138.3 336.2,140.7 334.2,142.6 333.2,141.9 333,140.3 334.2,135.4 336.2,132.3ZM385.2,132.5 385.6,134.3 385.2,138 384.2,140.6 383.2,141.9 382.2,142.3 381.3,141.3 382.2,136.1 384.2,132.6ZM397.5,132.3 398.2,134.3 397.2,139 396.2,141.2 395.2,142.3 394.2,142.7 393.2,141.3 394.2,136 396.2,132.4ZM409.2,132.4 410.2,134.3 409.2,139.1 408.2,141.1 407.2,142.1 406.2,142.3 405.6,140.3 406.2,136.7 407.2,134.2ZM433.4,132.3 434,134.3 433.3,137.3 432.2,138.5 431.2,138.4 430.8,137.3 431.2,134.3 432.2,132.6ZM421.2,133.4 421.7,135.3 421.2,138.8 420.2,140.6 419.2,141.5 418.3,141.3 418.1,138.3 419.2,135 420.2,133.8ZM444.2,134.9 444.8,135.3 444.2,136.5ZM348.2,135.6 348.9,136.3 348.2,139 347.2,139.5 347.2,137.3ZM372.2,135.8 373,136.3 372.2,139.2 371.2,139.1 371.2,138.3Z"/><path fill="#4040ff" fill-rule="evenodd" d="M312.2,132.9 313.2,133.6 313.2,136.4 312.2,139.5 310.2,141.7 309.2,141.2 309.2,138.4 310.2,135.2ZM324.2,133 325.2,133.4 325.2,136.9 324.2,139.7 322.2,141.8 321.2,140.9 321.2,139.3 322.2,135.5ZM337.2,133.1 337.6,135.3 337.2,137.6 336.2,140.1 335.2,141.4 334.2,141.8 333.3,140.3 334.2,136 336.2,133.1ZM397.2,133 397.8,135.3 397.2,138.4 396.2,140.6 395.2,141.7 394.2,141.9 393.6,140.3 394.2,136.6 395.2,134.3 396.2,133.2ZM384.2,133.5 385.2,133.8 385.2,137.2 384.2,140 383.2,141.2 382.2,141.5 381.7,140.3 382.1,137.3 383.2,134.4ZM409.2,133.4 409.7,135.3 409.2,138.4 408.2,140.4 407.2,141.4 406.2,141.4 406.2,137.3 407.2,134.8 408.2,133.7ZM433.2,133.4 433.3,136.3 432.2,137.7 431.2,136.4 431.4,135.3 432.2,133.6ZM421.2,134.7 421.2,137.5 420.2,139.8 419.2,140.6 418.4,139.3 419.2,135.9 420.2,134.6Z"/><path fill="#2b2bff" fill-rule="evenodd" d="M312.2,133.8 313,135.3 312.6,137.3 311.2,140.4 310.2,141 309.4,139.3 310.1,136.3 311.2,134.3ZM324.2,133.8 325.1,135.3 324.8,137.3 323.2,140.6 322.2,141.1 321.6,139.3 322.2,136.3 323.2,134.5ZM336.2,133.8 337.2,134.3 337.2,136.6 336.2,139.4 335.2,140.7 334.2,141 333.8,139.3 334.2,136.8 335.2,134.7ZM384.2,134.2 385,135.3 384.2,139.2 383.2,140.5 382.2,140.5 382.2,137.5 383.2,135.1ZM397.2,134 397.3,137.3 396.2,140 395.2,141 394.2,140.9 394.2,137.4 395.2,135 396.2,133.9ZM409.2,134.6 409.2,137.4 408.2,139.7 407.2,140.7 406.2,139.5 407.2,135.6 408.2,134.4ZM420.2,135.7 420.6,136.3 420.3,138.3 419.2,139.3 419.2,137.2Z"/><path fill="#1515ff" fill-rule="evenodd" d="M312.2,134.7 312.5,136.3 312.2,137.8 311.2,139.6 310.2,140.1 310.2,136.9 311.2,135.1ZM324.2,134.7 324.6,136.3 324.2,138.2 323.2,139.8 322.2,140.1 322.2,137.2 323.2,135.2ZM336.2,134.6 336.8,136.3 336.2,138.6 335.2,140 334.2,139.7 334.4,137.3 335.2,135.4ZM384.2,135.2 384.5,136.3 384.2,138.3 383.2,139.6 382.5,138.3 383.2,136ZM396.2,134.7 397,135.3 397.1,136.3 396.2,139.2 395.2,140.3 394.3,139.3 395.2,135.8ZM408.2,135.3 408.8,136.3 408.2,138.8 407.2,139.7 407,137.3Z"/><path fill="#0000ff" fill-rule="evenodd" d="M311.2,136.1 311.7,136.3 311.2,138.6 310.7,138.3ZM323.2,136.2 324,136.3 323.2,138.8 322.7,138.3ZM336.2,135.9 336.2,137.4 335.2,138.9 334.9,138.3 335.2,136.5ZM396.2,135.8 396.2,138.2 395.2,139.3 395.1,137.3Z"/></g><path fill="none" stroke="#2a2a2a" stroke-width="0.45" d="M308.3,132.3 307.8,136.3 305.7,143.3 304.6,148.3 301.2,156.8 300.2,158.4 299.2,158.4 299.1,157.3 302,147.3 302.3,145.3 301.7,142.3 301.8,140.3 302.8,135.3 304,132.3M320.7,132.3 320.1,136.3 317.8,143.3 317.2,147.2 316.2,150.3 313.2,157.7 312.2,157.9 312.2,156.5 314.7,146.3 313.9,143.3 314.1,140.3 316.4,132.3M332.9,132.3 332.2,136.5 329.9,144.3 329.2,149.4 326.2,158.1 325.2,158.6 324.8,158.3 324.6,157.3 326.8,146.3 326.1,144.3 326.2,140.3 328.5,132.3M345.2,132.3 344.2,138 342,144.3 341.2,149 340.2,152.3 338.2,157.5 337.2,157.9 337.2,156.3 339.2,146.3 338.2,144.3 338.2,140.9 340.6,132.3M357.7,132.3 357.3,136.3 356.2,139.8 354.2,143.4 353.2,144.1 352,143.3 351.6,140.3 352.9,135.3 354.3,132.3M369.1,132.3 368.8,135.3 367.2,140.8 366.2,142.9 365.2,143.9 364.2,144 363.2,143 363,140.3 364.2,135.8 365.7,132.3M381.2,132.3 380.2,138 379.2,141.3 378.2,143.5 377.2,144.7 376.2,145.1 375,144.3 374.6,141.3 375.4,137.3 377.1,132.3M393.1,132.3 392.3,137.3 391.2,141 389.2,144.8 388.2,145.4 387.2,145.5 386.1,144.3 386.2,141.3 387.2,136.3 388.6,132.3M405.1,132.3 404.8,135.3 403.2,141.1 401.2,144.7 400.2,145.3 399.2,145.3 398.4,144.3 398.3,142.3 399.2,137.5 400.8,132.3M417.1,132.3 416.9,135.3 415.2,141.1 414.2,143.2 413.2,144.3 412.2,144.9 411.2,144.7 410.9,144.3 410.6,142.3 411.2,138.4 413,132.3M429.1,132.3 428.8,135.3 427.6,139.3 426.2,141.2 425.2,141.5 424.2,141.2 423.6,139.3 423.7,137.3 424.6,132.3M441,132.3 440.7,135.3 439.8,138.3 438.2,140.8 437.2,141.1 436.1,140.3 435.7,138.3 436.8,132.3M452.9,132.3 452.7,135.3 451.8,138.3 450.2,140.6 449.2,140.8 448.2,140.1 447.8,138.3 447.9,136.3 449,132.3M464.5,132.3 464.6,134.3 464.2,136.6 463.2,139.2 462.2,140.1 461.2,140 460.6,139.3 460.2,137.5 460.4,135.3 461.5,132.3M474.9,133.3 475.2,132.7 476.2,132.9 476.5,134.3 476.2,137.3 475.2,138.5 474.2,138.2 473.8,136.3 474.2,134.4M288.4,143.3 289.2,143 289.8,143.3 290.3,144.3 290.3,152.3 289.2,156.6 288.2,154.1 288,144.3M456.9,147.3 457.3,147.3 457.9,148.3 458.1,149.3 457.8,152.3 457.1,154.3 456.2,155.3 455.2,155.4 454.1,154.3 454.2,151.3 455.2,148.7 456.2,147.4M442.9,148.3 443.2,147.8 444.2,147.5 444.9,148.3 445.2,149.3 445.2,151.3 444.2,154.3 443.2,155.2 442.2,155.2 441.5,154.3 441.3,152.3 442.2,149.3M469,148.3 469.2,147.9 470.2,147.7 471,149.3 470.4,153.3 469.2,155 468.2,154.9 467.4,153.3 467.9,150.3M481.9,150.3 482.2,149.6 483,150.3 483.1,151.3 482.2,153.5 481.3,152.3M431.1,151.3 431.2,151.7M347,160.3 347.2,160 348.2,160.2 348.6,161.3 348.2,164.3 347.2,165 346.2,164.3 346,163.3 346.2,161.6M360,160.3 360.2,160 361.2,160.6 361.5,162.3 361.2,163.7 360.2,164.9 359.2,164.5 358.9,163.3 359.1,161.3M372.9,160.3 373.2,160 373.8,160.3 374.4,161.3 374.3,163.3 373.2,165 372.2,164.8 371.8,163.3 372.1,161.3M307.1,173.3 307.2,172.8 308.2,173.3 309.2,176.2 310.5,182.3 310.4,192.3 309.2,197.4 308.2,199 307.5,198.3 307.3,196.3M295,174.3 295.2,173.8 296.2,175.7 297.4,180.3 297.8,183.3 297.5,192.3 296.2,196.9 295.2,198.9 294.6,198.3 294.8,191.3 294.6,177.3M320.1,174.3 320.2,173.8 321.2,175.3 322.9,182.3 323,192.3 322.2,196.3 321.2,199.3 320.3,198.3 320.7,191.3 319.9,179.3M319.1,211.3 320.2,211.1 321.2,212.3 321.5,215.3 321.3,217.3 320.2,219.1 319.2,219.3 318.1,218.3 317.4,215.3 317.7,213.3 318.1,212.3M331.7,211.3 332.2,211 333.5,211.3 334.2,212.7 334.4,214.3 334.2,217.4 333.2,219.1 332.2,219.3 331,218.3 330.3,215.3 330.4,213.3 330.8,212.3M312.7,235.3 313.2,234.7 314.2,235 314.8,237.3 314.2,240 313.2,240.3 312.2,238.3 312.3,236.3M324.8,235.3 325.2,234.7 326.2,234.9 326.8,236.3 326.8,238.3 326.2,240.1 325.2,240.3 324.3,238.3 324.4,236.3"/><path fill="none" stroke="#2a2a2a" stroke-width="0.45" stroke-dasharray="1.6 0.9" d="M298.8,132.3 297.2,134.5 295.8,138.3 295.7,141.3 297,143.3 297,144.3 295.2,151.4 295,154.3 295.2,154.8 297.7,149.3 299.2,143.8 299.7,140.3 300.4,138.3 300.7,134.3 300.3,132.3M310.1,132.3 308.1,139.3 307.7,143.3 308.7,146.3 308.6,147.3 306.2,156.2 306.2,158.1 307.2,157.6 310.2,150.1 311.2,146.8 311.8,143.3 314,136.3 314.6,132.3M322.4,132.3 320.1,140.3 320,144.3 321.4,146.3 320.1,153.3 320.2,155.9 323.2,147.7 323.5,144.3 325.6,138.3 326.8,132.3M334.6,132.3 333.2,136.5 332.2,141.3 332.2,144.3 333.6,146.3 332.7,154.3 333.2,155.2 335.2,149 335.7,144.3 338.2,136.7 338.9,132.3M347.8,132.3 346.2,136 345.2,140.2 345.2,142.7 346.2,143.8 347.2,143.5 348.2,142.3 349.2,140.5 350.6,136.3 350.8,132.3M360.5,132.3 359.2,135 357.7,140.3 357.6,142.3 358.2,143.2 359.2,143.2 360.2,142.1 361.2,139.9 362.5,135.3 362.5,132.3M372,132.3 370.2,136.4 369.2,140.3 369.3,142.3 370.2,143.6 371.2,143.5 372.2,142.6 373.2,140.2 374.2,136.7 374.6,134.3 374.5,132.3M382.9,132.3 381.2,137.5 380.3,142.3 380.5,144.3 381.2,145.1 382.2,145 383.2,144.2 384.2,142.6 386.2,136.5 386.6,132.3M394.7,132.3 393.2,137.3 392.2,142.3 392.3,144.3 393.2,145.3 394.2,145.2 395.2,144.7 397.2,140.9 398.3,137.3 399,132.3M406.9,132.3 405.2,138 404.4,142.3 404.6,144.3 405.2,145 406.2,145.1 407.2,144.5 408.2,143.2 409.2,141.1 410.8,135.3 411.1,132.3M419.2,132.3 417.2,138.8 416.7,142.3 417.2,144.3 418.2,144.6 420.2,143.3 421.3,141.3 422.2,138.2 422.9,132.3M430.8,132.3 429.6,138.3 429.9,140.3 430.2,140.8 431.2,141.3 432.2,141.1 433.2,139.9 433.9,138.3 434.9,134.3 435.1,132.3M443.1,132.3 442,138.3 442.2,139.5 443.2,140.5 444.2,140.3 445.6,138.3 446.4,135.3 446.7,132.3M455.7,132.3 455.2,133.2 454.4,137.3 455.2,139.6 456.2,139.7 457.2,138.5 458.2,135.2 458.3,132.3M468.2,133 467.1,136.3 467.2,137.6 468.2,138.5 469.2,137.8 469.8,135.3 469.2,132.3M450.2,147.6 449.2,148.9 448.2,152.3 448.5,154.3 449.2,155.2 450.2,155.1 451.2,153.8 451.8,151.3 451.6,148.3 451.2,147.6M462.2,148.1 461.2,149.4 460.2,152.3 460.5,154.3 461.2,154.9 462.2,154.8 463.2,153.8 464,151.3 464,149.3 463.2,147.7M437.2,148.6 436.2,149.9 435.8,151.3 435.8,153.3 436.2,154.3 437.2,154.2 438.3,152.3 438.2,148.9M475.2,149.2 474.2,151.1 474,152.3 474.2,153.4 475.2,154 476.3,152.3 476.5,150.3 476.2,149.1M353.2,160.2 352.2,161.8 352,163.3 352.4,164.3 353.2,164.9 354.2,164.3 354.7,162.3 354.3,160.3M367.2,159.9 366.2,161 365.8,163.3 366.2,164.7 367.2,165 368.2,163.6 368.4,162.3 368.2,160.7M341.2,160.6 340.2,161.7 340.1,163.3 340.2,163.8 341.2,164.3 342.1,162.3 341.9,161.3M301.2,173.8 300.8,177.3 300.9,196.3 301.2,198.4 302.2,197.2 303.6,192.3 304,183.3 303.2,178.4 302.2,175.2M314.2,173.9 313.7,175.3 313.5,177.3 314.2,198.3 315.2,198.4 316.6,192.3 316.6,182.3 315.2,176.1M289.2,177.6 289,181.3 289.2,196 289.6,194.3 290.2,193.6 290.7,191.3 291,183.3 290.2,178.9M328.2,178.3 327.9,180.3 327.9,195.3 328.2,197.2 329.4,193.3 329.6,191.3 329.5,182.3 329.2,180.7M312.2,212 311.1,213.3 310.8,216.3 311.8,218.3 312.2,218.7 313.2,218.7 314.2,217.3 314.6,215.3 314.4,213.3 314,212.3 313.2,211.7M325.2,211.7 324.2,212.6 323.8,215.3 324.2,217.7 325.2,218.9 326.2,218.7 327.2,217.3 327.5,215.3 326.9,212.3 326.2,211.5M338.2,211.8 337.2,212.9 336.9,215.3 337.2,217.2 338.2,218.4 339.2,218.1 339.7,217.3 340.2,215.3 340,213.3 339.5,212.3M306.2,214.2 306.2,215.8 307.2,215.5 307.2,214.8M307.2,234.6 306.2,236 306,237.3 306.2,238.9 307.2,240.4 308.2,239.9 308.7,237.3 308.2,235.1M319.2,234.7 318.3,236.3 318.1,237.3 318.5,239.3 319.2,240.4 320.2,240 320.8,237.3 320.2,235M331.2,235.5 330.7,237.3 331.2,239.5 332.2,239.3 332.5,237.3 332.2,235.8"/><path fill="none" stroke="#2a2a2a" stroke-width="0.45" d="M317.5,133.3 318.2,132.5 319.2,132.8 319.5,134.3 319.4,136.3 318.2,140 317.2,141.5 316.2,142.1 315.2,141.6 315.1,139.3 316.2,135.1M329.6,133.3 330.2,132.6 331.2,132.6 331.6,134.3 331.5,136.3 330.2,140.2 329.2,141.6 328.2,142.1 327.2,141.4 327.2,139.3 328.2,135.4M341.7,133.3 342.2,132.7 343.2,132.5 343.9,134.3 343.7,136.3 343.2,138.4 342.2,140.5 341.2,141.7 340.2,142.2 339.3,141.3 339.3,139.3 340.2,135.8M378.8,133.3 379.2,132.9 379.7,133.3 380.2,134.3 379.2,139.2 378.2,141.2 377.2,141.9 376.2,141.3 376.2,137.8 377.2,135.1M391.4,132.3 392.1,134.3 391.2,138.9 390.2,141.2 389.2,142.3 388.2,142.6 387.2,141.3 387.3,139.3 388,136.3 389.2,133.7 390.6,132.3M402,133.3 403.2,132.4 403.8,133.3 404.1,135.3 403.2,139 402.2,141 401.2,142.1 400.2,142.3 399.6,141.3 399.8,138.3 401.2,134.2M427.4,132.3 427.8,133.3 427.8,135.3 427.2,137.4 426.2,138.5 425.1,138.3 424.8,136.3 425.2,134.1 426.2,132.5 426.6,132.3M304.9,134.3 306.2,133.4 307,134.3 307,135.3 306.2,138.7 305.2,140.5 304.2,141.3 303.2,140.6 303.2,138.3 304.2,135.3M413.8,134.3 414.2,133.8 415.2,133.4 415.7,134.3 415.8,135.3 415.2,138.6 414.2,140.6 413.2,141.5 412.2,141.3 412,139.3 412.4,137.3 413.2,135M437.8,134.3 438.2,133.7 439.2,133.5 439.5,134.3 439.2,136.4 438.2,137.6 437.7,137.3 437.2,136.3M355.2,135.3 355.8,136.3 355.2,138.9 354.2,139.7 353.8,138.3 354,137.3M450,135.3 450.2,134.6 451.2,135.2 450.2,136.8M365.8,136.3 366.2,135.6 367.2,135.8 367.2,136.9 366.2,139.4 365.2,139.5 365.2,137.6"/><path fill="none" stroke="#2a2a2a" stroke-width="0.45" stroke-dasharray="1.6 0.9" d="M312.2,132.5 310.2,134.8 309.1,138.3 309.2,141.8 310.2,142.1 311.2,141.4 312.2,139.8 313.2,136.9 313.3,133.3 313.2,132.9M324.2,132.5 323.2,133.5 322.2,135.2 321.2,138.8 321.2,141.7 322.2,142.2 323.2,141.5 324.2,140 325.2,137.3 325.5,135.3 325.2,132.7M336.2,132.7 335.2,133.7 334.2,135.7 333.3,139.3 333.2,141.3 334.2,142.2 335.2,141.7 336.2,140.4 337.4,137.3 337.7,134.3 337.2,132.5M384.2,133.1 383.2,134.1 382,137.3 381.5,140.3 381.7,141.3 382.2,141.9 383.2,141.6 384.2,140.3 385.3,137.3 385.5,135.3 385.2,133.3M396.2,132.8 395.2,134 393.9,137.3 393.4,140.3 393.5,141.3 394.2,142.3 395.2,142 396.2,140.9 397.5,137.3 398,134.3 397.7,133.3 397.2,132.4M409.2,132.9 408.2,133.3 407.2,134.5 406.2,137 405.7,140.3 406.2,141.8 407.2,141.8 408.2,140.8 409.2,138.7 409.9,135.3 409.9,134.3M432.2,133.1 431.2,134.9 431,136.3 431.2,137.7 432.2,138.1 433.2,137 433.8,134.3 433.2,132.7M420.2,134.2 419.2,135.4 418.2,138.6 418.2,140.4 419.2,141 420.2,140.2 421.4,137.3 421.2,134M348.2,136.8 348.2,137.8M372.2,136.9 372.2,138.1"/>
</g>
<rect x="270.20" y="133.30" width="229.60" height="111.70" fill="none" stroke="#c8c8c8" stroke-width="0.7"/>
<rect x="270.20" y="133.30" width="24.5" height="12" fill="#fff"/>
<text x="272.10" y="143.00" font-size="7.1" font-weight="bold" fill="#1a1a1a">(d): E4</text>
<text x="270.20" y="254.90" font-size="7" fill="#262626" text-anchor="middle">17/Oct/5</text>
<text x="291.06" y="254.90" font-size="7" fill="#262626" text-anchor="middle">7</text>
<text x="311.92" y="254.90" font-size="7" fill="#262626" text-anchor="middle">9</text>
<text x="332.78" y="254.90" font-size="7" fill="#262626" text-anchor="middle">11</text>
<text x="353.64" y="254.90" font-size="7" fill="#262626" text-anchor="middle">13</text>
<text x="374.50" y="254.90" font-size="7" fill="#262626" text-anchor="middle">15</text>
<text x="395.36" y="254.90" font-size="7" fill="#262626" text-anchor="middle">17</text>
<text x="416.22" y="254.90" font-size="7" fill="#262626" text-anchor="middle">19</text>
<text x="437.08" y="254.90" font-size="7" fill="#262626" text-anchor="middle">21</text>
<text x="457.94" y="254.90" font-size="7" fill="#262626" text-anchor="middle">23</text>
<text x="478.80" y="254.90" font-size="7" fill="#262626" text-anchor="middle">25</text>
<g clip-path="url(#clipe)">
<g filter="url(#pb)"><path fill="#ffeaea" fill-rule="evenodd" d="M58.5,257.3 60,260.4 60.6,264.3 59.5,268.3 56.1,273.3 56,275.3 57.4,281.3 56.8,285.3 54,288.6 49.5,291.3 45,294.8 42,295.7 40,295.3 39,294.2 38.5,292.3 41.8,285.3 42.3,281.3 42.2,272.3 45.6,259.3 46.9,257.3ZM93.6,257.3 94,263.3 93.6,267.3 92.1,271.3 88.3,276.3 88.5,282.3 87.7,285.3 85,288.3 80.1,291.3 77.8,294.3 70.5,312.3 68.5,320.3 64.8,328.3 64.8,331.3 67.9,340.3 71,343.5 73.5,347.3 74,349.3 74.2,355.3 73.5,359.3 71,364.9 68,367 64,367 61.4,365.3 59.9,362.3 59.9,359.3 61.3,348.3 55.2,339.3 52.1,330.3 52.3,327.3 54.7,320.3 55.6,312.3 59,303.6 62,297.7 66,292.6 71,288.4 72.6,286.3 73.4,283.3 73.4,276.3 77.7,268.3 79,257.3ZM129.3,257.3 129,267.3 128,272.7 126,275 120.5,278.3 119.1,284.3 118.1,286.3 116,288.2 112.5,290.3 110.6,292.3 103.6,309.3 93,328.3 92.9,331.3 96,340.7 101,344.3 104.1,347.3 105,349.3 105.8,354.3 105.5,358.3 102,364.9 99,367 95,367 92.4,365.3 91.1,362.3 92.5,349.3 92.3,347.3 88,344.3 83.9,340.3 80.5,331.3 80.4,328.3 84,320.3 86.6,313.3 96,293.8 97.8,291.3 103.3,286.3 104.2,284.3 105.4,278.3 111.1,272.3 111.8,269.3 112.3,260.3 112.9,257.3ZM161.5,257.3 161,269 160.2,273.3 158,275.3 151.6,278.3 151,279.5 150.3,284.3 149,286.4 147,287.9 141.4,290.3 140.4,291.3 134,308.9 132,311.3 127,315.4 120.9,326.3 119.9,330.3 122.9,339.3 123,342.7 122,343.7 119,344.2 115,344.2 112,343.6 111.1,342.3 109.4,336.3 106.9,330.3 106.8,328.3 107.5,326.3 114.2,315.3 119.2,310.3 123.4,299.3 127,292.3 134.8,286.3 136.3,280.3 137.6,278.3 144.4,274.3 145.1,272.3 146.3,257.3ZM194.5,257.3 193.9,272.3 193,274.3 183.8,277.3 182.3,278.3 181.7,284.3 180,287 177,288.4 171,289.4 169.3,290.3 167,295.6 165.4,305.3 164.3,308.3 162,310.3 155.4,313.3 154.7,314.3 154.1,319.3 150.6,326.3 149.6,329.3 149.8,332.3 152.4,340.3 152.2,342.3 151.2,343.3 147,344.8 143,345.5 141,345.1 140,344.1 138.6,338.3 135.7,331.3 135.8,328.3 137,325.4 142.5,316.3 145,313.9 149.9,311.3 150.7,310.3 151.6,302.3 154,296.4 156,293.5 158.3,291.3 166.5,287.3 167.4,285.3 168,280.5 168.6,279.3 171.9,277.3 176.6,275.3 177.5,274.3 177.9,263.3 178.7,257.3ZM213.7,257.3 226.9,257.3 227.4,261.3 226.9,269.3 226.5,271.3 225,273.4 222,274.9 218,275.6 216,275.2 213.8,273.3 212.5,270.3 212.1,266.3 212.5,262.3ZM250.5,257.3 260,257.3 260,261.5 257,262.9 254,262.7 252,261.6 251,260.3ZM232,276.9 235,275.7 238,275.4 240,275.7 242,277.1 243.2,280.3 243.3,284.3 242.5,287.3 241,289 239,289.9 236,290 233,289 231.2,287.3 230.4,285.3 230.2,281.3 230.8,278.3ZM211,279.1 211.9,281.3 212.1,283.3 211.7,285.3 210,287.1 208,288 204,288.9 200,288.8 198.7,288.3 198.5,282.3 199.2,279.3 203,277.7 207,277 209,277.4ZM197,289.8 197.4,291.3 195.1,296.3 195.2,304.3 194.2,307.3 192,308.9 189,309.8 186,309.6 184,308.6 182.2,306.3 181.6,303.3 181.8,299.3 183,296.3 186,293.6 190.1,291.3 194,289.9ZM217,293.9 219,294.4 221,296.3 221.9,299.3 221.8,303.3 220.7,308.3 216.3,314.3 215.3,319.3 210.6,329.3 210.8,331.3 214,341.3 216.3,344.3 217.5,347.3 215.3,363.3 214.8,364.3 213,365.9 210,366.5 207,365.2 205.2,362.3 206.6,347.3 204,344.4 201.8,340.3 198.4,329.3 199,326.9 204.6,315.3 208.6,310.3 211,298 212,296.5 214,294.8ZM246,294.3 248.6,295.3 250.4,297.3 251.4,300.3 251.6,303.3 250.9,306.3 249.9,308.3 244,313.3 242.7,319.3 237.9,329.3 238.2,331.3 241.4,341.3 244.4,345.3 245.2,348.3 243,363.3 241,365.8 239,366.8 237,367 234,365.8 232.1,363.3 231.8,360.3 233.5,346.3 230.7,341.3 227,329.3 228,326.3 233.6,315.3 238,311.3 238.4,310.3 238.4,302.3 240,297.5 243,294.7ZM37,297.5 39,298.2 40,299.3 41,302.1 41.1,305.3 38.6,319.3 34.8,328.3 34.6,330.3 38,340.3 40,342.3 42.1,345.3 42.8,347.3 42.9,349.3 40.8,363.3 40,364.8 38.4,366.3 35,367.3 33,367 31,365.9 29.6,364.3 28.6,361.3 30.3,348.3 30,347 28,345.7 28,301.5 32,298.5 34,297.8ZM180,311.8 182,311.9 184,313 185.6,315.3 186,317.3 185.2,320.3 180.9,329.3 181.2,331.3 183.7,339.3 184,342.3 183,344.4 180,345.1 174.8,344.3 172.7,343.3 171.9,342.3 167.9,329.3 168.7,326.3 174.3,315.3 177,312.7ZM260,315.9 260,342.5 257.7,340.3 256.3,338.3 253.6,329.3 254.1,327.3ZM137.7,345.3 138.3,346.3 138.3,348.3 136,363.3 134.6,365.3 133,366.4 131,367 128,366.4 125.6,364.3 124.7,361.3 126.8,347.3 128.1,346.3 131.8,345.3 135,344.9ZM158,345.5 162,345.6 165.1,346.3 166.2,347.3 166.4,348.3 164,363.3 162,365.6 159,366.5 157,366.1 155,364.7 154.1,363.3 153.8,361.3 156,346.3Z"/><path fill="#ffd4d4" fill-rule="evenodd" d="M91.8,257.3 93.1,261.3 93.2,266.3 92.3,269.3 91.1,271.3 86.9,275.3 87.9,281.3 87.5,284.3 85,287.5 78,290.3 77,291.3 75.2,295.3 72.5,305.3 69,313.3 67.6,319.3 62.5,329.3 65.4,339.3 65.7,343.3 69,343.6 70.1,344.3 71.4,346.3 72.6,355.3 71.7,359.3 69.1,363.3 67,364.6 65,364.6 63,363.2 62.1,360.3 62.2,355.3 64.4,345.3 64,344.6 61,344.5 59,342.9 54.2,329.3 55.9,321.3 56.6,312.3 58.7,306.3 62,299.8 65,296 73.5,287.3 74.7,277.3 78.7,270.3 80.2,260.3 81,259.2 84,257.3ZM128.4,257.3 128.6,266.3 127.3,272.3 125,274.6 119.8,277.3 119,279 118.6,283.3 117,286.3 115,287.9 111,289.7 109.3,291.3 103,308.3 99,314.9 97,319.3 91.3,328.3 90.9,330.3 93.9,341.3 93.1,343.3 92,344.3 90,344.5 88,343.2 85.7,340.3 82,329.3 82.3,327.3 86.8,315.3 94,299.4 97.8,293.3 104.4,286.3 106.5,278.3 111.5,274.3 112.1,273.3 113,261.3 114.3,257.3ZM160.6,257.3 160.8,266.3 159.7,272.3 157,275 150.3,277.3 149.8,278.3 149.6,283.3 147.8,286.3 145,288 139,289.1 138,289.8 137,298.3 134,306.9 131.5,310.3 125.1,315.3 123.6,319.3 119,328.3 118.7,331.3 121.2,339.3 121.2,342.3 119,343.5 114,343.2 112.8,342.3 110.3,335.3 107.8,330.3 107.6,328.3 108.7,325.3 115.8,315.3 120.4,311.3 123,302.3 127,294.9 130.1,291.3 135.7,288.3 136.5,287.3 137.1,281.3 138.1,279.3 140,277.8 145.3,275.3 145.9,274.3 146.1,263.3 147.2,257.3ZM179.7,257.3 193.1,257.3 193.7,262.3 193.3,269.3 192.6,272.3 191,274.1 185,276 182,275.9 180,275.1 178.7,272.3 178.2,268.3 178.6,262.3ZM215.7,257.3 224.2,257.3 225.6,260.3 226.1,264.3 225.4,269.3 223.7,272.3 222,273.6 220,274.3 218,274.5 216,273.8 214,271.6 213.1,269.3 212.8,266.3 213.1,263.3ZM252.3,258.3 252.3,257.3 259.4,257.3 259.5,258.3 258.6,260.3 256,261.4 254,261 253.1,260.3ZM54,259 57,260.8 58.2,263.3 58.1,265.3 57.4,267.3 52.9,272.3 53.3,274.3 56.3,279.3 56.7,282.3 56.3,284.3 55,286.6 53,288.1 44,291.5 43,291.6 42.1,290.3 43.6,278.3 45.8,271.3 47.8,262.3 48.7,260.3 50,259.2 52,258.7ZM179,276.7 180.2,278.3 181,281.3 180.9,283.3 180,285.4 178,287 175,287.8 172,287.5 170,286.4 169.1,284.3 169,282.3 169.7,280.3 170.5,279.3 175,277ZM200.8,280.3 201.8,279.3 204,278.4 206,278 208,278.3 210.3,280.3 210.9,282.3 210.5,284.3 209.9,285.3 208,286.7 205,287.4 203,287 201,285.8 200.2,284.3 200.1,282.3ZM234,278.4 236,277.6 238,277.7 240.6,279.3 241.5,281.3 241.6,283.3 241,285.1 240,286.4 238,287.4 236,287.4 233,285.8 232,283.7 232,281.3 232.9,279.3ZM164,291.2 165,293 165.4,298.3 164.8,303.3 163.7,306.3 162,308.3 159,310 156,310.4 154,309.8 152.7,308.3 152.1,305.3 152.5,302.3 153.6,299.3 155,297 158,294.2 162,291.5ZM189,294.9 191,295.2 193,297 193.9,299.3 194.1,302.3 193.7,304.3 192.3,306.3 190,307.5 188,307.7 186,307.1 184,305.6 182.9,303.3 182.7,301.3 183.1,299.3 184.2,297.3 186,295.8ZM217,297.3 218,297.7 219.4,299.3 220,301.3 219.9,304.3 219.3,306.3 218,308.3 216,309.7 214,310 212.7,309.3 211.5,307.3 211.2,305.3 211.5,302.3 212.1,300.3 213.6,298.3 215,297.4ZM245,298.2 247,298.9 248,300.3 248.5,302.3 248.4,304.3 247.6,306.3 246,308.1 244,308.8 243,308.7 242,308.1 241,306.6 240.6,303.3 242,299.9 243,298.9ZM35,300.5 37,300.9 39,302.8 39.8,305.3 39.7,308.3 37.5,318.3 32.1,328.3 31.8,330.3 34.8,339.3 35,343 39,344 40.2,345.3 40.7,347.3 38.4,362.3 37,364.1 35,364.7 33.5,364.3 32.2,363.3 31.3,361.3 33.5,344.3 30.1,343.3 28,340.2 28,305.3 31,302.1 33,300.9ZM150,313.9 151.8,315.3 152.5,317.3 152.3,319.3 149.5,325.3 148.1,330.3 148.4,333.3 150.3,339.3 150.5,341.3 148.9,343.3 146,344.3 144,344.4 142.2,343.3 139.8,337.3 136.8,331.3 136.7,328.3 138,325.5 145,315.5 147,314.1ZM180,314.3 182.5,315.3 183.2,316.3 183.7,318.3 178.5,329.3 181.7,341.3 180.7,343.3 178,343.9 175.8,343.3 174.1,341.3 170.8,331.3 170.4,328.3 176.7,316.3 178,315ZM211,314.5 212,315 212.9,316.3 213.1,318.3 207.8,329.3 211,341.3 210,343.3 208,344 206.1,343.3 205,341.8 201.4,331.3 201,328.3 207.4,316.3 209,314.9ZM238,315.9 239.4,316.3 240.1,318.3 234.7,329.3 237.9,340.3 237.4,342.3 236,342.9 235,342.6 233.9,341.3 230,329.3 231,326.3 235.9,317.3ZM98,343.8 100.9,345.3 102.4,347.3 104.3,356.3 103.2,359.3 100.1,363.3 99,364.2 97,364.7 95,364.1 94,363.1 93.3,361.3 93.3,358.3 95.3,346.3 96.5,344.3ZM240,344 242,345.3 242.6,347.3 241,359.3 240,362.7 239,363.6 237,364 235.6,363.3 234.5,361.3 236,349 237,345.2 238,344.1ZM213,345.2 214,345.8 214.5,347.3 213,359.3 212,362.3 210,362.8 209,362.2 208.5,360.3 210,349 211,345.8 212,345.1ZM134,346.1 135,346.4 135.5,348.3 133.6,361.3 132.4,363.3 130,364 128.6,363.3 127.5,361.3 129.2,348.3 129.6,347.3 131,346.4ZM161,346.8 162.5,347.3 162.9,349.3 161,361.3 160,362.6 159,362.9 158,362.6 157,361.3 157,359.3 158.7,348.3 159.1,347.3Z"/><path fill="#ffbfbf" fill-rule="evenodd" d="M89,257.5 91,258.6 92,260.3 92.7,263.3 92.3,267.3 91.5,269.3 90,271.3 88,272.6 85,273.1 83,271.8 81.5,269.3 81,266.3 81.5,262.3 82.9,260.3 87,257.7ZM127.4,257.3 128.3,265.3 127.8,269.3 127,271.5 125,273.7 118.8,276.3 118,277.1 117.8,283.3 116,286.2 114,287.5 108,289.3 107.4,290.3 105.2,300.3 102.5,307.3 98.2,314.3 95.8,319.3 89.2,328.3 88.8,330.3 91.7,340.3 91,342.3 89.1,342.3 87.8,340.3 84.2,330.3 84,328.3 87.8,315.3 91.9,305.3 95,299.4 100,292.3 105.7,287.3 106.4,281.3 107.1,279.3 109,277.3 112.9,275.3 113.7,274.3 113.2,268.3 113.4,263.3 114,260.3 115.6,257.3ZM148.2,257.3 159.6,257.3 160.5,263.3 160,269.3 158.8,272.3 156,274.6 153,275.5 149,275.5 148,275 147.1,273.3 146.4,270.3 146.3,265.3 146.8,261.3ZM180.8,257.3 191.8,257.3 193,262.3 192.8,268.3 191.4,272.3 189,274.1 186,275.1 184,275.1 181,273.9 179.7,272.3 178.8,269.3 178.7,265.3 179.3,261.3ZM217.8,257.3 222,257.5 224.3,260.3 225.1,263.3 224.9,267.3 223.7,270.3 222,272.3 219,273.4 217,273.1 215,271.5 213.5,267.3 214.1,262.3 216,259.1ZM253.7,257.3 257.9,257.3 257.8,259.3 256.1,260.3 255,260.2 253.8,259.3ZM52,262.2 53,262.4 54,264.3 53.6,265.3 52,266.4 51,266.3 50.7,265.3 51,263.3ZM48,274.9 50,275 53,276.5 55,278.7 56,281.3 55.9,283.3 55,285.4 53,287.1 50,288.2 46,287.7 45,286.9 44.3,285.3 44.2,281.3 45,278.3 46,276.5ZM79,274.9 82,274.8 84,275.4 86,277.7 87.2,281.3 86.8,284.3 85.4,286.3 83,287.8 80,288.4 77,288 76,287.5 75.1,284.3 75.3,280.3 76,277.7 77,276.2ZM147,276.8 148.2,278.3 149,281.3 148.8,283.3 147.7,285.3 146,286.7 144,287.4 141,287.4 139,286.4 138.3,285.3 137.9,283.3 138.2,281.3 139,279.8 140.7,278.3 143,277.3ZM174,278.3 176,277.8 178,278.1 179.8,280.3 180.1,282.3 179.6,284.3 177,286.4 175,286.8 173,286.5 171.2,285.3 170.6,284.3 170.3,282.3 171,280.5 172.1,279.3ZM202.6,280.3 205,279.1 208,279.5 209.5,281.3 209.6,283.3 209.2,284.3 208,285.4 206,286.1 203,285.4 201.6,283.3 201.8,281.3ZM234.7,280.3 237,279.5 239,280.4 239.8,282.3 239,284.6 237,285.5 235.7,285.3 234.3,284.3 233.7,282.3ZM134.4,291.3 135,291.6 135.8,293.3 136.2,296.3 135.7,300.3 133.9,305.3 132,308.4 129,311 126,312.3 123.6,312.3 122.5,310.3 122.4,307.3 123.1,304.3 124.7,300.3 127,296.7 131,292.5 133,291.3ZM72,292.8 72.6,293.3 72.9,298.3 71.9,304.3 67.9,313.3 66.2,319.3 61.6,326.3 60.1,329.3 60.4,331.3 63.2,340.3 63,341.5 62,342.1 61,341.7 60,339.8 56.5,329.3 57.7,322.3 57.3,315.3 57.6,312.3 59.9,305.3 63,300 66,296.8ZM162,294.8 163.6,296.3 164.4,299.3 164.2,302.3 163.1,305.3 161.4,307.3 159,308.7 157,309 155,308.4 153.8,307.3 153.1,305.3 153.1,303.3 154,300.3 157,296.5 160,295ZM186,297.4 189,296.5 191,297.2 192.1,298.3 193,300.3 193.1,302.3 192.4,304.3 191,305.6 188,306.3 186,305.6 184.6,304.3 183.9,302.3 183.9,300.3 184.9,298.3ZM216,300 217,300.3 217.8,301.3 218.1,303.3 217,306.1 215,307.1 214,306.7 213.1,305.3 213,303.3 214,301ZM36,302.5 37.3,303.3 38.5,305.3 38.8,307.3 38.4,310.3 36,318.6 33,322 31,323.2 28,315.1 28,308.5 29.8,305.3 32,303.2 34,302.4ZM244,303 245,302.9 245,304 244,304.3ZM121,314.2 122,314.6 122.4,315.3 122.4,318.3 119.8,323.3 117.3,330.3 117.7,333.3 119.6,339.3 119.8,341.3 119,342.4 116,342.8 114.7,342.3 114,341.3 111.4,334.3 108.7,330.3 108.5,327.3 110,324.4 114,320.3 117,315.9 119,314.5ZM148,315.3 150,316 150.9,318.3 148.3,324.3 146.9,330.3 147.1,334.3 148.8,341.3 148.3,342.3 147,343.1 145,343.4 143.5,342.3 141,336.3 137.8,331.3 137.4,329.3 138.5,326.3 142.7,321.3 146,316.3ZM180,316.9 181,317.5 181,319.3 176.6,327.3 176,329.3 179.2,340.3 179,341.5 178,342 177,341.6 176,339.8 172.7,329.3 173.3,327.3 178,318.5 179,317.2ZM37,345.9 37.9,346.3 38.3,347.3 36.5,360.3 36,361.6 35,362.1 33.8,361.3 34,357.2 35.6,347.3 36,346.3ZM68,345.9 69,346.3 69.9,350.3 71.4,354.3 71.5,356.3 70.9,358.3 69,361 67,362.5 66,362.6 65,362.3 64,360.9 63.4,358.3 63.4,355.3 67,346.3ZM99,346 100.3,347.3 101.1,350.3 103,354.3 103.2,356.3 102.5,358.3 101,360.2 99,361.9 97,362.5 96,362.1 95.1,360.3 94.8,355.3 98,346.3Z"/><path fill="#ffaaaa" fill-rule="evenodd" d="M126.5,257.3 127.4,260.3 127.9,264.3 127.5,268.3 126.4,271.3 125,272.9 123,274.1 120,274.9 117,274.8 115,272.7 114,269.3 114,263.5 115,260 116.8,257.3ZM149.1,257.3 158.6,257.3 159.3,259.3 160.1,264.3 159.5,269.3 158,272.3 155,274.3 152,274.7 150,274.4 148.3,273.3 147.3,271.3 146.7,267.3 146.9,263.3 147.6,260.3ZM181.9,257.3 190.6,257.3 192,260.3 192.5,265.3 191.6,270.3 190,272.5 187,274.1 184,274.2 182,273.4 180.7,272.3 179.7,270.3 179.2,267.3 179.4,263.3 180.2,260.3ZM89,259 90,259.4 91.5,261.3 92.1,263.3 91.9,266.3 91.3,268.3 90,270.2 88,271.4 86,271.5 84.1,270.3 83,268.3 82.6,266.3 82.9,263.3 85.1,260.3 87,259.2ZM220,258.4 222,259.2 223.6,261.3 224.2,263.3 224.2,266.3 223.3,269.3 222,271 220,272.3 218,272.4 216,271.3 214.7,269.3 214.2,267.3 214.3,264.3 215,262.1 217,259.5 218,258.8ZM48,277.1 50,276.8 52,277.3 54,278.8 54.9,280.3 55.3,282.3 54.8,284.3 54,285.4 52,286.7 50,287.1 48,286.8 46,285.5 45.4,284.3 45.5,280.3 46.5,278.3ZM78,277.4 80,276.6 82,276.5 85,278 86.4,280.3 86.6,282.3 86.1,284.3 85,285.8 83,287 81,287.4 79,287.2 77,285.9 76.2,284.3 76.1,281.3 76.6,279.3ZM115,277 116.4,278.3 117.2,280.3 117.3,282.3 116.7,284.3 114,286.7 111,287.3 109,287 108,286.2 107.2,284.3 107.2,282.3 108,279.8 111,277.4 113,276.8ZM145,277.9 147,278.7 147.9,280.3 148.2,282.3 147.5,284.3 145,286.3 143,286.7 141,286.3 139.2,284.3 139.2,281.3 141,279.1 143,278.1ZM173.9,279.3 177,278.9 178.7,280.3 179,283.3 177,285.5 174,285.7 172,284.2 171.6,283.3 171.8,281.3ZM204,280.9 205,280.3 207,280.3 208.1,281.3 208.4,282.3 208,283.7 206,284.9 204,284.3 203.2,282.3ZM104.1,291.3 105.1,292.3 105,296.3 104,301.3 102.1,306.3 97.1,314.3 94.5,319.3 89,324.6 88,324.6 87.8,321.3 88.6,316.3 93.1,304.3 95,300.8 98,296.7 102,292.2ZM133,293.9 134,294.5 135,297.3 134.9,300.3 133.6,304.3 132,307 130,309.1 127,310.6 125,310.5 123.8,309.3 123.4,307.3 123.9,304.3 125,301.3 127,298.2 131,294.5ZM70,297 71,297.9 71.5,300.3 70.6,305.3 66.8,313.3 65.3,318.3 63,321 61,322 60,320.8 58.5,315.3 58.7,311.3 59.9,307.3 62,303 65,299.2 68,297.2ZM162,296.9 163.1,298.3 163.6,300.3 162.7,304.3 161,306.4 159,307.5 157,307.7 155.7,307.3 154.6,306.3 154,304.3 155,300.2 158,297.2 160,296.5ZM187,298.1 190,298.1 191.9,300.3 191.7,303.3 190,304.9 187,304.9 185.3,303.3 185,300.3ZM35,303.8 37.2,305.3 37.8,307.3 37.7,309.3 35.6,316.3 35,317.5 33,318.9 31.6,318.3 30,316 29.1,313.3 28.9,310.3 29.4,308.3 31,305.6 33,304.1ZM119,316.6 120,316.7 120.4,318.3 118.6,322.3 115.9,332.3 116.2,335.3 117.6,340.3 117,341.4 116,340.8 113.4,334.3 110,330.7 109.1,328.3 109.6,326.3 111,324.3 115.9,320.3 118,317.2ZM148,317.7 148.5,318.3 146.9,323.3 145.5,333.3 145.6,336.3 146.7,340.3 146,341.4 145,340.9 143.6,337.3 142.3,335.3 139,331.7 138.3,329.3 139.6,326.3 144.8,321.3 147,318.1ZM68,351.4 70,353.4 70.6,356.3 69,359.3 67,360.4 66,360.2 64.6,358.3 64.4,355.3 66,352.1 67,351.4ZM99,351.4 100,351.7 101.5,353.3 102.3,356.3 101,358.8 98,360.2 97,359.8 96.2,358.3 95.9,355.3 97,352.6 98,351.6Z"/><path fill="#ff9595" fill-rule="evenodd" d="M125.5,257.3 126.8,260.3 127.4,263.3 127.3,267.3 126.3,270.3 125,272 123,273.3 120,274.1 118,273.8 116,272.3 114.7,269.3 114.4,265.3 115.2,261.3 118,257.3ZM150.1,257.3 157.5,257.3 159.3,261.3 159.6,266.3 158.6,270.3 157,272.4 154,273.8 152,274 149.7,273.3 148,271.4 147.3,269.3 147.1,266.3 147.5,262.3 148.2,260.3ZM183.2,257.3 189.2,257.3 191.5,261.3 192,265.3 191.2,269.3 190,271.4 187,273.4 185,273.6 183,273.1 181,271.5 180,269.3 179.6,266.3 180.1,262.3 181,260.1ZM90,260.7 91.1,262.3 91.3,266.3 89.7,269.3 88,270.3 87,270.4 85,269.3 84.4,268.3 83.9,266.3 84,264.3 84.8,262.3 86,261 88,260.1ZM220,259.5 222,260.6 223,262.1 223.4,266.3 222.8,268.3 221.5,270.3 220,271.3 218,271.5 217,271 215.5,269.3 214.8,267.3 214.9,264.3 215.7,262.3 218,259.9ZM49,278.3 52,278.4 54,280.3 54.4,283.3 53.9,284.3 52,285.8 49,286 46.8,284.3 46.3,282.3 46.7,280.3 48,278.7ZM79,278.3 82,277.6 84,278.3 85,279.3 86,282.5 85.4,284.3 84,285.8 82,286.5 80,286.5 78,285.3 77.3,284.3 77,281.3 77.8,279.3ZM114,278.1 115,278.6 116.3,280.3 116.6,282.3 116,284.1 114.9,285.3 113,286.2 110,286 109,285.3 108.2,283.3 108.8,280.3 111,278.5ZM143,279 146,279.3 147.3,281.3 147.2,283.3 146.6,284.3 144,285.8 141.4,285.3 140,283.3 140.2,281.3 140.9,280.3ZM174,280.4 176,279.8 177.3,280.3 178.2,282.3 177.1,284.3 175,284.8 173.7,284.3 172.8,282.3ZM103,295.5 103.5,297.3 103.3,300.3 101,306.8 96.4,313.3 93.8,318.3 92,319.9 91,320.4 90,320 89.6,318.3 89.9,315.3 94.5,303.3 97,299.4 99,297.2 102,295.2ZM133,296.4 134.1,299.3 132.8,304.3 130,308 128,309.1 126,309.2 124.9,308.3 124.4,306.3 124.7,304.3 125.8,301.3 128,298.3 130,296.7 132,296ZM161,297.9 162,298.7 162.6,300.3 162,303.7 160.8,305.3 159,306.4 156.4,306.3 155,304.3 155,302.3 155.9,300.3 158,298.3 160,297.7ZM69,298.9 70,299.9 70.3,301.3 69.7,305.3 64.1,317.3 63,318.2 62,318.3 60.8,317.3 59.7,314.3 59.7,311.3 60.7,307.3 62.7,303.3 65,300.5 67,299.1ZM187,299.5 189,299 190.7,300.3 190.9,302.3 190,303.5 188,303.9 186.8,303.3 186,301.3ZM35,305.2 36,305.9 36.7,307.3 36.6,310.3 35,314.7 34,316.1 33,316.5 32,316.1 30.7,314.3 30,310.3 30.5,308.3 32,306.1 33.4,305.3ZM116,322.9 116.8,324.3 116.8,325.3 115.9,328.3 114,331.4 112,331.1 110.2,329.3 109.9,328.3 110.4,326.3 113,323.7ZM144,324.5 145.2,325.3 145.4,328.3 144.3,332.3 143,333.4 141,332.6 140,331.6 139.1,329.3 139.8,327.3 140.7,326.3ZM68,353.1 69.3,354.3 69.6,356.3 69,357.8 67,358.8 66,358.2 65.5,357.3 65.4,355.3 66.8,353.3ZM99,353.1 100,353.4 101,354.3 101.4,356.3 101,357.3 99,358.6 97.9,358.3 96.9,356.3 97.4,354.3Z"/><path fill="#ff8080" fill-rule="evenodd" d="M119.3,257.3 124.3,257.3 126,259.7 127,263.3 126.8,267.3 125.7,270.3 124,272.1 121,273.3 119,273.2 117,272.1 115.7,270.3 115,267.3 115,264.3 115.9,261.3 117,259.5ZM151.3,257.3 156.3,257.3 158,259.5 159,262.4 159.2,266.3 158.4,269.3 157,271.6 154,273.2 152,273.3 149.6,272.3 148.1,270.3 147.6,268.3 147.5,265.3 148,262.2 149,260ZM187.1,257.3 189,258.5 190.4,260.3 191.3,263.3 191.4,266.3 190.6,269.3 189.2,271.3 187,272.7 185,272.9 183,272.3 181,270.3 180.1,267.3 180.2,264.3 181.1,261.3 183,258.7 185,257.4ZM89,261.4 90.6,263.3 90.6,266.3 89,268.8 87,269.2 86,268.7 85.2,267.3 85.1,264.3 86,262.4 87,261.6ZM220,260.6 222.1,262.3 222.8,264.3 222.7,266.3 221,269.6 220,270.3 218,270.5 217,270 215.8,268.3 215.4,266.3 215.6,264.3 217,261.8 218,261ZM50,279.2 52,279.5 53.5,281.3 53.7,282.3 53,284.1 51,285.2 50,285.2 48.3,284.3 47.4,282.3 48.1,280.3ZM79,279.6 80,278.9 82,278.6 84,279.4 85.2,281.3 85.2,283.3 84.6,284.3 82,285.8 80,285.6 79,284.9 77.9,282.3ZM113,279 115.2,280.3 115.7,281.3 115.5,283.3 114,285 111,285.3 109.7,284.3 109.3,283.3 109.4,281.3 111,279.5ZM142,280.5 144,279.8 145.6,280.3 146.5,282.3 146,283.7 144,284.9 141.8,284.3 141,282.3ZM175,281.5 176,281.2 176.8,282.3 176,283.4 174.9,283.3 174.5,282.3ZM101,298 102,298.9 102.2,300.3 100.8,305.3 99,308.5 94.6,313.3 93,316.7 92,317.4 91.4,316.3 94.8,304.3 98,299.7 100,298.2ZM132,297.9 133,299.3 133.1,300.3 131.9,304.3 129,307.5 127,308 126,307.4 125.5,306.3 125.5,304.3 127,300.8 130,298ZM160,299 161.5,300.3 161.2,303.3 159,305.3 157,305.2 155.9,303.3 156.4,301.3 158,299.5ZM68,300.6 69.2,302.3 68.4,306.3 63,315 62,315 61.1,313.3 60.8,311.3 62,306.3 65,301.9 67,300.7ZM187.8,301.3 189.2,301.3 189,301.9 188,301.9ZM34,306.7 35.2,307.3 35.7,309.3 35,311.8 34,313.4 33,313.9 31.9,313.3 31.1,310.3 32,307.9ZM115,324.6 115.6,326.3 114.9,328.3 114,329.5 113,329.9 112,329.7 110.9,328.3 111.3,326.3 113,324.8ZM143,326.2 144,326.6 144.3,327.3 144.2,329.3 143.3,331.3 142,331.7 141,331.2 140,329.3 141,327.2ZM67,355 68.3,355.3 68,356.8 67,356.9 66.7,356.3ZM99,355 100,355.3 100,356.3 99,356.8 98.5,356.3Z"/><path fill="#ff6a6a" fill-rule="evenodd" d="M122,257.3 124,258.3 125.6,260.3 126.6,263.3 126.6,266.3 125.7,269.3 124.1,271.3 122,272.4 120,272.7 118,272 116.4,270.3 115.5,267.3 115.5,264.3 116.5,261.3 118,259.4 120,257.9ZM154,257.4 156,258.3 157.7,260.3 158.7,263.3 158.7,266.3 157.9,269.3 156.5,271.3 154,272.5 152,272.6 150,271.8 148.7,270.3 147.9,267.3 148,264.3 148.9,261.3 150,259.5 152,257.9ZM186,258.4 188,258.9 189.5,260.3 190.5,262.3 190.9,265.3 190.4,268.3 189,270.6 187,272 185,272.2 183,271.5 181.7,270.3 180.8,268.3 180.5,265.3 181,262.9 182,260.8 184,259ZM220,261.7 221.7,263.3 221.9,266.3 221.1,268.3 220,269.3 218,269.5 217,268.8 216.2,267.3 216.3,264.3 218,262ZM88,262.6 89.4,263.3 89.9,265.3 89.1,267.3 88,267.9 86.5,267.3 86,265.3 86.8,263.3ZM79,281.3 79.7,280.3 81,279.6 83,279.8 84.4,281.3 84.3,283.3 83,284.7 81,285 79.7,284.3 79,283.3ZM112,280.2 113.5,280.3 114.6,281.3 114.5,283.3 113,284.4 111.6,284.3 110.5,283.3 110.7,281.3ZM49.1,281.3 51,280.5 52,281 52.6,282.3 52.2,283.3 51,284.1 50,283.9 49,283ZM142.9,281.3 144,281 145,281.4 145.3,282.3 144.9,283.3 144,283.7 142.7,283.3 142.4,282.3ZM131,299.4 131.8,300.3 132,301.3 131,304.2 129,306.2 127.3,306.3 126.6,304.3 127.2,302.3 129,300ZM100,300.4 100.6,302.3 99.2,306.3 97,309.1 96,309.7 95,309.6 94.8,307.3 96,304.1 98,301.4ZM159,300.5 160,300.9 160.3,302.3 159,303.8 158,303.9 157.4,303.3 157.3,302.3 158,301.1ZM67,302.6 67.8,304.3 67,307.2 65,310.1 63,311.2 62.3,309.3 63,306.3 65,303.4ZM113.6,326.3 114,327.3 113,328.2 112.3,327.3 113,326.3ZM142,328.2 142.6,328.3 142.7,329.3 142,329.8 141.6,329.3Z"/><path fill="#ff5555" fill-rule="evenodd" d="M122,258.3 124,259.2 125.5,261.3 126.1,263.3 126.2,266.3 125.2,269.3 124,270.7 122,271.8 120,272 118,271.2 116.6,269.3 116,267.3 116.1,264.3 116.6,262.3 118,260.2 120,258.7ZM154,258.4 156,259.2 157.6,261.3 158.3,263.3 158.3,266.3 157.4,269.3 156,271 154,271.9 152,272 150,271 149,269.6 148.4,267.3 148.4,264.3 150.1,260.3 152,258.7ZM186,259.2 188,259.8 189,260.7 190,262.6 190.4,265.3 190.1,267.3 189,269.6 187,271.3 185,271.5 183,270.7 182,269.6 181.1,267.3 181,265.3 182.4,261.3 184,259.8ZM219,262.7 220.5,263.3 221.2,265.3 220.7,267.3 219,268.6 217.9,268.3 216.8,266.3 217.2,264.3 218,263.2ZM80.4,281.3 82,280.6 83,281 83.6,282.3 83.2,283.3 82,284 81,283.8 80,282.3ZM130,301.9 130,303.2 129,304.2 128.4,303.3 128.8,302.3Z"/><path fill="#ff4040" fill-rule="evenodd" d="M122,259.1 124,260 125,261.3 125.7,263.3 125.7,266.3 125.1,268.3 124,270 122,271.2 120,271.4 118,270.3 117,268.7 116.4,266.3 116.6,264.3 117.2,262.3 118.8,260.3 120,259.5ZM154,259.1 156,260 157,261.3 157.8,263.3 157.9,266.3 157.3,268.3 156,270.3 154,271.3 152,271.4 150.1,270.3 149.4,269.3 148.8,267.3 148.8,264.3 149.4,262.3 151,260.1 152,259.5ZM186,260 188,260.8 189,261.9 189.9,265.3 189.5,267.3 188.5,269.3 187,270.5 185,270.8 182.5,269.3 181.6,267.3 181.5,265.3 181.9,263.3 183,261.5 184,260.6ZM219,264.2 220.1,265.3 219.9,266.3 219,267.1 218,266.4 217.9,265.3Z"/><path fill="#ff2b2b" fill-rule="evenodd" d="M122,259.7 124,260.9 124.9,262.3 125.3,266.3 124.6,268.3 123,270.1 120,270.8 119,270.3 117.4,268.3 117.1,264.3 117.8,262.3 120,260.2ZM153,259.8 155,260.1 156,260.9 157,262.4 157.5,265.3 157.2,267.3 156.2,269.3 155,270.3 153,270.9 151,270.3 150,269.3 149.1,266.3 150,262.2 151,260.9ZM186,260.8 187,261.1 188.4,262.3 189.2,264.3 189.2,266.3 187.6,269.3 186,270.1 185,270.1 183.4,269.3 182.6,268.3 182,265.3 183.1,262.3 184.3,261.3Z"/><path fill="#ff1515" fill-rule="evenodd" d="M121,260.5 123,260.8 124,261.8 125,265.3 124,268.4 123,269.4 121,270.2 119,269.5 118,268.3 117.5,265.3 118.5,262.3ZM153,260.5 155,260.9 156,261.8 156.8,263.3 157.1,265.3 156,268.6 155,269.6 153,270.3 150.8,269.3 149.6,266.3 149.7,264.3 150.6,262.3 152,260.9ZM186,261.6 187,261.9 188.3,263.3 188.6,266.3 187,268.9 185,269.4 183,267.7 182.6,265.3 183,263.7 184,262.3Z"/><path fill="#ff0000" fill-rule="evenodd" d="M122,261.1 123,261.6 124,262.9 124.3,266.3 123,268.7 122,269.4 120,269.4 118.3,267.3 118.2,264.3 120,261.6ZM154,261.2 156,262.9 156.5,266.3 155,268.9 153,269.6 152,269.4 150.7,268.3 150.1,265.3 151.2,262.3 152.7,261.3ZM186,262.5 187,263 187.9,264.3 187.9,266.3 187,267.9 185,268.5 183.6,267.3 183.3,265.3 184.1,263.3Z"/><path fill="#eaeaff" fill-rule="evenodd" d="M76.1,257.3 77.2,261.3 77.3,265.3 76,269.7 71.9,275.3 72.8,281.3 72.1,285.3 70,288.1 63.9,292.3 61,296.5 54.6,312.3 53.3,320.3 49.7,329.3 50,331.3 52.7,339.3 57,344.3 58.5,347.3 58.7,349.3 56.9,362.3 56.2,364.3 55,365.8 53,367.1 51,367.6 49,367.4 46,365.8 44.4,363.3 44.1,360.3 45.6,349.3 45.5,347.3 43,344.2 40.2,339.3 37,329.3 39.8,320.3 40.6,313.3 43.6,301.3 45.4,298.3 55.9,288.3 57.3,286.3 58.1,282.3 58.1,275.3 61.7,268.3 62.4,265.3 62.7,260.3 63.7,257.3ZM111.6,257.3 111.5,266.3 110.5,271.3 109.1,273.3 104.7,277.3 103.7,283.3 102.4,286.3 97.2,290.3 95.3,292.3 85.1,314.3 83,320.3 78.9,328.3 78.8,331.3 82,340.6 88,345.3 89.7,347.3 90.3,349.3 90.1,357.3 88,364.1 87,365.4 85,366.8 81,367.1 77.9,365.3 76.3,362.3 76.3,359.3 77.7,348.3 77,347.4 74,345.7 70,340.3 66.6,331.3 66.4,328.3 69.7,320.3 71.7,312.3 77.6,298.3 81.4,292.3 87,287.6 88.5,285.3 89.7,276.3 92.6,272.3 93.9,269.3 95.2,257.3ZM145.4,257.3 144.8,269.3 143.8,273.3 142,275 136,278.3 134.6,284.3 133,286.8 126.4,290.3 125.4,291.3 119,308.1 117.6,310.3 113,314.8 111.1,319.3 106.7,326.3 106,328.3 106,330.3 109.2,339.3 109.6,343.3 109,345.3 107,346.7 105,346.3 102,344.3 97.7,340.3 94.3,330.3 94.8,327.3 103.9,311.3 107.5,301.3 111.8,293.3 113.3,291.3 119.3,286.3 120.9,280.3 122,278.4 127.1,275.3 128.7,273.3 130.3,257.3ZM177.6,257.3 177.2,269.3 176.5,273.3 174.2,275.3 167.2,278.3 166.7,279.3 166.1,284.3 164,287.1 161,288.6 156,290 155,290.9 152,297.7 148.6,309.3 141.3,315.3 135.6,326.3 134.6,329.3 134.6,331.3 137.4,339.3 137.6,342.3 136.7,343.3 133,344.4 128,345 126,344.4 121.3,331.3 121,329.3 121.4,327.3 128.1,316.3 134.7,310.3 139,297.9 141.9,292.3 144.4,290.3 149,287.9 150.7,286.3 152.1,280.3 153,278.9 159.9,275.3 160.9,274.3 162.4,257.3ZM195.9,257.3 211.8,257.3 211.4,269.3 212.6,275.3 213.3,276.3 215,276.8 224,276 226,276.4 227,277.1 228.3,280.3 228.4,284.3 227.6,287.3 226,289.3 224,290.3 221,290.6 217,289.8 214.2,288.3 213.6,286.3 213.1,279.3 212,276.7 210,276 208,275.8 200,277 198,276.6 196.3,275.3 195.1,272.3 194.7,268.3ZM246,257.3 246,260.3 242.5,264.3 241.4,268.3 239.5,271.3 237,272.9 234,273.5 232,273.3 230,272.3 228.6,269.3 228.4,264.3 229.5,260.3 231.6,257.3ZM36,274.2 38,274.8 40,276.6 41,279.3 41.2,283.3 40.1,286.3 38,288.8 36,290 33,290.3 31,289.6 28,287 28,278 32,274.9ZM250,275.4 253,275.5 256,276.9 257.4,278.3 258.7,281.3 258.6,284.3 257.7,286.3 255.7,288.3 253,289.5 251,289.6 248,288.8 246.3,287.3 245.5,285.3 245.2,281.3 245.9,278.3 247.6,276.3ZM195,276.6 196.3,278.3 196.9,280.3 197,283.3 196.5,285.3 195,287.2 193,288.3 190,289.3 185,290.1 183.3,291.3 180.8,296.3 180,304.3 178.9,307.3 176,309.6 173,310.6 170,310.6 168,309.6 166.7,306.3 166.9,301.3 168,297.1 170,294.1 173.2,291.3 182,288.1 182.7,286.3 183.2,280.3 184.7,278.3 191,276.3 193,276.1ZM211,289.8 211.7,290.3 211.3,292.3 208.6,295.3 208.3,296.3 208.7,302.3 207.1,306.3 205,308 203,308.5 199,307.6 197.7,306.3 196.5,303.3 196.4,300.3 197.2,297.3 199,295.5 203.3,293.3 204.9,291.3 206.7,290.3ZM231,294.3 233.5,295.3 235.1,297.3 235.8,300.3 235.5,305.3 234,309.2 230.6,313.3 229.7,319.3 224.9,329.3 228.3,341.3 230.6,345.3 231.1,348.3 228.9,363.3 227,365.8 225,366.8 223,367 220,365.8 218.2,363.3 218,360.3 219.6,346.3 216.3,340.3 212.9,329.3 213.8,326.3 219,316.2 223.6,310.3 223.7,303.3 225,298.1 226,296.4 228,294.7ZM166,311.8 168.5,313.3 169.6,315.3 169.9,317.3 169.3,320.3 166.3,326.3 165.3,329.3 165.6,332.3 167.8,339.3 167.9,342.3 167,343.9 165,344.7 158.1,344.3 155.8,343.3 155.1,342.3 151.4,332.3 151,330.3 151.2,328.3 157.9,315.3 160,313.4 162,312.4ZM195,311.8 197,312 199,313.1 200.1,314.3 200.9,316.3 200.7,319.3 196.7,327.3 196,330.3 199.4,341.3 202,344.5 203.2,348.3 200.9,363.3 199,365.6 196,366.5 194,366.1 192.6,365.3 190.7,362.3 190.6,359.3 192.1,348.3 191.4,347.3 189,345.9 187.6,344.3 183.1,329.3 184,326.3 189.3,315.3 192,312.7ZM251,312.8 253,313 255,314.3 256.1,317.3 255.4,320.3 251.3,328.3 251.3,331.3 254.4,340.3 260,344.1 260,363.6 257,366.6 254,367.3 250.6,366.3 249.4,365.3 248.1,363.3 247.7,360.3 249.2,347.3 246,344.7 243.9,341.3 240.1,329.3 241,326.3 246.1,316.3 248,314.2ZM121.6,345.3 123,346.3 123.2,347.3 122.5,357.3 120.9,363.3 119.6,365.3 118,366.6 116,367.2 113,367 110,364.8 108.6,361.3 109.1,354.3 110.8,346.3 112.3,345.3 114,345ZM152,345.1 152.9,346.3 150.6,363.3 149.2,365.3 147,366.5 145,366.7 143,366.1 140.9,364.3 139.9,361.3 141.7,348.3 142.4,347.3 144.3,346.3 149,345.1ZM174,345.7 179.2,346.3 181.1,347.3 181.6,348.3 179.7,362.3 178,364.8 175,365.8 173,365.4 171.5,364.3 170.2,361.3 172.1,347.3 172.5,346.3Z"/><path fill="#d4d4ff" fill-rule="evenodd" d="M72.4,257.3 74,258.1 75.7,260.3 76.6,264.3 76.1,267.3 75,269.7 69.9,274.3 69.9,275.3 71.9,280.3 71.7,284.3 69.6,287.3 67,288.8 63,290.4 61.8,291.3 59.2,296.3 57,304.3 53.2,313.3 52.1,319.3 47.3,329.3 50.2,339.3 50.6,342.3 55,343.8 56.1,345.3 56.6,347.3 54.5,362.3 53,364.3 50,365.1 48,364.3 47,363.2 46.4,361.3 48.3,345.3 48,344.8 45,343.7 43.8,342.3 39.4,329.3 41.2,321.3 42,311.3 43.7,305.3 46,300.7 56.8,289.3 58.1,287.3 59.3,277.3 60.1,275.3 63.5,270.3 65.1,260.3 66,259.2 69,257.7ZM110.4,257.3 111.1,264.3 110,270.3 108.8,272.3 104.1,276.3 103.5,277.3 103.2,282.3 102,285.7 100,287.6 95.1,290.3 93.6,292.3 89.6,303.3 84.6,313.3 82.3,319.3 77,328.3 76.6,330.3 79.7,341.3 79,343.1 78,344.1 76,344.6 75,344.4 73.6,343.3 72.3,341.3 68.1,329.3 72.5,313.3 75.2,306.3 78,300.2 81.8,294.3 89.1,286.3 90.6,277.3 93.6,273.3 94.5,271.3 95.7,260.3 97.1,257.3ZM144.5,257.3 144.7,266.3 143.5,272.3 141,274.7 135,277.4 134.5,278.3 134,283.4 133.1,285.3 132,286.5 129,288.1 124,289.1 123,289.7 121.8,298.3 119,306.1 117,309.3 111.6,314.3 109.9,319.3 105.6,326.3 104.8,328.3 104.7,330.3 107.8,339.3 108.1,341.3 107.4,343.3 106.4,344.3 105,344.8 104,344.6 101.9,343.3 99.5,340.3 96.3,331.3 96,328.3 102.3,316.3 105.6,311.3 106.9,305.3 108.4,301.3 111,296.6 114.3,292.3 120.9,287.3 121.7,281.3 122.7,279.3 128.9,275.3 129.6,274.3 130.1,262.3 131.2,257.3ZM176.6,257.3 176.8,267.3 176.2,271.3 175.2,273.3 172,275.4 166,276.6 165,277.2 165.2,283.3 164.3,285.3 163,286.6 159,288 156,288 154.1,287.3 153.3,286.3 152.9,284.3 153.6,280.3 155.7,278.3 162.5,275.3 162,265.3 163.4,257.3ZM197.2,257.3 210,257.3 210.8,261.3 210.7,267.3 210.1,272.3 209,273.9 205,275.5 201,275.9 199,275.3 197,273.5 195.6,270.3 195.3,266.3 195.9,261.3ZM243.8,257.3 244.2,259.3 243.8,260.3 240.7,263.3 239.7,267.3 238,270.1 236,271.4 234,271.7 231,270.5 229.7,268.3 229.4,265.3 230.2,262.3 232,259.8 234.8,257.3ZM34,276.7 36,276.6 38,277.3 39.8,279.3 40.3,281.3 40,284.2 39,286 37,287.7 35,288.2 33,287.9 31,286.5 29.4,283.3 29.4,281.3 30.3,279.3 32,277.6ZM194,278.1 195.6,280.3 195.9,282.3 195.6,284.3 194.2,286.3 192,287.6 189,288.2 186,287.6 185,286.8 184.3,285.3 184,282.3 184.5,280.3 185.2,279.3 187,278.1 190,277.3 192,277.2ZM215.7,279.3 217.2,278.3 221,277.4 223,277.4 225,278.2 226,279.3 226.8,281.3 226.9,283.3 226,285.8 224,287.7 222,288.3 219,288.1 217.3,287.3 216,286.1 215.2,284.3 215,281.3ZM250,278.4 253,278.6 254.1,279.3 255.5,281.3 255.3,284.3 253,286.4 250,286.6 248.1,285.3 247.5,284.3 247.1,282.3 247.7,280.3ZM150,289.6 151.1,290.3 151.5,293.3 150.3,300.3 148.6,306.3 146,310.1 139.5,314.3 138,319.3 135.3,324.3 133.5,329.3 133.5,332.3 135.9,340.3 135.6,342.3 133,343.7 129,343.9 127.8,343.3 127.1,342.3 125,336.3 122.4,331.3 121.9,329.3 122.3,327.3 124,324.3 130.6,315.3 136,311.8 138.1,302.3 140,298 142,294.8 145.3,291.3 148,289.9ZM177,293.1 178,294.5 179,298.3 179.2,301.3 178.5,304.3 177,306.4 175,307.8 172,308.3 170,307.8 168.4,306.3 167.7,304.3 167.7,301.3 168.6,298.3 170,296.3 172,294.8ZM200,297.1 202,296.5 204,296.6 206,297.7 207,299.1 207.5,301.3 207.2,303.3 205,305.9 203,306.4 201,306.1 198.4,304.3 197.6,302.3 197.6,300.3 198.5,298.3ZM230,298.2 232,299 233,300.3 233.4,302.3 233.3,304.3 232.5,306.3 231,308.1 229,308.9 228,308.8 227,308.1 226,306.3 226,302.3 227.6,299.3ZM164,314 166,314.7 167.6,317.3 167.5,319.3 164.6,325.3 163.4,329.3 163.7,333.3 165.6,341.3 164.6,343.3 163,343.9 161,343.9 158.7,343.3 157.6,342.3 155.6,337.3 152.8,332.3 152.3,329.3 153.5,326.3 159.7,316.3 162,314.3ZM195,314.3 197.5,315.3 198.2,316.3 198.7,318.3 193.5,329.3 196.4,339.3 196.4,342.3 195,344.2 193,344.7 191,344.1 189.5,342.3 185.8,331.3 185.4,328.3 191.7,316.3 193,314.9ZM225,314.6 227,315.7 227.6,318.3 222.6,328.3 222.4,330.3 225.3,339.3 225.2,343.3 228,345.3 228.6,347.3 226.6,361.3 225.4,363.3 223,364 221,362.6 220.4,360.3 222.8,345.3 222.5,344.3 220.6,343.3 219.3,341.3 215.5,329.3 216,327 221.9,316.3 223,315.2ZM251,316.1 252,316.4 252.9,318.3 247.7,329.3 251,340.3 250.4,342.3 249,342.9 248,342.6 246.9,341.3 243,329.3 244,326.3 249.1,317.3ZM84,343.7 86.7,345.3 88,347.3 89,356.3 88.2,359.3 86,362.9 84,364.4 82,364.7 80,363.7 79,362.3 78.5,356.3 81.2,345.3 82,344.3ZM256,343.4 258,344.2 259.8,346.3 260,348.3 257.4,362.3 256,364.1 254,364.7 252.5,364.3 251.2,363.3 250.3,360.3 252.3,346.3 253.5,344.3ZM198,345.1 199,345.4 199.8,346.3 200,348.3 198,361.3 197,362.6 196,362.9 195,362.6 194,361.3 194,359.3 195.8,347.3 197,345.3ZM118,345.6 120.1,346.3 120.6,347.3 120.8,357.3 119.3,361.3 118,363.4 116,364.6 114,364.6 112,363.3 111.1,361.3 110.6,357.3 111,354.3 113.8,346.3 116,345.6ZM149,346.4 149.9,347.3 148.1,361.3 147,362.9 145,363.4 143.4,362.3 143,360.3 144.5,349.3 145.5,347.3 148,346.3Z"/><path fill="#bfbfff" fill-rule="evenodd" d="M109.2,257.3 110.5,264.3 110.3,267.3 109.3,270.3 107,273 102.4,276.3 102.6,282.3 102.1,284.3 101,285.9 99,287.5 93.6,289.3 92.4,290.3 90.2,299.3 87.9,305.3 83.5,313.3 81.1,319.3 74.7,328.3 74.5,331.3 77.2,340.3 77,341.5 76,342.1 75,341.7 74,339.8 70.6,330.3 70.3,328.3 73.4,314.3 76.1,306.3 78.5,301.3 81,297.5 85.8,291.3 89.5,288.3 90.1,287.3 91.3,278.3 96,273.3 96.1,263.3 97.4,259.3 99,257.3ZM143.6,257.3 144.4,265.3 143.9,269.3 142.7,272.3 140,274.5 133.2,276.3 132.7,277.3 133.4,280.3 133.2,283.3 132.1,285.3 131,286.3 129,287.2 127,287.4 124,286.5 123.1,285.3 122.6,283.3 123.3,280.3 125.5,278.3 130.8,276.3 131.5,275.3 130.5,271.3 130.2,266.3 130.7,261.3 132.1,257.3ZM164.4,257.3 175.5,257.3 176.5,263.3 176,269.3 174.9,272.3 172,274.6 169,275.3 166,275 164,273.8 163.2,272.3 162.5,269.3 162.5,264.3 163,261.1ZM198.5,257.3 208.5,257.3 209.4,259.3 210.1,263.3 209.7,269.3 208.5,272.3 206,274.2 203,275 201,275 199,274.1 196.8,271.3 196,268.3 196,264.3 196.6,261.3ZM242.2,257.3 242.8,259.3 242.3,260.3 239.7,262.3 239.1,263.3 238.7,266.3 237.9,268.3 237,269.3 235,270.3 233,270.2 232,269.6 231,268.3 230.4,266.3 230.9,263.3 232,261.6 236.9,257.3ZM72,259 74,259.9 75.1,261.3 75.7,263.3 75.6,266.3 74.9,268.3 73,270.6 71,271.6 69,271.7 67,270.4 66.3,269.3 65.7,266.3 66,263.3 66.7,261.3 67.6,260.3 70,259.2ZM64,275 67,275.5 69,276.8 71,279.9 71.3,283.3 70,285.9 68,287.5 65,288.4 61,288.2 60,287.1 59.6,284.3 59.8,280.3 61,276.9 62,275.8ZM35,278.1 37,278.4 38,279 39,280.3 39.3,282.3 38.9,284.3 37,286.3 35,286.8 33.3,286.3 32,285.3 30.9,282.3 31.6,280.3 32.4,279.3ZM155.9,279.3 158,278.1 160,277.5 162,277.6 163,278.1 164.4,281.3 163.9,284.3 162,286.2 160,286.9 158,287 155.9,286.3 154.8,285.3 154.2,283.3 154.4,281.3ZM189,278.2 191,278 193,278.7 194.4,280.3 194.9,282.3 193.8,285.3 192,286.6 190,287.1 186.7,286.3 185.7,285.3 185,283.3 185.7,280.3 187,279.1ZM217,280.3 218.2,279.3 220,278.6 223,278.8 224,279.3 225.3,281.3 225.2,284.3 223,286.5 221,286.9 219,286.5 216.8,284.3 216.4,282.3ZM250.4,281.3 252.1,281.3 252.7,282.3 252,283.7 251,283.9 249.9,283.3 249.8,282.3ZM119,291.4 120.1,292.3 120.8,296.3 120.3,300.3 119,304.3 117,307.8 115,309.8 109,313.3 108.8,318.3 103.1,328.3 103,330.3 106.2,340.3 105.8,342.3 104,343.1 102.5,342.3 101.3,340.3 98,330.6 97.9,328.3 104,316.1 106,314.2 107.7,313.3 108,312.3 107.5,309.3 107.6,306.3 108.4,303.3 110,299.8 112,296.9 116,292.8 118,291.4ZM148,292.3 149,293.3 149.5,298.3 148.9,302.3 147.5,306.3 146,308.4 143,310.7 141,311.3 139,310.8 138.1,309.3 137.9,306.3 139.7,300.3 142,296.7 146,293ZM56,295.1 56.7,296.3 57,298.3 56.1,304.3 52.2,313.3 51,318.6 44.4,329.3 44.6,331.3 47.2,339.3 47,341.1 46,340.3 42.1,329.3 43.3,322.3 42.7,315.3 43.1,311.3 44.8,305.3 47.9,300.3 52,296.6 55,295.1ZM175,295.9 176,296.3 177.6,298.3 178.1,300.3 177.6,303.3 176.2,305.3 175,306.2 173,306.8 171,306.6 170,306 168.8,304.3 168.5,302.3 169,299.8 171,297 173,296ZM200,298.7 203,298 205.4,299.3 206,300.3 206.2,302.3 205,304.2 203,305 200,304 199,302.6 198.7,301.3 199,300ZM229,303.1 230,302.9 230,303.8 229,304ZM135,314.8 136,315.3 136.7,316.3 136.7,318.3 134,324.2 132.2,331.3 134.3,341.3 133,342.8 131,343.2 129,342.3 126.2,335.3 123.5,331.3 122.9,328.3 124.3,325.3 128.7,320.3 131.4,316.3 133,315.1ZM164,315.9 165,316.4 165.7,318.3 162.8,325.3 162,330.3 162.3,335.3 163.7,341.3 163,342.4 161,342.7 159.9,342.3 159.1,341.3 157.5,337.3 154.1,332.3 153.5,329.3 154.3,327.3 158.2,322.3 161.2,317.3 162.1,316.3ZM195,316.9 196,317.5 196,319.3 191.6,327.3 191,329.3 194.2,340.3 194,341.5 193,342.1 192,341.7 191,339.8 187.7,329.3 188.3,327.3 193,318.5 194,317.2ZM53,344.9 54,345.4 54.8,347.3 53.1,360.3 52,362.6 50,363.1 48.7,362.3 48.2,360.3 49.9,348.3 51,345.4ZM85,346.1 85.9,347.3 86.4,350.3 87.7,353.3 88.1,356.3 87,359.1 85,361.5 83,362.6 82,362.5 81,361.8 80.3,360.3 79.9,355.3 83,347.1 84,346ZM256,345.9 256.9,346.3 257.3,347.3 255.5,360.3 255,361.6 254,362.1 252.8,361.3 253,357.2 254.6,347.3 255,346.3ZM117,346.9 118.1,347.3 119.8,354.3 119.9,356.3 119.4,358.3 118,360.7 116.4,362.3 115,362.7 113.9,362.3 112.5,360.3 111.8,357.3 111.9,355.3 112.5,353.3 115.7,347.3Z"/><path fill="#aaaaff" fill-rule="evenodd" d="M108,257.3 109.4,260.3 110,263.3 109.9,266.3 109.1,269.3 107.8,271.3 105,273.5 102,274.6 100,274.7 99,274 98,272.4 96.9,269.3 96.7,265.3 97.4,261.3 100.8,257.3ZM133.1,257.3 142.6,257.3 144,263.3 143.4,269.3 141.9,272.3 139,274.2 136,274.8 134,274.7 132.1,273.3 131.2,271.3 130.7,268.3 130.9,263.3 131.6,260.3ZM165.4,257.3 174.4,257.3 175.3,259.3 176,264.3 175.4,269.3 173.9,272.3 171,274.2 169,274.5 166,273.9 164.1,272.3 163.3,270.3 162.9,267.3 163.1,263.3 163.8,260.3ZM199.8,257.3 207.1,257.3 209.1,261.3 209.4,266.3 208.5,270.3 207,272.5 204,274 202,274.2 200,273.7 198,271.9 196.8,269.3 196.4,266.3 196.7,263.3 197.8,260.3ZM241,258.3 241,259.7 238.5,261.3 237.8,262.3 237.8,265.3 237,267.7 235,269.1 233,268.9 232,267.9 231.4,266.3 232,263.3 238,258.3 240,257.7ZM72,260.2 73,260.6 74.5,262.3 75,264.3 74.9,266.3 73,269.4 71,270.4 69,269.9 67.6,268.3 67.1,266.3 67.2,264.3 67.9,262.3 68.7,261.3 70,260.5ZM99,275.6 101,277.9 101.8,280.3 102,282.3 101.4,284.3 100,286 98,287.2 95,287.7 93,287.3 91.9,286.3 91.4,284.3 91.4,281.3 92,279.3 94,277ZM63,277.1 65,276.6 67,276.9 69,278.2 70,279.5 70.6,281.3 70.6,283.3 69.6,285.3 68,286.6 66,287.3 64,287.4 62,286.7 61,285.6 60.4,283.3 60.7,280.3 61.6,278.3ZM130,277.9 131,278.3 132.4,280.3 132.6,282.3 132,284.2 131,285.3 129,286.3 126,286.1 124.2,284.3 124.1,281.3 125,279.9 127,278.5ZM156.3,280.3 159,278.7 162,279 163.5,281.3 163,284 161.8,285.3 160,286 157,285.5 156,284.6 155.4,283.3 155.6,281.3ZM187,280.3 189,279.1 192.2,279.3 193.8,281.3 193.8,283.3 193.4,284.3 192,285.6 190,286.2 187.2,285.3 186.1,283.3 186.3,281.3ZM34,279.9 36,279.6 37,280 38,281.3 38,283.4 36,285.3 34,285.1 32.5,283.3 32.7,281.3ZM218.1,281.3 220,279.9 222,279.8 223.8,281.3 224,283.3 222.2,285.3 220,285.4 218,283.5ZM89,291.6 89.8,293.3 89.5,297.3 88.6,301.3 87.1,305.3 82.4,313.3 80,318.9 77,322.2 75,323.4 74,321.9 74.2,316.3 77.5,305.3 79.5,301.3 82,297.9 87,292.4ZM118,294.6 119,295.6 119.6,298.3 119.2,301.3 118,304.6 116,307.6 114,309.3 112,310.2 110,310.2 109,309.1 108.6,306.3 110.1,301.3 112,298.4 114,296.4 116,295ZM147,295.8 148,297.1 148.4,299.3 148,302.3 147,305.2 144,308.7 142,309.6 140.3,309.3 139.4,308.3 138.9,306.3 140.2,301.3 143,297.2 145,295.9ZM54,298 55,298.6 55.6,300.3 54.8,305.3 51.4,312.3 50,317.4 48,319.9 47,320.3 46,320.1 44.6,317.3 44,314.3 44.1,311.3 45.1,307.3 47,303.3 49,300.7 52,298.4ZM174,297.3 176,298.3 176.6,299.3 176.8,302.3 175,304.8 172,305.5 170,304.1 169.6,301.3 171,298.5 172,297.7ZM200.1,301.3 200.5,300.3 202,299.3 204,299.9 204.9,301.3 204,303.2 203,303.6 201,303.1ZM134,317 134.6,318.3 133,322.3 130.8,332.3 130.8,335.3 132.2,340.3 132,341.1 131,341.4 128.1,335.3 124,330.3 123.7,328.3 125.3,325.3 129.9,321.3 132.9,317.3ZM160,324.3 160.9,326.3 160.9,331.3 160,334.9 159,335.3 157,334.1 155.4,332.3 154.6,329.3 156,326.8 158,325.1ZM84,351.2 85,351.5 86.6,353.3 87.2,356.3 86,358.9 85,359.8 83,360.5 82,360 81,358.3 80.8,355.3 82,352.6ZM116,351.3 117,351.5 118,352.5 118.8,354.3 119,356.3 118.3,358.3 117,359.9 115,360.6 114,359.9 113.1,358.3 112.8,355.3 114,352.8Z"/><path fill="#9595ff" fill-rule="evenodd" d="M106.4,257.3 108.2,259.3 109.3,262.3 109.5,265.3 108.9,268.3 107.8,270.3 106,272.1 103,273.3 101,273.1 99,271.6 97.9,269.3 97.4,266.3 98,262.3 99,260.3 102.7,257.3ZM134.1,257.3 141.6,257.3 143.2,261.3 143.5,266.3 142.5,270.3 141,272.3 138,273.8 135,274 133.4,273.3 132,271.6 131.2,269.3 131,266.3 131.5,262.3 132.1,260.3ZM166.6,257.3 173.2,257.3 175.2,261.3 175.6,265.3 174.9,269.3 173,272.3 171,273.4 168,273.6 166,272.9 164.3,271.3 163.6,269.3 163.3,266.3 163.8,262.3 165,259.4ZM205.4,257.3 207.4,259.3 208.6,262.3 208.9,265.3 208.4,268.3 207.6,270.3 205.9,272.3 203,273.5 201,273.3 199,272 197.4,269.3 196.9,266.3 197.3,263.3 198.6,260.3 201,257.6ZM71,261.5 72,261.4 73.4,262.3 74,263.3 74.2,265.3 73,268.2 71,269.2 70,269 69,268 68.3,265.3 69,262.9ZM235,262.7 236.2,263.3 236.7,265.3 235.9,267.3 234,267.9 232.9,267.3 232.4,265.3 233,263.8ZM63,278.5 66,277.8 68,278.5 69,279.5 69.9,281.3 69.9,283.3 68,285.8 65,286.6 63,285.9 62,285 61.3,283.3 61.4,281.3 62,279.6ZM95,277.8 97,277.3 99,277.6 101.1,280.3 101.3,282.3 100.7,284.3 98,286.4 96,286.8 94,286.4 92.4,284.3 92.2,282.3 92.6,280.3ZM129,279 130.2,279.3 131.3,280.3 131.7,281.3 131.5,283.3 130,285 127,285.3 125.6,284.3 125.1,283.3 125.3,281.3 127,279.5ZM156.9,281.3 159,279.7 161,279.7 162.5,281.3 162.3,283.3 161.6,284.3 160,285.1 158,284.8 156.7,283.3ZM187.5,281.3 189,280.1 191,279.9 192.7,281.3 192.8,283.3 191,285 189,285 187.8,284.3 187.2,283.3ZM34.5,282.3 35,281.7 36,281.8 36.3,282.3 36,283.3 35,283.4ZM219.9,282.3 221,281.5 222.1,282.3 221.8,283.3 221,283.6 220.2,283.3ZM87,295.9 87.9,297.3 88,299.3 86.3,305.3 81.2,313.3 79,318.1 78,319 76.5,319.3 75.7,318.3 75.6,315.3 78.9,304.3 83,298.4 85,296.6ZM117,296.8 118,297.6 118.5,299.3 118.3,301.3 117.3,304.3 116,306.3 114,308.1 112,308.8 111,308.7 110,307.7 109.6,306.3 109.8,304.3 111,301.3 114,297.8 116,296.8ZM146,297.8 147,298.9 147.3,300.3 146.4,304.3 144,307.3 142,308 141,307.7 140,305.3 141,301.5 143,298.8 145,297.7ZM173,298.7 175,299.2 175.8,301.3 175,303.3 173,304.3 171,303.4 170.6,302.3 171,300.2ZM53,300.1 54.2,301.3 53.8,305.3 48.9,315.3 48,316.5 47,316.5 46,315.4 45.5,313.3 45.5,310.3 46.1,307.3 49,302.3 51,300.6ZM130,323.5 131.1,324.3 131.2,327.3 129.8,331.3 129,332.3 128,332.6 126,331.5 125,330.3 124.6,328.3 126.4,325.3 128,324.1ZM158,327.1 159,327.3 159.7,330.3 159,332.3 158,332.7 157,332.3 155.8,330.3 156.3,328.3ZM84,352.9 85,353.1 86,354.3 86.3,356.3 85.2,358.3 84,358.9 82.4,358.3 81.7,356.3 82.2,354.3 83,353.3ZM116,353 117,353.3 118.1,355.3 117.8,357.3 116,358.9 114.4,358.3 113.7,356.3 114.2,354.3Z"/><path fill="#8080ff" fill-rule="evenodd" d="M105,258 107,259 108,260.3 109,263.3 108.9,266.3 107.8,269.3 106.1,271.3 104,272.3 102,272.3 100,271.2 98.8,269.3 98.2,266.3 98.5,263.3 99.3,261.3 101,259.5 103,258.3ZM135.3,257.3 140.4,257.3 142.4,260.3 143.1,263.3 143,267.3 141.9,270.3 140,272.3 137,273.3 135,273.2 133.4,272.3 132.1,270.3 131.6,268.3 131.5,265.3 132,262.1 133,259.9ZM168.2,257.3 172,257.6 174,260 175,263.3 175,266.7 174,270 172,272.2 170,272.9 168,272.9 166,272.1 164.5,270.3 163.7,267.3 163.8,264.3 164.6,261.3 166,259.1ZM204,257.9 206,259 207.6,261.3 208.2,263.3 208.2,266.3 207.4,269.3 206,271.3 204,272.5 202,272.7 200,271.9 198.5,270.3 197.5,267.3 197.6,264.3 198.7,261.3 200,259.6 202,258.2ZM71,262.9 72,262.8 72.7,263.3 73.3,265.3 72.3,267.3 71,267.8 70,267.2 69.5,265.3 70,263.7ZM63,280 65,278.8 67,279 68,279.6 69,281 69.2,282.3 68.5,284.3 66,285.7 63.9,285.3 62.3,283.3 62.4,281.3ZM95,278.9 98,278.4 100,279.9 100.6,282.3 100,284.1 99,285.2 96,286 94.3,285.3 93.5,284.3 93.2,281.3ZM128,280.2 129.4,280.3 130.5,281.3 130.4,283.3 129,284.3 127.8,284.3 126.5,283.3 126.6,281.3ZM158,282.3 158.6,281.3 160,280.8 161,281.2 161.4,282.3 161,283.3 160,283.9 158.3,283.3ZM189.3,281.3 191.2,281.3 191.7,282.3 191,283.7 190,283.9 188.8,283.3 188.6,282.3ZM86,298.9 86.5,301.3 85,305.9 83,309 79,313.2 78.4,312.3 78.4,309.3 79.9,304.3 83,300 85,298.7ZM116,298.5 117,299.2 117.3,300.3 116.8,303.3 114.6,306.3 113,307.2 112,307.2 111,306.4 110.8,305.3 111.5,302.3 114,299.1ZM145,299.6 146,301.3 145.2,304.3 144,305.7 143,306.2 142,306.1 141.3,304.3 141.8,302.3 143,300.4ZM172.7,302.3 172.4,301.3 173,300.7 174,301.2 173.3,302.3ZM52,302.3 52.8,303.3 52.8,304.3 52,307.1 50,310.2 48,311.8 47,310.3 47.7,306.3 50,303.1ZM129,325.1 130.2,326.3 130,328.3 129,330.3 128,331 127,330.8 125.5,329.3 125.8,327.3 127,325.9ZM84,354.4 85,355 85.2,356.3 84,357.5 82.8,356.3 83,355.2ZM116,354.6 116.9,355.3 117,356.3 116,357.4 114.8,356.3 115,355.2Z"/><path fill="#6a6aff" fill-rule="evenodd" d="M138.3,257.3 140,258.2 141.7,260.3 142.7,263.3 142.7,266.3 141.9,269.3 140.4,271.3 138,272.5 136,272.7 134,271.9 132.7,270.3 131.9,267.3 132,264.3 132.8,261.3 134,259.5 136,257.8ZM170,258 172,258.8 173.4,260.3 174.3,262.3 174.7,265.3 174.2,268.3 173,270.5 171,272 169,272.3 167,271.9 165.2,270.3 164.4,268.3 164.2,265.3 164.8,262.3 166,260.1 168,258.5ZM105,258.9 107,260 107.8,261.3 108.5,263.3 108.4,266.3 107.8,268.3 106.3,270.3 105,271.2 103,271.7 101,270.9 99.6,269.3 99,267.3 99,264.3 99.6,262.3 101,260.4 103,259.2ZM204,258.9 206,260.1 206.9,261.3 207.6,263.3 207.7,266.3 207.1,268.3 206,270.3 204,271.7 202,272 200,271.1 198.7,269.3 198.1,267.3 198.1,264.3 199,262 200.3,260.3 202,259.1ZM98,279.4 99,280 99.8,281.3 99.6,283.3 98,284.9 96,285.1 94.7,284.3 94.1,283.3 94.2,281.3 96,279.5ZM64.3,280.3 66,279.8 68,281 68.1,283.3 67.3,284.3 66,284.8 64,284 63.3,282.3ZM115,300.5 115.9,301.3 115.5,303.3 114,305.1 113,305.4 112.2,304.3 112.7,302.3 114,300.9ZM84,301.4 84.8,302.3 84.1,305.3 83,307.1 81,308.7 80.4,308.3 80.2,307.3 80.7,305.3 82,303ZM128,326.8 128.9,327.3 128.8,328.3 128,329.3 127,329.3 126.7,328.3 127,327.3Z"/><path fill="#5555ff" fill-rule="evenodd" d="M138,258.2 140,259.1 141.6,261.3 142.2,263.3 142.3,266.3 141.3,269.3 140,270.9 138,271.9 136,272.1 134,271.1 133,269.7 132.3,267.3 132.4,264.3 134,260.3 136,258.7ZM169,259 171,259.2 173,260.9 174,263.2 174.2,265.3 173,269.5 171,271.3 169,271.7 167,271.1 165.9,270.3 165,268.7 164.6,266.3 164.9,263.3 165.8,261.3 167,259.9ZM105,259.8 106.2,260.3 107.6,262.3 107.9,266.3 107.2,268.3 106,269.8 105,270.5 103,270.9 101,269.9 100,268.4 99.7,264.3 100.4,262.3 102,260.5ZM203,259.7 205,260.2 206,261.2 207,263.3 207.2,265.3 205.9,269.3 204,271 202,271.3 200.1,270.3 199.3,269.3 198.6,267.3 198.5,265.3 199,263.3 200,261.5 201,260.6ZM66,281.2 67.1,282.3 66,283.5 65,283 64.8,282.3ZM95.4,281.3 97,280.3 98,280.6 98.9,282.3 98.5,283.3 97,284.2 96,284 95.1,282.3Z"/><path fill="#4040ff" fill-rule="evenodd" d="M138,259 140,259.9 141.1,261.3 141.8,263.3 141.9,266.3 141.3,268.3 140,270.2 138,271.4 136,271.5 134,270.3 132.8,267.3 132.8,264.3 133.4,262.3 134.8,260.3 136,259.4ZM169,259.7 171,260 172.5,261.3 173.5,263.3 173.7,265.3 173.4,267.3 172.4,269.3 171,270.6 169,271 167,270.4 166,269.4 165,266.3 166,262 167,260.7ZM104,260.5 106,261.1 107,262.3 107.5,265.3 107.1,267.3 106,269 105,269.7 103,270.1 100.8,268.3 100.2,265.3 101.2,262.3 102.2,261.3ZM203,260.5 205,261.1 205.9,262.3 206.6,264.3 206.5,266.3 205,269.5 203.8,270.3 202,270.6 200,269.2 199.2,267.3 199,265.3 200.2,262.3 201.1,261.3Z"/><path fill="#2b2bff" fill-rule="evenodd" d="M137,259.7 139,260 140,260.8 141,262.3 141.5,265.3 141.2,267.3 140.1,269.3 139,270.3 137,270.9 135,270.4 134,269.4 133.1,266.3 134,262.2 135,260.8ZM169,260.5 171,260.8 172,261.7 172.9,263.3 173.2,265.3 172.9,267.3 172,268.9 171,269.8 169,270.4 166.7,269.3 165.5,266.3 165.7,264.3 166.5,262.3 168,260.8ZM204,261.4 205.7,263.3 205.9,266.3 205.1,268.3 204.2,269.3 202,269.8 201,269.3 200,268 199.6,266.3 199.8,264.3 201,262.3 202,261.6ZM104,261.3 105,261.5 106.2,262.3 107,265.3 106,268 104,269.3 103,269.2 101.7,268.3 100.9,265.3 102,262.5Z"/><path fill="#1515ff" fill-rule="evenodd" d="M137,260.4 139,260.7 140,261.6 140.8,263.3 141.1,265.3 140,268.6 139,269.6 137,270.3 134.7,269.3 133.6,266.3 133.7,264.3 134.5,262.3 136,260.8ZM170,261.2 171,261.7 172.3,263.3 172.6,266.3 171,269 169,269.7 168,269.4 166.7,268.3 166,265.3 167.2,262.3 168.8,261.3ZM104,262.3 105,262.4 105.9,263.3 106.3,265.3 105.6,267.3 104,268.4 103,268.2 102,267.3 101.6,265.3 102.4,263.3ZM203,262.1 204,262.4 204.9,263.3 205.3,266.3 204,268.5 202,269 200.4,267.3 200.2,265.3 201,263.3Z"/><path fill="#0000ff" fill-rule="evenodd" d="M138,261 140,262.7 140.6,265.3 139.6,268.3 138.4,269.3 137,269.7 135.6,269.3 134.7,268.3 134,265.3 135.1,262.3 136.4,261.3ZM169,262 171,262.6 172.1,265.3 171,268.1 169,268.9 168,268.6 167,267.5 166.6,265.3 167.3,263.3ZM203,263.1 204,263.6 204.6,265.3 204.1,267.3 203,268 202,267.9 200.9,266.3 201.3,264.3ZM104,263.5 105,263.9 105.4,265.3 105,266.6 104,267.2 103,266.7 102.7,265.3 103,264.2Z"/></g><path fill="none" stroke="#2a2a2a" stroke-width="0.45" d="M126,257.3 127.1,260.3 127.7,264.3 127.5,267.3 126.6,270.3 125.2,272.3 124,273.2 122,274.1 119,274.5 117,274 116,273.1 114.9,271.3 114.2,268.3 114.1,265.3 114.5,262.3 115.3,260.3 117.4,257.3M158.1,257.3 159.3,260.3 159.8,263.3 159.6,267.3 159,269.9 158,271.8 156.3,273.3 154,274.2 152,274.3 150,273.9 149,273.3 148,272.1 147.1,269.3 146.9,266.3 147.3,262.3 148,260.1 149.6,257.3M190,257.3 191.6,260.3 192.1,262.3 192.2,266.3 191.6,269.3 190.6,271.3 189,272.8 187,273.8 185,274 183,273.5 181.3,272.3 180,270.4 179.5,268.3 179.4,265.3 179.9,262.3 181,259.5 182.5,257.3M218.3,259.3 220,258.9 222,259.9 223.1,261.3 223.9,264.3 223.6,267.3 222.8,269.3 221,271.3 219,272 217,271.6 216,270.7 215,269.2 214.4,266.3 214.6,264.3 215.3,262.3 217,260.1M86,260.3 88,259.5 90,260.1 91.1,261.3 91.7,263.3 91.8,265.3 91,268.1 90,269.6 88,270.9 86,270.8 85,270.2 84.2,269.3 83.4,267.3 83.3,265.3 83.6,263.3 84.8,261.3M79.8,277.3 82,277.1 84,277.8 85,278.6 86,280.3 86.3,282.3 85.8,284.3 85,285.4 83,286.7 81,287 79,286.6 77.3,285.3 76.7,284.3 76.4,282.3 77,279.7 78,278.3M47.5,278.3 49,277.6 51,277.6 53,278.4 54,279.5 54.8,281.3 54.8,283.3 54,284.8 53,285.8 52,286.3 50,286.7 48,286.2 46.7,285.3 45.8,283.3 45.8,281.3 46.6,279.3M110.3,278.3 112,277.6 114,277.5 115,277.9 116.3,279.3 117,281.3 116.7,283.3 115.5,285.3 114,286.3 112,286.8 110,286.6 109,286.1 108,284.8 107.6,283.3 107.8,281.3 109,279.3M141.4,279.3 143,278.5 145,278.4 146,278.7 147,279.5 147.7,281.3 147.8,282.3 147.1,284.3 146.1,285.3 145,285.9 143,286.2 141,285.7 140,284.6 139.5,283.3 139.7,281.3M175.7,279.3 177,279.5 178,280.2 178.7,282.3 177.9,284.3 176.1,285.3 175,285.4 174,285.1 172.8,284.3 172.2,283.3 172.1,282.3 172.4,281.3 173.2,280.3M204.7,281.3 206,280.9 207,281.2 207.6,282.3 207.3,283.3 206,284.1 205,283.9 204.3,283.3 204.1,282.3M102.6,293.3 103,293.1 104,293.7 104.2,297.3 103.6,301.3 102.1,305.3 100,309.2 96.5,314.3 94.6,318.3 92,321 90,322.2 88.9,321.3 88.8,319.3 89.1,316.3 93.1,305.3 95,301.6 97,298.7 101,294.4M131.4,295.3 133,295.2 134,296.2 134.4,297.3 134.4,300.3 133.6,303.3 132,306.4 130,308.5 128,309.7 126,310 124.8,309.3 124,307.6 124,305.3 124.6,303.3 127,298.8 129,296.7M159,297.3 161,297.2 162.4,298.3 163.1,300.3 163,302.3 162.2,304.3 161,305.8 159,307 157,307.2 155.4,306.3 154.7,305.3 154.5,304.3 154.6,302.3 156.1,299.3 157.2,298.3M67.3,298.3 69,297.9 70,298.3 70.6,299.3 71,301.3 70.5,304.3 69.4,307.3 66.3,313.3 65,317.4 64,318.8 62,319.9 60.8,319.3 59.4,316.3 59,313.3 59.4,310.3 60.7,306.3 62.9,302.3 65,299.9M186.3,299.3 188,298.4 189,298.4 190.7,299.3 191.6,301.3 191,303.4 190,304.3 189,304.6 187,304.2 186,303.4 185.5,302.3 185.6,300.3M32.1,305.3 34,304.4 35,304.5 36,305 37,306.3 37.3,308.3 36.8,311.3 35,316.2 34,317.3 33,317.7 32,317.3 31,316.3 30,314.3 29.5,312.3 29.5,310.3 30,308.3 31,306.4M114.6,322.3 117,321.4 117.4,322.3 117.5,324.3 117.2,326.3 115,331.9 114,332.9 113,332.5 111,331.1 110,329.9 109.5,328.3 110,326.3 111,324.8M144.5,323.3 145,323.1 145.8,324.3 146,327.3 144.7,333.3 144,334.6 143,334.6 140,332.3 139,330.7 138.7,329.3 139,328 140.1,326.3 142,324.6M65.8,353.3 67,352.3 68,352.3 69,352.9 69.9,354.3 70.1,356.3 69.8,357.3 69,358.6 68,359.3 67,359.6 66,359.2 65,357.6 64.9,355.3M97.4,353.3 98,352.6 99,352.3 100,352.6 101,353.4 101.8,355.3 101.9,356.3 101,358.1 99,359.3 98,359.3 97,358.5 96.5,357.3 96.5,355.3"/><path fill="none" stroke="#2a2a2a" stroke-width="0.45" stroke-dasharray="1.6 0.9" d="M101.6,257.3 99,259.7 97.9,261.3 97.3,263.3 97,266.3 97.4,269.3 98.8,272.3 100,273.4 102,273.9 104,273.5 106.3,272.3 108,270.6 109.2,268.3 109.8,265.3 109.6,262.3 108.6,259.3 107.3,257.3M133.6,257.3 132,259.9 131.2,262.3 130.8,266.3 131,269.3 132,272.3 133,273.6 134,274.2 136,274.4 138,274.1 140.1,273.3 142,271.6 143,269.7 143.7,266.3 143.7,263.3 143.3,260.3 142.1,257.3M166,257.3 164.2,260.3 163.5,262.3 163.1,266.3 163.3,269.3 164,271.4 165,272.7 167,273.8 169,274.1 171,273.8 173,272.7 174.3,271.3 175.2,269.3 175.7,266.3 175.7,262.3 175,259.6 173.8,257.3M200.6,257.3 198.2,260.3 197.3,262.3 196.8,264.3 196.7,267.3 197.1,269.3 198,271.3 200,273.2 202,273.9 204,273.6 206.6,272.3 208,270.4 208.8,268.3 209.2,265.3 209,262.3 208,259.5 206.3,257.3M239,259 238.5,259.3 239,259.8 240.1,259.3M70,261.2 68.6,262.3 68.1,263.3 67.7,266.3 68,267.5 69,269 70,269.7 71,269.8 73,268.8 74,267.5 74.5,266.3 74.6,264.3 74,262.3 73,261.2 72,260.8M234,262.2 233,262.9 232.1,264.3 231.9,266.3 233,268.2 234,268.6 235,268.6 236.6,267.3 237.1,266.3 237.2,264.3 236.6,262.3 236,261.8M65,277.2 63,277.8 62,278.7 61.2,280.3 60.8,282.3 61.1,284.3 62,285.9 63,286.5 65,287 67,286.7 69,285.4 69.8,284.3 70.4,282.3 70,280.3 69,278.8 67,277.5M95,277.2 93,278.7 92.1,280.3 91.7,282.3 91.9,284.3 92.8,286.3 94,287 97,287.1 99.1,286.3 101,284.4 101.6,282.3 101.5,280.3 100.5,278.3 99,276.9 97,276.7M127,279 125.3,280.3 124.7,281.3 124.5,283.3 124.9,284.3 125.8,285.3 127,285.8 129,285.8 130,285.5 131,284.8 132,283.3 132.2,281.3 131.9,280.3 131,279 130,278.6 128,278.6M159,279.2 156.9,280.3 156.2,281.3 156,283.3 156.5,284.3 157.8,285.3 160,285.6 161,285.3 162.3,284.3 162.9,283.3 163,281.3 162.6,280.3 161.4,279.3M188,280 186.9,281.3 186.6,282.3 187,284.2 188,285.2 189,285.6 191,285.5 192.8,284.3 193.5,282.3 192.7,280.3 191,279.4 189,279.6M34,280.9 33.3,282.3 33.4,283.3 34,284.1 35,284.5 36,284.5 37,283.7 37.5,282.3 37,281 36,280.4 35,280.4M220,280.7 219,281.5 218.7,282.3 218.8,283.3 220,284.5 222,284.5 223.2,283.3 223,281.5 222,280.7 221,280.4M87,294 82,298.7 80,301.4 77.9,305.3 76.9,308.3 74.8,316.3 75,320.2 76,321.2 78,320.1 79.7,318.3 81.9,313.3 85.1,308.3 87.1,304.3 88.4,300.3 88.8,296.3 88,293.8M116,295.9 114,297.1 112,299.1 109.6,303.3 109.2,305.3 109.2,307.3 110,309 111,309.5 113,309.2 115,307.9 117,305.6 118.2,303.3 119,300.3 118.7,297.3 118,296.1 117,295.7M144,297.2 141.8,299.3 139.8,303.3 139.5,305.3 139.7,307.3 141,308.7 143,308.6 145,307.2 146.4,305.3 147.6,302.3 147.8,299.3 147.1,297.3 146,296.7M173,298 171,299.3 170.4,300.3 170,302.3 171,304.4 173,305 175,304.1 176,302.8 176.4,301.3 176,299.4 175,298.3M52,299.3 50,300.5 48,302.7 46.4,305.3 45.3,308.3 44.7,311.3 44.7,314.3 45.8,317.3 47,318.4 48,318.3 49.1,317.3 50.4,313.3 53.5,307.3 54.6,304.3 55,302.3 54.8,300.3 54,299.3 53,299.1M202,300.2 201.1,301.3 201.5,302.3 203,302.7 203.6,302.3 203.9,301.3 203.1,300.3M131,322.1 129,322.9 126,325.1 125,326.3 124.1,328.3 124.5,330.3 125.2,331.3 127,333 129,333.9 130,332.6 131.9,326.3 131.8,323.3M158,326.1 157,326.7 155.6,328.3 155.1,330.3 156,332.2 157,333.2 158,333.7 159,333.7 160,332.4 160.3,331.3 160.2,327.3 160,326.7 159,325.9M84,352.1 83,352.5 82.2,353.3 81.3,355.3 81.3,357.3 81.7,358.3 83,359.6 84,359.6 85,359.1 86,358.2 86.8,356.3 86.8,355.3 86,353.3 85,352.4M116,352.2 115,352.6 114.3,353.3 113.3,355.3 113.3,357.3 113.7,358.3 115,359.7 116,359.7 117,359.1 118,357.9 118.6,356.3 118,353.5 117,352.4"/><path fill="none" stroke="#2a2a2a" stroke-width="0.45" d="M119.7,259.3 122,258.7 124,259.6 125.3,261.3 126,264.3 125.7,267.3 124.9,269.3 123,271.1 121,271.7 119,271.4 118,270.7 116.9,269.3 116.3,267.3 116.3,264.3 116.9,262.3 118,260.7M151.7,259.3 154,258.7 155.5,259.3 157,260.8 158,263.3 158.1,266.3 157.6,268.3 156,270.6 154,271.6 152,271.7 150,270.6 149.1,269.3 148.6,267.3 148.6,264.3 149.2,262.3 150,260.8M183.9,260.3 186,259.6 188,260.3 189,261.3 190,263.8 190,266.3 189.5,268.3 188,270.3 186,271.2 184,270.9 183,270.3 182,269.1 181.4,267.3 181.3,265.3 181.7,263.3 182.8,261.3M217.7,264.3 219,263.3 220,263.7 220.4,264.3 220.5,266.3 220,267.4 219,267.9 218,267.6 217.4,266.3M82,281.3 82.8,282.3 82,283.3 80.9,282.3"/><path fill="none" stroke="#2a2a2a" stroke-width="0.45" stroke-dasharray="1.6 0.9" d="M136,259 134.4,260.3 133.1,262.3 132.5,266.3 133,269.1 134,270.7 135,271.4 137,271.8 139,271.2 141,269.4 141.9,267.3 142.2,264.3 141.3,261.3 140,259.5 138,258.6M104,260.1 102,261 101,262 100.3,263.3 99.9,265.3 100.4,268.3 101,269.3 103,270.5 105,270.1 106.1,269.3 107.3,267.3 107.8,265.3 107.6,263.3 107,261.7 106,260.6M168,259.7 167,260.3 165.6,262.3 164.9,264.3 164.9,267.3 165.6,269.3 167,270.8 168,271.2 170,271.3 171.9,270.3 173,269 173.9,266.3 173.9,264.3 173.4,262.3 172,260.2 170,259.3M203,260.1 201,261 200,262 199.3,263.3 198.8,265.3 198.9,267.3 199.7,269.3 201,270.6 202,270.9 204,270.6 205.5,269.3 206.6,267.3 206.9,265.3 206.7,263.3 206,261.8 205,260.7M97,281.1 96.5,281.3 95.8,282.3 96.4,283.3 97,283.5 98,282.8 98.2,282.3 98,281.6"/>
</g>
<rect x="29.00" y="258.30" width="229.60" height="111.70" fill="none" stroke="#c8c8c8" stroke-width="0.7"/>
<rect x="29.00" y="258.30" width="24.5" height="12" fill="#fff"/>
<text x="30.90" y="268.00" font-size="7.1" font-weight="bold" fill="#1a1a1a">(e): E5</text>
<text x="26.3" y="264.10" font-size="7" fill="#262626" text-anchor="end">50</text>
<text x="26.3" y="276.70" font-size="7" fill="#262626" text-anchor="end">100</text>
<text x="26.3" y="289.30" font-size="7" fill="#262626" text-anchor="end">150</text>
<text x="26.3" y="301.90" font-size="7" fill="#262626" text-anchor="end">200</text>
<text x="26.3" y="314.50" font-size="7" fill="#262626" text-anchor="end">250</text>
<text x="26.3" y="327.10" font-size="7" fill="#262626" text-anchor="end">300</text>
<text x="26.3" y="339.70" font-size="7" fill="#262626" text-anchor="end">350</text>
<text x="26.3" y="352.30" font-size="7" fill="#262626" text-anchor="end">400</text>
<text x="26.3" y="364.90" font-size="7" fill="#262626" text-anchor="end">450</text>
<text x="29.00" y="379.90" font-size="7" fill="#262626" text-anchor="middle">17/Nov/10</text>
<text x="54.50" y="379.90" font-size="7" fill="#262626" text-anchor="middle">11</text>
<text x="80.00" y="379.90" font-size="7" fill="#262626" text-anchor="middle">12</text>
<text x="105.50" y="379.90" font-size="7" fill="#262626" text-anchor="middle">13</text>
<text x="131.00" y="379.90" font-size="7" fill="#262626" text-anchor="middle">14</text>
<text x="156.50" y="379.90" font-size="7" fill="#262626" text-anchor="middle">15</text>
<text x="182.00" y="379.90" font-size="7" fill="#262626" text-anchor="middle">16</text>
<text x="207.50" y="379.90" font-size="7" fill="#262626" text-anchor="middle">17</text>
<text x="233.00" y="379.90" font-size="7" fill="#262626" text-anchor="middle">18</text>
<g clip-path="url(#clipf)">
<g filter="url(#pbn)"><path fill="#ffeaea" fill-rule="evenodd" d="M275.3,257.3 274.9,264.3 270.4,283.3 270,289.3 271,304.3 270.2,310.7 269.2,314.4 269.2,264.8 269.6,257.3ZM288.7,257.3 288.1,261.3 288.9,267.3 288.5,274.3 287.3,279.3 284,285.3 284.9,295.3 284.6,300.3 279.3,323.3 279.2,329.3 280.1,342.3 279.3,350.3 275.6,364.3 274.7,371.3 269.2,371.3 269.2,369.7 273.7,352.3 274.6,346.3 274.7,341.3 273.9,330.3 274.2,324.3 279,303.3 278.2,285.3 280.9,278.3 283.6,257.3ZM301,257.3 300.4,261.3 303.5,265.3 303.5,269.3 302.2,277.8 301.4,280.3 298.7,285.3 298.9,294.3 294.6,309.3 293.3,315.3 292.9,322.3 293.9,335.3 293.2,342.5 289.4,358.3 288.6,364.3 288.7,371.3 283.3,371.3 283,366.3 283.4,361.3 288.4,340.3 287.7,319.3 288.5,314.3 292,300.3 292.7,293.3 292.4,285.3 294.9,278.3 295.6,274.3 296.3,266.3 295.4,261.3 296.2,257.3ZM312.9,257.3 312.4,261.3 316.9,263.3 317.6,264.3 317.4,269.3 316.4,276.3 315.2,280.8 313.2,284.3 308.1,290.3 307.3,292.3 307.2,296.3 308.2,303.3 306.7,314.3 307.5,331.3 306.9,336.3 303.7,349.3 302.6,355.3 302.5,361.3 303.2,371.3 297.3,371.3 296.5,361.3 297,355.3 300.8,340.3 302.2,331.3 301.3,313.3 302.8,303.3 300.5,296.3 300.3,293.3 301.4,291.3 306.2,285.8 308.9,279.3 311.1,264.3 310.8,263.3 308.1,261.3 307.7,260.3 308.1,257.3ZM325.4,257.3 325.2,261.3 325.7,262.3 329.2,263.9 330.6,265.3 331,267.3 330.5,273.3 328.6,281.3 322.7,288.3 321.6,290.3 320.8,293.3 320.4,299.3 321.6,324.3 321.2,328.5 317.6,342.3 316.5,348.3 316.3,354.3 317.2,364.5 317.1,371.3 311.1,371.3 310.4,352.3 311.2,346.3 314.8,332.3 315.6,325.3 314.8,311.3 315.1,304.3 314.1,298.3 314.1,294.3 314.6,291.3 315.7,289.3 320.2,284.8 321.7,282.3 323.5,274.3 324.7,264.3 324.2,263.2 321.2,262.4 319.8,261.3 319.9,257.3ZM339.1,257.3 339.5,261.3 343.5,265.3 344.5,267.3 344.4,272.3 343.4,278.3 342.4,281.3 340.2,283.6 337.2,285.2 335.6,288.3 334.3,302.3 335.4,311.3 335.4,319.3 334.4,325.3 331.8,334.3 330.3,341.3 330,349.3 330.9,361.3 330.2,368.3 329.6,371.3 324,371.3 324.9,366.3 325.2,361.3 324.3,349.3 324.3,344.3 325.2,338.8 328.7,325.3 329.3,319.3 328.5,304.3 327.6,299.3 327.9,293.3 328.7,290.3 331.2,285.9 334.2,283.8 335.9,281.3 337.6,272.3 337.7,265.3 333.2,261.3 332.9,257.3ZM347,257.3 353.6,257.3 354.5,258.3 357.2,259.8 358.2,261.3 357.8,266.3 355.5,279.3 354.4,281.3 353.2,281.9 351.2,282 350.3,280.3 351.5,273.3 351.6,268.3 350.9,265.3 347.6,261.3ZM382.5,257.3 386,259.3 386.2,261.3 379.2,283.9 377.5,292.3 374.8,297.3 373.9,304.3 370.9,307.3 370.1,309.3 370.4,315.3 371.9,319.3 371.3,327.3 372.2,341.3 371.2,349.1 367.6,362.3 366.7,371.3 361,371.3 362.1,363.3 364.9,353.3 366.1,347.3 366.2,340.3 365.3,328.3 366.5,318.3 366,317.3 361,315.3 360.6,313.3 361.4,306.3 360.8,305.3 357.8,303.3 356.2,301.5 355.5,299.3 357.1,287.3 359.2,285.5 360.4,283.3 365,263.3 364.8,260.3 361.5,257.3 369.6,257.3 371.6,259.3 372,260.3 362.7,296.3 363,303.3 367.2,305.4 368.2,304.3 368.7,298.3 370.7,294.3 372.2,286.3 379.6,261.3 379.7,259.3 379.2,258.5 376.8,257.3ZM387.7,258.3 387.6,257.3 392.9,257.3 392.2,258.7 391.2,258.9ZM404.6,257.3 403.3,258.3 400.2,259.3 399.7,260.3 396.4,277.3 394.2,282.9 392.5,290.3 390.4,293.3 388.8,298.3 388.1,304.3 385.5,313.3 385,321.3 386,336.3 385.2,342.3 381.6,355.3 380.8,360.3 380.5,365.3 380.8,371.3 374.8,371.3 374.5,365.3 375.2,359.3 378.7,346.3 379.8,340.3 380,334.3 379.3,319.3 381.5,307.3 382,299.3 385,291.3 387.2,281.6 389.6,276.3 393.8,260.3 396.2,259 399.2,258.5 399.7,257.3ZM416.9,257.3 416.5,260.3 414.2,264.3 411.2,284.3 410.2,285.2 410,286.3 410.2,287.3 412.2,284.8 415.7,289.3 415.4,294.3 416.8,298.3 416.4,305.3 412.6,312.3 413.2,321.3 412.9,326.3 408.5,346.3 408.3,353.3 409.1,365.3 408.6,371.3 403.2,371.3 402,353.3 403,345.3 406.8,332.3 407.7,327.3 407.9,322.3 407.2,312.3 409.5,303.3 409.2,295.3 409.7,292.3 409.2,290.1 404.2,290.4 403.6,291.3 402.5,295.3 402.6,301.3 401.8,305.3 398.8,312.3 399.5,330.3 399,335.3 394.7,353.3 394.5,360.3 395.2,371.3 389.2,371.3 388.2,362.8 388.3,357.3 389.2,351.6 392.7,339.3 393.8,333.3 394.1,327.3 393.1,312.3 395,305.3 396.3,297.3 397.9,291.3 399.9,288.3 402.2,279.4 404,277.3 404.9,275.3 406.8,261.3 407.3,260.3 411.6,257.3ZM430.5,257.3 431,264.3 428.3,269.3 429.3,281.3 427.6,292.3 426.5,296.3 426.1,300.3 426.8,318.3 426,323.3 422.5,336.3 421.9,341.3 421.8,346.3 422.7,358.3 422.2,365.2 420.9,371.3 416.1,371.3 417.1,363.3 416.2,350.3 416.3,343.3 420.9,324.3 421.6,318.3 421.4,311.3 423.6,302.3 423.4,299.3 420.5,289.3 420.5,284.3 419.9,277.3 420.8,263.3 421.7,261.3 424.6,259.3 425.2,257.3ZM444.9,257.3 445.2,264.3 443.3,269.3 444.1,280.3 442.6,293.3 439.9,297.3 440.7,307.3 440.5,312.3 439.2,318.9 436.6,328.3 435.3,335.3 435.2,340.3 436.2,352.3 435.9,358.3 432.6,371.3 428,371.3 430.1,363.3 430.8,357.3 429.9,341.3 430.2,335.8 431.2,330.6 434.1,320.3 435.3,313.3 435.3,307.3 434.5,297.3 435.6,293.3 437,282.3 436.3,269.3 437.2,267.4 439.6,265.3 439.4,257.3ZM459,257.3 457.7,267.3 459.4,281.3 457.6,293.3 454.3,297.3 454,307.3 449.5,326.3 449,334.3 450,347.3 449.2,354.4 445.6,367.3 445.1,371.3 439.7,371.3 443,360.3 444.4,353.3 444.6,346.3 443.6,330.3 444.3,325.3 448.8,307.3 449.2,303.3 448.8,297.3 450.5,293.3 452,282.3 451,269.3 452.9,265.3 453.4,257.3ZM472.4,257.3 470.2,266.3 473.6,279.3 471.7,289.3 470.2,291.2 468.5,292.3 468.1,293.3 468,299.3 467.3,304.3 464.6,314.3 463.1,324.3 461.3,330.3 461.4,336.3 463.4,342.3 463,347.3 459.4,360.3 458.6,366.3 458.5,371.3 452.4,371.3 453.2,365.1 456.8,353.3 458.4,344.3 458,341.3 456.2,339.1 454.9,336.3 454.5,333.3 454.7,330.3 456.7,325.3 458,318.3 461.8,304.3 462.9,295.3 464.9,292.3 465.6,290.3 466.8,281.3 466.9,278.3 465.3,271.3 464.9,265.3 466.5,257.3ZM484.5,257.3 482.7,264.3 486.9,271.3 486.9,272.3 484.8,277.3 481.5,280.3 482.1,287.3 482,292.3 481.2,297.3 477.6,311.3 477,317.3 477.1,324.3 475.3,331.3 475.4,335.3 476.7,339.3 476.8,341.3 475.2,347.3 472.6,352.3 472.1,355.3 473,371.3 466.4,371.3 466,354.3 467.1,351.3 469.9,347.3 471.1,342.3 471,340.3 468.6,335.3 468.6,330.3 470.6,324.3 471.1,315.3 474.8,301.3 476.2,293.3 478.6,289.3 480.2,281 480.8,280.3 480.8,279.3 476.9,267.3 476.8,265.3 479,257.3ZM496.4,257.3 495.8,261.3 498.2,264.3 500,268.3 500,269.3 498.2,274 496.2,276.3 496,277.3 496.1,283.3 495.4,289.3 491.7,303.3 491,308.3 490.8,313.3 491.6,324.3 489.6,331.3 489.6,339.3 486.5,351.3 486.4,362.3 487.3,371.3 480.9,371.3 479.8,354.3 483.9,340.3 482.6,332.3 483.1,329.3 485,324.3 484.4,315.3 484.9,309.3 489.7,289.3 489.8,278.3 491.6,275.3 493.6,270.3 489.8,263.3 489.9,261.3 490.9,257.3ZM347.2,284.5 348.7,285.3 349.3,288.3 348.3,302.3 348.9,303.3 352.2,304.8 353.2,307.3 351.7,315.3 348.2,318.7 344.7,331.3 343.7,340.3 344.4,353.3 344.2,358.3 341.5,371.3 336.1,371.3 337.9,365.3 339.1,358.3 338,342.3 338.2,336.3 342.4,319.3 344.7,315.3 346,307.3 345.6,305.3 344.2,303.8 342.2,302.7 341.7,301.3 342.2,290.8 343.4,286.3 345.2,284.8ZM501.2,293 501.2,371.3 494.9,371.3 494.8,365.3 493.7,359.3 493.9,349.3 495,343.3 499,328.3 499.4,321.3 498.4,306.3 499.1,300.3ZM360.2,316.2 357.6,330.3 358.1,348.3 357.2,356 353.5,371.3 348.2,371.3 351.9,358.3 352.8,352.3 352.8,347.3 351.6,335.3 352.2,328 355.2,317.6Z"/><path fill="#ffd4d4" fill-rule="evenodd" d="M321.1,257.3 324.3,257.3 323.9,260.3 323.2,261.6 322.2,261.8 321.2,261.1ZM338.2,257.3 338.6,263.3 341.2,263.7 343.7,266.3 344.4,268.3 344.2,272.3 343.2,278.2 342.2,280.7 340.2,282.8 337.2,283.5 336.3,284.3 334.9,287.3 334.8,295.3 334.2,299.2 333.2,302.3 334.7,313.3 334.7,320.3 333.2,327.7 329.8,339.3 328.3,348.3 328.3,354.3 329.5,363.3 329.4,368.3 328.9,371.3 324.8,371.3 326.5,363.3 326.9,358.3 326.8,354.3 325.5,346.3 325.6,342.3 326.2,337.5 329.4,324.3 330,318.3 329.7,303.3 328.2,299.7 328.1,294.3 328.7,291.3 330.2,288.1 331.2,286.8 334.2,285.1 336,283.3 336.4,282.3 338.5,264.3 338.2,263.8 336.2,263.2 334.2,261.3 333.8,257.3ZM347.8,257.3 352.7,257.3 353.2,258.5 356.2,259.4 357.9,261.3 357.5,266.3 355.2,279.3 354.2,280.9 353.2,281.4 351.2,281.3 350.7,280.3 351.8,272.3 351.7,267.3 351.2,265.1 348.4,261.3ZM368.9,257.3 371.3,259.3 371.7,261.3 362.5,295.3 361.8,299.3 361,301.3 361.1,303.3 360.2,303.6 356.2,300.3 356,298.3 358,287.3 360.6,283.3 365.4,262.3 365.1,260.3 362.3,257.3ZM381.3,257.3 385.4,259.3 385.9,260.3 379.1,283.3 377,292.3 374.3,296.3 373.4,304.3 370.2,307 369.2,306.9 368.7,305.3 369,299.3 371,295.3 371.3,291.3 379.9,261.3 379.8,258.3 377.7,257.3ZM388.4,257.3 392.2,257.3 391.4,258.3 390.2,258.5 388.9,258.3ZM401,257.3 403,257.3 401.2,257.6ZM457.4,257.3 457.2,261.8 456.3,266.3 457.5,269.3 459,281.3 457.2,293.1 456.2,294.6 454.2,295.4 452.2,295.2 451.4,294.3 451.2,293.3 452.6,281.3 451.5,269.3 452.2,267.8 454.9,265.3 455.1,257.3ZM471.8,257.3 469.5,266.3 470.9,269.3 473.1,279.3 471.2,289.3 470.2,290.5 468.2,291.1 467.2,290.9 466.2,289.3 467.4,279.3 465.8,271.3 465.4,266.3 467.2,257.3ZM479.5,257.3 484,257.3 482.2,264.3 482.4,265.3 484.2,267.1 486.3,271.3 486.4,272.3 484.4,277.3 482.2,278.5 480.8,277.3 477.2,266.3ZM495.9,257.3 495.3,262.3 497.7,264.3 499.4,269.3 498.2,273.3 497.2,274.7 495.7,275.3 495.1,276.3 495.2,283.3 494.6,289.3 490.4,307.3 490.1,313.3 490.8,325.3 489.3,331.3 489.1,339.3 485.9,351.3 486.3,357.3 485.7,362.3 486.5,371.3 481.6,371.3 480.2,354.3 484.6,339.3 483.2,335.3 482.9,332.3 483.9,328.3 485.8,325.3 485.1,315.3 485.4,309.3 490.5,289.3 490.9,284.3 490.7,278.3 494.7,270.3 494.7,269.3 493.2,268.2 492.2,266.8 490.3,262.3 491.3,257.3ZM398.2,259.3 399.2,260.3 399.2,262.3 396.3,276.3 394.1,282.3 392.2,290.3 389.6,293.3 388.3,298.3 387.7,304.3 385.5,309.3 383.8,316.3 383.5,322.3 384.8,334.3 384.8,339.3 384.2,343.6 379.9,361.3 379.4,371.3 376.1,371.3 375.5,365.3 375.8,360.3 379.7,345.3 381.1,337.3 380.6,319.3 381.1,313.3 382.2,308.3 382.1,300.3 383.2,296.8 385.2,293.3 387.2,282.9 390,276.3 393.8,261.3 395.2,259.8ZM411.2,258.8 413.2,259.7 413.9,260.3 414,261.3 411,280.3 408.1,289.3 407.2,289.7 404.2,289.4 403.2,290.7 402,295.3 402.3,300.3 401.4,305.3 400.2,307.7 398.1,309.3 397.5,310.3 396.2,316.3 395.2,315.6 394.6,310.3 398.1,292.3 399.9,289.3 402.2,280.7 403.2,279.9 404.2,280.7 406.2,271.5 407.3,261.3 409.2,259.2ZM424.2,260.4 426.9,261.3 427.8,262.3 427.8,270.3 428.9,279.3 427.2,291.8 424.2,297.9 420.9,290.3 420.4,276.3 421.2,263.3 422.2,261.4ZM314.2,263.2 316.2,263.8 317.3,265.3 316.4,275.3 315.4,279.3 314.2,281.9 311.8,284.3 309.2,288.2 307.2,289.8 306.7,296.3 307.4,303.3 304.2,316.6 303.2,314.2 303,311.3 303.7,302.3 301.7,298.3 300.9,294.3 301.5,292.3 304.2,288.8 306.9,287.3 308.9,281.3 311.6,265.3 312.2,263.8ZM286.2,263.8 287.2,264.3 288.2,266 288.3,273.3 287.2,278.2 286.2,280.2 284.2,282.2 281.8,282.3 283.2,290.8 283.5,297.3 283.1,301.3 282.2,303.9 281.2,305 279.8,290.3 279.8,285.3 280.2,283.3 281.5,281.3 281.6,276.3 282.9,268.3 284.2,265.2 285.2,263.9ZM300.2,263.3 302.2,264.4 303.3,266.3 303.2,270.3 302.4,276.3 300.2,281.5 297.3,284.3 297.9,292.3 297.2,297.3 295.2,303.8 293.2,307.2 292.5,305.3 293.7,294.3 293.7,284.3 295,280.3 297.2,266 298.2,264.3ZM327.2,263.6 329.2,264.5 330.5,266.3 330.3,273.3 329.4,278.3 328.2,281.2 324.2,285.2 321.5,289.3 320.8,291.3 319.9,299.3 319.7,307.3 320.8,321.3 320.6,327.3 319.2,334.1 315.8,346.3 315,352.3 316.3,371.3 312,371.3 312.2,365.3 311.5,354.3 312.2,345.8 315.7,332.3 316.6,325.3 315.8,310.3 316,303.3 314.4,298.3 314.5,293.3 316.2,289.3 318.2,287.4 320.2,286.4 322.3,282.3 325.2,264.9 326.2,263.6ZM441.2,266.6 442.2,266.9 442.6,268.3 443.7,280.3 442.1,293.3 441.2,294.6 439.2,295.6 437.2,295.7 436.5,294.3 436.2,292.3 437.5,281.3 436.7,269.3 438.2,267.1ZM346.2,286 347.2,286.4 348.2,287.7 348.8,290.3 348.3,297.3 346.8,302.3 347,303.3 348.2,305.1 350.2,304.4 351.2,304.6 352.2,305.4 352.8,307.3 351.3,315.3 350.2,316.6 348.2,317.6 347.4,319.3 343.8,332.3 341.2,346.9 340.2,345.1 339.2,341.3 339.2,334.4 342.9,319.3 345.1,315.3 346.9,306.3 345.9,304.3 342.5,301.3 342,298.3 342.2,293.4 343.3,288.3 344.2,286.9ZM480.2,286 480.8,290.3 480.5,296.3 476.8,313.3 476.3,318.3 476.5,324.3 474.9,332.3 476.2,340.3 475.2,344.9 472.4,351.3 471.7,354.3 471.4,361.3 472.2,371.3 467.1,371.3 467.1,361.3 466.4,358.3 466.3,355.3 467.2,352.2 470.7,348.3 472.2,340.3 470.2,338.1 468.9,335.3 468.9,330.3 471.4,324.3 471.6,316.3 473.2,308.6 477.7,292.3 479.8,288.3ZM412.2,286.9 414.2,288.1 415.1,289.3 414.6,294.3 416.4,298.3 416.4,303.3 415.5,306.3 414.2,308.3 413.2,308.8 411.2,308.1 410.2,308.9 409.6,308.3 410,301.3 409.7,295.3 410.6,289.3ZM501.2,295.1 501.2,340.9 499.5,349.3 501,356.3 500,361.3 500.1,366.3 499.5,371.3 495.9,371.3 495.7,365.3 494.2,359.3 494,354.3 495.2,344.9 499.5,330.3 500.5,324.3 500.5,319.3 499.3,306.3 499.9,300.3ZM465.2,296.4 466.2,297 466.5,303.3 460.9,330.3 460.7,335.3 461.5,340.3 461.2,342.1 459.8,339.3 459.2,338.9 457.2,338.7 456.2,337.8 455.1,335.3 454.9,331.3 455.8,328.3 457.6,325.3 459.2,315.9ZM364.2,305 365.2,305.1 367.3,306.3 367.7,307.3 367.3,312.3 368.2,313.9 369.2,313.1 369.6,315.3 371,318.3 370.2,328.3 370.9,342.3 370.2,349.3 366.6,362.3 365.3,371.3 362.2,371.3 363.2,363.3 366.8,350.3 367.6,343.3 366.3,327.3 367.4,317.3 367.2,316.5 365.2,316.4 362.9,315.3 361.9,313.3 362.6,306.3 363.3,305.3ZM452.2,305.8 452.2,311.5 447.2,332.3 446.2,334.4 445.2,331.3 445.1,329.3 446,322.3 451.2,305.8ZM358.9,317.3 359.4,318.3 356.9,329.3 356.2,342.8 355.2,345.9 352.9,337.3 352.6,333.3 352.9,328.3 355.5,318.3 357.2,317.3ZM397.2,326.9 398.1,334.3 394,354.3 393.7,371.3 390.6,371.3 389,362.3 389.2,354.6 390.2,349.7 394.8,334.3 396.2,327.3ZM305.2,329.2 305.7,334.3 305.3,339.3 302.8,349.3 301.6,356.3 301.9,371.3 298.7,371.3 297.6,361.3 298,354.3ZM409.2,331.4 409.8,332.3 409.9,334.3 407.5,349.3 407.7,367.3 407,371.3 404.9,371.3 403,357.3 403,349.3 405.2,340.1 407.2,334.8ZM419.2,338.1 419.9,339.3 420.9,358.3 420.2,365.1 419.2,366.7 417.5,347.3 418.2,340.8ZM291.2,341.5 291.2,347 286.2,369 285.2,368.6 284.4,364.3 285.1,357.3 289.2,344.6 290.2,342.3ZM277.2,344.6 278.2,346.6 278.3,348.3 277.2,355.3 274.2,364.4 273.2,366.5 272.2,367.5 272.2,362ZM457.2,359 457.7,361.3 457.7,371.3 453.3,371.3 454.2,365.6 455.2,362.6ZM353.2,361.1 353.6,363.3 352.5,371.3 349.1,371.3 351.2,365ZM341.2,361.3 341.7,364.3 340.7,371.3 336.9,371.3 339.2,364.9ZM443.2,367 443.7,371.3 441,371.3 442.2,368.2Z"/><path fill="#ffbfbf" fill-rule="evenodd" d="M335,257.3 336.9,257.3 337.2,261.3 336.2,262 335.1,260.3ZM348.8,257.3 351.6,257.3 352.2,259.7 355.2,259.3 357,260.3 357.7,261.3 357.5,265.3 355.1,278.3 354.3,280.3 353.2,280.9 352.2,281.1 351.2,280.6 350.9,279.3 351.8,273.3 351.9,267.3 351.5,264.3 349.2,260.8ZM369.2,257.8 370.9,259.3 371.4,261.3 361.4,298.3 360.2,300.5 358.2,301 357.2,300.5 356.4,299.3 356.5,297.3 358.6,287.3 360.8,283.3 365.7,262.3 365.7,260.3 363.2,257.3ZM382.2,258 384.9,259.3 385.5,260.3 385.5,261.3 378.8,283.3 376.5,292.3 375.2,294.3 373.2,295.1 372.2,294.4 371.7,293.3 371.9,290.3 380.9,258.3ZM471,257.3 468.4,266.3 470.6,269.3 472.7,279.3 471.2,288.3 470.2,289.9 468.2,290.4 467.2,289.7 466.6,288.3 467.8,279.3 466.2,269.3 468.1,257.3ZM480.1,257.3 483.4,257.3 481.4,265.3 483.8,267.3 485.8,272.3 484.5,276.3 483.2,277.7 482.2,277.7 481.3,276.3 482.2,271.3 481.2,269.4 479.2,270.6 478,267.3 478.1,264.3ZM492,257.3 495.3,257.3 494.4,263.3 495.2,263.9 496.2,263.7 497.2,264.2 498.7,268.3 498.1,272.3 497.2,274 496.2,274.3 494.8,273.3 496,269.3 495.5,267.3 494.2,265.6 493.2,266.7 491,263.3ZM398.2,259.9 398.9,262.3 396,276.3 393.8,282.3 392.2,289.3 391.2,291.1 388.9,292.3 387.8,297.3 387.2,304.3 386.2,306.4 384.2,307.9 383.2,306.9 382.4,304.3 382.8,299.3 384.2,296.2 386.2,294.3 387.2,285.1 389.2,281.2 394.2,261.3 394.9,260.3 396.2,259.7ZM410.2,259.4 412.1,260.3 412.9,262.3 411.6,273.3 410.6,279.3 407.2,288.7 406.2,288.8 405.3,287.3 405.2,284.3 407.5,262.3 408.4,260.3ZM424.2,261.1 425.2,261.5 426.5,263.3 428.4,279.3 426.8,291.3 426.2,292.7 424.2,294 422.2,292.4 421.2,289.4 420.8,276.3 421.6,263.3 422.2,262ZM315.2,264.1 316.7,265.3 317.1,267.3 316,276.3 315.2,279.3 313.2,282.3 312.2,282.8 310.2,282.8 309.6,278.3 311.2,267.9 312.2,265.2 313.1,264.3ZM327.2,264.2 329.2,265 330.2,266.3 330.5,268.3 330.2,273.3 329.2,278.2 328.2,280.6 326.2,282.7 324.2,282.8 323.5,282.3 323.2,280.3 324.2,270.8 325.7,265.3 326.2,264.5ZM301.2,264.7 302.7,266.3 303.1,268.3 302.2,276.1 300.2,280.7 299.2,281.7 298.2,282 297,281.3 296,279.3 296.5,271.3 297.2,268 298.2,266.2 300.2,264.6ZM341.2,264.4 342.5,265.3 343.8,267.3 344.2,271.3 343.2,277.3 342.2,279.9 341.2,281.3 339.2,282.5 338.2,282.3 337.2,281.1 337.2,276.3 338.8,266.3 340.2,264.5ZM286.2,265.8 287.2,266 288.1,268.3 288.1,273.3 287.2,277 286.2,279.2 285.2,280.3 284.2,280.6 283.2,280.1 282.2,278.3 282.5,272.3 283.6,268.3 285.2,266.2ZM455.2,267.2 456.2,267.7 457.1,269.3 458.6,281.3 457.1,292.3 456.2,294 454.2,294.7 452.2,293.4 451.8,292.3 453.1,281.3 451.9,270.3 452.2,268.9 453.2,267.7ZM439.2,267.3 441.2,267.8 442.1,269.3 443.4,281.3 442,292.3 441.2,293.9 439.2,294.8 437.2,293.7 436.7,292.3 438,281.3 436.9,270.3 437.6,268.3ZM493.2,274.8 493.8,280.3 493.4,289.3 490.6,302.3 489.3,310.3 490.1,325.3 488.6,331.3 488.3,339.3 485.3,350.3 486,357.3 484.7,362.3 485.5,371.3 482.6,371.3 481.7,361.3 480.6,357.3 480.6,354.3 482.8,349.3 485.5,339.3 485.5,338.3 483.6,335.3 483.2,332 484.2,328.6 485.2,327.6 486.4,327.3 486.8,326.3 485.9,315.3 486.2,308.5 487.2,303.9 491.8,289.3 492.3,284.3 492,277.3ZM402.2,282.7 402.9,284.3 402.7,289.3 401.3,295.3 401.9,299.3 401.8,302.3 400.2,306.7 399.2,307.4 398.2,307.4 396.6,306.3 396.4,305.3 396.8,300.3 398.8,292.3 400.8,288.3ZM309.2,283.9 309.6,285.3 309.2,286.4ZM332.2,287.3 333.2,287.5 334.2,288.8 334.7,293.3 333.6,299.3 332.2,301.4 331.2,301.9 330.2,301.6 329.1,300.3 328.5,298.3 328.4,295.3 329.5,290.3 331.2,287.7ZM319.2,288.2 320.2,289.3 320.4,290.3 319.9,296.3 319.2,299.9 318.2,301.9 316.2,301.5 315.2,300 314.6,296.3 314.8,293.3 316.2,289.9 318.2,288.1ZM346.2,287.5 347.2,288.1 348.2,290 348.2,295.8 347.2,299.6 346.2,300.9 345.2,301.5 344.2,301.4 343.2,300.7 342.6,299.3 342.5,293.3 343.2,290.1 344.2,288.3ZM413.2,288.2 414.3,289.3 414.4,290.3 413.3,294.3 413.6,295.3 415.2,296.5 416.3,300.3 415.5,305.3 414.2,307.2 413.2,307.5 411.7,306.3 410.8,304.3 410.5,296.3 411.8,289.3 412.2,288.4ZM296.2,290.2 296.2,293.9 295.2,294.4 295.5,291.3ZM305.2,289.3 306.3,291.3 306.2,295.8 305.6,299.3 304.2,300.3 303.2,300.1 302.2,298.5 301.5,294.3 302.6,291.3 304.2,289.6ZM372.2,296.2 373.2,296.9 373.6,298.3 373.4,303.3 372.2,305 370.2,306 369.2,304.3 369.3,300.3 370.2,297.5 371.2,296.4ZM478.2,297.4 478.8,298.3 478.6,301.3 475.6,316.3 475.6,325.3 474.4,333.3 475,339.3 474.2,342 473.7,338.3 473.2,337.9 471.2,338.1 469.7,336.3 469,334.3 469,331.3 470.2,327.7 472.2,326.1 472.2,317.1 473.2,311 475.2,304.3ZM501.2,298.9 501.2,309.6 500.7,304.3ZM351.2,305.2 352.2,306.2 352.4,307.3 351.2,314.6 350.2,316.2 348.2,316.5 347.3,317.3 345.2,325.2 341.2,337 340.3,335.3 340.3,333.3 341.2,328.1 343.2,320.7 345.7,315.3 346.2,312.6 348.2,308.9 348.8,306.3 349.8,305.3ZM365.2,305.7 366.4,306.3 366.8,307.3 366.3,314.3 366,315.3 365.2,315.7 363.9,315.3 363.2,314.3 362.9,312.3 363.7,306.3ZM464.2,305.4 464.7,307.3 460.6,328.3 460,335.3 459.2,336.8 457.2,337.5 456.2,336.6 455.4,334.3 455.5,330.3 456.2,328.6 458.6,326.3 459.1,319.3 460.2,314.8 462.2,309.3ZM332.2,307.4 333.9,315.3 333.8,321.3 332.2,328.9 328.2,339.7 327.2,339.5 327.2,338.3 330.7,321.3 331.2,309.1ZM318.2,310.8 319.5,321.3 319.3,328.3 318.2,333.8 315.2,341.8 315.2,339.3 317.8,327.3 317.8,313.3ZM358.2,318.2 358.2,320 355.2,332 354.2,333.2 353.9,328.3 355.2,321.4 356.2,318.7 357.2,318.1ZM501.2,329.2 501.2,336.5 499.7,341.3 498.5,349.3 500,354.3 500.1,356.3 498.7,361.3 498.2,367.8 497.2,366.8 496.5,362.3 494.7,359.3 494.3,355.3 496.2,343.5ZM396.2,337.4 396.2,340.3 393.4,353.3 392.2,367 391.2,366.7 390.1,362.3 389.7,358.3 390.1,353.3 391.2,348.2 393.2,342.4 395.2,337.8ZM383.2,338.5 383.2,343.3 382.2,348.4 379.7,357.3 378.2,364.8 377.2,366.1 376.8,361.3 377.2,357.1 382.2,339.9ZM406.2,341.2 407,341.3 406.5,349.3 406.2,363.2 405.2,362.5 404.2,358.4 403.7,352.3 404.2,347ZM469.2,351.4 470.9,352.3 471.2,353.6 471.1,357.3 470.2,361.3 471.3,371.3 468,371.3 468,365.3 468.7,361.3 467.2,359.1 466.8,355.3 467.9,352.3ZM314.2,367.4 314.8,371.3 313.5,371.3ZM327.2,368.2 327.8,369.3 327.8,371.3 325.9,371.3ZM455.2,368.5 456.2,369 456.5,371.3 454.6,371.3Z"/><path fill="#ffaaaa" fill-rule="evenodd" d="M369.2,258.2 370.6,259.3 371.1,261.3 367.7,274.3 360.8,298.3 360.2,299.6 359.2,300.3 358.2,300.3 357.2,299.7 356.8,298.3 358.8,288.3 361,283.3 366.6,259.3 368.2,258.1ZM493.5,257.3 493.2,260.9 493.2,257.3ZM384.4,259.3 385.1,260.3 383.5,267.3 376.2,291.5 375.2,293.5 374.2,294.1 373.2,294.1 372.2,293.1 372.1,291.3 375.2,279.1 380.8,259.3 382.2,258.4ZM355.2,259.6 356.2,259.9 357.4,261.3 357.4,264.3 354.4,279.3 353.2,280.5 352.2,280.6 351.1,279.3 352,273.3 352.4,262.3 353.4,260.3ZM397.2,260 398.2,260.5 398.6,262.3 396.2,274.2 393.8,281.3 391.8,289.3 391.2,290.5 390.2,290.9 388.8,290.3 388.4,288.3 391.1,275.3 394.6,261.3 395.6,260.3ZM410.2,259.9 411.2,260.3 412.2,262.3 410.2,278.3 407.2,286.4 406.2,285.8 406,282.3 408.2,261.3 409.2,260.2ZM424.2,261.7 425.2,262.3 425.8,263.3 427.9,279.3 426.3,291.3 425.2,292.8 424.2,293.1 422.8,292.3 421.8,289.3 421.2,276.3 422,263.3 423.2,261.9ZM315.2,264.9 316.2,265.5 316.8,267.3 316.2,274.8 314.2,280.5 313.2,281.5 312.2,281.8 311,281.3 310,279.3 310.5,272.3 312.2,266.2 313.2,265.1ZM328.2,265 329.2,265.6 330.2,267.3 330,273.3 329.2,277.5 328.2,279.9 327.2,281.3 326.2,281.9 325.2,281.9 324.2,281.2 323.6,279.3 324.2,271.7 325.2,267.4 326.2,265.4 327.2,264.9ZM341.2,265.1 342.2,265.5 343.5,267.3 344,269.3 343.9,272.3 343.2,276.4 342.2,279.2 341.2,280.6 339.2,281.6 337.7,280.3 337.4,276.3 338.9,267.3 340.2,265.4ZM496.2,264.9 497.2,265.4 497.2,267.9 496.2,266.2ZM301.2,265.6 302.2,266.4 302.7,268.3 302.2,275.1 300.2,279.9 299.2,280.8 298.2,280.8 296.8,279.3 296.2,277.3 296.8,271.3 298.3,267.3 300.2,265.6ZM286.2,267.1 287.2,267.6 287.7,269.3 287.6,274.3 286.2,278.1 285.2,279.1 284.2,279.3 283.2,278.4 282.7,277.3 282.9,272.3 284.2,268.6ZM483.2,267.2 485.1,272.3 484.2,276 483.2,277 482,276.3 483.2,272.3 481.9,268.3 482.2,267.3ZM439.2,267.8 440.2,267.9 441.5,269.3 443,281.3 441.5,292.3 440.2,294 439.2,294.2 437.6,293.3 437.2,291.3 438.5,281.3 437.3,270.3 438.2,268.3ZM454.2,267.8 455.2,267.9 456.6,269.3 458.2,281.3 456.7,292.3 456.2,293.3 455.2,294.1 454.2,294.2 452.8,293.3 452.4,291.3 453.6,281.3 452.4,270.3 453.2,268.3ZM468.2,268.1 469.2,268.1 470.3,269.3 472.3,279.3 470.7,288.3 470.2,289.3 469.2,289.8 468.2,289.7 467.1,288.3 468.3,279.3 467,270.3 467.2,269.2ZM497.2,269.4 497.6,270.3 497.2,273.1 496.2,273.3 496.2,271.3ZM318.2,288.9 319.2,289.6 319.8,291.3 319.5,296.3 318.2,299.7 317.2,300.3 316.2,300.2 315,297.3 315.1,293.3 316.2,290.5ZM332.2,288.3 333.2,288.8 334,290.3 334.3,294.3 333.2,299.1 331.2,300.7 330.2,300.4 329.2,299 328.8,294.3 330.2,289.8 331.2,288.6ZM346.2,288.7 347.2,289.4 347.9,291.3 347.7,296.3 347.2,298.2 346.2,299.7 345.2,300.3 344.2,300.3 343.2,299.2 342.8,297.3 343,292.3 344.2,289.5 345.2,288.7ZM304.2,290.5 305.2,290.8 305.7,295.3 304.7,298.3 304.2,298.8 303.2,298.8 302.2,297 302,294.3 302.6,292.3ZM386.2,296.8 387.2,298.7 387.2,302.5 386.2,305.2 385.2,306.1 384.2,306.2 382.9,304.3 382.9,300.3 384.2,297.2 385.2,296.7ZM400.2,296.4 401.4,298.3 401.6,301.3 400.4,305.3 399.2,306.4 397.6,305.3 397,303.3 397.1,301.3 398.2,297.7 399.2,296.4ZM414.2,296.7 415.5,298.3 415.9,302.3 415.2,305 414.2,306.2 413.2,306.3 411.7,304.3 411.5,300.3 412.9,297.3ZM372.2,297.6 373.2,299.3 373.2,302.3 372.2,304.4 371.2,305 370.2,304.8 369.6,302.3 370.1,299.3 371.2,297.7ZM351.2,305.9 351.9,307.3 351.2,312.8 350.4,315.3 349.2,315.8 348.5,315.3 348.3,314.3 349.4,307.3 350.2,305.9ZM365.2,306.5 365.9,307.3 365.2,312.9 364.2,313.3 364.2,308ZM471.2,327.8 473.1,328.3 473.9,329.3 474,331.3 473.6,335.3 472.2,336.9 471.2,337.2 470.2,336.4 469.7,335.3 469.2,332.3 469.9,329.3ZM457.2,328.7 458.2,328.7 459.2,329.5 459.7,332.3 459.1,335.3 458.2,336.3 457.2,336.4 456.2,335.3 455.7,332.3 456.2,329.8ZM485.2,328.7 486.4,329.3 487.1,330.3 487.6,332.3 487,335.3 485.2,336.4 484.2,335.7 483.5,332.3 484.2,329.5ZM483.2,351.2 484.2,351.4 485.2,352.8 485.7,356.3 485.2,359.2 483.2,361 481.7,359.3 480.9,356.3 481.4,353.3ZM497.2,350.8 499.1,353.3 499.6,356.3 498.7,359.3 497.2,360.8 495.2,359.2 494.6,356.3 495.2,352.8 496.2,351.3ZM469.2,352.7 470.2,353.5 470.6,356.3 470.2,358.3 469.2,359.2 467.8,358.3 467.2,356.3 468,353.3Z"/><path fill="#ff9595" fill-rule="evenodd" d="M369.2,258.6 370.3,259.3 370.8,261.3 366.4,278.3 360.3,298.3 359.2,299.6 358.2,299.7 357.2,298.3 359.6,287.3 361.5,282.3 366.8,260.3 368.2,258.6ZM383.2,258.9 384.7,260.3 384.7,261.3 382.2,270.6 375.3,292.3 374.2,293.4 373.2,293.3 372.7,291.3 374.2,284.3 381.3,259.3 382.2,258.8ZM355.2,259.9 356.2,260.2 357.1,261.3 357.2,263.9 354.2,278.8 353.2,280 352.2,280.1 351.5,278.3 352.8,263.3 353.3,261.3 354.1,260.3ZM397.2,260.4 398.2,261.3 398.3,262.3 396.2,272.7 391.3,289.3 390.2,290.1 389.5,289.3 389.9,284.3 395,261.3 396.2,260.4ZM410.2,260.5 411.2,261.1 411.6,262.3 410.3,275.3 409.2,279.7 408.2,282.1 407.2,283.1 407,276.3 408.2,263.2 408.7,261.3ZM424.2,262.4 425.2,263.7 427.4,279.3 426,290.3 425.2,292.1 424.2,292.5 423.2,291.9 422.6,290.3 421.8,276.3 422.4,264.3 423.2,262.5ZM315.2,265.6 316.2,266.5 316.6,268.3 316.1,274.3 314.2,279.9 313.2,280.8 312.2,281 311,280.3 310.2,278.3 310.9,271.3 312.2,267 313.2,265.9ZM328.2,265.6 329.3,266.3 330.1,268.3 329.7,274.3 328.2,279.3 327.2,280.6 326.2,281.1 325.2,281 324.2,280.1 323.8,278.3 324.4,271.3 326.2,266.2 327.2,265.5ZM341.2,265.8 342.2,266.1 343.2,267.3 343.7,269.3 343.7,272.3 342.2,278.6 341.2,280 339.2,280.8 338.2,280.1 337.7,278.3 338.2,271.4 339.2,267.4ZM301.2,266.6 302.2,267.6 302.5,269.3 301.9,275.3 300.2,279.2 299.2,279.9 298.2,279.8 297,278.3 296.6,276.3 297.2,270.8 299.2,267.1 300.2,266.5ZM286.2,268.3 287.2,269.2 287.2,274.3 286.2,277 285.2,278 284.2,277.9 283.2,276.3 283.3,272.3 284.2,269.9 285.2,268.7ZM439.2,268.3 440.2,268.5 441.3,270.3 442.6,281.3 441.2,292 440.4,293.3 439.2,293.7 438.2,293.1 437.7,291.3 438.9,281.3 437.7,270.3 438.2,268.9ZM454.2,268.4 455.2,268.4 456.2,269.4 457.8,281.3 456.3,292.3 455.2,293.6 454.2,293.6 453.2,292.9 452.8,291.3 454.1,281.3 452.8,270.3 453.2,269.1ZM469.2,268.9 470.2,270.3 471.7,279.3 470.2,288.3 469.2,289.2 468.2,288.9 467.7,287.3 468.9,279.3 467.7,270.3 468.2,269.1ZM332.2,289.2 333.2,289.9 333.8,291.3 334,294.3 333.2,298 332.2,299.3 331.2,299.7 330.2,299.3 329.6,298.3 329.1,294.3 330.2,290.7 331.2,289.5ZM318.2,289.8 319.2,291.2 319.4,292.3 319.2,296.2 318.2,298.5 317.2,299.3 316.2,299.2 315.2,296.5 315.4,293.3 316.2,291.2 317.2,290.1ZM346.2,289.7 347.4,291.3 347.5,295.3 346.5,298.3 345.2,299.4 344.2,299.2 343.5,298.3 343.1,294.3 344.2,290.5 345.2,289.7ZM304.2,291.6 305.2,293.1 305.1,295.3 304.2,297.4 303.2,297.5 302.5,294.3 303.2,292.3ZM385.2,297.7 386.2,298.2 386.6,299.3 386.7,302.3 386,304.3 385.2,305.1 384.2,305.1 383.2,303.4 383.1,301.3 384.2,298.3ZM400.2,297.9 401.2,299.3 401.2,301.8 400.2,304.7 399.2,305.3 398,304.3 397.6,301.3 398.9,298.3ZM414.2,297.7 415.4,299.3 415.5,302.3 415.2,303.8 414.2,305.2 413.2,305.3 412.2,303.6 412,301.3 413.1,298.3ZM372.2,299.2 372.5,302.3 372.2,303.3 371.2,303.9 370.5,303.3 370.2,301.3 371.2,299.1ZM351.2,307.1 350.2,314.4 349.7,313.3 350.2,307.5ZM471.2,328.7 472.2,329.1 473,330.3 473.4,332.3 472.7,335.3 471.2,336.3 470.1,335.3 469.5,332.3 470.2,329.4ZM457.2,329.8 458.5,330.3 459.1,332.3 458.7,334.3 458.2,335.1 457.2,335.2 456.2,333.5 456.1,332.3ZM485.2,329.8 486.2,330.9 486.5,332.3 486.2,334.1 485.2,335.2 484.2,334.5 483.9,332.3 484.2,330.7ZM483.2,352.3 484.2,352.6 484.7,353.3 485.4,356.3 485,358.3 484.2,359.4 483.2,359.7 481.8,358.3 481.4,356.3 482,353.3ZM497.2,352.3 498.4,353.3 499.1,356.3 498.6,358.3 497.2,359.7 496.2,359.4 495.4,358.3 495,356.3 495.7,353.3 496.2,352.6ZM469.2,354.2 469.8,356.3 469.2,357.7 468.2,357.2 468,356.3 468.2,354.8Z"/><path fill="#ff8080" fill-rule="evenodd" d="M369.2,258.9 370.2,259.6 370.5,261.3 366.2,278 360.2,296.8 359.2,298.7 358.2,298.7 358.1,296.3 360,287.3 361.5,283.3 367,261.3 367.9,259.3ZM383.2,259.2 384.3,260.3 384.1,262.3 377.2,285.2 374.2,292.4 373.5,291.3 374.1,287.3 377.2,274.2 381.2,260.3 382.2,259.2ZM355.2,260.3 356.2,260.6 357.1,262.3 356.6,266.3 354.2,277.3 353.2,279.3 352.2,279.4 351.9,277.3 352.9,265.3 353.8,261.3ZM397.2,260.9 397.9,262.3 396.2,270.9 391.2,287.6 390.6,286.3 392.2,274.4 395,262.3 396.2,260.8ZM410.2,261.2 411,262.3 410.2,271.3 409.2,277.4 408.2,279.2 407.7,276.3 408.9,262.3 409.2,261.6ZM424.2,263.3 426.8,279.3 425.1,291.3 424.2,291.7 423.3,290.3 423.7,281.3 422.6,275.3 423.2,263.6ZM314.2,266.1 315.2,266.3 316.2,267.7 316.2,272.9 315.2,277.3 314.2,279.3 313.2,280.1 312.2,280.3 311.2,279.6 310.6,278.3 310.7,273.3 312.2,267.7ZM328.2,266.1 329.2,266.8 329.8,268.3 329.7,273.3 328.2,278.8 326.2,280.5 325.2,280.2 324.2,279 324.2,273.3 325.2,268.9 326.2,266.9 327.2,266.1ZM341.2,266.4 342.2,266.7 343.3,268.3 343.4,273.3 342.2,277.9 341.2,279.4 340.2,280 339.2,280 338.2,279 337.8,277.3 338.2,272.4 339.2,268.2 340.2,266.9ZM301.2,267.5 302.2,269.3 302.1,273.3 301.2,276.9 300.2,278.5 299.2,279.1 298.2,278.8 297.2,277.2 297.2,272.3 298.2,269.4 299.2,268 300.2,267.4ZM439.2,268.9 440.2,269.2 440.8,270.3 442.2,281.3 440.8,291.3 440.2,292.8 439.2,293.1 438.3,292.3 438.1,291.3 439.4,281.3 438.1,270.3ZM454.2,269 455.2,269.1 456,270.3 457.4,281.3 456,291.3 455.2,292.9 454.2,293 453.3,291.3 454.6,281.3 453.4,270.3ZM286.2,269.7 287,271.3 286.9,273.3 286.2,275.7 285.2,276.7 284.1,276.3 283.7,273.3 284.9,270.3ZM469.2,269.9 471.1,279.3 470.2,285.6 469.2,288.4 468.4,287.3 469.7,279.3 468.6,270.3ZM332.2,290.2 333.2,291.1 333.5,292.3 333.5,295.3 332.3,298.3 331.2,298.9 330.2,298.3 329.8,297.3 329.5,294.3 330.5,291.3 331.2,290.4ZM318.2,290.9 318.9,292.3 319,294.3 318.3,297.3 317.2,298.4 316.2,298.1 315.9,297.3 315.6,294.3 316.2,292.1 317.2,290.8ZM345.2,290.6 346.2,290.7 346.6,291.3 347.2,294.3 346.4,297.3 345.2,298.4 344.2,298.1 343.4,295.3 343.9,292.3ZM304.2,293.4 304.2,295.4 303.3,295.3 303.2,294.3ZM385.2,298.8 386.2,300.1 386.3,301.3 385.2,304 384.2,303.9 383.7,302.3 384.2,299.5ZM400.2,299.1 400.7,300.3 400.2,303.6 399.2,304.2 398.4,303.3 398.2,301.3 399.2,299.1ZM414.2,298.8 415.2,300.3 415.3,301.3 414.2,304.1 413.2,304 412.6,302.3 413.2,299.5ZM471.2,329.6 472.3,330.3 472.8,332.3 472.5,334.3 471.2,335.4 470.2,334.5 469.9,332.3 470.2,330.4ZM457.2,331.3 458.3,332.3 458.2,333.3 457.2,333.6ZM485.2,331.3 485.5,332.3 485.2,333.6 484.7,332.3ZM483.2,353.3 484.2,353.7 484.9,356.3 484.2,358.4 483.2,358.7 482.2,357.7 481.9,356.3 482.2,354.3ZM497.2,353.3 498.2,354.3 498.5,356.3 498.2,357.7 497.2,358.7 496.1,358.3 495.5,356.3 495.8,354.3Z"/><path fill="#ff6a6a" fill-rule="evenodd" d="M369.2,259.3 370.2,260.3 370.2,261.5 365.2,280.3 360.2,294.5 359.4,294.3 360.2,288.8 367.7,260.3ZM383.2,259.8 383.9,261.3 381.2,271.2 377.2,283.6 375.2,287.6 375.2,285 377.2,275.6 381.2,261.6 382.2,259.8ZM355.2,260.7 356.5,261.3 356.7,263.3 355.2,272.3 353.2,278.1 352.5,277.3 353.1,266.3 354.2,261.3ZM396.2,261.3 397.2,261.7 397.2,264.1 394.3,276.3 392.2,281.5 392.2,277.2 395.2,263.1ZM314.2,266.8 315.2,267.1 316,268.3 316,273.3 315.2,276.7 314.2,278.7 313.2,279.5 312.2,279.6 311.2,278.7 310.8,277.3 311,272.3 312.2,268.4ZM328.2,266.7 329.5,268.3 329.6,273.3 328.2,278.2 326.2,279.8 325.2,279.5 324.2,277.7 324.4,273.3 325.2,269.5 326.2,267.5 327.2,266.7ZM341.2,267.1 342.2,267.3 343.2,269 343.2,273.6 342.2,277.3 340.2,279.4 339.2,279.3 338.1,277.3 338.2,273.3 339.2,269 340.2,267.6ZM300.2,268.2 301.2,268.4 301.7,269.3 301.9,272.3 301.2,276.1 300.2,277.7 299.2,278.3 298.2,277.9 297.5,276.3 297.4,273.3 298.2,270.3 299.2,268.8ZM439.2,269.8 440.2,270.3 441.5,281.3 440.3,291.3 439.2,292.3 438.9,290.3 440,281.3 438.9,271.3ZM454.2,270 455.3,270.3 456.7,281.3 455.2,292 454.2,292.2 454,290.3 455.2,281.3 454,271.3ZM285.2,271.5 286.2,271.8 286.3,272.3 286.2,273.7 285.2,275.2 284.6,273.3ZM332.2,291.1 333.2,292.9 333.2,294.9 332.2,297.5 331.2,297.9 330.2,296.9 330,294.3 331.2,291.3ZM317.2,291.8 318.2,292.1 318.5,294.3 318.2,296.1 317.2,297.4 316.2,296.7 316,295.3 316.2,293.2ZM345.2,291.7 346.2,292 346.7,294.3 346.2,296.5 345.2,297.4 344.2,296.7 343.9,295.3 344.2,293ZM414.2,300.2 414.2,302.6 413.5,301.3ZM385.2,300.4 385.2,302.4 384.7,301.3ZM399.2,300.8 399.9,301.3 399.2,302.6ZM471.2,330.6 472.2,332.3 472.1,333.3 471.2,334.4 470.3,332.3ZM483.2,354.4 484.2,355.1 484.3,356.3 484.2,356.9 483.2,357.6 482.6,356.3ZM497.2,354.4 497.8,356.3 497.2,357.6 496.1,356.3 496.2,355.1Z"/><path fill="#ff5555" fill-rule="evenodd" d="M369.2,259.9 369.8,261.3 366.2,275.2 362.2,287.3 361.8,287.3 362.2,282.8 368.2,260.4ZM355.2,261.1 356.2,261.4 356.5,262.3 355.2,270.9 354.2,274.1 353.2,275.6 353.2,268 354.2,262.4ZM383.2,260.6 383.2,262.1 379.2,276.2 377.2,281 377.2,277.9 382.2,260.6ZM328.2,267.3 329.2,268.3 329.4,269.3 329.3,274.3 328.2,277.6 327.2,278.8 326.2,279.2 325.2,278.8 324.5,277.3 324.7,272.3 326.2,268.1 327.2,267.3ZM314.2,267.4 315.2,267.8 315.9,269.3 315.6,274.3 314.2,278.1 313.2,278.9 312.2,278.9 311.1,277.3 311.2,272.3 312.2,269.1 313.2,267.8ZM341.2,267.7 342.2,268 342.9,269.3 343.2,272.3 342.2,276.6 341.2,278.1 340.2,278.7 339,278.3 338.2,275.3 339.2,269.7 340.2,268.2ZM300.2,269 301.2,269.4 301.5,270.3 301.5,273.3 300.6,276.3 299.2,277.5 298,276.3 297.8,273.3 298.8,270.3ZM332.2,292.2 332.6,295.3 332.2,296.4 331.2,296.8 330.5,294.3 331.2,292.4ZM317.2,293.1 317.8,294.3 317.2,296 316.7,294.3ZM345.2,293 345.9,294.3 345.2,296 344.7,294.3Z"/><path fill="#ff4040" fill-rule="evenodd" d="M355.2,261.8 356,262.3 354.2,272.2 353.5,270.3 354.2,264.8ZM368.2,262.2 368.2,265.6 367.8,265.3ZM367.2,265.8 367.6,266.3 367.2,269.3 366.6,270.3 366.2,273 365.7,272.3ZM314.2,268 315.2,268.6 315.5,269.3 315.4,274.3 314.2,277.5 313.2,278.3 312.2,278.2 311.2,276.5 311.2,273.3 312.2,269.7 313.2,268.4ZM328.2,267.9 329.2,269.3 329.2,273.8 328.2,277 327.2,278.3 326.2,278.6 324.8,277.3 324.9,272.3 326.2,268.7 327.2,267.9ZM341.2,268.3 342.5,269.3 342.9,272.3 342.2,275.9 341.2,277.5 340.2,278.1 338.9,277.3 338.6,274.3 339.2,270.5 340.2,268.9ZM300.2,269.8 301.2,270.8 301.2,273.8 300.2,276.1 299.2,276.5 298.3,275.3 298.2,273.3 299.2,270.5ZM365.2,273 365.8,273.3 365.2,276.6 364.7,276.3ZM364.2,276.7 364.7,277.3 364.2,280 363.9,279.3Z"/><path fill="#ff2b2b" fill-rule="evenodd" d="M314.2,268.6 315.2,269.4 315.4,273.3 314.2,276.9 313.2,277.7 312,277.3 311.4,274.3 312.2,270.4 313.2,269ZM328.2,268.5 329.1,270.3 329.1,273.3 328.2,276.4 327.2,277.7 326.2,278 325.2,277.3 324.9,276.3 325.2,271.6 326.2,269.3 327.2,268.4ZM341.2,269 342.2,269.6 342.5,273.3 341.6,276.3 340.2,277.5 339,276.3 338.9,273.3 339.7,270.3ZM300.2,270.9 300.7,273.3 300.2,275 299.2,275.4 298.8,274.3 299,272.3Z"/><path fill="#ff1515" fill-rule="evenodd" d="M314.2,269.3 315.2,270.6 315.2,273.3 314.2,276.3 313.2,277.1 312,276.3 311.7,273.3 312.7,270.3ZM328.2,269.2 328.9,271.3 328.6,274.3 327.2,277.1 326.2,277.4 325.2,276.3 325.3,272.3 326.2,269.9 327.2,269ZM341.2,269.7 342.2,270.7 342.3,273.3 341.2,276.2 340.2,276.8 339.2,275.7 339.2,272.5 340.2,270.2Z"/><path fill="#ff0000" fill-rule="evenodd" d="M314.2,270 314.9,271.3 314.9,273.3 314.2,275.6 313.2,276.4 312.2,275.7 312,273.3 313.2,270.3ZM327.2,269.6 328.4,270.3 328.6,273.3 327.4,276.3 326.2,276.8 325.4,275.3 325.4,273.3 326.2,270.6ZM341.2,270.4 341.8,271.3 341.9,273.3 341.2,275.4 340.2,276 339.7,275.3 339.5,273.3 340.2,271Z"/><path fill="#eaeaff" fill-rule="evenodd" d="M282.2,257.3 281.3,274.3 280.4,278.3 277.4,283.3 276.9,285.3 277.9,298.3 277.6,304.3 276.2,311.3 273.4,321.3 272.4,327.3 272.3,332.3 273.3,345.3 273.1,350.3 272.2,355.3 269.2,365.2 269.2,317.8 270.9,313.3 272.4,304.3 271.3,290.3 271.5,284.3 273.8,273.3 276.3,264.3 277,257.3ZM295,257.3 294.2,261.3 295.7,267.3 295.3,274.3 294.4,278.3 291.4,284.3 291.8,293.3 291.2,300.1 287.5,313.3 286.3,319.3 286,325.3 287,339.3 286.2,346.8 282.5,361.3 281.6,367.3 281.6,371.3 276.2,371.3 276.4,366.3 277.2,361.4 280.7,348.3 281.6,343.3 280.7,324.3 281.5,318.3 284.8,306.3 285.7,300.3 285.9,295.3 285.3,285.3 287.8,279.3 288.6,275.3 289.5,266.3 289.3,261.3 290.1,257.3ZM307,257.3 306.4,261.3 310.2,264.1 310.6,265.3 309.4,276.3 308.3,280.3 306.2,284.3 301.2,290.4 300.2,290.6 299.7,288.3 299.7,285.3 302.6,277.3 304,266.3 303.9,264.3 301.8,261.3 302.2,257.3ZM314,257.3 318.9,257.3 318.2,262 316.2,262 314.3,261.3 313.7,260.3ZM332.2,257.3 332.6,262.3 336.2,264.4 337.6,266.3 337.4,272.3 336.5,278.3 335.5,281.3 334.2,283 330.9,285.3 328.6,289.3 327.7,292.3 327.1,299.3 328.5,315.3 328.5,321.3 328.1,325.3 324.7,338.3 323.3,345.3 323.1,351.3 324.1,362.3 324,367.3 323.4,371.3 317.8,371.3 318.1,363.3 317.4,348.3 318.2,342.6 321.6,329.3 322.4,322.3 321.5,303.3 320.8,298.3 321,294.3 321.7,291.3 322.6,289.3 327.2,284.3 329,281.3 330.6,273.3 331.2,265.3 330.8,264.3 326.4,261.3 326.2,257.3ZM360.7,257.3 364.4,260.3 364.9,261.3 364.8,263.3 360.3,283.3 359.2,285.1 356.5,286.3 356.1,287.3 356.3,292.3 355,300.3 356,303.3 359.9,305.3 360.8,307.3 359.4,315.3 358.2,316.3 355.2,316.8 354.7,317.3 351.8,327.3 350.6,336.3 351.3,350.3 351.1,355.3 347.4,371.3 342.1,371.3 345,361.3 345.9,355.3 345.9,350.3 344.8,339.3 345.2,331.9 348.2,320.2 349,318.3 351.2,316.7 352,315.3 353.8,307.3 353.2,305.3 352.2,304.1 349.6,302.3 349.1,301.3 349.1,296.3 350.2,284 349.2,283.3 344.2,284 342.8,285.3 342,287.3 341,302.3 342.2,304 344.2,304.6 345.5,306.3 345.5,308.3 344.3,315.3 341.8,319.3 337.5,336.3 336.9,344.3 337.5,360.3 336.3,368.3 335.5,371.3 330.1,371.3 331.8,364.3 332.2,359.3 331.2,346.3 331.2,340.3 332.1,335.3 335.5,322.3 336,318.3 336,308.3 335,300.3 335.9,289.3 337.5,286.3 342.6,282.3 343.7,278.3 344.7,270.3 344.6,266.3 340.4,261.3 339.9,257.3 346.3,257.3 346.5,260.3 347.2,262.2 350.2,265 351.4,268.3 351.5,272.3 349.9,280.3 350.2,282.3 351.2,283 354.2,282.1 355.6,280.3 358.5,263.3 358.5,261.3 358,260.3 354.4,257.3ZM375.8,257.3 379.2,259.1 379.4,261.3 372,286.3 370.1,294.3 367.9,299.3 367.4,304.3 366.2,304.4 364.5,303.3 364.1,302.3 363.2,295.3 372.3,261.3 372,259.3 370.1,257.3ZM383.3,257.3 387,257.3 386.2,258.6ZM398.8,257.3 397.9,258.3 393.2,259.5 392.8,263.3 389.2,276.3 387,281.3 384.9,290.3 383.4,293.3 381.6,299.3 380.6,308.3 378.7,316.3 378.3,320.3 379,340.3 378.2,345.7 374.5,359.3 373.6,365.3 373.6,371.3 367.8,371.3 368.2,363.3 371.9,349.3 373,342.3 372.2,325.3 372.7,318.3 370.9,315.3 371.2,308.3 371.6,307.3 374.3,304.3 375.2,297.6 376.2,295.3 377.8,293.3 380.2,281.7 387.2,259.5 393.1,259.3 393.7,257.3ZM410.1,257.3 406.5,260.3 404.4,274.3 401.2,281 399.6,288.3 396.9,292.3 394.6,305.3 392.3,311.3 391.8,318.3 392.8,333.3 392.2,338.3 388.8,351.3 387.7,357.3 387.5,363.3 388.1,371.3 382,371.3 381.3,361.3 382.2,355.3 385.8,342.3 386.8,336.3 387,330.3 386.2,315.3 388.6,304.3 389,299.3 391.1,293.3 392.8,290.3 394.2,284 396.7,277.3 400.1,260.3 402.2,259 405.2,258.4 405.8,257.3ZM423.6,257.3 422.8,259.3 420.4,262.3 419.4,279.3 420.2,284.9 420.2,290.3 420.8,293.3 422.6,298.3 422.9,302.3 422.3,305.3 419.7,311.3 419.9,322.3 415.4,342.3 415.1,348.3 416,361.3 415.7,366.3 414.9,371.3 409.8,371.3 410.1,364.3 409.1,354.3 409.2,346.4 410.2,341.2 414.1,327.3 414.7,321.3 414.4,312.3 416.7,306.3 417.1,298.3 415.8,293.3 416.3,289.3 413.6,285.3 412.9,282.3 412.9,278.3 415.1,263.3 418.1,260.3 418.4,257.3ZM437.7,257.3 438.2,264.3 435.7,269.3 436.7,280.3 436.5,283.3 435,293.3 432.9,297.3 433.8,309.3 433.7,315.3 432.2,322.9 429.3,333.3 428.4,339.3 429.3,355.3 428.9,362.3 426.8,371.3 422.1,371.3 424.1,360.3 423.2,345.3 423.3,339.3 424.2,334.4 427.7,321.3 428.4,316.3 427.6,298.3 429.8,280.3 428.8,269.3 430.2,267 432.6,265.3 432.2,257.3ZM451.9,257.3 451.8,264.3 450.5,269.3 451.6,282.3 449.9,293.3 447.1,297.3 447.6,304.3 447.1,310.3 442.2,331.3 442.1,337.3 443,349.3 442.7,355.3 438.6,371.3 433.8,371.3 436.9,360.3 437.6,355.3 437.7,349.3 436.8,337.3 437.2,331.6 442.1,310.3 442.3,305.3 441.6,297.3 443.1,293.3 444.6,281.3 443.7,269.3 444.7,267.3 446.5,265.3 446.6,257.3ZM465.8,257.3 464.1,266.3 466.4,278.3 466.5,281.3 464.8,291.3 463.2,293.3 461.7,294.3 461.2,295.3 461.1,302.3 460.2,308.2 457.7,317.3 456.3,324.3 454.5,329.3 454.1,332.3 454.6,337.3 456.8,343.3 456.2,350.5 452.4,364.3 451.6,371.3 445.9,371.3 446.4,368.3 450,356.3 451.3,349.3 451.5,343.3 450.2,332.4 450.3,326.3 451.2,321.3 455,307.3 455.9,301.3 456,297.3 458.4,292.3 459.8,281.3 458.4,269.3 460,257.3ZM478.5,257.3 476.2,266.3 477.5,269.3 479.9,279.3 478.4,288.3 477.2,290.6 475.3,292.3 474.2,300.9 470.6,315.3 470,324.3 468.5,329.3 468.1,333.3 468.5,336.3 470.1,340.3 470.3,342.3 469.2,346.8 466.4,351.3 465.5,354.3 465.7,371.3 459.3,371.3 459.3,367.3 460.2,361.3 463.8,349.3 464.7,343.3 464.5,341.3 461.9,336.3 461.4,333.3 461.6,330.3 463.7,324.3 464.2,318.9 468.6,301.3 469.6,293.3 472.2,289.3 473.9,280.3 473.7,277.3 470.9,267.3 470.8,265.3 472.9,257.3ZM490.4,257.3 489.3,263.3 491.2,266.3 492.8,270.3 491.2,275.3 488.9,278.3 488.9,289.3 488.2,293.7 484.7,307.3 484,312.3 484.4,324.3 482.8,329.3 482.4,332.3 483.3,340.3 479.4,353.3 479.3,361.3 480.2,371.3 473.7,371.3 472.5,355.3 473.1,352.3 475.9,347.3 477.4,341.3 477.3,339.3 475.8,335.3 475.5,332.3 476,329.3 477.8,324.3 477.6,317.3 478,312.3 482.8,292.3 482.9,280.3 485.8,276.3 487.4,272.3 487,270.3 483.6,265.3 483.3,263.3 484.9,257.3ZM501.2,257.3 501.2,291.4 498.8,299.3 497.7,306.3 498.6,322.3 498.2,329.3 494.7,342.3 493.4,349.3 493.3,360.3 494.1,366.3 494.1,371.3 488,371.3 486.9,360.3 486.9,352.3 490.1,339.3 489.9,331.3 492.3,324.3 491.4,312.3 491.9,305.3 496.5,286.3 496.8,277.3 500.9,269.3 501,268.3 496.9,262.3 496.4,260.3 496.9,257.3ZM319.2,262.4 323.9,264.3 324.3,267.3 323.4,274.3 321.7,281.3 320.2,283.8 315.2,289.3 313.9,293.3 313.7,297.3 314.3,304.3 313.8,311.3 314.6,327.3 314.1,332.3 310.7,345.3 309.5,352.3 309.4,358.3 310.3,371.3 304.2,371.3 303.4,360.3 303.5,355.3 304.2,350.2 307.8,336.3 308.8,329.3 307.9,313.3 308.9,303.3 307.6,297.3 307.6,293.3 308.7,290.3 313.2,285.5 315.4,281.3 316.5,276.3 318.3,263.3ZM408.2,290.9 408.9,291.3 409.2,292.3 408.7,295.3 409.2,299.3 409,303.3 408.3,306.3 405.6,312.3 406.3,324.3 406,330.3 402.7,344.3 401.5,351.3 402.1,371.3 396.3,371.3 395.2,361.1 395.1,354.3 396.1,348.3 399.8,335.3 400.9,329.3 400.2,311.3 402.4,304.3 403,295.3 404.2,291.2 405.2,290.7ZM299.2,296.9 300.2,297.2 302,303.3 300.4,310.3 299.8,315.3 300.7,331.3 300.2,338.3 295.8,358.3 295.5,363.3 296,371.3 290.2,371.3 289.7,364.3 290.1,358.3 293.8,344.3 295.4,336.3 294.5,321.3 294.7,315.3 296.2,307.3ZM362.2,316.4 364.8,317.3 365.7,318.3 364.4,328.3 365.2,342.3 364.9,348.3 360.6,366.3 360,371.3 354.4,371.3 359.1,352.3 359.5,346.3 358.5,334.3 358.5,329.3 360.1,320.3 361.2,316.9Z"/><path fill="#d4d4ff" fill-rule="evenodd" d="M316.9,257.3 316.2,259.7 316,257.3ZM327.2,257.3 331.2,257.3 331.1,261.3 330.2,262.7 328.6,262.3 327.5,261.3ZM340.7,257.3 345.4,257.3 346.2,263.1 349.2,264.5 350.2,265.6 351.2,268 351.2,273.3 349.4,281.3 348.6,282.3 347.2,282.8 345.2,282.9 344.2,282.4 343.8,281.3 345.2,266.3 344.9,265.3 341.3,261.3ZM359.9,257.3 360.3,258.3 362.2,259 364,260.3 364.7,262.3 362.4,274.3 360.2,282.9 359.2,284.7 357.2,285.5 356.2,285.2 355,283.3 356.2,279.3 358.9,261.3 358.6,260.3 355.2,257.3ZM374.1,257.3 378.2,258.6 378.9,259.3 379.2,261.3 369.6,294.3 366.7,299.3 366.8,302.3 366.2,303.4 365.7,302.3 365.9,299.3 363.9,297.3 363.6,295.3 372.8,261.3 372.6,259.3 370.7,257.3ZM384.1,257.3 386.2,257.3 385.2,257.6ZM394.5,257.3 397.7,257.3 395.2,258.3ZM465,257.3 463.2,266.3 464.4,269.3 466.2,280.3 464.3,291.3 463.2,292.6 461.2,293.2 459.4,292.3 459,290.3 460.3,280.3 459,269.3 460.5,262.3 461,257.3ZM478,257.3 475.6,266.3 477.2,269.4 479.2,278.3 479.2,280.3 477.5,289.3 476.2,290.7 473.2,291.1 473.1,287.3 474.4,278.3 471.4,267.3 471.4,265.3 473.4,257.3ZM489.9,257.3 488.7,263.3 490.8,266.3 492.2,270.3 490.7,275.3 487.8,277.3 488.1,286.3 487.6,292.3 483.5,311.3 483.2,316.3 483.7,324.3 482,332.3 482.8,339.3 478.9,353.3 478.5,361.3 479.5,371.3 474.4,371.3 473.8,362.3 472.9,358.3 472.9,354.3 474.1,351.3 475.7,349.3 476.6,347.3 478.3,340.3 476.1,335.3 475.8,331.3 477.2,327.1 478.5,325.3 478.3,316.3 478.7,311.3 483.8,292.3 484.3,286.3 483.9,280.3 486.7,276.3 488.1,271.3 488.2,270.3 486.2,268.6 484.2,265.3 483.9,263.3 485.4,257.3ZM497.5,257.3 501.2,257.3 501.2,266.5 500.2,266.1 497,261.3ZM404.2,259.3 405.6,260.3 405.7,262.3 403.8,274.3 401.1,280.3 399.3,288.3 396.6,291.3 395.2,297.3 395,301.3 394.2,305 391.7,309.3 390.6,313.3 389.8,321.3 391.4,331.3 391.4,338.3 387.1,357.3 386.6,371.3 383.3,371.3 382.2,364.6 382.2,359.5 383.2,353.4 386.5,342.3 388.1,334.3 388.6,325.3 387.7,313.3 388.8,306.3 389.2,300.1 392.8,291.3 394.2,285.4 396.8,278.3 400.2,261.2 401.2,259.8ZM391.2,259.7 392.4,260.3 392.6,261.3 392.2,264.3 389.2,275.3 386.2,282.8 384.5,290.3 382.5,293.3 380.2,306.6 377.5,317.3 376.9,325.3 378,339.3 377.3,346.3 373.6,360.3 372.6,365.3 372.3,371.3 369.1,371.3 369.2,362.9 373.7,345.3 374.3,339.3 373.4,325.3 373.8,318.3 373.4,317.3 372.2,316.6 371.4,315.3 372,308.3 372.3,307.3 374.5,305.3 375.2,299.3 376.2,296.3 378.8,293.3 379.2,288 380.2,283.1 386.9,261.3 388.2,259.8ZM418.2,261.8 419.4,262.3 420.2,265.3 418.7,282.3 419.5,285.3 420.1,294.3 422.1,298.3 422.5,301.3 422.2,303.8 421.2,306.5 420.2,307.7 419.2,308 418.2,307.7 417.5,306.3 417.7,298.3 416.4,293.3 417,288.3 415.2,286.7 414.4,285.3 413.6,280.3 415.2,264.3 416.2,262.7ZM307.2,263.3 309.2,264.1 310.2,265.7 310.2,269.3 309.2,276.3 307.2,281.7 304.6,284.3 303.2,287.5 301.2,288.9 300.6,287.3 300.7,285.3 302.3,280.3 304.7,265.3 305.2,264.2 306.2,263.4ZM293.2,264.1 294.2,264.8 295.2,267 295.2,273.6 294.2,277.7 292.2,281.3 291.2,282.2 290.2,282.4 289.5,283.3 290.6,291.3 290.5,297.3 289.2,303 287.2,306.1 286.7,285.3 287.2,282.9 288.5,280.3 289.2,271.9 290.2,266.6 291.2,264.5ZM320.2,263.6 322.8,264.3 323.7,265.3 324,267.3 323.4,273.3 322.2,279.3 321.2,281.6 314.3,289.3 313.8,291.3 313.3,297.3 313.5,303.3 312.6,312.3 313.5,325.3 313.3,331.3 309.6,346.3 308.3,354.3 309.3,371.3 305.4,371.3 304.5,358.3 304.8,352.3 306.2,345.4 309.5,333.3 310.2,327.3 309.1,311.3 309.8,303.3 308.2,298.3 308,293.3 308.6,291.3 311.2,288.3 313.2,287.6 315.9,281.3 318.2,266.5 319.2,263.9ZM334.2,263.8 336.2,265 337.2,266.3 337.3,272.3 336.3,278.3 335.2,281 333.2,283.1 330.7,284.3 327.7,290.3 326.4,301.3 327.8,317.3 327.8,323.3 326.2,331 322.6,343.3 321.7,349.3 321.7,354.3 323,365.3 322.7,371.3 318.6,371.3 319.3,362.3 318.6,350.3 319.2,341.8 322.5,328.3 323.2,321.3 322.7,303.3 321.2,298.6 321.3,294.3 322,291.3 324.2,288 326.7,286.3 329.6,281.3 331.8,265.3 332.2,264.3 333.2,263.7ZM279.2,264.9 280.2,265.4 281.2,267.2 281.2,272.7 279.7,278.3 278.2,280.6 277.2,281.1 275.2,280.3 274.8,279.3 274.7,274.3 276.2,268.7 278.2,265.5ZM432.2,266.7 434.2,267.3 435,268.3 436.2,282.3 434.4,293.3 433.2,294.9 430.2,296 428.7,292.3 430.2,281.3 429.1,270.3 430.2,267.7ZM448.2,266.4 449.2,266.5 449.8,268.3 451.1,282.3 449.5,293.3 448.2,294.9 445.2,295.3 444.2,295 443.8,292.3 445.1,281.3 444.1,270.3 445.2,267.6 446.2,266.8ZM501.2,270.5 501.2,289.8 500.1,292.3 497.9,300.3 496.8,307.3 497.7,322.3 497.6,328.3 492.6,350.3 493.1,355.3 492.6,361.3 493.2,371.3 488.8,371.3 488.1,363.3 487.2,359 487.1,354.3 490.7,339.3 490.2,331.3 491.2,328.5 492.9,326.3 493.1,325.3 492.2,311.3 492.6,305.3 497.4,285.3 497.9,276.3 500.2,271.4ZM274.2,281.8 275.2,285.8 276.3,297.3 276.2,301.4 275.2,305 274.2,302.3 272.9,291.3 273.1,285.3ZM340.2,286.5 341.2,288.5 341.4,292.3 341.1,297.3 339.7,302.3 341.2,305.4 343.2,304.9 344.2,305.3 345.1,307.3 344.2,314.4 343.4,316.3 341.5,318.3 336.9,335.3 334.2,349.6 332.9,346.3 332.2,340.3 332.8,335.3 336.1,322.3 336.9,316.3 337.1,303.3 335.6,299.3 335.7,294.3 336.2,290.2 337.2,287.9 338.2,286.9ZM353.2,286.5 355.2,288.3 355.9,292.3 355.2,296.9 353.6,302.3 353.8,303.3 353.2,303.6 350.2,301 349.5,297.3 350.6,289.3 352.2,286.7ZM407.4,291.3 408.5,292.3 408.1,295.3 408.9,300.3 408.5,304.3 407.2,307.4 406.2,308.4 404.2,309.2 403.2,312.2 402.2,312.3 401.9,309.3 402.8,305.3 403.7,294.3 404.3,292.3 405.1,291.3ZM473.2,291.5 473.7,296.3 473.4,301.3 470.1,315.3 469.3,324.3 467.7,332.3 467.8,335.3 469.2,340.3 469.2,342.2 468.2,345.9 466.2,349.4 465.8,348.3 466.1,340.3 465.4,339.3 464.2,339 463.2,338 462.3,336.3 461.8,331.3 462.2,329.3 464.2,325.3 465.5,315.3 472.2,291.7ZM300.2,299.2 301.2,303.4 300.2,306.6 298.2,310 297.7,307.3 298.2,303.5 299.2,299.6ZM458.2,301.1 459.2,301.3 459.3,308.3 455.6,324.3 453.7,330.3 453.2,336.4 452.2,334.9 451.4,331.3 451.3,325.3 453.2,316.7ZM358.2,304.9 360.1,306.3 360.3,307.3 359.1,314.3 358.2,315.7 355.2,316 354,317.3 350.7,329.3 349,342.3 348.2,345.3 347.2,343.7 345.8,337.3 345.9,332.3 347.2,325.7 349.1,319.3 352.6,315.3 354.2,308.6 355.2,306.3 356.3,305.3ZM444.2,313.7 444.2,316.4 443.2,320.6 440.2,328.5 440.2,325.8 441.2,321.5ZM363.2,317.2 364.9,318.3 365,319.3 363.5,328.3 363.2,348.7 359.5,365.3 358.7,371.3 355.6,371.3 356.2,367.7 361,352.3 361.4,346.3 359.7,334.3 359.5,328.3 361.2,318.9 362,317.3ZM403.2,329.1 404.2,330.5 404.2,334.3 400.8,351.3 401,366.3 400.6,371.3 397.8,371.3 396,360.3 396,352.3 398.2,342.9ZM414.2,334.1 415.2,334.3 414,347.3 414.6,363.3 413.2,370.4 412.6,371.3 412,371.3 410.2,355.3 410,348.3 411.2,341ZM298.2,338.5 298.2,342.8 294.6,359.3 293.9,371.3 292.2,371.3 291,364.3 291.2,357.4 295.2,343.6 297.2,338.7ZM284.2,343.7 284.7,346.3 284.2,351.3 279.2,368 278.2,366.3 278.3,361.3 281.2,350.6 283.2,345.1ZM270.2,344.6 271.2,345.3 271.7,351.3 271.2,355.2 269.2,361.5 269.2,347.3ZM464.2,353.4 464.9,371.3 460.1,371.3 460.2,367 461.2,361.3ZM335.2,359.3 335.8,364.3 334.8,371.3 330.9,371.3 334.2,360.3ZM347.2,361.9 347.5,364.3 346.5,371.3 343,371.3 345.2,365.2ZM450.2,363.3 450.7,366.3 450.6,371.3 447,371.3 448.2,366.5ZM436.6,371.3 435.9,371.3 436.2,370.3Z"/><path fill="#bfbfff" fill-rule="evenodd" d="M341.8,257.3 344.3,257.3 344.7,262.3 344.2,263.3 342.2,261ZM356.1,257.3 358.9,257.3 358.9,258.3 358.2,259ZM371.4,257.3 372.7,257.3 372.2,257.8ZM376.2,258.1 378.6,259.3 378.9,261.3 369.2,294.2 368.2,296.5 367.2,297.7 366.2,298 365.2,297.7 364.2,296.7 364.2,294 373.6,259.3 374.9,258.3ZM463,257.3 463.3,257.3 463.2,259.4ZM477.4,257.3 474.7,267.3 476.2,268.4 477.1,270.3 478.8,279.3 477.5,288.3 476.2,290 475.2,290 474.2,289.5 473.7,288.3 474.9,278.3 472,266.3 474.1,257.3ZM486,257.3 489.3,257.3 487.8,264.3 488.2,265 489.2,265.1 490.2,265.9 491.5,270.3 490.8,274.3 490.2,275.3 489.2,275.6 488.1,274.3 489.2,270.3 488.2,268.2 486.2,267.4 484.4,264.3ZM498.1,257.3 501.2,257.3 501.2,259.7 500.2,263.9 499.2,263.5 497.8,261.3ZM362.2,259.4 363.7,260.3 364.5,262.3 363.2,269.7 360.2,282.3 359.2,284.4 358.2,285 357.2,284.9 356.4,284.3 356,282.3 359.3,260.3 360.2,259.5ZM391.2,260.1 392.2,261.1 392.3,262.3 389.2,274.1 386,282.3 384.2,289.8 383.2,291.3 381.2,292.2 380.2,291.5 379.8,290.3 380.2,285.5 386.9,262.3 388.2,260.2ZM404.2,260 405.2,261.3 405.2,262.3 403.8,271.3 402.8,275.3 400.7,280.3 399.2,287.6 398.2,289.3 396.1,290.3 394.6,296.3 394.6,301.3 393.5,305.3 392.2,307 390.2,307.1 389.5,303.3 389.8,299.3 392.1,295.3 395.2,284.2 396.2,282.4 400.6,261.3 401.2,260.3 402.2,259.8ZM418.2,262.7 419.2,263.3 419.7,266.3 417.8,280.3 416.2,285 415.2,284.5 414.4,281.3 414.4,275.3 415.7,264.3 417.2,262.7ZM307.2,264.3 309.4,265.3 310,267.3 309.2,275.5 308.2,278.9 306.2,282 305.2,282.3 304.2,282.1 303.2,281.2 302.9,279.3 303.2,275.3 305,266.3 306.2,264.6ZM321.2,264.3 323.2,265.3 323.7,267.3 323.3,273.3 322.3,278.3 320.2,282.1 317.2,283 316.8,282.3 316.5,278.3 318.2,267.6 319.2,265.1 320.2,264.3ZM334.2,264.4 336.2,265.5 337.2,267.3 337.2,272.1 336.2,277.8 335.2,280.3 334.2,281.7 332.2,282.7 331.1,282.3 330.3,281.3 330.2,277.3 332.2,265.9 333.2,264.6ZM348.2,264.6 349.4,265.3 350.7,267.3 351.2,272.3 349.2,280.4 348.2,281.7 346.2,282.2 345.2,281.8 344.3,280.3 344.3,276.3 345.9,266.3 347.2,264.8ZM293.2,265.8 294.2,266.4 294.9,268.3 294.9,273.3 293.5,278.3 292.2,280.1 291.2,280.6 290.2,280.3 289.1,278.3 289.5,272.3 290.2,268.7 290.9,267.3 292.2,266.1ZM279.2,267.3 280.2,267.6 280.5,268.3 280.7,273.3 279.2,278.1 278.2,279 277.2,279 276,277.3 275.8,273.3 277.2,269.1ZM432.2,267.4 433.9,268.3 434.4,269.3 435.8,281.3 434.2,292.6 433.2,294.2 431.2,294.6 430.2,294.1 429.2,292.3 430.6,281.3 429.5,270.3 430.2,268.3ZM447.2,267.4 448.2,267.6 449.5,269.3 450.8,281.3 449.4,292.3 448.2,294.2 447.2,294.6 445.2,294 444.4,292.3 445.6,281.3 444.5,270.3 445.2,268.3ZM461.2,267.3 463.2,267.8 464,269.3 465.7,279.3 464.2,290.3 463.2,292 462.2,292.4 460.2,291.7 459.6,290.3 460.8,280.3 459.5,270.3 460.2,268.2ZM500.2,273.3 501.2,274.4 501.2,284.8 496.7,301.3 495.9,306.3 495.7,311.3 496.6,322.3 496.5,329.3 491.7,350.3 492.7,355.3 492.6,358.3 491.7,361.3 492,371.3 490,371.3 489,362.3 487.5,358.3 487.4,354.3 491.8,337.3 490.6,334.3 490.7,331.3 491.2,329.6 492.2,328.7 493.2,328.8 494.1,327.3 493.2,307.3 494.2,301 497.9,288.3 498.8,283.3 498.9,276.3ZM339.2,288.1 340.2,288.7 340.9,290.3 341.1,294.3 340.2,299 339.2,300.4 338.2,300.9 337.2,300.7 336.2,299.5 336,294.3 337.2,289.2 338.2,288.3ZM312.2,289 313.2,291.3 312.2,301 310.2,301 309.2,300.1 308.6,298.3 308.4,293.3 310.2,289.8 311.2,289.1ZM325.2,288.4 326.5,289.3 326.8,290.3 326.8,294.3 326.1,298.3 325.2,300.2 324.2,301.1 323.2,301 322.2,300.1 321.5,295.3 322,292.3 322.9,290.3 324.2,288.8ZM353.2,288.5 354.2,288.9 355,290.3 355.4,293.3 354.2,298.7 353.2,300.1 352.2,300.5 351.2,300.2 350.2,298.7 350,294.3 351.2,289.8 352.2,288.7ZM418.2,289.6 418.9,292.3 418.2,294.6 417.5,293.3ZM406.2,291.8 407.6,292.3 407.3,295.3 408.2,297.6 408.6,300.3 408.1,304.3 407.2,306.3 406.2,307.1 405.2,307 404.2,306.2 403.7,305.3 403.5,303.3 404.2,295 405.1,292.3ZM485.2,292.7 486.1,293.3 482.5,313.3 482.8,325.3 481.5,333.3 482,339.3 478.4,351.3 478.5,357.3 477.4,361.3 478.6,371.3 475.2,371.3 474.9,362.3 473.3,358.3 473.2,355.1 474.2,352 477.1,349.3 479.6,339.3 479.4,338.3 478.2,337.8 476.9,336.3 476.2,334.3 476.1,331.3 477.2,328.1 479.5,326.3 479,318.3 479.2,312.3 481.2,303.8ZM378.2,295.8 380.2,296.4 380.5,299.3 379.9,304.3 378.2,307.5 377.2,307.4 375.6,306.3 375.2,303.3 375.4,300.3 376.2,297.5 377.2,296.2ZM420.2,296.7 421.5,298.3 422,302.3 421.2,305 420.2,306.2 419.2,306.3 418,304.3 418,300.3 418.9,297.3ZM471.2,301.3 471.8,302.3 471.7,304.3 468.9,318.3 467.2,335.6 466.2,337.2 464.2,337.8 463.2,337 462.4,335.3 462.2,330.8 463.2,328 465.1,326.3 465.4,320.3 466.2,314.8 468.2,307.9ZM343.2,305.7 344.2,306.1 344.6,307.3 343.4,315.3 340.9,317.3 338.2,328.8 335.2,337.3 334.2,338.8 333.8,336.3 334.2,332.3 336.8,322.3 338.7,309.3 339.2,307.9 340.2,309.7 341.2,310.2 341.8,307.3ZM358.2,305.5 359.5,306.3 359.7,307.3 358.2,314.9 357.2,315.5 356.2,315.4 355.5,314.3 356.4,307.3 357.2,305.8ZM324.2,307.4 325.2,307.6 326.2,312.6 327,319.3 326.9,323.3 325.2,331.8 321.2,341.7 321.2,337.8 324.1,323.3ZM373.2,309.3 373.5,314.3 373.2,315.3 372.2,315.3 372.2,313.3ZM457.2,310.9 456.2,317.3 453.2,327.8 452.7,325.3 453.2,320.3 456.2,311.8ZM352.2,317.1 352.9,317.3 352.2,321.1 348.2,334.8 347.2,334.8 347.2,329.3 348.2,324.5 349.9,319.3ZM363.2,318.2 363.8,319.3 361.2,330.6 361.2,323.1 362.2,319.1ZM389.2,337.4 390,339.3 389.7,342.3 386.6,355.3 385.2,366.4 384.2,367.1 383.2,363.2 383.2,357.1 385.2,348.7ZM401.2,338.5 401.8,339.3 400,352.3 399.2,366.1 398.2,365.3 397.2,361.6 396.6,353.3 398.2,345.2ZM375.2,345.9 375.2,349.8 372.2,359.9 371.7,359.3 372.2,355.8ZM412.2,347.7 412.2,355.9 411.8,351.3ZM462.2,364.2 463.2,365 464,371.3 461.1,371.3 461.2,368.3ZM321.2,367.2 321.6,371.3 319.7,371.3 320.2,369.1ZM333.2,369.2 333.6,371.3 332,371.3Z"/><path fill="#aaaaff" fill-rule="evenodd" d="M377.2,258.7 378.2,259.3 378.7,260.3 378.2,263 369.2,292.8 367.7,296.3 366.2,297.2 365.2,296.9 364.4,295.3 369.2,276.7 374.2,260 375.2,258.7ZM362.2,259.7 364.1,261.3 364.2,263.3 360.2,281.4 359.2,283.9 358.2,284.6 357.2,284.3 356.6,282.3 359.8,261.3 360.3,260.3ZM390.7,260.3 391.8,261.3 391.9,262.3 389.2,272.8 386,281.3 383.8,289.3 383.2,290.5 382.2,291 381.2,290.8 380.4,289.3 381,285.3 387.2,262.5 388.2,260.7 389.2,260.2ZM403.2,260.1 404.2,260.7 404.7,262.3 402.8,273.3 400.7,279.3 398.2,288.5 397.2,288.7 396.4,287.3 400.2,264.5 401.2,260.9ZM418.2,263.4 419.2,264.3 419.3,266.3 417.9,276.3 416.2,281.7 415.2,281.1 414.9,279.3 415.2,271.4 416.2,264.3 417.2,263.4ZM308.2,265.3 309.2,266.1 309.7,268.3 309.2,274.6 307.2,280.1 306.2,281.1 305.2,281.3 303.8,280.3 303.2,278.4 304.2,270 305.6,266.3 307.2,265.2ZM321.2,265 322.3,265.3 323.2,266.3 323.2,273.1 321.6,279.3 320.2,281.4 319.2,281.8 318.2,281.6 317.1,280.3 316.8,278.3 317.2,273.9 319.1,266.3 320.2,265.1ZM334.2,265 336.2,266 336.9,267.3 337,272.3 336.2,277 335.2,279.6 334.2,281 332.2,281.7 330.8,280.3 330.6,276.3 332.2,267 333.2,265.5ZM348.2,265.3 349.2,265.7 350.4,267.3 351,270.3 350.9,273.3 349.2,279.4 348.2,280.9 346.2,281.3 345.2,280.6 344.6,279.3 344.6,275.3 346.1,267.3 347.2,265.8ZM489.2,266.3 490.2,267.3 490.2,268.6 489,267.3ZM293.2,267.1 294.2,267.9 294.6,269.3 294.4,274.3 293.2,277.8 292.2,279 291.2,279.3 290.2,278.7 289.6,277.3 289.8,272.3 291.2,268.3 292.2,267.3ZM432.2,268 433.2,268.5 434,270.3 435.4,281.3 433.8,292.3 433.2,293.5 432.2,294 430.3,293.3 429.7,291.3 431,281.3 429.9,270.3 430.1,269.3 430.9,268.3ZM447.2,268 448.2,268.4 449.2,270.3 450.5,281.3 448.9,292.3 448.2,293.6 447.2,294 445.4,293.3 444.9,291.3 446.2,281.3 445,270.3 446,268.3ZM462.2,268.1 463.5,269.3 465.3,280.3 463.7,290.3 463.2,291.3 462.2,291.8 460.7,291.3 460.1,289.3 461.3,280.3 460.1,270.3 461.2,268.3ZM279.2,269 280.2,269.9 280.3,273.3 279.2,276.6 278.2,277.4 277.2,277 276.6,273.3 277.7,270.3ZM475.2,268.8 476.2,269.1 478.3,279.3 477.2,287.7 476.2,289.3 475.2,289.3 474.4,288.3 474.3,287.3 475.6,279.3 474.2,270.3 474.4,269.3ZM490.2,271.3 490.5,272.3 490.2,274.3 489.2,274.5 489.2,272.8ZM311.2,289.9 312.2,290.3 312.6,291.3 312.6,295.3 311.9,298.3 310.2,299.6 309,298.3 308.6,294.3 309.2,292ZM325.2,289.6 326.2,291.3 326.2,295.8 325.2,298.5 324.2,299.5 323.2,299.6 322.2,298.5 321.9,297.3 322.1,293.3 323.2,290.6 324.2,289.6ZM339.2,289.3 340.2,290.2 340.5,291.3 340.6,295.3 339.8,298.3 338.2,299.7 337.2,299.3 336.6,298.3 336.3,294.3 337.2,290.6 338.2,289.5ZM353.2,289.8 354.5,291.3 354.8,294.3 354.1,297.3 353.2,298.8 352.2,299.2 351.2,298.7 350.6,297.3 350.5,294.3 351.2,291.3 352.2,290ZM378.2,297 379.5,298.3 379.9,301.3 379.1,304.3 378.2,305.6 377.2,305.9 376.2,305.4 375.8,304.3 375.7,301.3 376.2,298.7 377.2,297.3ZM393.2,297.2 394.2,300.3 394,302.3 393.2,304.8 392.2,305.7 391.2,305.8 390.1,304.3 390,300.3 391.2,297.8 392.2,297.1ZM406.2,296.8 407.2,297.2 408.2,300.3 407.6,304.3 406.2,306 404.9,305.3 404.1,302.3 404.8,298.3ZM420.2,298.2 421.2,299.3 421.4,302.3 420.2,304.7 419.2,304.7 418.5,303.3 418.4,301.3 419.2,298.9ZM358.2,306.3 359.1,307.3 358.2,312.4 357.2,314.4 356.8,313.3 357.1,308.3ZM343.2,307.2 343.6,308.3 343.2,314 342.2,314.5ZM465.2,328.2 466.6,329.3 466.8,333.3 466.2,335.6 465.2,336.6 464.2,336.8 462.9,335.3 462.5,331.3 463.2,329 464.2,328.2ZM478.2,328.2 480.1,329.3 480.9,331.3 480.2,335.3 479.4,336.3 478.2,336.8 476.9,335.3 476.3,332.3 477.2,328.9ZM492.2,330.2 493.4,332.3 493,334.3 492.2,335 491.2,334.4 491,332.3 491.2,331ZM490.2,350.7 492,353.3 492.4,356.3 491.7,359.3 490.2,361 488.2,359.2 487.7,356.3 488.2,352.8ZM476.2,351.7 477.6,353.3 478.1,356.3 477.3,359.3 476.2,360.4 475.2,360.2 474.2,359.1 473.6,356.3 474.2,353 475.2,351.9Z"/><path fill="#9595ff" fill-rule="evenodd" d="M377.2,259 378.2,259.9 378.4,261.3 375.2,272.3 368.2,294.1 367.2,296 366.2,296.5 365.2,295.9 365.1,294.3 369.4,277.3 374.6,260.3 375.2,259.3ZM362.2,260 363.8,261.3 363.9,263.3 360.2,280.5 359.2,283.4 358.2,284.1 357.2,283.3 357.1,282.3 358.4,271.3 360.3,261.3 361,260.3ZM390.2,260.6 391.4,261.3 391.2,264.1 383.2,289.4 382.2,290.1 381.2,289.4 381.1,288.3 384.2,274.3 388.1,261.3 389.2,260.6ZM403.2,260.7 404.2,262.3 402.2,273.7 398.2,287 397.7,285.3 398.1,279.3 401.2,261.7 402.2,260.7ZM418.2,264.2 418.7,265.3 417.2,276.6 416.2,278.8 415.5,275.3 416.2,267 417.1,264.3ZM308.2,266.1 309.2,267.2 309.4,268.3 308.8,275.3 307.2,279.4 306.2,280.3 305.2,280.4 304.2,279.7 303.6,278.3 304.2,271 305.2,267.8 306.2,266.5 307.2,266ZM321.2,265.6 322.2,265.9 323.1,267.3 323.2,272.3 321.8,278.3 320.2,280.7 319.2,281 318.2,280.7 317.2,279.2 317.3,274.3 318.2,269.4 319.2,266.8 320.2,265.8ZM334.2,265.7 335.2,265.8 336.6,267.3 337,271.3 335.5,278.3 334.2,280.4 333.2,281 332.2,280.9 331.2,279.9 330.7,276.3 332.2,267.9 333.2,266.3ZM348.2,266 349.2,266.2 350.2,267.4 350.8,272.3 349.2,278.7 348.2,280.1 347.2,280.6 346.2,280.4 345.2,279.4 344.8,275.3 346.1,268.3 347.2,266.7ZM293.2,268.4 294.2,269.8 294.2,273.8 293.2,276.7 292.2,277.8 291.2,278 290.1,276.3 290.2,272.1 291.2,269.5 292.2,268.5ZM432.2,268.6 433.2,269.3 433.5,270.3 434.9,281.3 433.2,292.6 432.2,293.4 431.1,293.3 430.3,292.3 430.2,291.3 431.5,281.3 430.3,270.3 431.2,268.7ZM447.2,268.6 448.2,269.1 448.7,270.3 450,281.3 448.5,292.3 447.2,293.5 446.2,293.3 445.4,291.3 446.7,281.3 445.5,270.3 446.2,268.8ZM462.2,268.8 463.4,270.3 464.8,280.3 463.2,290.3 462.2,291.2 461.2,290.9 460.7,289.3 461.9,280.3 460.7,270.3 461.2,269.1ZM279.2,271.2 279.2,274.3 278.2,275.3 277.8,274.3 278.2,271.6ZM476.2,270.9 476.7,276.3 477.2,276.8 477.4,279.3 477.2,283.4 476.2,288.2 475.1,287.3 476.6,279.3 475.3,271.3ZM311.2,290.9 312.2,292.3 312.2,295.2 311.2,297.9 310.2,298.5 309.2,297.4 309,294.3 310.2,291.3ZM324.2,290.6 325.2,290.9 325.7,292.3 325.8,295.3 325.1,297.3 324.2,298.3 323.2,298.4 322.2,296.3 322.3,294.3 323.2,291.5ZM339.2,290.5 340.2,292 340.3,295.3 339.2,298 338.2,298.5 336.9,297.3 336.7,294.3 337.2,292 338.2,290.6ZM353.2,291.1 354.2,292.9 354.2,294.9 353.2,297.5 352.2,297.9 351.1,296.3 351.2,293.3 352.2,291.3ZM378.2,298.3 379.2,300.1 379.2,301.8 378.2,304.3 377.2,304.8 376.2,303.6 376.2,300.3 377.2,298.4ZM392.2,298.4 393.2,299.1 393.6,301.3 393.2,303.3 392.2,304.6 391.2,304.4 390.4,302.3 391,299.3ZM406.2,298.4 407.2,298.5 407.8,301.3 407.2,304 406.2,304.8 405.2,304.2 404.7,302.3 405.2,299.6ZM420.2,300.1 420.5,301.3 420.2,302.8 419.5,302.3 419.4,301.3ZM464.2,329.2 465.2,329.4 465.9,330.3 466.3,332.3 465.4,335.3 464.2,335.9 463.2,334.9 462.8,332.3 463.2,330.1ZM478.2,329.2 479.5,330.3 480,332.3 479.7,334.3 478.2,335.8 477.2,335.1 476.7,332.3 477.2,329.9ZM475.2,352.9 476.2,352.8 476.7,353.3 477.5,355.3 477.2,357.9 476.2,359.1 475.2,359 474.1,357.3 474.2,354.4ZM490.2,352.3 491.4,353.3 492,356.3 491.2,359 490.2,359.7 489.2,359.4 488.4,358.3 488,356.3 488.7,353.3Z"/><path fill="#8080ff" fill-rule="evenodd" d="M377.2,259.4 378.1,260.3 378.1,261.3 374.2,274.7 367.2,294.6 366.2,295.4 366.2,292.3 368.2,283.5 375.2,260 376.2,259.2ZM362.2,260.4 363.5,261.3 363.5,264.3 360.2,279.5 359.2,282.5 358.2,283.3 357.8,280.3 358.9,270.3 360.4,262.3 361.2,260.7ZM390.2,261 391.1,262.3 388.2,273.3 383.2,287.4 382.2,288 384.1,276.3 388.1,262.3 388.7,261.3ZM403.2,261.4 403.5,263.3 401.2,275.1 399.2,280 399.2,275.2 401.2,263.7 402.2,261.3ZM321.2,266.2 322.2,266.6 323,268.3 322.9,273.3 321.2,279 320.2,280 319.2,280.3 318.2,279.8 317.4,278.3 317.6,273.3 319.2,267.5 320.2,266.5ZM308.2,267 309.3,269.3 308.6,275.3 307.2,278.8 306.2,279.6 305.2,279.6 304.2,278.6 303.9,277.3 304.2,272 305.2,268.6 306.2,267.3 307.2,266.8ZM335.2,266.4 336.2,267.2 336.6,268.3 336.6,273.3 335.2,278.5 334.2,279.8 333.2,280.3 332.2,280.1 331.2,278.7 331.2,273.3 332.4,268.3 333.2,267 334.2,266.3ZM348.2,266.7 349.2,266.8 350.2,268.1 350.6,272.3 349.2,278 348.2,279.4 347.2,279.9 346.2,279.6 345.3,278.3 345,275.3 346.2,268.9ZM432.2,269.2 433.2,271.6 434.4,281.3 433.2,290.4 432.2,292.7 431.2,292.5 430.8,291.3 432.1,281.3 430.9,270.3 431.2,269.5ZM447.2,269.2 448.2,270.5 449.5,281.3 448.2,291.3 447.2,292.8 446.2,292.4 446,291.3 447.2,281.3 446,270.3ZM293.2,269.8 293.8,271.3 293.5,274.3 292.2,276.6 291.2,276.6 290.5,274.3 290.8,272.3 292.2,269.8ZM462.2,269.8 463.2,272.9 464.2,280.3 463.2,287.4 462.2,290.4 461.4,289.3 462.7,280.3 461.6,270.3ZM311.2,292.1 311.5,295.3 311.2,296.4 310.2,297.2 309.7,296.3 309.5,294.3 310.2,292.3ZM324.2,291.8 325.2,292.9 325.3,294.3 324.2,297.1 323.2,297 322.8,295.3 323.2,292.8ZM339.2,291.9 339.7,293.3 339.6,295.3 339.2,296.6 338.2,297.3 337.4,296.3 337.2,294.2 338.2,291.9ZM353.2,293 353.3,295.3 352.2,296.2 352.1,293.3ZM378.2,299.8 378.4,302.3 377.2,303.4 376.8,302.3 377.2,299.9ZM392.2,299.9 392.8,301.3 392.2,303.1 391.2,302.4 391.1,301.3ZM406.2,299.8 407.2,300.3 407.2,302.3 406.2,303.5 405.6,301.3ZM464.2,330.2 465.2,330.7 465.6,332.3 465.2,334.3 464.2,334.8 463.2,332.3ZM478.2,330.2 479.3,332.3 479.2,333.3 478.2,334.7 477.2,333.8 477.1,332.3 477.2,331.2ZM490.2,353.3 491.2,354.3 491.5,356.3 491.2,357.7 490.2,358.7 489.2,358.4 488.5,356.3 488.9,354.3ZM475.2,354 476.2,354 476.8,355.3 476.2,358 475.2,357.9 474.7,355.3Z"/><path fill="#6a6aff" fill-rule="evenodd" d="M377.2,259.9 377.6,261.3 374.2,273.4 370.2,285.3 368.2,289.8 368.2,286 371.2,274.2 375.2,261.1 376.2,259.8ZM362.2,260.8 363.2,261.3 363.3,264.3 361.2,274.8 359.2,280.8 358.6,278.3 359.1,271.3 361.2,261.3ZM390.2,261.6 390.5,263.3 388.2,271.6 384.2,282.3 384.2,278.5 388.2,263.5 389.2,261.6ZM321.2,266.8 322.2,267.3 322.6,268.3 322.7,273.3 321.2,278.4 320.2,279.4 319.2,279.6 317.8,278.3 317.8,273.3 319.2,268.1 320.2,267.1ZM335.2,266.9 336.2,268 336.5,269.3 336.4,273.3 335.2,277.9 334.2,279.2 333.2,279.6 332.2,279.3 331.2,277.4 331.6,272.3 332.2,269.5 333.2,267.7 334.2,266.9ZM307.2,267.5 308.2,267.8 308.9,269.3 308.6,274.3 307.2,278.1 306.2,278.8 305.2,278.8 304.2,277.3 304.2,273.2 305.2,269.4 306.2,268ZM349.2,267.5 350.3,269.3 350.2,274.3 349.2,277.4 348.2,278.7 347.2,279.2 346.2,278.8 345.4,277.3 345.6,272.3 346.2,269.8 347.2,268.1 348.2,267.4ZM292.2,271.3 293.1,272.3 292.2,275.1 291.3,274.3 291.3,273.3ZM490.2,354.4 490.8,356.3 490.2,357.6 489.1,356.3 489.2,355.1Z"/><path fill="#5555ff" fill-rule="evenodd" d="M362.2,261.3 363.1,262.3 361.2,273.5 360.2,276.5 359.5,276.3 359.2,275.3 361.2,262.5ZM376.2,260.5 377.2,261.3 372.2,278.3 370.2,282.9 370.1,280.3 371.2,276ZM307.2,268.2 308.5,269.3 308.7,272.3 308.2,275.4 307.2,277.4 306.2,278.1 305.2,277.9 304.8,277.3 304.3,274.3 305.2,270.2 306.2,268.7ZM321.2,267.4 322.2,268.1 322.6,269.3 322.4,274.3 321.2,277.8 320.2,278.8 319.2,279 317.9,277.3 318.1,272.3 319.2,268.8 320.2,267.7ZM335.2,267.6 336.3,269.3 336.2,273.9 335.2,277.3 334.2,278.6 333.2,279 332.2,278.5 331.6,277.3 331.8,272.3 332.2,270.2 333.2,268.3 334.2,267.5ZM349.2,268.1 350.2,270.1 350.2,273.3 349.2,276.8 348.2,278.1 347.2,278.5 346.2,277.9 345.6,276.3 345.8,272.3 347.2,268.8 348.2,268Z"/><path fill="#4040ff" fill-rule="evenodd" d="M362.2,262.3 362.2,265.3 361.9,264.3ZM361.2,265.8 361.2,270.9 360.8,270.3ZM321.2,268.1 322.3,269.3 322.2,274.3 321.2,277.2 320.2,278.2 319.2,278.3 318,276.3 318.2,272.6 319.2,269.4 320.2,268.3ZM335.2,268.2 336.2,270 336.1,273.3 335.2,276.7 334.2,278 333.2,278.4 332.2,277.7 331.7,276.3 332.1,271.3 333.2,268.9 334.2,268.1ZM307.2,268.9 308.4,270.3 308.4,273.3 307.2,276.7 306.2,277.4 305.2,277 304.9,276.3 304.8,273.3 305.6,270.3ZM348.2,268.7 349.5,269.3 350,272.3 349.2,276.1 348.2,277.5 347.2,277.8 346,276.3 345.9,273.3 346.8,270.3Z"/><path fill="#2b2bff" fill-rule="evenodd" d="M321.2,268.7 322.2,270.1 322.2,273.5 321.2,276.6 320.2,277.6 319.2,277.6 318.2,275.5 318.3,273.3 319.2,270.1 320.2,268.9ZM335.2,268.9 336,271.3 335.7,274.3 335,276.3 334.2,277.4 333.2,277.8 332,276.3 332.2,271.9 333.2,269.6 334.2,268.7ZM307.2,269.7 308.2,271.3 308.1,273.3 307.2,275.9 306.2,276.7 305.2,275.9 305,273.3 306.1,270.3ZM348.2,269.4 349.2,269.7 349.6,273.3 348.5,276.3 347.2,277 346.2,275.5 346.2,273.3 347.2,270.3Z"/><path fill="#1515ff" fill-rule="evenodd" d="M321.2,269.4 322.1,271.3 321.2,275.9 320.2,277 319.2,276.9 318.5,275.3 318.8,272.3 320.2,269.5ZM334.2,269.3 335.2,269.6 335.5,270.3 335.6,273.3 334.6,276.3 333.2,277.1 332.2,275.5 332.2,273.2 333.2,270.3ZM348.2,270.1 349.2,270.8 349.4,273.3 348.2,276 347.2,276.2 346.6,273.3 347.2,271.1ZM307.2,270.7 307.7,273.3 307.2,275 306.2,275.8 305.4,274.3 306.2,271.1Z"/><path fill="#0000ff" fill-rule="evenodd" d="M321.2,270.1 321.7,273.3 321.2,275.2 320.2,276.4 319.2,276.1 318.9,273.3 319.2,271.7 320.1,270.3ZM334.2,270 335.2,270.5 335.4,273.3 334.2,276.2 333.2,276.4 332.6,275.3 332.5,273.3 333.2,271ZM348.2,271 349,272.3 348.2,275.1 347.2,275 347.2,272.3ZM306.2,274.4 306.2,272.4 307.2,272.4 307.2,273.3Z"/></g><path fill="none" stroke="#2a2a2a" stroke-width="0.45" d="M367,259.3 368.2,258.4 369.2,258.4 370.5,259.3 370.9,260.3 370.9,261.3 366.6,278.3 361.2,296.4 360,299.3 359.2,299.9 358.2,300 357.2,299.3 357,298.3 357.2,296.5 359.4,287.3 360.8,284.3 361.6,281.3M381,259.3 382.2,258.6 383.2,258.8 384.2,259.3 384.9,260.3 384.9,261.3 382.2,271.2 376.2,290.7 374.9,293.3 374.2,293.8 373.2,293.7 372.3,292.3 373.2,287.6M353.7,260.3 355.2,259.8 356.5,260.3 357.3,261.3 357.4,263.3 356.1,271.3 354.2,279.3 353.2,280.3 352.2,280.4 351.3,279.3 352.1,273.3 352.5,263.3 353,261.3M396,260.3 397.2,260.2 398.2,260.9 398.3,263.3 395.5,276.3 393.6,281.3 391.2,290.1 390.2,290.5 389.2,289.7 388.9,288.3 390.7,278.3 394.8,261.3M409.8,260.3 411.2,260.7 411.7,261.3 411.9,262.3 410.2,277.3 409.2,280.7 407.2,284.9 406.6,283.3 406.5,280.3 408,263.3 408.4,261.3 409.2,260.5M423,262.3 424.2,262 425.5,263.3 425.6,266.3 426.4,269.3 427.7,279.3 426.2,290.9 425.4,292.3 424.2,292.8 423.2,292.3 422.2,290.1 421.6,277.3 422.3,263.3M313.7,265.3 315.2,265.2 316.2,266 316.7,268.3 316.2,274.4 315.2,278.2 314.2,280.2 313.2,281.2 312.2,281.4 311.2,281 310.2,279.5 310.2,275.2 311.5,268.3 312.2,266.6M327,265.3 328.2,265.3 329.2,265.9 330,267.3 330.3,269.3 330.1,272.3 329.2,277.1 328.2,279.6 327.2,280.9 326.2,281.5 325.2,281.4 324,280.3 323.6,278.3 324.2,272.1 325.2,267.8 326.2,265.8M299.9,266.3 301.2,266.1 302.2,267 302.7,269.3 302,275.3 301.2,277.9 300.2,279.6 299.2,280.3 298.2,280.3 297.1,279.3 296.5,277.3 296.6,273.3 297.5,269.3 298.7,267.3M339.7,266.3 341.2,265.4 342.6,266.3 343.7,268.3 343.9,271.3 343.2,276 342.2,278.9 341.2,280.3 340.2,281 339.2,281.2 338,280.3 337.5,277.3 338.3,270.3 339.1,267.3M285,268.3 286.2,267.7 287.2,268.4 287.7,272.3 287.2,275.3 286.2,277.6 285.2,278.5 284.2,278.6 283.1,277.3 282.9,274.3 283.3,271.3 284.2,269.2M438.7,268.3 440.2,268.2 441.2,269.3 442.8,280.3 441.3,292.3 440.2,293.8 439.2,293.9 438,293.3 437.5,292.3 437.4,291.3 438.7,281.3 437.5,270.3 437.7,269.3M453.8,268.3 455.2,268.1 456.4,269.3 458,281.3 456.5,292.3 455.2,293.8 454.2,293.9 453.1,293.3 452.6,292.3 452.6,291.3 453.9,281.3 452.6,270.3 452.8,269.3M482.6,268.3 483.2,267.9 483.6,269.3 483.2,270.1M467.6,269.3 468.2,268.6 469.2,268.5 470.2,269.6 471.9,278.3 471.9,280.3 470.5,288.3 469.2,289.5 468.2,289.4 467.5,288.3 468.6,279.3 467.4,271.3M484.1,272.3 484.2,271.7 484.4,273.3 484.2,275.1 483.2,276.6 482.7,276.3 482.5,275.3 483.2,273.5M331,289.3 332.2,288.8 333.2,289.4 334.1,291.3 334.2,293.3 333.9,296.3 333.2,298.5 332.2,299.8 331.2,300.2 330.2,299.8 329.2,298.2 328.9,296.3 329.4,292.3 330.2,290.2M345.1,289.3 346.2,289.2 347.2,290.1 347.8,293.3 347.2,297.6 346.2,299.2 345.2,299.9 344.2,299.7 343.2,298.4 342.9,295.3 343.6,291.3 344.2,290M316.7,290.3 317.2,289.7 318.2,289.4 319.2,290.3 319.7,292.3 319.2,297 318.2,299.1 317.2,299.8 316.2,299.7 315.2,297.7 315,296.3 315.2,293.3 316,291.3M303.8,291.3 304.2,291 305.2,291.6 305.5,294.3 304.8,297.3 304.2,298.1 303.2,298.2 302.3,296.3 302.2,294.3 302.9,292.3M385,297.3 386.2,297.6 386.7,298.3 387.1,301.3 386.2,304.6 385.2,305.6 384.2,305.6 383.1,304.3 382.9,301.3 383.9,298.3M399.6,297.3 400.2,297.3 401.2,298.5 401.4,301.3 401.2,302.8 400.2,305.3 399.2,305.9 398.2,305.4 397.6,304.3 397.3,302.3 397.5,300.3 398.2,298.5 399.2,297.3M413.9,297.3 414.2,297.2 415.3,298.3 415.8,300.3 415.7,302.3 415.2,304.4 414.2,305.7 413.2,305.8 412,304.3 411.7,301.3 412.7,298.3M370.5,299.3 371.2,298.3 372.2,298.3 373,300.3 372.5,303.3 371.2,304.5 370.2,303.9 369.9,301.3M350.8,306.3 351.2,306.3 351.6,307.3 351.2,311.4 350.2,315.3 349.2,315.4 348.8,314.3 349.6,308.3 350.2,306.4M471.1,328.3 472.2,328.5 473,329.3 473.5,330.3 473.7,332.3 473.1,335.3 472.2,336.4 471.2,336.7 470.2,336 469.9,335.3 469.3,332.3 470,329.3M457.1,329.3 458.2,329.3 459,330.3 459.4,332.3 459.2,334.2 458.2,335.7 457.2,335.8 456.2,334.6 455.9,332.3 456.2,330.5M485.1,329.3 486.5,330.3 487,332.3 486.7,334.3 486.2,335.1 485.2,335.8 484.2,335.2 483.7,332.3 484.2,330M482.5,352.3 483.2,351.8 484.2,352 485.2,353.5 485.5,355.3 485.2,358.5 484.2,359.9 483.2,360.2 482.1,359.3 481.1,356.3 481.3,354.3M496,352.3 497.2,351.7 498.2,352.5 499.3,355.3 498.9,358.3 498.2,359.5 497.2,360.2 496.2,359.9 495.7,359.3 494.9,357.3 495,354.3M468,354.3 468.2,353.8 469.2,353.4 470.2,354.7 470.2,357.2 469.2,358.5 468.2,358.2 467.6,356.3"/><path fill="none" stroke="#2a2a2a" stroke-width="0.45" stroke-dasharray="1.6 0.9" d="M375.2,259 374.3,260.3 365.2,292.5 364.7,295.3 365.2,296.5 366.2,296.9 367.4,296.3 369.2,292 378.5,261.3 378.6,260.3 377.9,259.3 376.2,258.7M361.2,260 360,261.3 357.4,277.3 356.9,283.3 357.2,283.8 358.2,284.4 359.2,283.7 360.2,280.9 362.2,273.1 364,263.3 363.9,261.3 363.2,260.3 362.2,259.9M388.2,260.9 387.2,263.1 383.7,275.3 381.1,286.3 380.8,289.3 381.2,290.2 382.2,290.6 383.2,290 384.2,287.6 385.9,281.3 389.2,272.2 391.6,263.3 391.6,261.3 391.2,260.8 390.2,260.3 389.2,260.4M401.2,261.2 398.2,276.3 397.2,284.3 397,287.3 397.2,287.8 398.2,288 400.5,279.3 402.3,274.3 404.4,263.3 404.3,261.3 403.2,260.4 402.2,260.5M417.2,263.8 416.2,265.3 415.1,275.3 415.2,278.8 416.2,280.3 417.2,278.1 419.1,265.3 418.8,264.3 418.2,263.8M321.2,265.3 320.2,265.4 319.2,266.4 318.2,269 317.2,274.3 316.9,278.3 317.2,279.9 318.2,281.1 319.2,281.4 320.2,281 321.5,279.3 322.2,277.5 323.2,272.5 323.2,266.8 322.2,265.6M306.2,266.1 305.2,267.3 304.5,269.3 303.5,275.3 303.6,279.3 304.2,280.2 305.2,280.8 306.2,280.7 307.2,279.8 308.2,277.8 309.2,274.3 309.6,270.3 309.2,266.6 308.2,265.7 307.2,265.6M333.2,265.9 332.2,267.5 331.5,270.3 330.6,277.3 331.2,280.4 332.2,281.3 333.2,281.3 334.2,280.7 335.2,279.3 336,277.3 337.1,270.3 337,268.3 336.2,266.3 335.2,265.5 334.2,265.4M347.2,266.3 346.2,267.6 345.6,269.3 344.6,276.3 344.7,278.3 345.2,280 346.2,280.9 347.2,280.9 348.2,280.5 349.2,279 350.2,276.3 351,271.3 350.9,269.3 350.2,267.1 349.2,265.9 348.2,265.7M292.2,267.9 291.2,268.9 290.5,270.3 289.9,273.3 290,277.3 291.2,278.7 292.2,278.4 293.2,277.3 294.4,273.3 294.6,271.3 294.2,268.8 293.2,267.7M432.2,268.3 431.2,268.4 430.3,269.3 430.1,270.3 431.3,281.3 430,291.3 430,292.3 430.7,293.3 432.2,293.7 433.2,293 433.6,292.3 435.2,281.3 433.8,270.3 433.2,268.9M447.2,268.2 446.2,268.4 445.4,269.3 445.2,270.3 446.4,281.3 445.2,291.3 445.2,292.3 445.8,293.3 447.2,293.8 448.2,293.3 448.7,292.3 450.3,281.3 448.9,270.3 448.2,268.7M461.2,268.7 460.4,270.3 461.6,280.3 460.4,289.3 460.5,290.3 461.1,291.3 462.2,291.5 463.5,290.3 465.1,280.3 463.3,269.3 462.2,268.5M475.2,269.3 474.7,270.3 476,279.3 474.7,287.3 475.2,288.7 476.2,288.8 477.2,286.1 477.9,279.3 476.2,269.7M279.2,270 278.2,270.4 277.1,273.3 277.2,275.5 278.2,276.5 279.2,275.6 279.9,273.3 280,271.3M324.2,290.1 323.1,291.3 322.1,294.3 322.2,297.6 323.2,299 324.2,298.9 325.2,297.8 326.2,294.3 325.8,291.3 325.2,290.2M338.2,290.1 337.2,291.3 336.4,295.3 337,298.3 338.2,299.1 339.2,298.6 340.2,296.7 340.5,293.3 340.2,291 339.2,289.9M310.2,290.9 309.2,292.5 308.7,295.3 309.2,298.1 310.2,299.1 311.2,298.5 311.9,297.3 312.5,293.3 312.2,291.2 311.2,290.3M352.2,290.7 351.2,292.1 350.7,295.3 351.2,297.9 352.2,298.6 353.2,298.2 354.2,296.3 354.6,293.3 354.1,291.3 353.2,290.4M377.2,297.8 376.2,299.4 375.8,302.3 376.2,304.6 377.2,305.4 378.2,304.9 378.7,304.3 379.6,301.3 379.4,299.3 378.9,298.3 378.2,297.6M392.2,297.7 391.2,298.4 390.2,300.8 390.2,303.3 391.2,305.1 392.2,305.2 393.2,304.1 393.9,301.3 393.2,298.3M406.2,297.7 404.9,299.3 404.4,302.3 404.8,304.3 405.2,304.9 406.2,305.4 407.2,304.6 408,301.3 407.2,297.8M420.2,299 419.2,299.8 418.8,302.3 419.2,303.7 420.2,303.9 421.2,301.3 421.1,300.3M358.2,307.2 358.2,309.7M464.2,328.7 463.2,329.5 462.6,332.3 463.1,335.3 464.2,336.4 465.2,336.1 465.9,335.3 466.3,334.3 466.6,332.3 466.3,330.3 465.8,329.3 465.2,328.8M478.2,328.7 477.2,329.4 476.5,332.3 477.1,335.3 478.2,336.3 479.6,335.3 480.4,332.3 480,330.3 479.3,329.3M492.2,331.2 491.3,332.3 491.5,333.3 492.2,333.7 492.6,332.3M476.2,352.3 475.2,352.4 474.2,353.6 473.8,356.3 474.2,358.4 475.2,359.6 476.2,359.7 477.2,358.7 477.8,356.3 477.3,353.3M489.2,352.1 488,354.3 487.9,357.3 488.7,359.3 489.2,359.9 490.2,360.2 491.2,359.5 491.8,358.3 492.2,355.2 491.2,352.5 490.2,351.7"/><path fill="none" stroke="#2a2a2a" stroke-width="0.45" d="M369,260.3 369.3,260.3 369.5,261.3 369.2,263.1 365.2,277.9 363.2,283.7 362.9,283.3 363.2,279.2 368.1,261.3M354.6,262.3 355.2,261.3 356.2,261.9 356.2,264.1 355.2,270 354.2,273.2 353.2,273.5 353.2,269.6M382.1,262.3 382.2,264M381.2,265.3 381.2,267.6M313.1,268.3 314.2,267.7 315.2,268.2 315.7,269.3 315.9,271.3 315.2,275.8 314.2,277.8 313.2,278.6 312.2,278.6 311.2,277.3 311,275.3 311.6,271.3 312.2,269.4M326.4,268.3 327.2,267.6 328.2,267.6 329.2,268.8 329.5,271.3 329.2,274.3 328.2,277.3 327.2,278.6 326.2,278.9 325.1,278.3 324.7,277.3 324.5,275.3 325.2,270.5M340.6,268.3 341.2,268 342.2,268.4 343,270.3 343,272.3 342.2,276.2 341.2,277.8 340.2,278.4 339.2,278.1 338.7,277.3 338.4,275.3 339.2,270.1M380.1,269.3 380.2,268.6 380.4,269.3 380.2,271.3M299,270.3 300.2,269.4 301.2,270 301.5,271.3 301.2,274.6 300.2,276.5 299.2,277 298.2,276 297.9,274.3 298.2,272.2M379.1,272.3 379.2,272 379.4,272.3 379.2,274.7 379,274.3M378.1,276.3 378.2,275.3 378.4,276.3 378.2,277.5M331.1,293.3 332.2,293.1 332.4,294.3 332.2,295.5 331.2,296.1 330.9,295.3"/><path fill="none" stroke="#2a2a2a" stroke-width="0.45" stroke-dasharray="1.6 0.9" d="M362.2,261.8 361.2,263.8 360.2,269.2 359.8,273.3 360.2,275.2 361.2,272.5 362.7,263.3 362.7,262.3M376.2,261.7 376.2,263.2M375.2,264.6 375.2,266.7M320.2,268 319.2,269.1 317.9,274.3 318.1,277.3 319.2,278.6 320.2,278.5 321.2,277.5 322.2,274.8 322.6,272.3 322.2,268.5 321.2,267.7M334.2,267.8 333.2,268.6 332.2,270.6 331.6,274.3 331.8,277.3 332.2,278.1 333.2,278.7 334.2,278.3 335.2,277 336.3,272.3 336.2,269.3 335.2,267.9M374.2,267.7 374.2,270.3M306.2,269.1 305,271.3 304.5,275.3 305.2,277.5 306.2,277.8 307.2,277.1 308.2,275 308.6,271.3 308.2,269.2 307.2,268.6M347.2,269.2 346.2,271.3 345.7,275.3 346.2,277.4 347.2,278.1 348.2,277.8 349.2,276.4 350,273.3 350.2,271.3 349.2,268.5 348.2,268.4M373.2,270.9 372.9,273.3 373.2,273.7 373.4,271.3M372.2,274.1 371.9,276.3 372.2,277 372.5,274.3M371.2,277.3 371.2,279.4"/>
</g>
<rect x="270.20" y="258.30" width="229.60" height="111.70" fill="none" stroke="#c8c8c8" stroke-width="0.7"/>
<rect x="270.20" y="258.30" width="24.5" height="12" fill="#fff"/>
<text x="272.10" y="268.00" font-size="7.1" font-weight="bold" fill="#1a1a1a">(f): E6</text>
<text x="270.20" y="379.90" font-size="7" fill="#262626" text-anchor="middle">18/Apr/19</text>
<text x="293.10" y="379.90" font-size="7" fill="#262626" text-anchor="middle">21</text>
<text x="316.00" y="379.90" font-size="7" fill="#262626" text-anchor="middle">23</text>
<text x="338.90" y="379.90" font-size="7" fill="#262626" text-anchor="middle">25</text>
<text x="361.80" y="379.90" font-size="7" fill="#262626" text-anchor="middle">27</text>
<text x="384.70" y="379.90" font-size="7" fill="#262626" text-anchor="middle">29</text>
<text x="407.60" y="379.90" font-size="7" fill="#262626" text-anchor="middle">May/1</text>
<text x="430.50" y="379.90" font-size="7" fill="#262626" text-anchor="middle">3</text>
<text x="453.40" y="379.90" font-size="7" fill="#262626" text-anchor="middle">5</text>
<text x="476.30" y="379.90" font-size="7" fill="#262626" text-anchor="middle">7</text>
<text transform="translate(11.3 64.70) rotate(-90)" font-size="7.8" font-weight="bold" fill="#1a1a1a" text-anchor="middle">Depth(m)</text>
<text transform="translate(11.3 189.70) rotate(-90)" font-size="7.8" font-weight="bold" fill="#1a1a1a" text-anchor="middle">Depth(m)</text>
<text transform="translate(11.3 314.70) rotate(-90)" font-size="7.8" font-weight="bold" fill="#1a1a1a" text-anchor="middle">Depth(m)</text>
<text x="144.1" y="391.3" font-size="8.2" font-weight="bold" fill="#1a1a1a" text-anchor="middle">Time</text>
<text x="385.2" y="391.3" font-size="8.2" font-weight="bold" fill="#1a1a1a" text-anchor="middle">Time</text>
<text x="392" y="7.6" font-size="7" fill="#262626" text-anchor="middle">Nesat</text>
<rect x="385" y="7.6" width="9" height="1.6" fill="#000"/>
<rect x="505" y="90.3" width="9" height="198.2" fill="url(#cb)" stroke="#c8c8c8" stroke-width="0.5"/>
<line x1="512.5" y1="90.30" x2="514" y2="90.30" stroke="#444" stroke-width="0.5"/>
<text x="516.3" y="92.80" font-size="7" fill="#262626">0.15</text>
<line x1="512.5" y1="123.33" x2="514" y2="123.33" stroke="#444" stroke-width="0.5"/>
<text x="516.3" y="125.83" font-size="7" fill="#262626">0.10</text>
<line x1="512.5" y1="156.36" x2="514" y2="156.36" stroke="#444" stroke-width="0.5"/>
<text x="516.3" y="158.86" font-size="7" fill="#262626">0.05</text>
<line x1="512.5" y1="189.39" x2="514" y2="189.39" stroke="#444" stroke-width="0.5"/>
<text x="516.3" y="191.89" font-size="7" fill="#262626">0</text>
<line x1="512.5" y1="222.42" x2="514" y2="222.42" stroke="#444" stroke-width="0.5"/>
<text x="516.3" y="224.92" font-size="7" fill="#262626">−0.05</text>
<line x1="512.5" y1="255.45" x2="514" y2="255.45" stroke="#444" stroke-width="0.5"/>
<text x="516.3" y="257.95" font-size="7" fill="#262626">−0.10</text>
<line x1="512.5" y1="288.48" x2="514" y2="288.48" stroke="#444" stroke-width="0.5"/>
<text x="516.3" y="290.98" font-size="7" fill="#262626">−0.15</text>
<text transform="translate(546.5 187) rotate(-90)" font-size="7" font-weight="bold" fill="#1a1a1a" text-anchor="middle">Near-inertial currents(m/s)</text>
</svg></body></html>
